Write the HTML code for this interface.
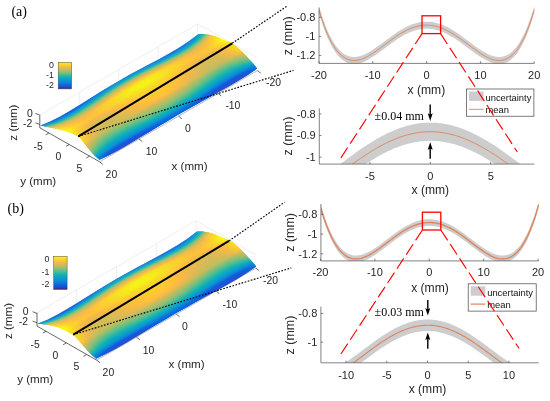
<!DOCTYPE html>
<html lang="en"><head><meta charset="utf-8"><title>Figure</title>
<style>html,body{margin:0;padding:0;background:#fff}svg{display:block}</style></head><body>
<svg width="550" height="401" viewBox="0 0 550 401">
<rect width="550" height="401" fill="#fff"/>
<line x1="39.8" y1="115.1" x2="197.7" y2="23.9" stroke="#e6e6e6" stroke-width="0.7"/>
<line x1="39.8" y1="127.8" x2="197.7" y2="36.6" stroke="#e6e6e6" stroke-width="0.7"/>
<line x1="197.7" y1="36.6" x2="197.7" y2="23.9" stroke="#e6e6e6" stroke-width="0.7"/>
<line x1="197.7" y1="23.9" x2="257.5" y2="57.9" stroke="#e6e6e6" stroke-width="0.7"/>
<line x1="197.7" y1="36.6" x2="257.5" y2="70.6" stroke="#e6e6e6" stroke-width="0.7"/>
<line x1="79.28" y1="105" x2="79.28" y2="92.3" stroke="#e6e6e6" stroke-width="0.7"/>
<line x1="118.75" y1="82.2" x2="118.75" y2="69.5" stroke="#e6e6e6" stroke-width="0.7"/>
<line x1="158.23" y1="59.4" x2="158.23" y2="46.7" stroke="#e6e6e6" stroke-width="0.7"/>
<line x1="39.8" y1="127.8" x2="39.8" y2="115.1" stroke="#262626" stroke-width="0.7"/>
<line x1="39.8" y1="127.8" x2="99.6" y2="161.8" stroke="#262626" stroke-width="0.7"/>
<line x1="99.6" y1="161.8" x2="257.5" y2="70.6" stroke="#8c8c8c" stroke-width="0.6"/>
<line x1="39.8" y1="115.1" x2="35.4" y2="113.4" stroke="#262626" stroke-width="0.7"/>
<line x1="39.8" y1="124.5" x2="35.4" y2="122.8" stroke="#262626" stroke-width="0.7"/>
<line x1="48.84" y1="132.94" x2="45.64" y2="134.84" stroke="#262626" stroke-width="0.7"/>
<line x1="69.19" y1="144.51" x2="65.99" y2="146.41" stroke="#262626" stroke-width="0.7"/>
<line x1="89.55" y1="156.08" x2="86.35" y2="157.98" stroke="#262626" stroke-width="0.7"/>
<line x1="99.6" y1="161.8" x2="102.9" y2="164.4" stroke="#262626" stroke-width="0.7"/>
<line x1="139.07" y1="139" x2="142.38" y2="141.6" stroke="#262626" stroke-width="0.7"/>
<line x1="178.55" y1="116.2" x2="181.85" y2="118.8" stroke="#262626" stroke-width="0.7"/>
<line x1="218.03" y1="93.4" x2="221.33" y2="96" stroke="#262626" stroke-width="0.7"/>
<line x1="257.5" y1="70.6" x2="260.8" y2="73.2" stroke="#262626" stroke-width="0.7"/>
<defs><linearGradient id="sa0" gradientUnits="userSpaceOnUse" x1="40.4" y1="125.6" x2="198.3" y2="34.3"><stop offset="0" stop-color="#118dd2"/><stop offset="0.05" stop-color="#0971de"/><stop offset="0.1" stop-color="#095fdf"/><stop offset="0.15" stop-color="#1b55d7"/><stop offset="0.2" stop-color="#1459da"/><stop offset="0.25" stop-color="#0363e1"/><stop offset="0.3" stop-color="#046ce0"/><stop offset="0.35" stop-color="#0c74dd"/><stop offset="0.4" stop-color="#117bd9"/><stop offset="0.45" stop-color="#137fd7"/><stop offset="0.5" stop-color="#1480d6"/><stop offset="0.55" stop-color="#137fd6"/><stop offset="0.6" stop-color="#127cd8"/><stop offset="0.65" stop-color="#0e76dc"/><stop offset="0.7" stop-color="#076fdf"/><stop offset="0.75" stop-color="#0268e1"/><stop offset="0.8" stop-color="#0760e0"/><stop offset="0.85" stop-color="#0a5fdf"/><stop offset="0.9" stop-color="#0267e1"/><stop offset="0.95" stop-color="#0e77db"/><stop offset="1" stop-color="#0b95d2"/></linearGradient><linearGradient id="sa1" gradientUnits="userSpaceOnUse" x1="41" y1="125.7" x2="198.9" y2="34.2"><stop offset="0" stop-color="#0f8fd2"/><stop offset="0.05" stop-color="#0b73dd"/><stop offset="0.1" stop-color="#0363e1"/><stop offset="0.15" stop-color="#115bdd"/><stop offset="0.2" stop-color="#0b5edf"/><stop offset="0.25" stop-color="#0267e1"/><stop offset="0.3" stop-color="#076fdf"/><stop offset="0.35" stop-color="#0e77db"/><stop offset="0.4" stop-color="#137dd8"/><stop offset="0.45" stop-color="#1482d5"/><stop offset="0.5" stop-color="#1483d4"/><stop offset="0.55" stop-color="#1482d5"/><stop offset="0.6" stop-color="#137fd7"/><stop offset="0.65" stop-color="#1079da"/><stop offset="0.7" stop-color="#0a73de"/><stop offset="0.75" stop-color="#036ce0"/><stop offset="0.8" stop-color="#0266e1"/><stop offset="0.85" stop-color="#0365e1"/><stop offset="0.9" stop-color="#036ce0"/><stop offset="0.95" stop-color="#117ad9"/><stop offset="1" stop-color="#0899d1"/></linearGradient><linearGradient id="sa2" gradientUnits="userSpaceOnUse" x1="41.7" y1="125.8" x2="199.5" y2="34.2"><stop offset="0" stop-color="#0c94d2"/><stop offset="0.05" stop-color="#0f77db"/><stop offset="0.1" stop-color="#0268e1"/><stop offset="0.15" stop-color="#0562e0"/><stop offset="0.2" stop-color="#0364e1"/><stop offset="0.25" stop-color="#036be0"/><stop offset="0.3" stop-color="#0b73dd"/><stop offset="0.35" stop-color="#117bd9"/><stop offset="0.4" stop-color="#1481d6"/><stop offset="0.45" stop-color="#1486d4"/><stop offset="0.5" stop-color="#1388d3"/><stop offset="0.55" stop-color="#1487d3"/><stop offset="0.6" stop-color="#1483d5"/><stop offset="0.65" stop-color="#137dd8"/><stop offset="0.7" stop-color="#0e76db"/><stop offset="0.75" stop-color="#0770df"/><stop offset="0.8" stop-color="#036be1"/><stop offset="0.85" stop-color="#026ae1"/><stop offset="0.9" stop-color="#0770df"/><stop offset="0.95" stop-color="#137ed7"/><stop offset="1" stop-color="#079ecf"/></linearGradient><linearGradient id="sa3" gradientUnits="userSpaceOnUse" x1="42.3" y1="125.9" x2="200.2" y2="34.1"><stop offset="0" stop-color="#089ad0"/><stop offset="0.05" stop-color="#127cd8"/><stop offset="0.1" stop-color="#056ee0"/><stop offset="0.15" stop-color="#0268e1"/><stop offset="0.2" stop-color="#036ae1"/><stop offset="0.25" stop-color="#0870df"/><stop offset="0.3" stop-color="#0f78db"/><stop offset="0.35" stop-color="#137fd7"/><stop offset="0.4" stop-color="#1486d4"/><stop offset="0.45" stop-color="#128bd2"/><stop offset="0.5" stop-color="#118dd2"/><stop offset="0.55" stop-color="#118cd2"/><stop offset="0.6" stop-color="#1388d3"/><stop offset="0.65" stop-color="#1482d5"/><stop offset="0.7" stop-color="#117bd9"/><stop offset="0.75" stop-color="#0c74dd"/><stop offset="0.8" stop-color="#0770df"/><stop offset="0.85" stop-color="#066fdf"/><stop offset="0.9" stop-color="#0c74dd"/><stop offset="0.95" stop-color="#1483d5"/><stop offset="1" stop-color="#06a2cc"/></linearGradient><linearGradient id="sa4" gradientUnits="userSpaceOnUse" x1="42.9" y1="126.1" x2="200.8" y2="34.1"><stop offset="0" stop-color="#06a0cd"/><stop offset="0.05" stop-color="#1481d5"/><stop offset="0.1" stop-color="#0b74dd"/><stop offset="0.15" stop-color="#066fdf"/><stop offset="0.2" stop-color="#0870df"/><stop offset="0.25" stop-color="#0e76dc"/><stop offset="0.3" stop-color="#137dd8"/><stop offset="0.35" stop-color="#1485d4"/><stop offset="0.4" stop-color="#118cd2"/><stop offset="0.45" stop-color="#0d92d2"/><stop offset="0.5" stop-color="#0c94d2"/><stop offset="0.55" stop-color="#0d93d2"/><stop offset="0.6" stop-color="#108ed2"/><stop offset="0.65" stop-color="#1487d3"/><stop offset="0.7" stop-color="#1480d6"/><stop offset="0.75" stop-color="#1079da"/><stop offset="0.8" stop-color="#0c74dd"/><stop offset="0.85" stop-color="#0b74dd"/><stop offset="0.9" stop-color="#1079da"/><stop offset="0.95" stop-color="#1388d3"/><stop offset="1" stop-color="#06a5c8"/></linearGradient><linearGradient id="sa5" gradientUnits="userSpaceOnUse" x1="43.5" y1="126.2" x2="201.4" y2="34.1"><stop offset="0" stop-color="#06a7c5"/><stop offset="0.05" stop-color="#118cd2"/><stop offset="0.1" stop-color="#127dd8"/><stop offset="0.15" stop-color="#0f78db"/><stop offset="0.2" stop-color="#1079da"/><stop offset="0.25" stop-color="#137ed7"/><stop offset="0.3" stop-color="#1485d4"/><stop offset="0.35" stop-color="#108ed2"/><stop offset="0.4" stop-color="#0a96d1"/><stop offset="0.45" stop-color="#079bd0"/><stop offset="0.5" stop-color="#079dcf"/><stop offset="0.55" stop-color="#079bd0"/><stop offset="0.6" stop-color="#0a97d1"/><stop offset="0.65" stop-color="#108fd2"/><stop offset="0.7" stop-color="#1486d3"/><stop offset="0.75" stop-color="#137fd7"/><stop offset="0.8" stop-color="#117ad9"/><stop offset="0.85" stop-color="#1079da"/><stop offset="0.9" stop-color="#137ed7"/><stop offset="0.95" stop-color="#108ed2"/><stop offset="1" stop-color="#07a9c3"/></linearGradient><linearGradient id="sa6" gradientUnits="userSpaceOnUse" x1="44.1" y1="126.3" x2="202" y2="34.1"><stop offset="0" stop-color="#10afb8"/><stop offset="0.05" stop-color="#089ad1"/><stop offset="0.1" stop-color="#1388d3"/><stop offset="0.15" stop-color="#1482d5"/><stop offset="0.2" stop-color="#1483d5"/><stop offset="0.25" stop-color="#1388d3"/><stop offset="0.3" stop-color="#0e91d2"/><stop offset="0.35" stop-color="#089ad1"/><stop offset="0.4" stop-color="#06a0cd"/><stop offset="0.45" stop-color="#06a3ca"/><stop offset="0.5" stop-color="#06a4c9"/><stop offset="0.55" stop-color="#06a3cb"/><stop offset="0.6" stop-color="#069fce"/><stop offset="0.65" stop-color="#0998d1"/><stop offset="0.7" stop-color="#108fd2"/><stop offset="0.75" stop-color="#1486d4"/><stop offset="0.8" stop-color="#1481d6"/><stop offset="0.85" stop-color="#137fd7"/><stop offset="0.9" stop-color="#1484d4"/><stop offset="0.95" stop-color="#0b95d1"/><stop offset="1" stop-color="#0bacbd"/></linearGradient><linearGradient id="sa7" gradientUnits="userSpaceOnUse" x1="44.8" y1="126.4" x2="202.6" y2="34.1"><stop offset="0" stop-color="#24b5aa"/><stop offset="0.05" stop-color="#06a4ca"/><stop offset="0.1" stop-color="#0c94d2"/><stop offset="0.15" stop-color="#118dd2"/><stop offset="0.2" stop-color="#108ed2"/><stop offset="0.25" stop-color="#0c94d2"/><stop offset="0.3" stop-color="#079cd0"/><stop offset="0.35" stop-color="#06a2cb"/><stop offset="0.4" stop-color="#06a7c6"/><stop offset="0.45" stop-color="#07a9c2"/><stop offset="0.5" stop-color="#07aac1"/><stop offset="0.55" stop-color="#06a9c3"/><stop offset="0.6" stop-color="#06a5c8"/><stop offset="0.65" stop-color="#06a0cd"/><stop offset="0.7" stop-color="#0998d1"/><stop offset="0.75" stop-color="#108ed2"/><stop offset="0.8" stop-color="#1388d3"/><stop offset="0.85" stop-color="#1486d4"/><stop offset="0.9" stop-color="#128bd2"/><stop offset="0.95" stop-color="#079cd0"/><stop offset="1" stop-color="#13b0b6"/></linearGradient><linearGradient id="sa8" gradientUnits="userSpaceOnUse" x1="45.4" y1="126.6" x2="203.2" y2="34.1"><stop offset="0" stop-color="#38b99d"/><stop offset="0.05" stop-color="#07aac1"/><stop offset="0.1" stop-color="#069ece"/><stop offset="0.15" stop-color="#0998d1"/><stop offset="0.2" stop-color="#0899d1"/><stop offset="0.25" stop-color="#079ecf"/><stop offset="0.3" stop-color="#06a3ca"/><stop offset="0.35" stop-color="#06a8c4"/><stop offset="0.4" stop-color="#0aacbe"/><stop offset="0.45" stop-color="#0eaeba"/><stop offset="0.5" stop-color="#0faeb9"/><stop offset="0.55" stop-color="#0dadbb"/><stop offset="0.6" stop-color="#08aac0"/><stop offset="0.65" stop-color="#06a6c7"/><stop offset="0.7" stop-color="#069fce"/><stop offset="0.75" stop-color="#0a97d1"/><stop offset="0.8" stop-color="#0f90d2"/><stop offset="0.85" stop-color="#118dd2"/><stop offset="0.9" stop-color="#0c93d2"/><stop offset="0.95" stop-color="#06a2cb"/><stop offset="1" stop-color="#1eb3ae"/></linearGradient><linearGradient id="sa9" gradientUnits="userSpaceOnUse" x1="46" y1="126.7" x2="203.9" y2="34.1"><stop offset="0" stop-color="#50bc90"/><stop offset="0.05" stop-color="#11afb7"/><stop offset="0.1" stop-color="#06a5c8"/><stop offset="0.15" stop-color="#06a1cd"/><stop offset="0.2" stop-color="#06a1cc"/><stop offset="0.25" stop-color="#06a5c9"/><stop offset="0.3" stop-color="#07a9c2"/><stop offset="0.35" stop-color="#0dadbb"/><stop offset="0.4" stop-color="#15b0b4"/><stop offset="0.45" stop-color="#1bb2b0"/><stop offset="0.5" stop-color="#1cb3af"/><stop offset="0.55" stop-color="#18b2b2"/><stop offset="0.6" stop-color="#10afb8"/><stop offset="0.65" stop-color="#08abc0"/><stop offset="0.7" stop-color="#06a5c8"/><stop offset="0.75" stop-color="#069fce"/><stop offset="0.8" stop-color="#0998d1"/><stop offset="0.85" stop-color="#0a96d1"/><stop offset="0.9" stop-color="#079bd0"/><stop offset="0.95" stop-color="#06a7c5"/><stop offset="1" stop-color="#2bb6a5"/></linearGradient><linearGradient id="sa10" gradientUnits="userSpaceOnUse" x1="46.6" y1="126.8" x2="204.5" y2="34.1"><stop offset="0" stop-color="#69be84"/><stop offset="0.05" stop-color="#20b4ad"/><stop offset="0.1" stop-color="#09abbf"/><stop offset="0.15" stop-color="#06a7c6"/><stop offset="0.2" stop-color="#06a7c5"/><stop offset="0.25" stop-color="#08aac0"/><stop offset="0.3" stop-color="#0faeb9"/><stop offset="0.35" stop-color="#1ab2b1"/><stop offset="0.4" stop-color="#24b5aa"/><stop offset="0.45" stop-color="#2bb6a5"/><stop offset="0.5" stop-color="#2db7a5"/><stop offset="0.55" stop-color="#28b6a8"/><stop offset="0.6" stop-color="#1eb3ae"/><stop offset="0.65" stop-color="#11afb7"/><stop offset="0.7" stop-color="#08aac0"/><stop offset="0.75" stop-color="#06a5c8"/><stop offset="0.8" stop-color="#06a0cd"/><stop offset="0.85" stop-color="#069ece"/><stop offset="0.9" stop-color="#06a2cb"/><stop offset="0.95" stop-color="#0aacbe"/><stop offset="1" stop-color="#3cba9b"/></linearGradient><linearGradient id="sa11" gradientUnits="userSpaceOnUse" x1="47.2" y1="126.9" x2="205.1" y2="34.2"><stop offset="0" stop-color="#81bf7a"/><stop offset="0.05" stop-color="#32b8a1"/><stop offset="0.1" stop-color="#13b0b6"/><stop offset="0.15" stop-color="#0bacbd"/><stop offset="0.2" stop-color="#0badbc"/><stop offset="0.25" stop-color="#11afb7"/><stop offset="0.3" stop-color="#1cb3af"/><stop offset="0.35" stop-color="#2ab6a6"/><stop offset="0.4" stop-color="#36b99f"/><stop offset="0.45" stop-color="#3fba9a"/><stop offset="0.5" stop-color="#40ba99"/><stop offset="0.55" stop-color="#3bb99c"/><stop offset="0.6" stop-color="#2fb7a3"/><stop offset="0.65" stop-color="#20b4ad"/><stop offset="0.7" stop-color="#11afb7"/><stop offset="0.75" stop-color="#08aac0"/><stop offset="0.8" stop-color="#06a6c7"/><stop offset="0.85" stop-color="#06a5c9"/><stop offset="0.9" stop-color="#06a8c4"/><stop offset="0.95" stop-color="#15b0b5"/><stop offset="1" stop-color="#52bd8f"/></linearGradient><linearGradient id="sa12" gradientUnits="userSpaceOnUse" x1="47.9" y1="127.1" x2="205.7" y2="34.3"><stop offset="0" stop-color="#95bf71"/><stop offset="0.05" stop-color="#47bb95"/><stop offset="0.1" stop-color="#22b4ac"/><stop offset="0.15" stop-color="#16b1b3"/><stop offset="0.2" stop-color="#17b1b3"/><stop offset="0.25" stop-color="#20b4ad"/><stop offset="0.3" stop-color="#2db7a4"/><stop offset="0.35" stop-color="#3dba9b"/><stop offset="0.4" stop-color="#4cbc92"/><stop offset="0.45" stop-color="#55bd8d"/><stop offset="0.5" stop-color="#57bd8c"/><stop offset="0.55" stop-color="#51bc90"/><stop offset="0.6" stop-color="#43bb97"/><stop offset="0.65" stop-color="#31b8a2"/><stop offset="0.7" stop-color="#20b4ad"/><stop offset="0.75" stop-color="#11afb7"/><stop offset="0.8" stop-color="#09acbe"/><stop offset="0.85" stop-color="#08aac0"/><stop offset="0.9" stop-color="#0cadbb"/><stop offset="0.95" stop-color="#24b5aa"/><stop offset="1" stop-color="#6abe83"/></linearGradient><linearGradient id="sa13" gradientUnits="userSpaceOnUse" x1="48.5" y1="127.2" x2="206.3" y2="34.3"><stop offset="0" stop-color="#a7be6a"/><stop offset="0.05" stop-color="#5dbe8a"/><stop offset="0.1" stop-color="#33b8a1"/><stop offset="0.15" stop-color="#25b5a9"/><stop offset="0.2" stop-color="#26b5a9"/><stop offset="0.25" stop-color="#31b8a2"/><stop offset="0.3" stop-color="#40ba99"/><stop offset="0.35" stop-color="#53bd8f"/><stop offset="0.4" stop-color="#63be87"/><stop offset="0.45" stop-color="#6dbf82"/><stop offset="0.5" stop-color="#6fbf81"/><stop offset="0.55" stop-color="#68be84"/><stop offset="0.6" stop-color="#5abd8b"/><stop offset="0.65" stop-color="#46bb96"/><stop offset="0.7" stop-color="#31b8a2"/><stop offset="0.75" stop-color="#20b4ad"/><stop offset="0.8" stop-color="#15b0b5"/><stop offset="0.85" stop-color="#12afb7"/><stop offset="0.9" stop-color="#19b2b1"/><stop offset="0.95" stop-color="#37b99e"/><stop offset="1" stop-color="#82bf79"/></linearGradient><linearGradient id="sa14" gradientUnits="userSpaceOnUse" x1="49.1" y1="127.3" x2="206.9" y2="34.4"><stop offset="0" stop-color="#b8bd63"/><stop offset="0.05" stop-color="#73bf7f"/><stop offset="0.1" stop-color="#46bb95"/><stop offset="0.15" stop-color="#37b99e"/><stop offset="0.2" stop-color="#38b99e"/><stop offset="0.25" stop-color="#44bb97"/><stop offset="0.3" stop-color="#56bd8d"/><stop offset="0.35" stop-color="#6abe84"/><stop offset="0.4" stop-color="#79bf7d"/><stop offset="0.45" stop-color="#83bf79"/><stop offset="0.5" stop-color="#85bf78"/><stop offset="0.55" stop-color="#7fbf7a"/><stop offset="0.6" stop-color="#71bf80"/><stop offset="0.65" stop-color="#5dbe8a"/><stop offset="0.7" stop-color="#45bb96"/><stop offset="0.75" stop-color="#31b8a2"/><stop offset="0.8" stop-color="#24b5aa"/><stop offset="0.85" stop-color="#20b4ad"/><stop offset="0.9" stop-color="#2ab6a7"/><stop offset="0.95" stop-color="#4dbc92"/><stop offset="1" stop-color="#97bf71"/></linearGradient><linearGradient id="sa15" gradientUnits="userSpaceOnUse" x1="49.7" y1="127.5" x2="207.6" y2="34.5"><stop offset="0" stop-color="#c8bc5d"/><stop offset="0.05" stop-color="#87bf77"/><stop offset="0.1" stop-color="#5bbd8a"/><stop offset="0.15" stop-color="#4abc93"/><stop offset="0.2" stop-color="#4cbc92"/><stop offset="0.25" stop-color="#59bd8b"/><stop offset="0.3" stop-color="#6cbf82"/><stop offset="0.35" stop-color="#7fbf7a"/><stop offset="0.4" stop-color="#8ebf74"/><stop offset="0.45" stop-color="#96bf71"/><stop offset="0.5" stop-color="#98bf70"/><stop offset="0.55" stop-color="#93bf72"/><stop offset="0.6" stop-color="#87bf77"/><stop offset="0.65" stop-color="#74bf7f"/><stop offset="0.7" stop-color="#5cbe8a"/><stop offset="0.75" stop-color="#46bb96"/><stop offset="0.8" stop-color="#36b99f"/><stop offset="0.85" stop-color="#32b8a2"/><stop offset="0.9" stop-color="#3dba9b"/><stop offset="0.95" stop-color="#64be86"/><stop offset="1" stop-color="#aabe69"/></linearGradient><linearGradient id="sa16" gradientUnits="userSpaceOnUse" x1="50.3" y1="127.6" x2="208.2" y2="34.6"><stop offset="0" stop-color="#d6ba57"/><stop offset="0.05" stop-color="#99bf70"/><stop offset="0.1" stop-color="#70bf81"/><stop offset="0.15" stop-color="#5fbe89"/><stop offset="0.2" stop-color="#61be88"/><stop offset="0.25" stop-color="#6fbf81"/><stop offset="0.3" stop-color="#81bf79"/><stop offset="0.35" stop-color="#93bf72"/><stop offset="0.4" stop-color="#a0be6d"/><stop offset="0.45" stop-color="#a8be69"/><stop offset="0.5" stop-color="#aabe69"/><stop offset="0.55" stop-color="#a6be6b"/><stop offset="0.6" stop-color="#9bbf6f"/><stop offset="0.65" stop-color="#89bf76"/><stop offset="0.7" stop-color="#73bf7f"/><stop offset="0.75" stop-color="#5dbe8a"/><stop offset="0.8" stop-color="#4cbc92"/><stop offset="0.85" stop-color="#46bb95"/><stop offset="0.9" stop-color="#54bd8e"/><stop offset="0.95" stop-color="#7cbf7b"/><stop offset="1" stop-color="#bdbd61"/></linearGradient><linearGradient id="sa17" gradientUnits="userSpaceOnUse" x1="51" y1="127.7" x2="208.8" y2="34.7"><stop offset="0" stop-color="#e3b951"/><stop offset="0.05" stop-color="#a9be69"/><stop offset="0.1" stop-color="#83bf79"/><stop offset="0.15" stop-color="#73bf7f"/><stop offset="0.2" stop-color="#75bf7e"/><stop offset="0.25" stop-color="#82bf79"/><stop offset="0.3" stop-color="#94bf72"/><stop offset="0.35" stop-color="#a4be6b"/><stop offset="0.4" stop-color="#b1bd66"/><stop offset="0.45" stop-color="#b9bd63"/><stop offset="0.5" stop-color="#bbbd62"/><stop offset="0.55" stop-color="#b6bd64"/><stop offset="0.6" stop-color="#acbe68"/><stop offset="0.65" stop-color="#9cbf6e"/><stop offset="0.7" stop-color="#89bf76"/><stop offset="0.75" stop-color="#74bf7f"/><stop offset="0.8" stop-color="#63be87"/><stop offset="0.85" stop-color="#5dbe89"/><stop offset="0.9" stop-color="#6bbf83"/><stop offset="0.95" stop-color="#92bf72"/><stop offset="1" stop-color="#cebb5a"/></linearGradient><linearGradient id="sa18" gradientUnits="userSpaceOnUse" x1="51.6" y1="127.8" x2="209.4" y2="34.9"><stop offset="0" stop-color="#efb94b"/><stop offset="0.05" stop-color="#b7bd64"/><stop offset="0.1" stop-color="#94bf72"/><stop offset="0.15" stop-color="#85bf78"/><stop offset="0.2" stop-color="#87bf77"/><stop offset="0.25" stop-color="#93bf72"/><stop offset="0.3" stop-color="#a4be6b"/><stop offset="0.35" stop-color="#b3bd65"/><stop offset="0.4" stop-color="#c0bc60"/><stop offset="0.45" stop-color="#c7bc5d"/><stop offset="0.5" stop-color="#c9bb5c"/><stop offset="0.55" stop-color="#c5bc5e"/><stop offset="0.6" stop-color="#bcbd62"/><stop offset="0.65" stop-color="#adbe68"/><stop offset="0.7" stop-color="#9bbf6f"/><stop offset="0.75" stop-color="#88bf77"/><stop offset="0.8" stop-color="#78bf7d"/><stop offset="0.85" stop-color="#73bf7f"/><stop offset="0.9" stop-color="#81bf7a"/><stop offset="0.95" stop-color="#a4be6b"/><stop offset="1" stop-color="#ddba54"/></linearGradient><linearGradient id="sa19" gradientUnits="userSpaceOnUse" x1="52.2" y1="128" x2="210" y2="35"><stop offset="0" stop-color="#fabb42"/><stop offset="0.05" stop-color="#c3bc5f"/><stop offset="0.1" stop-color="#a2be6c"/><stop offset="0.15" stop-color="#95bf71"/><stop offset="0.2" stop-color="#97bf71"/><stop offset="0.25" stop-color="#a2be6c"/><stop offset="0.3" stop-color="#b2bd66"/><stop offset="0.35" stop-color="#c1bc60"/><stop offset="0.4" stop-color="#cdbb5b"/><stop offset="0.45" stop-color="#d4bb58"/><stop offset="0.5" stop-color="#d7ba57"/><stop offset="0.55" stop-color="#d3bb58"/><stop offset="0.6" stop-color="#cabb5c"/><stop offset="0.65" stop-color="#bcbd62"/><stop offset="0.7" stop-color="#aabe69"/><stop offset="0.75" stop-color="#99bf70"/><stop offset="0.8" stop-color="#8abf76"/><stop offset="0.85" stop-color="#86bf77"/><stop offset="0.9" stop-color="#93bf72"/><stop offset="0.95" stop-color="#b4bd65"/><stop offset="1" stop-color="#ebb94d"/></linearGradient><linearGradient id="sa20" gradientUnits="userSpaceOnUse" x1="52.8" y1="128.1" x2="210.6" y2="35.1"><stop offset="0" stop-color="#fec139"/><stop offset="0.05" stop-color="#cfbb5a"/><stop offset="0.1" stop-color="#afbe67"/><stop offset="0.15" stop-color="#a2be6c"/><stop offset="0.2" stop-color="#a4be6b"/><stop offset="0.25" stop-color="#b0be67"/><stop offset="0.3" stop-color="#bebc61"/><stop offset="0.35" stop-color="#cdbb5b"/><stop offset="0.4" stop-color="#d9ba56"/><stop offset="0.45" stop-color="#e0ba52"/><stop offset="0.5" stop-color="#e3b951"/><stop offset="0.55" stop-color="#dfba53"/><stop offset="0.6" stop-color="#d6ba57"/><stop offset="0.65" stop-color="#c8bc5d"/><stop offset="0.7" stop-color="#b8bd63"/><stop offset="0.75" stop-color="#a7be6a"/><stop offset="0.8" stop-color="#9abf6f"/><stop offset="0.85" stop-color="#96bf71"/><stop offset="0.9" stop-color="#a2be6c"/><stop offset="0.95" stop-color="#c1bc5f"/><stop offset="1" stop-color="#f7ba45"/></linearGradient><linearGradient id="sa21" gradientUnits="userSpaceOnUse" x1="53.4" y1="128.2" x2="211.3" y2="35.3"><stop offset="0" stop-color="#fec535"/><stop offset="0.05" stop-color="#daba55"/><stop offset="0.1" stop-color="#bbbd62"/><stop offset="0.15" stop-color="#afbe67"/><stop offset="0.2" stop-color="#b1bd66"/><stop offset="0.25" stop-color="#bcbd62"/><stop offset="0.3" stop-color="#cabb5c"/><stop offset="0.35" stop-color="#d8ba56"/><stop offset="0.4" stop-color="#e4b950"/><stop offset="0.45" stop-color="#ecb94d"/><stop offset="0.5" stop-color="#eeb94b"/><stop offset="0.55" stop-color="#eab94d"/><stop offset="0.6" stop-color="#e1b952"/><stop offset="0.65" stop-color="#d4bb58"/><stop offset="0.7" stop-color="#c4bc5e"/><stop offset="0.75" stop-color="#b4bd65"/><stop offset="0.8" stop-color="#a8be6a"/><stop offset="0.85" stop-color="#a4be6b"/><stop offset="0.9" stop-color="#afbe67"/><stop offset="0.95" stop-color="#cebb5b"/><stop offset="1" stop-color="#febf3c"/></linearGradient><linearGradient id="sa22" gradientUnits="userSpaceOnUse" x1="54.1" y1="128.3" x2="211.9" y2="35.4"><stop offset="0" stop-color="#fec932"/><stop offset="0.05" stop-color="#e5b950"/><stop offset="0.1" stop-color="#c6bc5d"/><stop offset="0.15" stop-color="#bbbd62"/><stop offset="0.2" stop-color="#bdbd61"/><stop offset="0.25" stop-color="#c7bc5d"/><stop offset="0.3" stop-color="#d5ba57"/><stop offset="0.35" stop-color="#e3b951"/><stop offset="0.4" stop-color="#efb94b"/><stop offset="0.45" stop-color="#f6ba46"/><stop offset="0.5" stop-color="#f8ba44"/><stop offset="0.55" stop-color="#f5ba47"/><stop offset="0.6" stop-color="#ecb94c"/><stop offset="0.65" stop-color="#dfba53"/><stop offset="0.7" stop-color="#d0bb5a"/><stop offset="0.75" stop-color="#c0bc60"/><stop offset="0.8" stop-color="#b4bd65"/><stop offset="0.85" stop-color="#b0bd66"/><stop offset="0.9" stop-color="#bbbd62"/><stop offset="0.95" stop-color="#d9ba56"/><stop offset="1" stop-color="#fec734"/></linearGradient><linearGradient id="sa23" gradientUnits="userSpaceOnUse" x1="54.7" y1="128.5" x2="212.5" y2="35.6"><stop offset="0" stop-color="#fdcc2f"/><stop offset="0.05" stop-color="#ecb94c"/><stop offset="0.1" stop-color="#d1bb59"/><stop offset="0.15" stop-color="#c5bc5e"/><stop offset="0.2" stop-color="#c7bc5d"/><stop offset="0.25" stop-color="#d2bb59"/><stop offset="0.3" stop-color="#dfba53"/><stop offset="0.35" stop-color="#edb94c"/><stop offset="0.4" stop-color="#f8bb44"/><stop offset="0.45" stop-color="#fdbe3e"/><stop offset="0.5" stop-color="#febf3c"/><stop offset="0.55" stop-color="#fcbd3f"/><stop offset="0.6" stop-color="#f6ba46"/><stop offset="0.65" stop-color="#eab94e"/><stop offset="0.7" stop-color="#daba55"/><stop offset="0.75" stop-color="#cbbb5b"/><stop offset="0.8" stop-color="#c0bc60"/><stop offset="0.85" stop-color="#bcbd62"/><stop offset="0.9" stop-color="#c7bc5d"/><stop offset="0.95" stop-color="#e4b951"/><stop offset="1" stop-color="#fdcc2f"/></linearGradient><linearGradient id="sa24" gradientUnits="userSpaceOnUse" x1="55.3" y1="128.6" x2="213.1" y2="35.7"><stop offset="0" stop-color="#fbcf2d"/><stop offset="0.05" stop-color="#f1b94a"/><stop offset="0.1" stop-color="#dbba55"/><stop offset="0.15" stop-color="#cfbb5a"/><stop offset="0.2" stop-color="#d1bb59"/><stop offset="0.25" stop-color="#dcba54"/><stop offset="0.3" stop-color="#e9b94e"/><stop offset="0.35" stop-color="#f7ba45"/><stop offset="0.4" stop-color="#febf3c"/><stop offset="0.45" stop-color="#ffc436"/><stop offset="0.5" stop-color="#fec635"/><stop offset="0.55" stop-color="#ffc437"/><stop offset="0.6" stop-color="#fdbe3d"/><stop offset="0.65" stop-color="#f4ba47"/><stop offset="0.7" stop-color="#e5b950"/><stop offset="0.75" stop-color="#d6ba57"/><stop offset="0.8" stop-color="#cbbb5c"/><stop offset="0.85" stop-color="#c8bc5d"/><stop offset="0.9" stop-color="#d2bb59"/><stop offset="0.95" stop-color="#efb94b"/><stop offset="1" stop-color="#fbcf2d"/></linearGradient><linearGradient id="sa25" gradientUnits="userSpaceOnUse" x1="55.9" y1="128.7" x2="213.7" y2="35.9"><stop offset="0" stop-color="#fad22a"/><stop offset="0.05" stop-color="#f5ba46"/><stop offset="0.1" stop-color="#e2b952"/><stop offset="0.15" stop-color="#d9ba55"/><stop offset="0.2" stop-color="#dbba55"/><stop offset="0.25" stop-color="#e6b950"/><stop offset="0.3" stop-color="#f3ba48"/><stop offset="0.35" stop-color="#fdbe3d"/><stop offset="0.4" stop-color="#fec634"/><stop offset="0.45" stop-color="#fdcb30"/><stop offset="0.5" stop-color="#fccd2f"/><stop offset="0.55" stop-color="#fdcb30"/><stop offset="0.6" stop-color="#fec535"/><stop offset="0.65" stop-color="#fcbd3f"/><stop offset="0.7" stop-color="#f0b94a"/><stop offset="0.75" stop-color="#e2b952"/><stop offset="0.8" stop-color="#d7ba57"/><stop offset="0.85" stop-color="#d4bb58"/><stop offset="0.9" stop-color="#deba53"/><stop offset="0.95" stop-color="#f5ba46"/><stop offset="1" stop-color="#fad22a"/></linearGradient><linearGradient id="sa26" gradientUnits="userSpaceOnUse" x1="56.6" y1="128.9" x2="214.3" y2="36.1"><stop offset="0" stop-color="#f8d528"/><stop offset="0.05" stop-color="#f9bb43"/><stop offset="0.1" stop-color="#e7b94f"/><stop offset="0.15" stop-color="#e4b951"/><stop offset="0.2" stop-color="#e6b950"/><stop offset="0.25" stop-color="#f0b94a"/><stop offset="0.3" stop-color="#fbbd40"/><stop offset="0.35" stop-color="#fec535"/><stop offset="0.4" stop-color="#fccd2e"/><stop offset="0.45" stop-color="#fad22a"/><stop offset="0.5" stop-color="#f9d429"/><stop offset="0.55" stop-color="#fad22a"/><stop offset="0.6" stop-color="#fccc2f"/><stop offset="0.65" stop-color="#ffc436"/><stop offset="0.7" stop-color="#fabc42"/><stop offset="0.75" stop-color="#edb94c"/><stop offset="0.8" stop-color="#e2b951"/><stop offset="0.85" stop-color="#dfba53"/><stop offset="0.9" stop-color="#e7b94f"/><stop offset="0.95" stop-color="#f9bb43"/><stop offset="1" stop-color="#f8d528"/></linearGradient><linearGradient id="sa27" gradientUnits="userSpaceOnUse" x1="57.2" y1="129" x2="215" y2="36.3"><stop offset="0" stop-color="#f7d825"/><stop offset="0.05" stop-color="#fcbd3f"/><stop offset="0.1" stop-color="#ebb94d"/><stop offset="0.15" stop-color="#e9b94e"/><stop offset="0.2" stop-color="#f0b94a"/><stop offset="0.25" stop-color="#f9bb43"/><stop offset="0.3" stop-color="#ffc338"/><stop offset="0.35" stop-color="#fdcc2f"/><stop offset="0.4" stop-color="#f9d429"/><stop offset="0.45" stop-color="#f7d925"/><stop offset="0.5" stop-color="#f6db24"/><stop offset="0.55" stop-color="#f7d925"/><stop offset="0.6" stop-color="#f9d329"/><stop offset="0.65" stop-color="#fdcb30"/><stop offset="0.7" stop-color="#fec139"/><stop offset="0.75" stop-color="#f7ba45"/><stop offset="0.8" stop-color="#edb94c"/><stop offset="0.85" stop-color="#e9b94e"/><stop offset="0.9" stop-color="#ebb94d"/><stop offset="0.95" stop-color="#fcbd3f"/><stop offset="1" stop-color="#f7d825"/></linearGradient><linearGradient id="sa28" gradientUnits="userSpaceOnUse" x1="57.8" y1="129.2" x2="215.6" y2="36.5"><stop offset="0" stop-color="#f6dc23"/><stop offset="0.05" stop-color="#febf3c"/><stop offset="0.1" stop-color="#efb94b"/><stop offset="0.15" stop-color="#ecb94c"/><stop offset="0.2" stop-color="#f5ba46"/><stop offset="0.25" stop-color="#fec03b"/><stop offset="0.3" stop-color="#fec932"/><stop offset="0.35" stop-color="#fad22a"/><stop offset="0.4" stop-color="#f7da24"/><stop offset="0.45" stop-color="#f5e020"/><stop offset="0.5" stop-color="#f5e21f"/><stop offset="0.55" stop-color="#f5df20"/><stop offset="0.6" stop-color="#f7d925"/><stop offset="0.65" stop-color="#fbd12b"/><stop offset="0.7" stop-color="#fec734"/><stop offset="0.75" stop-color="#fdbe3e"/><stop offset="0.8" stop-color="#f5ba46"/><stop offset="0.85" stop-color="#ecb94c"/><stop offset="0.9" stop-color="#efb94b"/><stop offset="0.95" stop-color="#febf3c"/><stop offset="1" stop-color="#f6dc23"/></linearGradient><linearGradient id="sa29" gradientUnits="userSpaceOnUse" x1="58.4" y1="129.3" x2="216.2" y2="36.7"><stop offset="0" stop-color="#f5df21"/><stop offset="0.05" stop-color="#fec239"/><stop offset="0.1" stop-color="#f3b948"/><stop offset="0.15" stop-color="#f0b94a"/><stop offset="0.2" stop-color="#f8bb44"/><stop offset="0.25" stop-color="#ffc337"/><stop offset="0.3" stop-color="#fccd2e"/><stop offset="0.35" stop-color="#f8d627"/><stop offset="0.4" stop-color="#f5df21"/><stop offset="0.45" stop-color="#f5e51c"/><stop offset="0.5" stop-color="#f5e71b"/><stop offset="0.55" stop-color="#f5e41d"/><stop offset="0.6" stop-color="#f5de21"/><stop offset="0.65" stop-color="#f9d528"/><stop offset="0.7" stop-color="#fdcb30"/><stop offset="0.75" stop-color="#fec239"/><stop offset="0.8" stop-color="#f8bb44"/><stop offset="0.85" stop-color="#f0b94a"/><stop offset="0.9" stop-color="#f3b948"/><stop offset="0.95" stop-color="#fec239"/><stop offset="1" stop-color="#f5df21"/></linearGradient><linearGradient id="sa30" gradientUnits="userSpaceOnUse" x1="59" y1="129.5" x2="216.8" y2="37"><stop offset="0" stop-color="#f5e21f"/><stop offset="0.05" stop-color="#ffc536"/><stop offset="0.1" stop-color="#f6ba46"/><stop offset="0.15" stop-color="#f3ba48"/><stop offset="0.2" stop-color="#fabc41"/><stop offset="0.25" stop-color="#fec536"/><stop offset="0.3" stop-color="#fbd02c"/><stop offset="0.35" stop-color="#f7da25"/><stop offset="0.4" stop-color="#f5e31e"/><stop offset="0.45" stop-color="#f5e919"/><stop offset="0.5" stop-color="#f5eb18"/><stop offset="0.55" stop-color="#f5e91a"/><stop offset="0.6" stop-color="#f5e21f"/><stop offset="0.65" stop-color="#f7d925"/><stop offset="0.7" stop-color="#fbcf2d"/><stop offset="0.75" stop-color="#fec536"/><stop offset="0.8" stop-color="#fabc41"/><stop offset="0.85" stop-color="#f3ba48"/><stop offset="0.9" stop-color="#f6ba46"/><stop offset="0.95" stop-color="#ffc536"/><stop offset="1" stop-color="#f5e21f"/></linearGradient><linearGradient id="sa31" gradientUnits="userSpaceOnUse" x1="59.7" y1="129.6" x2="217.4" y2="37.2"><stop offset="0" stop-color="#f5e51d"/><stop offset="0.05" stop-color="#fec734"/><stop offset="0.1" stop-color="#f9bb43"/><stop offset="0.15" stop-color="#f6ba46"/><stop offset="0.2" stop-color="#fcbd3f"/><stop offset="0.25" stop-color="#fec634"/><stop offset="0.3" stop-color="#fad12b"/><stop offset="0.35" stop-color="#f6db23"/><stop offset="0.4" stop-color="#f5e51d"/><stop offset="0.45" stop-color="#f5ec18"/><stop offset="0.5" stop-color="#f5ee16"/><stop offset="0.55" stop-color="#f5ec18"/><stop offset="0.6" stop-color="#f5e51d"/><stop offset="0.65" stop-color="#f6db23"/><stop offset="0.7" stop-color="#fad12b"/><stop offset="0.75" stop-color="#fec634"/><stop offset="0.8" stop-color="#fcbd3f"/><stop offset="0.85" stop-color="#f6ba46"/><stop offset="0.9" stop-color="#f9bb43"/><stop offset="0.95" stop-color="#fec734"/><stop offset="1" stop-color="#f5e51d"/></linearGradient><linearGradient id="sa32" gradientUnits="userSpaceOnUse" x1="60.3" y1="129.8" x2="218" y2="37.4"><stop offset="0" stop-color="#f5e81a"/><stop offset="0.05" stop-color="#fec931"/><stop offset="0.1" stop-color="#fbbc40"/><stop offset="0.15" stop-color="#f9bb44"/><stop offset="0.2" stop-color="#fdbe3d"/><stop offset="0.25" stop-color="#fec833"/><stop offset="0.3" stop-color="#fad22a"/><stop offset="0.35" stop-color="#f6dd22"/><stop offset="0.4" stop-color="#f5e61b"/><stop offset="0.45" stop-color="#f5ee16"/><stop offset="0.5" stop-color="#f6f115"/><stop offset="0.55" stop-color="#f5ee16"/><stop offset="0.6" stop-color="#f5e71b"/><stop offset="0.65" stop-color="#f6de22"/><stop offset="0.7" stop-color="#fad32a"/><stop offset="0.75" stop-color="#fec833"/><stop offset="0.8" stop-color="#fdbe3d"/><stop offset="0.85" stop-color="#f9bb44"/><stop offset="0.9" stop-color="#fbbc40"/><stop offset="0.95" stop-color="#fec931"/><stop offset="1" stop-color="#f5e81a"/></linearGradient><linearGradient id="sa33" gradientUnits="userSpaceOnUse" x1="60.9" y1="129.9" x2="218.7" y2="37.7"><stop offset="0" stop-color="#f5eb18"/><stop offset="0.05" stop-color="#fdcb30"/><stop offset="0.1" stop-color="#fdbe3e"/><stop offset="0.15" stop-color="#fabc41"/><stop offset="0.2" stop-color="#fec03b"/><stop offset="0.25" stop-color="#fec932"/><stop offset="0.3" stop-color="#fad329"/><stop offset="0.35" stop-color="#f6dd22"/><stop offset="0.4" stop-color="#f5e81b"/><stop offset="0.45" stop-color="#f6ef15"/><stop offset="0.5" stop-color="#f6f213"/><stop offset="0.55" stop-color="#f6f015"/><stop offset="0.6" stop-color="#f5e81a"/><stop offset="0.65" stop-color="#f5de21"/><stop offset="0.7" stop-color="#f9d329"/><stop offset="0.75" stop-color="#fec932"/><stop offset="0.8" stop-color="#fec03b"/><stop offset="0.85" stop-color="#fabc41"/><stop offset="0.9" stop-color="#fdbe3e"/><stop offset="0.95" stop-color="#fdcb30"/><stop offset="1" stop-color="#f5eb18"/></linearGradient><linearGradient id="sa34" gradientUnits="userSpaceOnUse" x1="61.5" y1="130.1" x2="219.3" y2="38"><stop offset="0" stop-color="#f5ee16"/><stop offset="0.05" stop-color="#fccd2e"/><stop offset="0.1" stop-color="#febf3c"/><stop offset="0.15" stop-color="#fcbd3f"/><stop offset="0.2" stop-color="#fec13a"/><stop offset="0.25" stop-color="#fdca31"/><stop offset="0.3" stop-color="#f9d429"/><stop offset="0.35" stop-color="#f5de21"/><stop offset="0.4" stop-color="#f5e81a"/><stop offset="0.45" stop-color="#f6f015"/><stop offset="0.5" stop-color="#f6f213"/><stop offset="0.55" stop-color="#f6f015"/><stop offset="0.6" stop-color="#f5e81a"/><stop offset="0.65" stop-color="#f5de21"/><stop offset="0.7" stop-color="#f9d429"/><stop offset="0.75" stop-color="#fdca31"/><stop offset="0.8" stop-color="#fec13a"/><stop offset="0.85" stop-color="#fcbd3f"/><stop offset="0.9" stop-color="#febf3c"/><stop offset="0.95" stop-color="#fccd2e"/><stop offset="1" stop-color="#f5ee16"/></linearGradient><linearGradient id="sa35" gradientUnits="userSpaceOnUse" x1="62.1" y1="130.2" x2="219.9" y2="38.2"><stop offset="0" stop-color="#f6f114"/><stop offset="0.05" stop-color="#fbcf2c"/><stop offset="0.1" stop-color="#fec13a"/><stop offset="0.15" stop-color="#fdbe3e"/><stop offset="0.2" stop-color="#fec239"/><stop offset="0.25" stop-color="#fdca31"/><stop offset="0.3" stop-color="#f9d429"/><stop offset="0.35" stop-color="#f5de21"/><stop offset="0.4" stop-color="#f5e81a"/><stop offset="0.45" stop-color="#f6f015"/><stop offset="0.5" stop-color="#f6f213"/><stop offset="0.55" stop-color="#f6f015"/><stop offset="0.6" stop-color="#f5e81a"/><stop offset="0.65" stop-color="#f5de21"/><stop offset="0.7" stop-color="#f9d429"/><stop offset="0.75" stop-color="#fdca31"/><stop offset="0.8" stop-color="#fec239"/><stop offset="0.85" stop-color="#fdbe3e"/><stop offset="0.9" stop-color="#fec13a"/><stop offset="0.95" stop-color="#fbcf2c"/><stop offset="1" stop-color="#f6f114"/></linearGradient><linearGradient id="sa36" gradientUnits="userSpaceOnUse" x1="62.8" y1="130.4" x2="220.5" y2="38.5"><stop offset="0" stop-color="#f7f412"/><stop offset="0.05" stop-color="#fad12b"/><stop offset="0.1" stop-color="#ffc238"/><stop offset="0.15" stop-color="#febf3c"/><stop offset="0.2" stop-color="#ffc338"/><stop offset="0.25" stop-color="#fdca31"/><stop offset="0.3" stop-color="#f9d429"/><stop offset="0.35" stop-color="#f5de21"/><stop offset="0.4" stop-color="#f5e81a"/><stop offset="0.45" stop-color="#f6f015"/><stop offset="0.5" stop-color="#f6f213"/><stop offset="0.55" stop-color="#f6f015"/><stop offset="0.6" stop-color="#f5e81a"/><stop offset="0.65" stop-color="#f5de21"/><stop offset="0.7" stop-color="#f9d429"/><stop offset="0.75" stop-color="#fdcb30"/><stop offset="0.8" stop-color="#ffc338"/><stop offset="0.85" stop-color="#febf3c"/><stop offset="0.9" stop-color="#ffc238"/><stop offset="0.95" stop-color="#fad12b"/><stop offset="1" stop-color="#f7f412"/></linearGradient><linearGradient id="sa37" gradientUnits="userSpaceOnUse" x1="63.4" y1="130.6" x2="221.1" y2="38.7"><stop offset="0" stop-color="#f8f710"/><stop offset="0.05" stop-color="#fad32a"/><stop offset="0.1" stop-color="#ffc437"/><stop offset="0.15" stop-color="#fec03b"/><stop offset="0.2" stop-color="#ffc337"/><stop offset="0.25" stop-color="#fdcb30"/><stop offset="0.3" stop-color="#f9d429"/><stop offset="0.35" stop-color="#f5de21"/><stop offset="0.4" stop-color="#f5e81a"/><stop offset="0.45" stop-color="#f6f015"/><stop offset="0.5" stop-color="#f6f213"/><stop offset="0.55" stop-color="#f6f015"/><stop offset="0.6" stop-color="#f5e81a"/><stop offset="0.65" stop-color="#f5de21"/><stop offset="0.7" stop-color="#f9d429"/><stop offset="0.75" stop-color="#fdcb30"/><stop offset="0.8" stop-color="#ffc337"/><stop offset="0.85" stop-color="#fec03b"/><stop offset="0.9" stop-color="#ffc437"/><stop offset="0.95" stop-color="#fad32a"/><stop offset="1" stop-color="#f8f710"/></linearGradient><linearGradient id="sa38" gradientUnits="userSpaceOnUse" x1="64" y1="130.7" x2="221.7" y2="39"><stop offset="0" stop-color="#f9fa0e"/><stop offset="0.05" stop-color="#f9d429"/><stop offset="0.1" stop-color="#fec535"/><stop offset="0.15" stop-color="#fec13a"/><stop offset="0.2" stop-color="#ffc437"/><stop offset="0.25" stop-color="#fdcb30"/><stop offset="0.3" stop-color="#f9d429"/><stop offset="0.35" stop-color="#f5de21"/><stop offset="0.4" stop-color="#f5e81a"/><stop offset="0.45" stop-color="#f6f015"/><stop offset="0.5" stop-color="#f6f213"/><stop offset="0.55" stop-color="#f6f015"/><stop offset="0.6" stop-color="#f5e81a"/><stop offset="0.65" stop-color="#f5de21"/><stop offset="0.7" stop-color="#f9d429"/><stop offset="0.75" stop-color="#fdcb30"/><stop offset="0.8" stop-color="#ffc437"/><stop offset="0.85" stop-color="#fec13a"/><stop offset="0.9" stop-color="#fec535"/><stop offset="0.95" stop-color="#f9d429"/><stop offset="1" stop-color="#f9fa0e"/></linearGradient><linearGradient id="sa39" gradientUnits="userSpaceOnUse" x1="64.6" y1="130.9" x2="222.4" y2="39.3"><stop offset="0" stop-color="#f9fb0e"/><stop offset="0.05" stop-color="#f8d628"/><stop offset="0.1" stop-color="#fec634"/><stop offset="0.15" stop-color="#fec139"/><stop offset="0.2" stop-color="#ffc437"/><stop offset="0.25" stop-color="#fdca30"/><stop offset="0.3" stop-color="#f9d429"/><stop offset="0.35" stop-color="#f6de21"/><stop offset="0.4" stop-color="#f5e81a"/><stop offset="0.45" stop-color="#f6ef16"/><stop offset="0.5" stop-color="#f6f214"/><stop offset="0.55" stop-color="#f6ef16"/><stop offset="0.6" stop-color="#f5e81a"/><stop offset="0.65" stop-color="#f6de21"/><stop offset="0.7" stop-color="#f9d429"/><stop offset="0.75" stop-color="#fdca30"/><stop offset="0.8" stop-color="#ffc437"/><stop offset="0.85" stop-color="#fec139"/><stop offset="0.9" stop-color="#fec634"/><stop offset="0.95" stop-color="#f8d628"/><stop offset="1" stop-color="#f9fb0e"/></linearGradient><linearGradient id="sa40" gradientUnits="userSpaceOnUse" x1="65.2" y1="131.1" x2="223" y2="39.6"><stop offset="0" stop-color="#f9fb0e"/><stop offset="0.05" stop-color="#f8d727"/><stop offset="0.1" stop-color="#fec734"/><stop offset="0.15" stop-color="#fec13a"/><stop offset="0.2" stop-color="#ffc238"/><stop offset="0.25" stop-color="#fec931"/><stop offset="0.3" stop-color="#fad32a"/><stop offset="0.35" stop-color="#f6dd22"/><stop offset="0.4" stop-color="#f5e61b"/><stop offset="0.45" stop-color="#f5ed17"/><stop offset="0.5" stop-color="#f6f015"/><stop offset="0.55" stop-color="#f5ed17"/><stop offset="0.6" stop-color="#f5e61b"/><stop offset="0.65" stop-color="#f6dd22"/><stop offset="0.7" stop-color="#fad32a"/><stop offset="0.75" stop-color="#fec931"/><stop offset="0.8" stop-color="#ffc238"/><stop offset="0.85" stop-color="#fec13a"/><stop offset="0.9" stop-color="#fec734"/><stop offset="0.95" stop-color="#f8d727"/><stop offset="1" stop-color="#f9fb0e"/></linearGradient><linearGradient id="sa41" gradientUnits="userSpaceOnUse" x1="65.9" y1="131.3" x2="223.6" y2="39.8"><stop offset="0" stop-color="#f9fb0e"/><stop offset="0.05" stop-color="#f7d826"/><stop offset="0.1" stop-color="#fec634"/><stop offset="0.15" stop-color="#febf3c"/><stop offset="0.2" stop-color="#fec13a"/><stop offset="0.25" stop-color="#fec833"/><stop offset="0.3" stop-color="#fad12b"/><stop offset="0.35" stop-color="#f6db24"/><stop offset="0.4" stop-color="#f5e41d"/><stop offset="0.45" stop-color="#f5eb18"/><stop offset="0.5" stop-color="#f5ee16"/><stop offset="0.55" stop-color="#f5eb18"/><stop offset="0.6" stop-color="#f5e41d"/><stop offset="0.65" stop-color="#f6db24"/><stop offset="0.7" stop-color="#fad12b"/><stop offset="0.75" stop-color="#fec833"/><stop offset="0.8" stop-color="#fec13a"/><stop offset="0.85" stop-color="#febf3c"/><stop offset="0.9" stop-color="#fec634"/><stop offset="0.95" stop-color="#f7d826"/><stop offset="1" stop-color="#f9fb0e"/></linearGradient><linearGradient id="sa42" gradientUnits="userSpaceOnUse" x1="66.5" y1="131.5" x2="224.2" y2="40.1"><stop offset="0" stop-color="#f9fb0e"/><stop offset="0.05" stop-color="#f8d727"/><stop offset="0.1" stop-color="#ffc436"/><stop offset="0.15" stop-color="#fdbe3e"/><stop offset="0.2" stop-color="#febf3c"/><stop offset="0.25" stop-color="#fec635"/><stop offset="0.3" stop-color="#fbcf2d"/><stop offset="0.35" stop-color="#f7d925"/><stop offset="0.4" stop-color="#f5e21f"/><stop offset="0.45" stop-color="#f5e81a"/><stop offset="0.5" stop-color="#f5eb18"/><stop offset="0.55" stop-color="#f5e81a"/><stop offset="0.6" stop-color="#f5e21f"/><stop offset="0.65" stop-color="#f7d925"/><stop offset="0.7" stop-color="#fbcf2d"/><stop offset="0.75" stop-color="#fec635"/><stop offset="0.8" stop-color="#febf3c"/><stop offset="0.85" stop-color="#fdbe3e"/><stop offset="0.9" stop-color="#ffc436"/><stop offset="0.95" stop-color="#f8d727"/><stop offset="1" stop-color="#f9fb0e"/></linearGradient><linearGradient id="sa43" gradientUnits="userSpaceOnUse" x1="67.1" y1="131.7" x2="224.8" y2="40.3"><stop offset="0" stop-color="#f9fb0e"/><stop offset="0.05" stop-color="#f9d528"/><stop offset="0.1" stop-color="#fec239"/><stop offset="0.15" stop-color="#fabc41"/><stop offset="0.2" stop-color="#fcbd3f"/><stop offset="0.25" stop-color="#ffc337"/><stop offset="0.3" stop-color="#fccd2f"/><stop offset="0.35" stop-color="#f8d627"/><stop offset="0.4" stop-color="#f5df21"/><stop offset="0.45" stop-color="#f5e51c"/><stop offset="0.5" stop-color="#f5e81a"/><stop offset="0.55" stop-color="#f5e51c"/><stop offset="0.6" stop-color="#f5df21"/><stop offset="0.65" stop-color="#f8d627"/><stop offset="0.7" stop-color="#fccd2f"/><stop offset="0.75" stop-color="#ffc337"/><stop offset="0.8" stop-color="#fcbd3f"/><stop offset="0.85" stop-color="#fabc41"/><stop offset="0.9" stop-color="#fec239"/><stop offset="0.95" stop-color="#f9d528"/><stop offset="1" stop-color="#f9fb0e"/></linearGradient><linearGradient id="sa44" gradientUnits="userSpaceOnUse" x1="67.7" y1="131.9" x2="225.4" y2="40.6"><stop offset="0" stop-color="#f9fb0e"/><stop offset="0.05" stop-color="#fad22a"/><stop offset="0.1" stop-color="#febf3c"/><stop offset="0.15" stop-color="#f8ba44"/><stop offset="0.2" stop-color="#fabb42"/><stop offset="0.25" stop-color="#fec13a"/><stop offset="0.3" stop-color="#fdca31"/><stop offset="0.35" stop-color="#f9d429"/><stop offset="0.4" stop-color="#f6dc23"/><stop offset="0.45" stop-color="#f5e21e"/><stop offset="0.5" stop-color="#f5e41d"/><stop offset="0.55" stop-color="#f5e21e"/><stop offset="0.6" stop-color="#f6dc23"/><stop offset="0.65" stop-color="#f9d429"/><stop offset="0.7" stop-color="#fdca31"/><stop offset="0.75" stop-color="#fec13a"/><stop offset="0.8" stop-color="#fabb42"/><stop offset="0.85" stop-color="#f8ba44"/><stop offset="0.9" stop-color="#febf3c"/><stop offset="0.95" stop-color="#fad22a"/><stop offset="1" stop-color="#f9fb0e"/></linearGradient><linearGradient id="sa45" gradientUnits="userSpaceOnUse" x1="68.3" y1="132.1" x2="226.1" y2="40.8"><stop offset="0" stop-color="#f9fb0e"/><stop offset="0.05" stop-color="#fbd02c"/><stop offset="0.1" stop-color="#fcbd3f"/><stop offset="0.15" stop-color="#f4ba47"/><stop offset="0.2" stop-color="#f7ba45"/><stop offset="0.25" stop-color="#fdbe3d"/><stop offset="0.3" stop-color="#fec833"/><stop offset="0.35" stop-color="#fad12b"/><stop offset="0.4" stop-color="#f7d925"/><stop offset="0.45" stop-color="#f5df20"/><stop offset="0.5" stop-color="#f5e11f"/><stop offset="0.55" stop-color="#f5df20"/><stop offset="0.6" stop-color="#f7d925"/><stop offset="0.65" stop-color="#fad12b"/><stop offset="0.7" stop-color="#fec833"/><stop offset="0.75" stop-color="#fdbe3d"/><stop offset="0.8" stop-color="#f7ba45"/><stop offset="0.85" stop-color="#f4ba47"/><stop offset="0.9" stop-color="#fcbd3f"/><stop offset="0.95" stop-color="#fbd02c"/><stop offset="1" stop-color="#f9fb0e"/></linearGradient><linearGradient id="sa46" gradientUnits="userSpaceOnUse" x1="69" y1="132.4" x2="226.7" y2="41.1"><stop offset="0" stop-color="#f8f810"/><stop offset="0.05" stop-color="#fccd2e"/><stop offset="0.1" stop-color="#fabc42"/><stop offset="0.15" stop-color="#f1b94a"/><stop offset="0.2" stop-color="#f3ba48"/><stop offset="0.25" stop-color="#fbbd40"/><stop offset="0.3" stop-color="#fec535"/><stop offset="0.35" stop-color="#fbcf2d"/><stop offset="0.4" stop-color="#f8d727"/><stop offset="0.45" stop-color="#f6dd22"/><stop offset="0.5" stop-color="#f5df21"/><stop offset="0.55" stop-color="#f6dd22"/><stop offset="0.6" stop-color="#f8d727"/><stop offset="0.65" stop-color="#fbcf2d"/><stop offset="0.7" stop-color="#fec535"/><stop offset="0.75" stop-color="#fbbd40"/><stop offset="0.8" stop-color="#f3ba48"/><stop offset="0.85" stop-color="#f1b94a"/><stop offset="0.9" stop-color="#fabc42"/><stop offset="0.95" stop-color="#fccd2e"/><stop offset="1" stop-color="#f8f810"/></linearGradient><linearGradient id="sa47" gradientUnits="userSpaceOnUse" x1="69.6" y1="132.6" x2="227.3" y2="41.3"><stop offset="0" stop-color="#f7f512"/><stop offset="0.05" stop-color="#fdcb30"/><stop offset="0.1" stop-color="#f7ba45"/><stop offset="0.15" stop-color="#eeb94b"/><stop offset="0.2" stop-color="#f0b94a"/><stop offset="0.25" stop-color="#f9bb43"/><stop offset="0.3" stop-color="#ffc337"/><stop offset="0.35" stop-color="#fccd2f"/><stop offset="0.4" stop-color="#f9d528"/><stop offset="0.45" stop-color="#f7da24"/><stop offset="0.5" stop-color="#f6dc23"/><stop offset="0.55" stop-color="#f7da24"/><stop offset="0.6" stop-color="#f9d528"/><stop offset="0.65" stop-color="#fccd2f"/><stop offset="0.7" stop-color="#ffc337"/><stop offset="0.75" stop-color="#f9bb43"/><stop offset="0.8" stop-color="#f0b94a"/><stop offset="0.85" stop-color="#eeb94b"/><stop offset="0.9" stop-color="#f7ba45"/><stop offset="0.95" stop-color="#fdcb30"/><stop offset="1" stop-color="#f7f512"/></linearGradient><linearGradient id="sa48" gradientUnits="userSpaceOnUse" x1="70.2" y1="132.8" x2="227.9" y2="41.5"><stop offset="0" stop-color="#f6f214"/><stop offset="0.05" stop-color="#fec932"/><stop offset="0.1" stop-color="#f5ba47"/><stop offset="0.15" stop-color="#ebb94d"/><stop offset="0.2" stop-color="#edb94c"/><stop offset="0.25" stop-color="#f7ba45"/><stop offset="0.3" stop-color="#fec13a"/><stop offset="0.35" stop-color="#fdcb30"/><stop offset="0.4" stop-color="#fad32a"/><stop offset="0.45" stop-color="#f7d826"/><stop offset="0.5" stop-color="#f7da24"/><stop offset="0.55" stop-color="#f7d826"/><stop offset="0.6" stop-color="#fad32a"/><stop offset="0.65" stop-color="#fdcb30"/><stop offset="0.7" stop-color="#fec13a"/><stop offset="0.75" stop-color="#f7ba45"/><stop offset="0.8" stop-color="#edb94c"/><stop offset="0.85" stop-color="#ebb94d"/><stop offset="0.9" stop-color="#f5ba47"/><stop offset="0.95" stop-color="#fec932"/><stop offset="1" stop-color="#f6f214"/></linearGradient><linearGradient id="sa49" gradientUnits="userSpaceOnUse" x1="70.8" y1="133" x2="228.5" y2="41.7"><stop offset="0" stop-color="#f6ef16"/><stop offset="0.05" stop-color="#fec733"/><stop offset="0.1" stop-color="#f2b949"/><stop offset="0.15" stop-color="#e8b94f"/><stop offset="0.2" stop-color="#eab94d"/><stop offset="0.25" stop-color="#f4ba47"/><stop offset="0.3" stop-color="#febf3c"/><stop offset="0.35" stop-color="#fec932"/><stop offset="0.4" stop-color="#fbd12b"/><stop offset="0.45" stop-color="#f8d627"/><stop offset="0.5" stop-color="#f7d826"/><stop offset="0.55" stop-color="#f8d627"/><stop offset="0.6" stop-color="#fbd12b"/><stop offset="0.65" stop-color="#fec932"/><stop offset="0.7" stop-color="#febf3c"/><stop offset="0.75" stop-color="#f4ba47"/><stop offset="0.8" stop-color="#eab94d"/><stop offset="0.85" stop-color="#e8b94f"/><stop offset="0.9" stop-color="#f2b949"/><stop offset="0.95" stop-color="#fec733"/><stop offset="1" stop-color="#f6ef16"/></linearGradient><linearGradient id="sa50" gradientUnits="userSpaceOnUse" x1="71.5" y1="133.3" x2="229.1" y2="42"><stop offset="0" stop-color="#f5ec17"/><stop offset="0.05" stop-color="#fec535"/><stop offset="0.1" stop-color="#efb94b"/><stop offset="0.15" stop-color="#e5b950"/><stop offset="0.2" stop-color="#e7b94f"/><stop offset="0.25" stop-color="#f2b949"/><stop offset="0.3" stop-color="#fdbe3e"/><stop offset="0.35" stop-color="#fec734"/><stop offset="0.4" stop-color="#fbcf2d"/><stop offset="0.45" stop-color="#f9d429"/><stop offset="0.5" stop-color="#f8d627"/><stop offset="0.55" stop-color="#f9d429"/><stop offset="0.6" stop-color="#fbcf2d"/><stop offset="0.65" stop-color="#fec734"/><stop offset="0.7" stop-color="#fdbe3e"/><stop offset="0.75" stop-color="#f2b949"/><stop offset="0.8" stop-color="#e7b94f"/><stop offset="0.85" stop-color="#e5b950"/><stop offset="0.9" stop-color="#efb94b"/><stop offset="0.95" stop-color="#fec535"/><stop offset="1" stop-color="#f5ec17"/></linearGradient><linearGradient id="sa51" gradientUnits="userSpaceOnUse" x1="72.1" y1="133.5" x2="229.8" y2="42.2"><stop offset="0" stop-color="#f5ea19"/><stop offset="0.05" stop-color="#ffc337"/><stop offset="0.1" stop-color="#ecb94c"/><stop offset="0.15" stop-color="#e2b952"/><stop offset="0.2" stop-color="#e4b950"/><stop offset="0.25" stop-color="#efb94b"/><stop offset="0.3" stop-color="#fbbc41"/><stop offset="0.35" stop-color="#fec536"/><stop offset="0.4" stop-color="#fccd2e"/><stop offset="0.45" stop-color="#fad22a"/><stop offset="0.5" stop-color="#f9d429"/><stop offset="0.55" stop-color="#fad22a"/><stop offset="0.6" stop-color="#fccd2e"/><stop offset="0.65" stop-color="#fec536"/><stop offset="0.7" stop-color="#fbbc41"/><stop offset="0.75" stop-color="#efb94b"/><stop offset="0.8" stop-color="#e4b950"/><stop offset="0.85" stop-color="#e2b952"/><stop offset="0.9" stop-color="#ecb94c"/><stop offset="0.95" stop-color="#ffc337"/><stop offset="1" stop-color="#f5ea19"/></linearGradient><linearGradient id="sa52" gradientUnits="userSpaceOnUse" x1="72.7" y1="133.8" x2="230.4" y2="42.5"><stop offset="0" stop-color="#f5e71b"/><stop offset="0.05" stop-color="#fec239"/><stop offset="0.1" stop-color="#eab94e"/><stop offset="0.15" stop-color="#dfba53"/><stop offset="0.2" stop-color="#e2b952"/><stop offset="0.25" stop-color="#ecb94c"/><stop offset="0.3" stop-color="#f9bb43"/><stop offset="0.35" stop-color="#ffc337"/><stop offset="0.4" stop-color="#fdcb30"/><stop offset="0.45" stop-color="#fbd12c"/><stop offset="0.5" stop-color="#fad22a"/><stop offset="0.55" stop-color="#fbd12c"/><stop offset="0.6" stop-color="#fdcb30"/><stop offset="0.65" stop-color="#ffc337"/><stop offset="0.7" stop-color="#f9bb43"/><stop offset="0.75" stop-color="#ecb94c"/><stop offset="0.8" stop-color="#e2b952"/><stop offset="0.85" stop-color="#dfba53"/><stop offset="0.9" stop-color="#eab94e"/><stop offset="0.95" stop-color="#fec239"/><stop offset="1" stop-color="#f5e71b"/></linearGradient><linearGradient id="sa53" gradientUnits="userSpaceOnUse" x1="73.3" y1="134" x2="231" y2="42.8"><stop offset="0" stop-color="#f5e51c"/><stop offset="0.05" stop-color="#fec03b"/><stop offset="0.1" stop-color="#e7b94f"/><stop offset="0.15" stop-color="#ddba54"/><stop offset="0.2" stop-color="#dfba53"/><stop offset="0.25" stop-color="#eab94e"/><stop offset="0.3" stop-color="#f7ba45"/><stop offset="0.35" stop-color="#fec239"/><stop offset="0.4" stop-color="#fdca31"/><stop offset="0.45" stop-color="#fbcf2d"/><stop offset="0.5" stop-color="#fbd12b"/><stop offset="0.55" stop-color="#fbcf2d"/><stop offset="0.6" stop-color="#fdca31"/><stop offset="0.65" stop-color="#fec239"/><stop offset="0.7" stop-color="#f7ba45"/><stop offset="0.75" stop-color="#eab94e"/><stop offset="0.8" stop-color="#dfba53"/><stop offset="0.85" stop-color="#ddba54"/><stop offset="0.9" stop-color="#e7b94f"/><stop offset="0.95" stop-color="#fec03b"/><stop offset="1" stop-color="#f5e51c"/></linearGradient><linearGradient id="sa54" gradientUnits="userSpaceOnUse" x1="73.9" y1="134.3" x2="231.6" y2="43.1"><stop offset="0" stop-color="#f5e41d"/><stop offset="0.05" stop-color="#febf3c"/><stop offset="0.1" stop-color="#e5b950"/><stop offset="0.15" stop-color="#dbba55"/><stop offset="0.2" stop-color="#ddba54"/><stop offset="0.25" stop-color="#e8b94f"/><stop offset="0.3" stop-color="#f6ba46"/><stop offset="0.35" stop-color="#fec03b"/><stop offset="0.4" stop-color="#fec832"/><stop offset="0.45" stop-color="#fcce2e"/><stop offset="0.5" stop-color="#fbd02c"/><stop offset="0.55" stop-color="#fcce2e"/><stop offset="0.6" stop-color="#fec832"/><stop offset="0.65" stop-color="#fec03b"/><stop offset="0.7" stop-color="#f6ba46"/><stop offset="0.75" stop-color="#e8b94f"/><stop offset="0.8" stop-color="#ddba54"/><stop offset="0.85" stop-color="#dbba55"/><stop offset="0.9" stop-color="#e5b950"/><stop offset="0.95" stop-color="#febf3c"/><stop offset="1" stop-color="#f5e41d"/></linearGradient><linearGradient id="sa55" gradientUnits="userSpaceOnUse" x1="74.6" y1="134.6" x2="232.2" y2="43.4"><stop offset="0" stop-color="#f5e21e"/><stop offset="0.05" stop-color="#fdbe3d"/><stop offset="0.1" stop-color="#e4b951"/><stop offset="0.15" stop-color="#d9ba55"/><stop offset="0.2" stop-color="#dcba54"/><stop offset="0.25" stop-color="#e6b94f"/><stop offset="0.3" stop-color="#f4ba47"/><stop offset="0.35" stop-color="#febf3c"/><stop offset="0.4" stop-color="#fec733"/><stop offset="0.45" stop-color="#fccd2f"/><stop offset="0.5" stop-color="#fccf2d"/><stop offset="0.55" stop-color="#fccd2f"/><stop offset="0.6" stop-color="#fec733"/><stop offset="0.65" stop-color="#febf3c"/><stop offset="0.7" stop-color="#f4ba47"/><stop offset="0.75" stop-color="#e6b94f"/><stop offset="0.8" stop-color="#dcba54"/><stop offset="0.85" stop-color="#d9ba55"/><stop offset="0.9" stop-color="#e4b951"/><stop offset="0.95" stop-color="#fdbe3d"/><stop offset="1" stop-color="#f5e21e"/></linearGradient><linearGradient id="sa56" gradientUnits="userSpaceOnUse" x1="75.2" y1="134.9" x2="232.8" y2="43.8"><stop offset="0" stop-color="#f5e11f"/><stop offset="0.05" stop-color="#fdbd3e"/><stop offset="0.1" stop-color="#e3b951"/><stop offset="0.15" stop-color="#d8ba56"/><stop offset="0.2" stop-color="#dbba55"/><stop offset="0.25" stop-color="#e5b950"/><stop offset="0.3" stop-color="#f3ba48"/><stop offset="0.35" stop-color="#febf3d"/><stop offset="0.4" stop-color="#fec734"/><stop offset="0.45" stop-color="#fdcc2f"/><stop offset="0.5" stop-color="#fcce2e"/><stop offset="0.55" stop-color="#fdcc2f"/><stop offset="0.6" stop-color="#fec734"/><stop offset="0.65" stop-color="#febf3d"/><stop offset="0.7" stop-color="#f3ba48"/><stop offset="0.75" stop-color="#e5b950"/><stop offset="0.8" stop-color="#dbba55"/><stop offset="0.85" stop-color="#d8ba56"/><stop offset="0.9" stop-color="#e3b951"/><stop offset="0.95" stop-color="#fdbd3e"/><stop offset="1" stop-color="#f5e11f"/></linearGradient><linearGradient id="sa57" gradientUnits="userSpaceOnUse" x1="75.8" y1="135.2" x2="233.5" y2="44.2"><stop offset="0" stop-color="#f5e11f"/><stop offset="0.05" stop-color="#fcbd3f"/><stop offset="0.1" stop-color="#e2b952"/><stop offset="0.15" stop-color="#d7ba56"/><stop offset="0.2" stop-color="#daba55"/><stop offset="0.25" stop-color="#e4b951"/><stop offset="0.3" stop-color="#f2b949"/><stop offset="0.35" stop-color="#fdbe3d"/><stop offset="0.4" stop-color="#fec635"/><stop offset="0.45" stop-color="#fdcb30"/><stop offset="0.5" stop-color="#fccd2e"/><stop offset="0.55" stop-color="#fdcb30"/><stop offset="0.6" stop-color="#fec635"/><stop offset="0.65" stop-color="#fdbe3d"/><stop offset="0.7" stop-color="#f2b949"/><stop offset="0.75" stop-color="#e4b951"/><stop offset="0.8" stop-color="#daba55"/><stop offset="0.85" stop-color="#d7ba56"/><stop offset="0.9" stop-color="#e2b952"/><stop offset="0.95" stop-color="#fcbd3f"/><stop offset="1" stop-color="#f5e11f"/></linearGradient><linearGradient id="sa58" gradientUnits="userSpaceOnUse" x1="76.4" y1="135.5" x2="234.1" y2="44.7"><stop offset="0" stop-color="#f5e020"/><stop offset="0.05" stop-color="#fbbd40"/><stop offset="0.1" stop-color="#e1ba52"/><stop offset="0.15" stop-color="#d6ba57"/><stop offset="0.2" stop-color="#d9ba56"/><stop offset="0.25" stop-color="#e3b951"/><stop offset="0.3" stop-color="#f1b949"/><stop offset="0.35" stop-color="#fdbe3e"/><stop offset="0.4" stop-color="#fec535"/><stop offset="0.45" stop-color="#fdcb30"/><stop offset="0.5" stop-color="#fccd2f"/><stop offset="0.55" stop-color="#fdcb30"/><stop offset="0.6" stop-color="#fec535"/><stop offset="0.65" stop-color="#fdbe3e"/><stop offset="0.7" stop-color="#f1b949"/><stop offset="0.75" stop-color="#e3b951"/><stop offset="0.8" stop-color="#d9ba56"/><stop offset="0.85" stop-color="#d6ba57"/><stop offset="0.9" stop-color="#e1ba52"/><stop offset="0.95" stop-color="#fbbd40"/><stop offset="1" stop-color="#f5e020"/></linearGradient><linearGradient id="sa59" gradientUnits="userSpaceOnUse" x1="77" y1="135.8" x2="234.7" y2="45.1"><stop offset="0" stop-color="#f5df20"/><stop offset="0.05" stop-color="#fbbc41"/><stop offset="0.1" stop-color="#e0ba53"/><stop offset="0.15" stop-color="#d5ba57"/><stop offset="0.2" stop-color="#d8ba56"/><stop offset="0.25" stop-color="#e2b951"/><stop offset="0.3" stop-color="#f0b94a"/><stop offset="0.35" stop-color="#fcbd3f"/><stop offset="0.4" stop-color="#fec536"/><stop offset="0.45" stop-color="#fdca31"/><stop offset="0.5" stop-color="#fdcc2f"/><stop offset="0.55" stop-color="#fdca31"/><stop offset="0.6" stop-color="#fec536"/><stop offset="0.65" stop-color="#fcbd3f"/><stop offset="0.7" stop-color="#f0b94a"/><stop offset="0.75" stop-color="#e2b951"/><stop offset="0.8" stop-color="#d8ba56"/><stop offset="0.85" stop-color="#d5ba57"/><stop offset="0.9" stop-color="#e0ba53"/><stop offset="0.95" stop-color="#fbbc41"/><stop offset="1" stop-color="#f5df20"/></linearGradient><linearGradient id="sa60" gradientUnits="userSpaceOnUse" x1="77.7" y1="136.1" x2="235.3" y2="45.6"><stop offset="0" stop-color="#f5de21"/><stop offset="0.05" stop-color="#fabc42"/><stop offset="0.1" stop-color="#dfba53"/><stop offset="0.15" stop-color="#d4bb58"/><stop offset="0.2" stop-color="#d7ba57"/><stop offset="0.25" stop-color="#e1b952"/><stop offset="0.3" stop-color="#efb94b"/><stop offset="0.35" stop-color="#fbbd40"/><stop offset="0.4" stop-color="#ffc436"/><stop offset="0.45" stop-color="#fec931"/><stop offset="0.5" stop-color="#fdcb30"/><stop offset="0.55" stop-color="#fec931"/><stop offset="0.6" stop-color="#ffc436"/><stop offset="0.65" stop-color="#fbbd40"/><stop offset="0.7" stop-color="#efb94b"/><stop offset="0.75" stop-color="#e1b952"/><stop offset="0.8" stop-color="#d7ba57"/><stop offset="0.85" stop-color="#d4bb58"/><stop offset="0.9" stop-color="#dfba53"/><stop offset="0.95" stop-color="#fabc42"/><stop offset="1" stop-color="#f5de21"/></linearGradient><linearGradient id="sa61" gradientUnits="userSpaceOnUse" x1="78.3" y1="136.5" x2="235.9" y2="46.2"><stop offset="0" stop-color="#f6dd22"/><stop offset="0.05" stop-color="#f9bb43"/><stop offset="0.1" stop-color="#ddba54"/><stop offset="0.15" stop-color="#d3bb58"/><stop offset="0.2" stop-color="#d5ba57"/><stop offset="0.25" stop-color="#e0ba53"/><stop offset="0.3" stop-color="#eeb94b"/><stop offset="0.35" stop-color="#fbbc41"/><stop offset="0.4" stop-color="#ffc337"/><stop offset="0.45" stop-color="#fec832"/><stop offset="0.5" stop-color="#fdca31"/><stop offset="0.55" stop-color="#fec832"/><stop offset="0.6" stop-color="#ffc337"/><stop offset="0.65" stop-color="#fbbc41"/><stop offset="0.7" stop-color="#eeb94b"/><stop offset="0.75" stop-color="#e0ba53"/><stop offset="0.8" stop-color="#d5ba57"/><stop offset="0.85" stop-color="#d3bb58"/><stop offset="0.9" stop-color="#ddba54"/><stop offset="0.95" stop-color="#f9bb43"/><stop offset="1" stop-color="#f6dd22"/></linearGradient><linearGradient id="sa62" gradientUnits="userSpaceOnUse" x1="78.9" y1="136.9" x2="236.5" y2="46.7"><stop offset="0" stop-color="#f6dc23"/><stop offset="0.05" stop-color="#f8ba44"/><stop offset="0.1" stop-color="#dcba54"/><stop offset="0.15" stop-color="#d1bb59"/><stop offset="0.2" stop-color="#d4bb58"/><stop offset="0.25" stop-color="#deba53"/><stop offset="0.3" stop-color="#ecb94c"/><stop offset="0.35" stop-color="#fabb42"/><stop offset="0.4" stop-color="#fec238"/><stop offset="0.45" stop-color="#fec733"/><stop offset="0.5" stop-color="#fec931"/><stop offset="0.55" stop-color="#fec733"/><stop offset="0.6" stop-color="#fec238"/><stop offset="0.65" stop-color="#fabb42"/><stop offset="0.7" stop-color="#ecb94c"/><stop offset="0.75" stop-color="#deba53"/><stop offset="0.8" stop-color="#d4bb58"/><stop offset="0.85" stop-color="#d1bb59"/><stop offset="0.9" stop-color="#dcba54"/><stop offset="0.95" stop-color="#f8ba44"/><stop offset="1" stop-color="#f6dc23"/></linearGradient><linearGradient id="sa63" gradientUnits="userSpaceOnUse" x1="79.5" y1="137.5" x2="237.2" y2="47.2"><stop offset="0" stop-color="#f6db23"/><stop offset="0.05" stop-color="#f7ba45"/><stop offset="0.1" stop-color="#daba55"/><stop offset="0.15" stop-color="#d0bb5a"/><stop offset="0.2" stop-color="#d2bb59"/><stop offset="0.25" stop-color="#ddba54"/><stop offset="0.3" stop-color="#ebb94d"/><stop offset="0.35" stop-color="#f9bb44"/><stop offset="0.4" stop-color="#fec13a"/><stop offset="0.45" stop-color="#fec634"/><stop offset="0.5" stop-color="#fec832"/><stop offset="0.55" stop-color="#fec634"/><stop offset="0.6" stop-color="#fec13a"/><stop offset="0.65" stop-color="#f9bb44"/><stop offset="0.7" stop-color="#ebb94d"/><stop offset="0.75" stop-color="#ddba54"/><stop offset="0.8" stop-color="#d2bb59"/><stop offset="0.85" stop-color="#d0bb5a"/><stop offset="0.9" stop-color="#daba55"/><stop offset="0.95" stop-color="#f7ba45"/><stop offset="1" stop-color="#f6db23"/></linearGradient><linearGradient id="sa64" gradientUnits="userSpaceOnUse" x1="80.1" y1="138.2" x2="237.8" y2="47.7"><stop offset="0" stop-color="#f7da24"/><stop offset="0.05" stop-color="#f5ba46"/><stop offset="0.1" stop-color="#d8ba56"/><stop offset="0.15" stop-color="#cebb5a"/><stop offset="0.2" stop-color="#d0bb59"/><stop offset="0.25" stop-color="#dbba55"/><stop offset="0.3" stop-color="#e9b94e"/><stop offset="0.35" stop-color="#f7ba45"/><stop offset="0.4" stop-color="#fec03b"/><stop offset="0.45" stop-color="#fec535"/><stop offset="0.5" stop-color="#fec733"/><stop offset="0.55" stop-color="#fec535"/><stop offset="0.6" stop-color="#fec03b"/><stop offset="0.65" stop-color="#f7ba45"/><stop offset="0.7" stop-color="#e9b94e"/><stop offset="0.75" stop-color="#dbba55"/><stop offset="0.8" stop-color="#d0bb59"/><stop offset="0.85" stop-color="#cebb5a"/><stop offset="0.9" stop-color="#d8ba56"/><stop offset="0.95" stop-color="#f5ba46"/><stop offset="1" stop-color="#f7da24"/></linearGradient><linearGradient id="sa65" gradientUnits="userSpaceOnUse" x1="80.8" y1="138.9" x2="238.4" y2="48.2"><stop offset="0" stop-color="#f7d925"/><stop offset="0.05" stop-color="#f3ba48"/><stop offset="0.1" stop-color="#d6ba57"/><stop offset="0.15" stop-color="#ccbb5b"/><stop offset="0.2" stop-color="#cebb5a"/><stop offset="0.25" stop-color="#d9ba56"/><stop offset="0.3" stop-color="#e7b94f"/><stop offset="0.35" stop-color="#f5ba46"/><stop offset="0.4" stop-color="#febf3c"/><stop offset="0.45" stop-color="#ffc436"/><stop offset="0.5" stop-color="#fec635"/><stop offset="0.55" stop-color="#ffc436"/><stop offset="0.6" stop-color="#febf3c"/><stop offset="0.65" stop-color="#f5ba46"/><stop offset="0.7" stop-color="#e7b94f"/><stop offset="0.75" stop-color="#d9ba56"/><stop offset="0.8" stop-color="#cebb5a"/><stop offset="0.85" stop-color="#ccbb5b"/><stop offset="0.9" stop-color="#d6ba57"/><stop offset="0.95" stop-color="#f3ba48"/><stop offset="1" stop-color="#f7d925"/></linearGradient><linearGradient id="sa66" gradientUnits="userSpaceOnUse" x1="81.4" y1="139.7" x2="239" y2="48.8"><stop offset="0" stop-color="#f8d727"/><stop offset="0.05" stop-color="#f1b949"/><stop offset="0.1" stop-color="#d4bb58"/><stop offset="0.15" stop-color="#c9bc5c"/><stop offset="0.2" stop-color="#ccbb5b"/><stop offset="0.25" stop-color="#d7ba57"/><stop offset="0.3" stop-color="#e5b950"/><stop offset="0.35" stop-color="#f3ba48"/><stop offset="0.4" stop-color="#fdbe3e"/><stop offset="0.45" stop-color="#ffc238"/><stop offset="0.5" stop-color="#ffc436"/><stop offset="0.55" stop-color="#ffc238"/><stop offset="0.6" stop-color="#fdbe3e"/><stop offset="0.65" stop-color="#f3ba48"/><stop offset="0.7" stop-color="#e5b950"/><stop offset="0.75" stop-color="#d7ba57"/><stop offset="0.8" stop-color="#ccbb5b"/><stop offset="0.85" stop-color="#c9bc5c"/><stop offset="0.9" stop-color="#d4bb58"/><stop offset="0.95" stop-color="#f1b949"/><stop offset="1" stop-color="#f8d727"/></linearGradient><linearGradient id="sa67" gradientUnits="userSpaceOnUse" x1="82" y1="140.5" x2="239.6" y2="49.3"><stop offset="0" stop-color="#f9d528"/><stop offset="0.05" stop-color="#eeb94b"/><stop offset="0.1" stop-color="#d1bb59"/><stop offset="0.15" stop-color="#c6bc5d"/><stop offset="0.2" stop-color="#c9bc5c"/><stop offset="0.25" stop-color="#d4bb58"/><stop offset="0.3" stop-color="#e2b951"/><stop offset="0.35" stop-color="#f1b94a"/><stop offset="0.4" stop-color="#fbbc41"/><stop offset="0.45" stop-color="#fec13a"/><stop offset="0.5" stop-color="#ffc238"/><stop offset="0.55" stop-color="#fec13a"/><stop offset="0.6" stop-color="#fbbc41"/><stop offset="0.65" stop-color="#f1b94a"/><stop offset="0.7" stop-color="#e2b951"/><stop offset="0.75" stop-color="#d4bb58"/><stop offset="0.8" stop-color="#c9bc5c"/><stop offset="0.85" stop-color="#c6bc5d"/><stop offset="0.9" stop-color="#d1bb59"/><stop offset="0.95" stop-color="#eeb94b"/><stop offset="1" stop-color="#f9d528"/></linearGradient><linearGradient id="sa68" gradientUnits="userSpaceOnUse" x1="82.6" y1="141.3" x2="240.2" y2="49.9"><stop offset="0" stop-color="#fad32a"/><stop offset="0.05" stop-color="#ebb94d"/><stop offset="0.1" stop-color="#cebb5a"/><stop offset="0.15" stop-color="#c3bc5f"/><stop offset="0.2" stop-color="#c5bc5e"/><stop offset="0.25" stop-color="#d0bb59"/><stop offset="0.3" stop-color="#dfba53"/><stop offset="0.35" stop-color="#edb94c"/><stop offset="0.4" stop-color="#f9bb43"/><stop offset="0.45" stop-color="#febf3d"/><stop offset="0.5" stop-color="#fec03b"/><stop offset="0.55" stop-color="#febf3d"/><stop offset="0.6" stop-color="#f9bb43"/><stop offset="0.65" stop-color="#edb94c"/><stop offset="0.7" stop-color="#dfba53"/><stop offset="0.75" stop-color="#d0bb59"/><stop offset="0.8" stop-color="#c5bc5e"/><stop offset="0.85" stop-color="#c3bc5f"/><stop offset="0.9" stop-color="#cebb5a"/><stop offset="0.95" stop-color="#ebb94d"/><stop offset="1" stop-color="#fad32a"/></linearGradient><linearGradient id="sa69" gradientUnits="userSpaceOnUse" x1="83.2" y1="142.1" x2="240.9" y2="50.5"><stop offset="0" stop-color="#fbd02c"/><stop offset="0.05" stop-color="#e7b94f"/><stop offset="0.1" stop-color="#c9bc5c"/><stop offset="0.15" stop-color="#bebc61"/><stop offset="0.2" stop-color="#c1bc60"/><stop offset="0.25" stop-color="#ccbb5b"/><stop offset="0.3" stop-color="#daba55"/><stop offset="0.35" stop-color="#e9b94e"/><stop offset="0.4" stop-color="#f5ba47"/><stop offset="0.45" stop-color="#fbbc40"/><stop offset="0.5" stop-color="#fdbe3e"/><stop offset="0.55" stop-color="#fbbc40"/><stop offset="0.6" stop-color="#f5ba47"/><stop offset="0.65" stop-color="#e9b94e"/><stop offset="0.7" stop-color="#daba55"/><stop offset="0.75" stop-color="#ccbb5b"/><stop offset="0.8" stop-color="#c1bc60"/><stop offset="0.85" stop-color="#bebc61"/><stop offset="0.9" stop-color="#c9bc5c"/><stop offset="0.95" stop-color="#e7b94f"/><stop offset="1" stop-color="#fbd02c"/></linearGradient><linearGradient id="sa70" gradientUnits="userSpaceOnUse" x1="83.9" y1="142.8" x2="241.5" y2="51.1"><stop offset="0" stop-color="#fdca31"/><stop offset="0.05" stop-color="#deba54"/><stop offset="0.1" stop-color="#c0bc60"/><stop offset="0.15" stop-color="#b4bd65"/><stop offset="0.2" stop-color="#b7bd64"/><stop offset="0.25" stop-color="#c2bc5f"/><stop offset="0.3" stop-color="#d1bb59"/><stop offset="0.35" stop-color="#e0ba52"/><stop offset="0.4" stop-color="#ecb94c"/><stop offset="0.45" stop-color="#f4ba47"/><stop offset="0.5" stop-color="#f7ba45"/><stop offset="0.55" stop-color="#f4ba47"/><stop offset="0.6" stop-color="#ecb94c"/><stop offset="0.65" stop-color="#e0ba52"/><stop offset="0.7" stop-color="#d1bb59"/><stop offset="0.75" stop-color="#c2bc5f"/><stop offset="0.8" stop-color="#b7bd64"/><stop offset="0.85" stop-color="#b4bd65"/><stop offset="0.9" stop-color="#c0bc60"/><stop offset="0.95" stop-color="#deba54"/><stop offset="1" stop-color="#fdca31"/></linearGradient><linearGradient id="sa71" gradientUnits="userSpaceOnUse" x1="84.5" y1="143.6" x2="242.1" y2="51.7"><stop offset="0" stop-color="#fec239"/><stop offset="0.05" stop-color="#d1bb59"/><stop offset="0.1" stop-color="#b2bd66"/><stop offset="0.15" stop-color="#a6be6a"/><stop offset="0.2" stop-color="#a9be69"/><stop offset="0.25" stop-color="#b5bd65"/><stop offset="0.3" stop-color="#c4bc5e"/><stop offset="0.35" stop-color="#d3bb58"/><stop offset="0.4" stop-color="#e0ba53"/><stop offset="0.45" stop-color="#e8b94f"/><stop offset="0.5" stop-color="#ebb94d"/><stop offset="0.55" stop-color="#e8b94f"/><stop offset="0.6" stop-color="#e0ba53"/><stop offset="0.65" stop-color="#d3bb58"/><stop offset="0.7" stop-color="#c4bc5e"/><stop offset="0.75" stop-color="#b5bd65"/><stop offset="0.8" stop-color="#a9be69"/><stop offset="0.85" stop-color="#a6be6a"/><stop offset="0.9" stop-color="#b2bd66"/><stop offset="0.95" stop-color="#d1bb59"/><stop offset="1" stop-color="#fec239"/></linearGradient><linearGradient id="sa72" gradientUnits="userSpaceOnUse" x1="85.1" y1="144.4" x2="242.7" y2="52.3"><stop offset="0" stop-color="#f8bb44"/><stop offset="0.05" stop-color="#c2bc5f"/><stop offset="0.1" stop-color="#a2be6c"/><stop offset="0.15" stop-color="#95bf71"/><stop offset="0.2" stop-color="#98bf70"/><stop offset="0.25" stop-color="#a5be6b"/><stop offset="0.3" stop-color="#b5bd65"/><stop offset="0.35" stop-color="#c5bc5e"/><stop offset="0.4" stop-color="#d2bb59"/><stop offset="0.45" stop-color="#daba55"/><stop offset="0.5" stop-color="#ddba54"/><stop offset="0.55" stop-color="#daba55"/><stop offset="0.6" stop-color="#d2bb59"/><stop offset="0.65" stop-color="#c5bc5e"/><stop offset="0.7" stop-color="#b5bd65"/><stop offset="0.75" stop-color="#a5be6b"/><stop offset="0.8" stop-color="#98bf70"/><stop offset="0.85" stop-color="#95bf71"/><stop offset="0.9" stop-color="#a2be6c"/><stop offset="0.95" stop-color="#c2bc5f"/><stop offset="1" stop-color="#f8bb44"/></linearGradient><linearGradient id="sa73" gradientUnits="userSpaceOnUse" x1="85.7" y1="145.2" x2="243.3" y2="52.9"><stop offset="0" stop-color="#ecb94c"/><stop offset="0.05" stop-color="#b4bd65"/><stop offset="0.1" stop-color="#92bf73"/><stop offset="0.15" stop-color="#84bf78"/><stop offset="0.2" stop-color="#87bf77"/><stop offset="0.25" stop-color="#95bf71"/><stop offset="0.3" stop-color="#a6be6a"/><stop offset="0.35" stop-color="#b6bd64"/><stop offset="0.4" stop-color="#c4bc5f"/><stop offset="0.45" stop-color="#ccbb5b"/><stop offset="0.5" stop-color="#cfbb5a"/><stop offset="0.55" stop-color="#ccbb5b"/><stop offset="0.6" stop-color="#c4bc5f"/><stop offset="0.65" stop-color="#b6bd64"/><stop offset="0.7" stop-color="#a6be6a"/><stop offset="0.75" stop-color="#95bf71"/><stop offset="0.8" stop-color="#87bf77"/><stop offset="0.85" stop-color="#84bf78"/><stop offset="0.9" stop-color="#92bf73"/><stop offset="0.95" stop-color="#b4bd65"/><stop offset="1" stop-color="#ecb94c"/></linearGradient><linearGradient id="sa74" gradientUnits="userSpaceOnUse" x1="86.4" y1="146.1" x2="243.9" y2="53.5"><stop offset="0" stop-color="#e1b952"/><stop offset="0.05" stop-color="#a8be6a"/><stop offset="0.1" stop-color="#84bf78"/><stop offset="0.15" stop-color="#75bf7f"/><stop offset="0.2" stop-color="#78bf7d"/><stop offset="0.25" stop-color="#87bf77"/><stop offset="0.3" stop-color="#99bf70"/><stop offset="0.35" stop-color="#aabe69"/><stop offset="0.4" stop-color="#b8bd63"/><stop offset="0.45" stop-color="#c1bc60"/><stop offset="0.5" stop-color="#c4bc5e"/><stop offset="0.55" stop-color="#c1bc60"/><stop offset="0.6" stop-color="#b8bd63"/><stop offset="0.65" stop-color="#aabe69"/><stop offset="0.7" stop-color="#99bf70"/><stop offset="0.75" stop-color="#87bf77"/><stop offset="0.8" stop-color="#78bf7d"/><stop offset="0.85" stop-color="#75bf7f"/><stop offset="0.9" stop-color="#84bf78"/><stop offset="0.95" stop-color="#a8be6a"/><stop offset="1" stop-color="#e1b952"/></linearGradient><linearGradient id="sa75" gradientUnits="userSpaceOnUse" x1="87" y1="146.9" x2="244.6" y2="54.1"><stop offset="0" stop-color="#d7ba56"/><stop offset="0.05" stop-color="#9cbf6e"/><stop offset="0.1" stop-color="#76bf7e"/><stop offset="0.15" stop-color="#67be85"/><stop offset="0.2" stop-color="#6abe83"/><stop offset="0.25" stop-color="#7abf7d"/><stop offset="0.3" stop-color="#8dbf75"/><stop offset="0.35" stop-color="#9fbe6d"/><stop offset="0.4" stop-color="#adbe68"/><stop offset="0.45" stop-color="#b6bd64"/><stop offset="0.5" stop-color="#babd63"/><stop offset="0.55" stop-color="#b6bd64"/><stop offset="0.6" stop-color="#adbe68"/><stop offset="0.65" stop-color="#9fbe6d"/><stop offset="0.7" stop-color="#8dbf75"/><stop offset="0.75" stop-color="#7abf7d"/><stop offset="0.8" stop-color="#6abe83"/><stop offset="0.85" stop-color="#67be85"/><stop offset="0.9" stop-color="#76bf7e"/><stop offset="0.95" stop-color="#9cbf6e"/><stop offset="1" stop-color="#d7ba56"/></linearGradient><linearGradient id="sa76" gradientUnits="userSpaceOnUse" x1="87.6" y1="147.7" x2="245.2" y2="54.8"><stop offset="0" stop-color="#cebb5a"/><stop offset="0.05" stop-color="#90bf73"/><stop offset="0.1" stop-color="#68be84"/><stop offset="0.15" stop-color="#58bd8c"/><stop offset="0.2" stop-color="#5cbe8a"/><stop offset="0.25" stop-color="#6cbf83"/><stop offset="0.3" stop-color="#80bf7a"/><stop offset="0.35" stop-color="#93bf72"/><stop offset="0.4" stop-color="#a2be6c"/><stop offset="0.45" stop-color="#acbe68"/><stop offset="0.5" stop-color="#afbe67"/><stop offset="0.55" stop-color="#acbe68"/><stop offset="0.6" stop-color="#a2be6c"/><stop offset="0.65" stop-color="#93bf72"/><stop offset="0.7" stop-color="#80bf7a"/><stop offset="0.75" stop-color="#6cbf83"/><stop offset="0.8" stop-color="#5cbe8a"/><stop offset="0.85" stop-color="#58bd8c"/><stop offset="0.9" stop-color="#68be84"/><stop offset="0.95" stop-color="#90bf73"/><stop offset="1" stop-color="#cebb5a"/></linearGradient><linearGradient id="sa77" gradientUnits="userSpaceOnUse" x1="88.2" y1="148.4" x2="245.8" y2="55.5"><stop offset="0" stop-color="#c3bc5f"/><stop offset="0.05" stop-color="#83bf78"/><stop offset="0.1" stop-color="#59bd8b"/><stop offset="0.15" stop-color="#4abc93"/><stop offset="0.2" stop-color="#4ebc91"/><stop offset="0.25" stop-color="#5dbe8a"/><stop offset="0.3" stop-color="#72bf80"/><stop offset="0.35" stop-color="#86bf77"/><stop offset="0.4" stop-color="#96bf71"/><stop offset="0.45" stop-color="#a0be6d"/><stop offset="0.5" stop-color="#a4be6b"/><stop offset="0.55" stop-color="#a0be6d"/><stop offset="0.6" stop-color="#96bf71"/><stop offset="0.65" stop-color="#86bf77"/><stop offset="0.7" stop-color="#72bf80"/><stop offset="0.75" stop-color="#5dbe8a"/><stop offset="0.8" stop-color="#4ebc91"/><stop offset="0.85" stop-color="#4abc93"/><stop offset="0.9" stop-color="#59bd8b"/><stop offset="0.95" stop-color="#83bf78"/><stop offset="1" stop-color="#c3bc5f"/></linearGradient><linearGradient id="sa78" gradientUnits="userSpaceOnUse" x1="88.8" y1="149.2" x2="246.4" y2="56.1"><stop offset="0" stop-color="#b8bd63"/><stop offset="0.05" stop-color="#74bf7f"/><stop offset="0.1" stop-color="#4abc94"/><stop offset="0.15" stop-color="#3cba9c"/><stop offset="0.2" stop-color="#3fba9a"/><stop offset="0.25" stop-color="#4dbc92"/><stop offset="0.3" stop-color="#62be87"/><stop offset="0.35" stop-color="#78bf7d"/><stop offset="0.4" stop-color="#89bf76"/><stop offset="0.45" stop-color="#93bf72"/><stop offset="0.5" stop-color="#97bf71"/><stop offset="0.55" stop-color="#93bf72"/><stop offset="0.6" stop-color="#89bf76"/><stop offset="0.65" stop-color="#78bf7d"/><stop offset="0.7" stop-color="#62be87"/><stop offset="0.75" stop-color="#4dbc92"/><stop offset="0.8" stop-color="#3fba9a"/><stop offset="0.85" stop-color="#3cba9c"/><stop offset="0.9" stop-color="#4abc94"/><stop offset="0.95" stop-color="#74bf7f"/><stop offset="1" stop-color="#b8bd63"/></linearGradient><linearGradient id="sa79" gradientUnits="userSpaceOnUse" x1="89.5" y1="149.9" x2="247" y2="56.8"><stop offset="0" stop-color="#abbe68"/><stop offset="0.05" stop-color="#64be86"/><stop offset="0.1" stop-color="#3bb99c"/><stop offset="0.15" stop-color="#2eb7a4"/><stop offset="0.2" stop-color="#31b8a2"/><stop offset="0.25" stop-color="#3eba9a"/><stop offset="0.3" stop-color="#52bd8f"/><stop offset="0.35" stop-color="#68be84"/><stop offset="0.4" stop-color="#7abf7d"/><stop offset="0.45" stop-color="#85bf78"/><stop offset="0.5" stop-color="#89bf76"/><stop offset="0.55" stop-color="#85bf78"/><stop offset="0.6" stop-color="#7abf7d"/><stop offset="0.65" stop-color="#68be84"/><stop offset="0.7" stop-color="#52bd8f"/><stop offset="0.75" stop-color="#3eba9a"/><stop offset="0.8" stop-color="#31b8a2"/><stop offset="0.85" stop-color="#2eb7a4"/><stop offset="0.9" stop-color="#3bb99c"/><stop offset="0.95" stop-color="#64be86"/><stop offset="1" stop-color="#abbe68"/></linearGradient><linearGradient id="sa80" gradientUnits="userSpaceOnUse" x1="90.1" y1="150.6" x2="247.6" y2="57.5"><stop offset="0" stop-color="#9ebe6e"/><stop offset="0.05" stop-color="#53bd8e"/><stop offset="0.1" stop-color="#2db7a4"/><stop offset="0.15" stop-color="#22b4ac"/><stop offset="0.2" stop-color="#24b5aa"/><stop offset="0.25" stop-color="#30b7a2"/><stop offset="0.3" stop-color="#42bb98"/><stop offset="0.35" stop-color="#57bd8d"/><stop offset="0.4" stop-color="#69be84"/><stop offset="0.45" stop-color="#75bf7f"/><stop offset="0.5" stop-color="#79bf7d"/><stop offset="0.55" stop-color="#75bf7f"/><stop offset="0.6" stop-color="#69be84"/><stop offset="0.65" stop-color="#57bd8d"/><stop offset="0.7" stop-color="#42bb98"/><stop offset="0.75" stop-color="#30b7a2"/><stop offset="0.8" stop-color="#24b5aa"/><stop offset="0.85" stop-color="#22b4ac"/><stop offset="0.9" stop-color="#2db7a4"/><stop offset="0.95" stop-color="#53bd8e"/><stop offset="1" stop-color="#9ebe6e"/></linearGradient><linearGradient id="sa81" gradientUnits="userSpaceOnUse" x1="90.7" y1="151.4" x2="248.3" y2="58.2"><stop offset="0" stop-color="#8fbf73"/><stop offset="0.05" stop-color="#43bb97"/><stop offset="0.1" stop-color="#20b4ad"/><stop offset="0.15" stop-color="#17b1b3"/><stop offset="0.2" stop-color="#19b2b2"/><stop offset="0.25" stop-color="#23b4ab"/><stop offset="0.3" stop-color="#33b8a1"/><stop offset="0.35" stop-color="#46bb96"/><stop offset="0.4" stop-color="#57bd8c"/><stop offset="0.45" stop-color="#64be86"/><stop offset="0.5" stop-color="#68be84"/><stop offset="0.55" stop-color="#64be86"/><stop offset="0.6" stop-color="#57bd8c"/><stop offset="0.65" stop-color="#46bb96"/><stop offset="0.7" stop-color="#33b8a1"/><stop offset="0.75" stop-color="#23b4ab"/><stop offset="0.8" stop-color="#19b2b2"/><stop offset="0.85" stop-color="#17b1b3"/><stop offset="0.9" stop-color="#20b4ad"/><stop offset="0.95" stop-color="#43bb97"/><stop offset="1" stop-color="#8fbf73"/></linearGradient><linearGradient id="sa82" gradientUnits="userSpaceOnUse" x1="91.3" y1="152.1" x2="248.9" y2="58.9"><stop offset="0" stop-color="#7fbf7a"/><stop offset="0.05" stop-color="#33b8a1"/><stop offset="0.1" stop-color="#15b0b5"/><stop offset="0.15" stop-color="#0dadbb"/><stop offset="0.2" stop-color="#0eaeba"/><stop offset="0.25" stop-color="#17b1b3"/><stop offset="0.3" stop-color="#25b5aa"/><stop offset="0.35" stop-color="#35b89f"/><stop offset="0.4" stop-color="#45bb96"/><stop offset="0.45" stop-color="#51bc90"/><stop offset="0.5" stop-color="#55bd8d"/><stop offset="0.55" stop-color="#51bc90"/><stop offset="0.6" stop-color="#45bb96"/><stop offset="0.65" stop-color="#35b89f"/><stop offset="0.7" stop-color="#25b5aa"/><stop offset="0.75" stop-color="#17b1b3"/><stop offset="0.8" stop-color="#0eaeba"/><stop offset="0.85" stop-color="#0dadbb"/><stop offset="0.9" stop-color="#15b0b5"/><stop offset="0.95" stop-color="#33b8a1"/><stop offset="1" stop-color="#7fbf7a"/></linearGradient><linearGradient id="sa83" gradientUnits="userSpaceOnUse" x1="91.9" y1="152.8" x2="249.5" y2="59.6"><stop offset="0" stop-color="#6cbf83"/><stop offset="0.05" stop-color="#24b5aa"/><stop offset="0.1" stop-color="#0bacbd"/><stop offset="0.15" stop-color="#07a9c2"/><stop offset="0.2" stop-color="#07aac1"/><stop offset="0.25" stop-color="#0dadbb"/><stop offset="0.3" stop-color="#18b1b3"/><stop offset="0.35" stop-color="#26b5a9"/><stop offset="0.4" stop-color="#34b8a0"/><stop offset="0.45" stop-color="#3fba9a"/><stop offset="0.5" stop-color="#42bb98"/><stop offset="0.55" stop-color="#3fba9a"/><stop offset="0.6" stop-color="#34b8a0"/><stop offset="0.65" stop-color="#26b5a9"/><stop offset="0.7" stop-color="#18b1b3"/><stop offset="0.75" stop-color="#0dadbb"/><stop offset="0.8" stop-color="#07aac1"/><stop offset="0.85" stop-color="#07a9c2"/><stop offset="0.9" stop-color="#0bacbd"/><stop offset="0.95" stop-color="#24b5aa"/><stop offset="1" stop-color="#6cbf83"/></linearGradient><linearGradient id="sa84" gradientUnits="userSpaceOnUse" x1="92.6" y1="153.5" x2="250.1" y2="60.3"><stop offset="0" stop-color="#56bd8d"/><stop offset="0.05" stop-color="#16b1b4"/><stop offset="0.1" stop-color="#06a8c4"/><stop offset="0.15" stop-color="#06a4c9"/><stop offset="0.2" stop-color="#06a5c8"/><stop offset="0.25" stop-color="#07a9c3"/><stop offset="0.3" stop-color="#0cadbb"/><stop offset="0.35" stop-color="#18b1b2"/><stop offset="0.4" stop-color="#24b5aa"/><stop offset="0.45" stop-color="#2db7a4"/><stop offset="0.5" stop-color="#30b7a2"/><stop offset="0.55" stop-color="#2db7a4"/><stop offset="0.6" stop-color="#24b5aa"/><stop offset="0.65" stop-color="#18b1b2"/><stop offset="0.7" stop-color="#0cadbb"/><stop offset="0.75" stop-color="#07a9c3"/><stop offset="0.8" stop-color="#06a5c8"/><stop offset="0.85" stop-color="#06a4c9"/><stop offset="0.9" stop-color="#06a8c4"/><stop offset="0.95" stop-color="#16b1b4"/><stop offset="1" stop-color="#56bd8d"/></linearGradient><linearGradient id="sa85" gradientUnits="userSpaceOnUse" x1="93.2" y1="154.2" x2="250.7" y2="60.9"><stop offset="0" stop-color="#40ba99"/><stop offset="0.05" stop-color="#0aacbd"/><stop offset="0.1" stop-color="#06a2cb"/><stop offset="0.15" stop-color="#079dcf"/><stop offset="0.2" stop-color="#069ece"/><stop offset="0.25" stop-color="#06a3ca"/><stop offset="0.3" stop-color="#06a8c4"/><stop offset="0.35" stop-color="#0cadbc"/><stop offset="0.4" stop-color="#15b0b4"/><stop offset="0.45" stop-color="#1cb3af"/><stop offset="0.5" stop-color="#1fb4ad"/><stop offset="0.55" stop-color="#1cb3af"/><stop offset="0.6" stop-color="#15b0b4"/><stop offset="0.65" stop-color="#0cadbc"/><stop offset="0.7" stop-color="#06a8c4"/><stop offset="0.75" stop-color="#06a3ca"/><stop offset="0.8" stop-color="#069ece"/><stop offset="0.85" stop-color="#079dcf"/><stop offset="0.9" stop-color="#06a2cb"/><stop offset="0.95" stop-color="#0aacbd"/><stop offset="1" stop-color="#40ba99"/></linearGradient><linearGradient id="sa86" gradientUnits="userSpaceOnUse" x1="93.8" y1="154.8" x2="251.3" y2="61.6"><stop offset="0" stop-color="#2cb7a5"/><stop offset="0.05" stop-color="#06a7c6"/><stop offset="0.1" stop-color="#089ad0"/><stop offset="0.15" stop-color="#0c94d2"/><stop offset="0.2" stop-color="#0b95d1"/><stop offset="0.25" stop-color="#079bd0"/><stop offset="0.3" stop-color="#06a2cb"/><stop offset="0.35" stop-color="#06a8c5"/><stop offset="0.4" stop-color="#09acbe"/><stop offset="0.45" stop-color="#0eaeba"/><stop offset="0.5" stop-color="#11afb8"/><stop offset="0.55" stop-color="#0eaeba"/><stop offset="0.6" stop-color="#09acbe"/><stop offset="0.65" stop-color="#06a8c5"/><stop offset="0.7" stop-color="#06a2cb"/><stop offset="0.75" stop-color="#079bd0"/><stop offset="0.8" stop-color="#0b95d1"/><stop offset="0.85" stop-color="#0c94d2"/><stop offset="0.9" stop-color="#089ad0"/><stop offset="0.95" stop-color="#06a7c6"/><stop offset="1" stop-color="#2cb7a5"/></linearGradient><linearGradient id="sa87" gradientUnits="userSpaceOnUse" x1="94.4" y1="155.4" x2="252" y2="62.3"><stop offset="0" stop-color="#1ab2b1"/><stop offset="0.05" stop-color="#06a0cd"/><stop offset="0.1" stop-color="#0f8fd2"/><stop offset="0.15" stop-color="#1389d3"/><stop offset="0.2" stop-color="#128ad3"/><stop offset="0.25" stop-color="#0e91d2"/><stop offset="0.3" stop-color="#089ad1"/><stop offset="0.35" stop-color="#06a1cc"/><stop offset="0.4" stop-color="#06a6c7"/><stop offset="0.45" stop-color="#07a9c3"/><stop offset="0.5" stop-color="#07aac2"/><stop offset="0.55" stop-color="#07a9c3"/><stop offset="0.6" stop-color="#06a6c7"/><stop offset="0.65" stop-color="#06a1cc"/><stop offset="0.7" stop-color="#089ad1"/><stop offset="0.75" stop-color="#0e91d2"/><stop offset="0.8" stop-color="#128ad3"/><stop offset="0.85" stop-color="#1389d3"/><stop offset="0.9" stop-color="#0f8fd2"/><stop offset="0.95" stop-color="#06a0cd"/><stop offset="1" stop-color="#1ab2b1"/></linearGradient><linearGradient id="sa88" gradientUnits="userSpaceOnUse" x1="95" y1="156" x2="252.6" y2="62.9"><stop offset="0" stop-color="#0cadbc"/><stop offset="0.05" stop-color="#0a96d1"/><stop offset="0.1" stop-color="#1485d4"/><stop offset="0.15" stop-color="#137fd6"/><stop offset="0.2" stop-color="#1481d6"/><stop offset="0.25" stop-color="#1486d4"/><stop offset="0.3" stop-color="#108ed2"/><stop offset="0.35" stop-color="#0998d1"/><stop offset="0.4" stop-color="#069ece"/><stop offset="0.45" stop-color="#06a2cc"/><stop offset="0.5" stop-color="#06a3ca"/><stop offset="0.55" stop-color="#06a2cc"/><stop offset="0.6" stop-color="#069ece"/><stop offset="0.65" stop-color="#0998d1"/><stop offset="0.7" stop-color="#108ed2"/><stop offset="0.75" stop-color="#1486d4"/><stop offset="0.8" stop-color="#1481d6"/><stop offset="0.85" stop-color="#137fd6"/><stop offset="0.9" stop-color="#1485d4"/><stop offset="0.95" stop-color="#0a96d1"/><stop offset="1" stop-color="#0cadbc"/></linearGradient><linearGradient id="sa89" gradientUnits="userSpaceOnUse" x1="95.7" y1="156.5" x2="253.2" y2="63.6"><stop offset="0" stop-color="#06a6c7"/><stop offset="0.05" stop-color="#1389d3"/><stop offset="0.1" stop-color="#117ad9"/><stop offset="0.15" stop-color="#0d75dc"/><stop offset="0.2" stop-color="#0e76dc"/><stop offset="0.25" stop-color="#127bd9"/><stop offset="0.3" stop-color="#1482d5"/><stop offset="0.35" stop-color="#128ad3"/><stop offset="0.4" stop-color="#0d92d2"/><stop offset="0.45" stop-color="#0997d1"/><stop offset="0.5" stop-color="#0899d1"/><stop offset="0.55" stop-color="#0997d1"/><stop offset="0.6" stop-color="#0d92d2"/><stop offset="0.65" stop-color="#128ad3"/><stop offset="0.7" stop-color="#1482d5"/><stop offset="0.75" stop-color="#127bd9"/><stop offset="0.8" stop-color="#0e76dc"/><stop offset="0.85" stop-color="#0d75dc"/><stop offset="0.9" stop-color="#117ad9"/><stop offset="0.95" stop-color="#1389d3"/><stop offset="1" stop-color="#06a6c7"/></linearGradient><linearGradient id="sa90" gradientUnits="userSpaceOnUse" x1="96.3" y1="157.1" x2="253.8" y2="64.3"><stop offset="0" stop-color="#079cd0"/><stop offset="0.05" stop-color="#137dd8"/><stop offset="0.1" stop-color="#066fdf"/><stop offset="0.15" stop-color="#0269e1"/><stop offset="0.2" stop-color="#036ae1"/><stop offset="0.25" stop-color="#0770df"/><stop offset="0.3" stop-color="#0e77db"/><stop offset="0.35" stop-color="#137ed7"/><stop offset="0.4" stop-color="#1484d4"/><stop offset="0.45" stop-color="#1389d3"/><stop offset="0.5" stop-color="#128ad3"/><stop offset="0.55" stop-color="#1389d3"/><stop offset="0.6" stop-color="#1484d4"/><stop offset="0.65" stop-color="#137ed7"/><stop offset="0.7" stop-color="#0e77db"/><stop offset="0.75" stop-color="#0770df"/><stop offset="0.8" stop-color="#036ae1"/><stop offset="0.85" stop-color="#0269e1"/><stop offset="0.9" stop-color="#066fdf"/><stop offset="0.95" stop-color="#137dd8"/><stop offset="1" stop-color="#079cd0"/></linearGradient><linearGradient id="sa91" gradientUnits="userSpaceOnUse" x1="96.9" y1="157.6" x2="254.4" y2="65"><stop offset="0" stop-color="#108fd2"/><stop offset="0.05" stop-color="#0a72de"/><stop offset="0.1" stop-color="#0661e0"/><stop offset="0.15" stop-color="#1957d8"/><stop offset="0.2" stop-color="#1359db"/><stop offset="0.25" stop-color="#0363e1"/><stop offset="0.3" stop-color="#046ce0"/><stop offset="0.35" stop-color="#0b74dd"/><stop offset="0.4" stop-color="#1079da"/><stop offset="0.45" stop-color="#137dd7"/><stop offset="0.5" stop-color="#137fd7"/><stop offset="0.55" stop-color="#137dd7"/><stop offset="0.6" stop-color="#1079da"/><stop offset="0.65" stop-color="#0b74dd"/><stop offset="0.7" stop-color="#046ce0"/><stop offset="0.75" stop-color="#0363e1"/><stop offset="0.8" stop-color="#1359db"/><stop offset="0.85" stop-color="#1957d8"/><stop offset="0.9" stop-color="#0661e0"/><stop offset="0.95" stop-color="#0a72de"/><stop offset="1" stop-color="#108fd2"/></linearGradient><linearGradient id="sa92" gradientUnits="userSpaceOnUse" x1="97.5" y1="158.1" x2="255" y2="65.8"><stop offset="0" stop-color="#1484d4"/><stop offset="0.05" stop-color="#0269e1"/><stop offset="0.1" stop-color="#2053d4"/><stop offset="0.15" stop-color="#2053d4"/><stop offset="0.2" stop-color="#2053d4"/><stop offset="0.25" stop-color="#2053d4"/><stop offset="0.3" stop-color="#0761e0"/><stop offset="0.35" stop-color="#036be1"/><stop offset="0.4" stop-color="#0971de"/><stop offset="0.45" stop-color="#0d75dc"/><stop offset="0.5" stop-color="#0e77db"/><stop offset="0.55" stop-color="#0d75dc"/><stop offset="0.6" stop-color="#0971de"/><stop offset="0.65" stop-color="#036be1"/><stop offset="0.7" stop-color="#0761e0"/><stop offset="0.75" stop-color="#2053d4"/><stop offset="0.8" stop-color="#2053d4"/><stop offset="0.85" stop-color="#2053d4"/><stop offset="0.9" stop-color="#2053d4"/><stop offset="0.95" stop-color="#0269e1"/><stop offset="1" stop-color="#1484d4"/></linearGradient><linearGradient id="sa93" gradientUnits="userSpaceOnUse" x1="98.1" y1="158.6" x2="255.7" y2="66.6"><stop offset="0" stop-color="#137fd7"/><stop offset="0.05" stop-color="#0661e0"/><stop offset="0.1" stop-color="#2053d4"/><stop offset="0.15" stop-color="#2053d4"/><stop offset="0.2" stop-color="#2053d4"/><stop offset="0.25" stop-color="#2053d4"/><stop offset="0.3" stop-color="#1c55d6"/><stop offset="0.35" stop-color="#0363e1"/><stop offset="0.4" stop-color="#036be1"/><stop offset="0.45" stop-color="#076fdf"/><stop offset="0.5" stop-color="#0871de"/><stop offset="0.55" stop-color="#076fdf"/><stop offset="0.6" stop-color="#036be1"/><stop offset="0.65" stop-color="#0363e1"/><stop offset="0.7" stop-color="#1c55d6"/><stop offset="0.75" stop-color="#2053d4"/><stop offset="0.8" stop-color="#2053d4"/><stop offset="0.85" stop-color="#2053d4"/><stop offset="0.9" stop-color="#2053d4"/><stop offset="0.95" stop-color="#0661e0"/><stop offset="1" stop-color="#137fd7"/></linearGradient><linearGradient id="sa94" gradientUnits="userSpaceOnUse" x1="98.8" y1="159.1" x2="256.3" y2="67.4"><stop offset="0" stop-color="#117ada"/><stop offset="0.05" stop-color="#1857d8"/><stop offset="0.1" stop-color="#2053d4"/><stop offset="0.15" stop-color="#2053d4"/><stop offset="0.2" stop-color="#2053d4"/><stop offset="0.25" stop-color="#2053d4"/><stop offset="0.3" stop-color="#2053d4"/><stop offset="0.35" stop-color="#135adb"/><stop offset="0.4" stop-color="#0364e1"/><stop offset="0.45" stop-color="#026ae1"/><stop offset="0.5" stop-color="#036be0"/><stop offset="0.55" stop-color="#026ae1"/><stop offset="0.6" stop-color="#0364e1"/><stop offset="0.65" stop-color="#135adb"/><stop offset="0.7" stop-color="#2053d4"/><stop offset="0.75" stop-color="#2053d4"/><stop offset="0.8" stop-color="#2053d4"/><stop offset="0.85" stop-color="#2053d4"/><stop offset="0.9" stop-color="#2053d4"/><stop offset="0.95" stop-color="#1857d8"/><stop offset="1" stop-color="#117ada"/></linearGradient><linearGradient id="sa95" gradientUnits="userSpaceOnUse" x1="99.4" y1="159.6" x2="256.9" y2="68.2"><stop offset="0" stop-color="#0e76dc"/><stop offset="0.05" stop-color="#2053d4"/><stop offset="0.1" stop-color="#2053d4"/><stop offset="0.15" stop-color="#2053d4"/><stop offset="0.2" stop-color="#2053d4"/><stop offset="0.25" stop-color="#2053d4"/><stop offset="0.3" stop-color="#2053d4"/><stop offset="0.35" stop-color="#2053d4"/><stop offset="0.4" stop-color="#0b5edf"/><stop offset="0.45" stop-color="#0265e1"/><stop offset="0.5" stop-color="#0267e1"/><stop offset="0.55" stop-color="#0265e1"/><stop offset="0.6" stop-color="#0b5edf"/><stop offset="0.65" stop-color="#2053d4"/><stop offset="0.7" stop-color="#2053d4"/><stop offset="0.75" stop-color="#2053d4"/><stop offset="0.8" stop-color="#2053d4"/><stop offset="0.85" stop-color="#2053d4"/><stop offset="0.9" stop-color="#2053d4"/><stop offset="0.95" stop-color="#2053d4"/><stop offset="1" stop-color="#0e76dc"/></linearGradient></defs>
<polygon fill="url(#sa0)" points="40.1 125.5 50 121.6 59.8 116.7 69.7 111 79.6 105 89.4 98.8 99.3 92.6 109.2 86.5 119.1 80.7 128.9 75.1 138.8 69.8 148.7 64.6 158.5 59.4 168.4 54 178.3 48.3 188.1 41.8 198 34.3 199.3 34.2 189.5 41.7 179.6 48.2 169.7 53.9 159.9 59.3 150 64.6 140.1 69.8 130.2 75.2 120.4 80.8 110.5 86.6 100.6 92.7 90.8 98.9 80.9 105.1 71 111.2 61.2 116.8 51.3 121.8 41.4 125.8"/>
<polygon fill="url(#sa1)" points="40.7 125.6 50.6 121.7 60.5 116.7 70.3 111.1 80.2 105 90.1 98.8 99.9 92.6 109.8 86.6 119.7 80.7 129.5 75.1 139.4 69.8 149.3 64.6 159.1 59.4 169 54 178.9 48.2 188.7 41.7 198.6 34.2 199.9 34.1 190.1 41.6 180.2 48.1 170.3 53.9 160.5 59.3 150.6 64.6 140.7 69.8 130.9 75.2 121 80.8 111.1 86.7 101.3 92.7 91.4 99 81.5 105.2 71.7 111.3 61.8 116.9 51.9 121.9 42.1 125.9"/>
<polygon fill="url(#sa2)" points="41.3 125.7 51.2 121.8 61.1 116.8 70.9 111.2 80.8 105.1 90.7 98.9 100.6 92.7 110.4 86.6 120.3 80.8 130.2 75.2 140 69.8 149.9 64.6 159.8 59.3 169.6 53.9 179.5 48.2 189.4 41.7 199.2 34.2 200.6 34.1 190.7 41.6 180.8 48.1 171 53.9 161.1 59.3 151.2 64.6 141.4 69.8 131.5 75.2 121.6 80.8 111.8 86.7 101.9 92.8 92 99 82.1 105.3 72.3 111.3 62.4 117 52.5 122 42.7 126"/>
<polygon fill="url(#sa3)" points="42 125.9 51.8 121.9 61.7 116.9 71.6 111.2 81.4 105.2 91.3 99 101.2 92.7 111 86.7 120.9 80.8 130.8 75.2 140.6 69.8 150.5 64.6 160.4 59.3 170.2 53.9 180.1 48.1 190 41.6 199.8 34.1 201.2 34.1 191.3 41.6 181.4 48.1 171.6 53.9 161.7 59.3 151.8 64.6 142 69.8 132.1 75.3 122.2 80.9 112.4 86.8 102.5 92.9 92.6 99.1 82.8 105.3 72.9 111.4 63 117.1 53.2 122.1 43.3 126.1"/>
<polygon fill="url(#sa4)" points="42.6 126 52.5 122 62.3 117 72.2 111.3 82.1 105.3 91.9 99 101.8 92.8 111.7 86.7 121.5 80.8 131.4 75.2 141.3 69.8 151.1 64.6 161 59.3 170.9 53.9 180.7 48.1 190.6 41.6 200.5 34.1 201.8 34.1 191.9 41.6 182.1 48.1 172.2 53.9 162.3 59.3 152.5 64.6 142.6 69.9 132.7 75.3 122.9 80.9 113 86.8 103.1 92.9 93.3 99.2 83.4 105.4 73.5 111.5 63.7 117.2 53.8 122.2 43.9 126.3"/>
<polygon fill="url(#sa5)" points="43.2 126.1 53.1 122.1 62.9 117.1 72.8 111.4 82.7 105.3 92.5 99.1 102.4 92.9 112.3 86.8 122.1 80.9 132 75.3 141.9 69.8 151.7 64.6 161.6 59.3 171.5 53.9 181.3 48.1 191.2 41.6 201.1 34.1 202.4 34.1 192.5 41.6 182.7 48.1 172.8 53.9 162.9 59.3 153.1 64.6 143.2 69.9 133.3 75.4 123.5 81 113.6 86.9 103.7 93 93.9 99.2 84 105.5 74.1 111.6 64.3 117.3 54.4 122.3 44.5 126.4"/>
<polygon fill="url(#sa6)" points="43.8 126.2 53.7 122.2 63.6 117.2 73.4 111.5 83.3 105.4 93.2 99.2 103 92.9 112.9 86.8 122.8 80.9 132.6 75.3 142.5 69.9 152.4 64.6 162.2 59.3 172.1 53.9 182 48.1 191.8 41.6 201.7 34.1 203 34.1 193.2 41.6 183.3 48.1 173.4 53.9 163.6 59.4 153.7 64.7 143.8 70 134 75.4 124.1 81.1 114.2 87 104.4 93.1 94.5 99.3 84.6 105.6 74.8 111.7 64.9 117.4 55 122.5 45.2 126.5"/>
<polygon fill="url(#sa7)" points="44.4 126.4 54.3 122.3 64.2 117.3 74 111.6 83.9 105.5 93.8 99.2 103.6 93 113.5 86.9 123.4 81 133.2 75.3 143.1 69.9 153 64.6 162.8 59.3 172.7 53.9 182.6 48.1 192.4 41.6 202.3 34.1 203.6 34.1 193.8 41.6 183.9 48.1 174 53.9 164.2 59.4 154.3 64.7 144.4 70 134.6 75.5 124.7 81.1 114.8 87 105 93.2 95.1 99.4 85.2 105.7 75.4 111.8 65.5 117.5 55.6 122.6 45.8 126.6"/>
<polygon fill="url(#sa8)" points="45.1 126.5 54.9 122.4 64.8 117.4 74.7 111.7 84.5 105.6 94.4 99.3 104.3 93.1 114.1 87 124 81.1 133.9 75.4 143.7 70 153.6 64.7 163.5 59.4 173.3 53.9 183.2 48.1 193.1 41.6 202.9 34.1 204.3 34.1 194.4 41.6 184.5 48.1 174.7 54 164.8 59.4 154.9 64.8 145.1 70.1 135.2 75.5 125.3 81.2 115.5 87.1 105.6 93.2 95.7 99.5 85.9 105.8 76 111.9 66.1 117.6 56.3 122.7 46.4 126.8"/>
<polygon fill="url(#sa9)" points="45.7 126.6 55.6 122.5 65.4 117.5 75.3 111.8 85.2 105.7 95 99.4 104.9 93.1 114.8 87 124.6 81.1 134.5 75.5 144.4 70 154.2 64.7 164.1 59.4 174 53.9 183.8 48.1 193.7 41.6 203.6 34.1 204.9 34.2 195 41.7 185.1 48.2 175.3 54 165.4 59.5 155.5 64.8 145.7 70.1 135.8 75.6 126 81.3 116.1 87.2 106.2 93.3 96.4 99.6 86.5 105.9 76.6 112 66.8 117.7 56.9 122.8 47 126.9"/>
<polygon fill="url(#sa10)" points="46.3 126.8 56.2 122.7 66 117.6 75.9 111.9 85.8 105.8 95.6 99.5 105.5 93.2 115.4 87.1 125.2 81.2 135.1 75.5 145 70.1 154.8 64.7 164.7 59.4 174.6 54 184.4 48.1 194.3 41.6 204.2 34.1 205.5 34.2 195.6 41.7 185.8 48.2 175.9 54.1 166 59.6 156.2 64.9 146.3 70.2 136.4 75.7 126.6 81.4 116.7 87.3 106.8 93.4 97 99.7 87.1 106 77.2 112.1 67.4 117.8 57.5 122.9 47.6 127"/>
<polygon fill="url(#sa11)" points="46.9 126.9 56.8 122.8 66.7 117.7 76.5 112 86.4 105.8 96.3 99.6 106.1 93.3 116 87.2 125.9 81.3 135.7 75.6 145.6 70.1 155.5 64.8 165.3 59.5 175.2 54 185.1 48.2 194.9 41.6 204.8 34.2 206.1 34.3 196.2 41.8 186.4 48.3 176.5 54.1 166.6 59.6 156.8 65 146.9 70.3 137.1 75.8 127.2 81.5 117.3 87.4 107.5 93.5 97.6 99.8 87.7 106.1 77.9 112.2 68 117.9 58.1 123 48.3 127.2"/>
<polygon fill="url(#sa12)" points="47.6 127 57.4 122.9 67.3 117.8 77.1 112.1 87 105.9 96.9 99.7 106.7 93.4 116.6 87.3 126.5 81.4 136.3 75.7 146.2 70.2 156.1 64.9 165.9 59.6 175.8 54.1 185.7 48.2 195.5 41.7 205.4 34.2 206.7 34.4 196.9 41.8 187 48.4 177.1 54.2 167.3 59.7 157.4 65.1 147.5 70.4 137.7 75.9 127.8 81.6 117.9 87.5 108.1 93.6 98.2 99.9 88.3 106.2 78.5 112.3 68.6 118 58.8 123.1 48.9 127.3"/>
<polygon fill="url(#sa13)" points="48.2 127.1 58 123 67.9 117.9 77.8 112.2 87.6 106 97.5 99.8 107.4 93.5 117.2 87.4 127.1 81.5 137 75.8 146.8 70.3 156.7 65 166.6 59.6 176.4 54.1 186.3 48.3 196.2 41.8 206 34.3 207.3 34.5 197.5 41.9 187.6 48.4 177.7 54.3 167.9 59.8 158 65.1 148.2 70.5 138.3 76 128.4 81.7 118.6 87.6 108.7 93.7 98.8 100 89 106.3 79.1 112.4 69.2 118.1 59.4 123.3 49.5 127.4"/>
<polygon fill="url(#sa14)" points="48.8 127.3 58.7 123.1 68.5 118 78.4 112.3 88.3 106.2 98.1 99.9 108 93.6 117.8 87.5 127.7 81.6 137.6 75.9 147.4 70.4 157.3 65 167.2 59.7 177 54.2 186.9 48.3 196.8 41.8 206.6 34.4 208 34.6 198.1 42 188.2 48.5 178.4 54.4 168.5 59.9 158.6 65.3 148.8 70.6 138.9 76.1 129 81.8 119.2 87.7 109.3 93.8 99.5 100.1 89.6 106.4 79.7 112.5 69.9 118.3 60 123.4 50.1 127.5"/>
<polygon fill="url(#sa15)" points="49.4 127.4 59.3 123.2 69.1 118.1 79 112.4 88.9 106.3 98.7 100 108.6 93.7 118.5 87.6 128.3 81.7 138.2 76 148.1 70.5 157.9 65.1 167.8 59.8 177.7 54.3 187.5 48.4 197.4 41.9 207.2 34.5 208.6 34.7 198.7 42.1 188.8 48.6 179 54.5 169.1 60 159.3 65.4 149.4 70.7 139.5 76.2 129.7 81.9 119.8 87.8 109.9 94 100.1 100.2 90.2 106.5 80.3 112.6 70.5 118.4 60.6 123.5 50.7 127.7"/>
<polygon fill="url(#sa16)" points="50 127.5 59.9 123.4 69.8 118.2 79.6 112.5 89.5 106.4 99.4 100.1 109.2 93.8 119.1 87.7 129 81.8 138.8 76.1 148.7 70.6 158.5 65.2 168.4 59.9 178.3 54.4 188.1 48.5 198 42 207.9 34.6 209.2 34.8 199.3 42.2 189.5 48.7 179.6 54.6 169.7 60.1 159.9 65.5 150 70.8 140.1 76.3 130.3 82 120.4 88 110.6 94.1 100.7 100.3 90.8 106.6 81 112.7 71.1 118.5 61.2 123.6 51.4 127.8"/>
<polygon fill="url(#sa17)" points="50.7 127.6 60.5 123.5 70.4 118.3 80.2 112.6 90.1 106.5 100 100.2 109.8 93.9 119.7 87.8 129.6 81.9 139.4 76.2 149.3 70.7 159.2 65.3 169 60 178.9 54.5 188.8 48.6 198.6 42.1 208.5 34.7 209.8 34.9 199.9 42.4 190.1 48.9 180.2 54.7 170.4 60.2 160.5 65.6 150.6 71 140.8 76.5 130.9 82.2 121 88.1 111.2 94.2 101.3 100.5 91.4 106.7 81.6 112.8 71.7 118.6 61.9 123.7 52 127.9"/>
<polygon fill="url(#sa18)" points="51.3 127.8 61.1 123.6 71 118.5 80.9 112.7 90.7 106.6 100.6 100.3 110.5 94.1 120.3 87.9 130.2 82 140.1 76.3 149.9 70.8 159.8 65.5 169.6 60.1 179.5 54.6 189.4 48.7 199.2 42.2 209.1 34.8 210.4 35.1 200.6 42.5 190.7 49 180.8 54.8 171 60.4 161.1 65.7 151.2 71.1 141.4 76.6 131.5 82.3 121.7 88.2 111.8 94.3 101.9 100.6 92.1 106.8 82.2 112.9 72.3 118.7 62.5 123.8 52.6 128"/>
<polygon fill="url(#sa19)" points="51.9 127.9 61.8 123.7 71.6 118.6 81.5 112.8 91.4 106.7 101.2 100.4 111.1 94.2 120.9 88.1 130.8 82.1 140.7 76.4 150.5 70.9 160.4 65.6 170.3 60.2 180.1 54.7 190 48.8 199.9 42.3 209.7 34.9 211 35.2 201.2 42.6 191.3 49.1 181.5 55 171.6 60.5 161.7 65.8 151.9 71.2 142 76.7 132.1 82.4 122.3 88.3 112.4 94.4 102.5 100.7 92.7 107 82.8 113.1 73 118.8 63.1 123.9 53.2 128.2"/>
<polygon fill="url(#sa20)" points="52.5 128 62.4 123.8 72.2 118.7 82.1 112.9 92 106.8 101.8 100.6 111.7 94.3 121.6 88.2 131.4 82.3 141.3 76.6 151.2 71.1 161 65.7 170.9 60.3 180.7 54.8 190.6 49 200.5 42.5 210.3 35.1 211.7 35.4 201.8 42.8 191.9 49.2 182.1 55.1 172.2 60.6 162.3 66 152.5 71.3 142.6 76.8 132.8 82.5 122.9 88.5 113 94.6 103.2 100.8 93.3 107.1 83.4 113.2 73.6 118.9 63.7 124.1 53.9 128.3"/>
<polygon fill="url(#sa21)" points="53.1 128.1 63 123.9 72.9 118.8 82.7 113 92.6 106.9 102.5 100.7 112.3 94.4 122.2 88.3 132 82.4 141.9 76.7 151.8 71.2 161.6 65.8 171.5 60.5 181.4 55 191.2 49.1 201.1 42.6 210.9 35.2 212.3 35.5 202.4 42.9 192.6 49.4 182.7 55.2 172.8 60.7 163 66.1 153.1 71.5 143.2 77 133.4 82.7 123.5 88.6 113.6 94.7 103.8 100.9 93.9 107.2 84.1 113.3 74.2 119 64.3 124.2 54.5 128.4"/>
<polygon fill="url(#sa22)" points="53.8 128.3 63.6 124 73.5 118.9 83.3 113.2 93.2 107.1 103.1 100.8 112.9 94.6 122.8 88.4 132.7 82.5 142.5 76.8 152.4 71.3 162.3 65.9 172.1 60.6 182 55.1 191.8 49.2 201.7 42.7 211.6 35.3 212.9 35.7 203 43.1 193.2 49.5 183.3 55.4 173.4 60.9 163.6 66.3 153.7 71.6 143.9 77.1 134 82.8 124.1 88.7 114.3 94.8 104.4 101.1 94.5 107.3 84.7 113.4 74.8 119.2 65 124.3 55.1 128.5"/>
<polygon fill="url(#sa23)" points="54.4 128.4 64.2 124.2 74.1 119 84 113.3 93.8 107.2 103.7 100.9 113.6 94.7 123.4 88.6 133.3 82.7 143.1 77 153 71.5 162.9 66.1 172.7 60.7 182.6 55.2 192.5 49.4 202.3 42.9 212.2 35.5 213.5 35.9 203.6 43.2 193.8 49.7 183.9 55.5 174.1 61 164.2 66.4 154.3 71.8 144.5 77.3 134.6 83 124.8 88.9 114.9 95 105 101.2 95.2 107.5 85.3 113.5 75.4 119.3 65.6 124.4 55.7 128.7"/>
<polygon fill="url(#sa24)" points="55 128.5 64.9 124.3 74.7 119.1 84.6 113.4 94.5 107.3 104.3 101.1 114.2 94.8 124 88.7 133.9 82.8 143.8 77.1 153.6 71.6 163.5 66.2 173.3 60.9 183.2 55.4 193.1 49.5 202.9 43 212.8 35.7 214.1 36 204.3 43.4 194.4 49.8 184.5 55.7 174.7 61.2 164.8 66.6 155 71.9 145.1 77.4 135.2 83.1 125.4 89 115.5 95.1 105.6 101.4 95.8 107.6 85.9 113.7 76.1 119.4 66.2 124.6 56.3 128.8"/>
<polygon fill="url(#sa25)" points="55.6 128.7 65.5 124.4 75.3 119.3 85.2 113.5 95.1 107.4 104.9 101.2 114.8 95 124.7 88.9 134.5 82.9 144.4 77.3 154.2 71.8 164.1 66.4 174 61 183.8 55.5 193.7 49.7 203.6 43.2 213.4 35.8 214.7 36.2 204.9 43.6 195 50 185.2 55.9 175.3 61.4 165.4 66.7 155.6 72.1 145.7 77.6 135.9 83.3 126 89.2 116.1 95.3 106.3 101.5 96.4 107.7 86.5 113.8 76.7 119.6 66.8 124.7 57 129"/>
<polygon fill="url(#sa26)" points="56.2 128.8 66.1 124.5 76 119.4 85.8 113.7 95.7 107.6 105.6 101.3 115.4 95.1 125.3 89 135.1 83.1 145 77.4 154.9 71.9 164.7 66.5 174.6 61.2 184.4 55.7 194.3 49.8 204.2 43.4 214 36 215.4 36.4 205.5 43.8 195.6 50.2 185.8 56 175.9 61.6 166.1 66.9 156.2 72.3 146.3 77.8 136.5 83.5 126.6 89.4 116.7 95.4 106.9 101.7 97 107.9 87.2 114 77.3 119.7 67.4 124.8 57.6 129.1"/>
<polygon fill="url(#sa27)" points="56.9 128.9 66.7 124.7 76.6 119.5 86.4 113.8 96.3 107.7 106.2 101.5 116 95.3 125.9 89.2 135.8 83.3 145.6 77.6 155.5 72.1 165.3 66.7 175.2 61.3 185.1 55.8 194.9 50 204.8 43.5 214.7 36.2 216 36.7 206.1 44 196.3 50.4 186.4 56.2 176.5 61.7 166.7 67.1 156.8 72.5 146.9 78 137.1 83.6 127.2 89.5 117.4 95.6 107.5 101.8 97.6 108 87.8 114.1 77.9 119.8 68.1 125 58.2 129.2"/>
<polygon fill="url(#sa28)" points="57.5 129.1 67.3 124.8 77.2 119.7 87.1 113.9 96.9 107.9 106.8 101.6 116.7 95.4 126.5 89.3 136.4 83.4 146.2 77.7 156.1 72.3 166 66.9 175.8 61.5 185.7 56 195.5 50.2 205.4 43.7 215.3 36.4 216.6 36.9 206.7 44.2 196.9 50.6 187 56.4 177.2 61.9 167.3 67.3 157.4 72.7 147.6 78.1 137.7 83.8 127.8 89.7 118 95.8 108.1 102 98.3 108.2 88.4 114.3 78.5 120 68.7 125.1 58.8 129.4"/>
<polygon fill="url(#sa29)" points="58.1 129.2 68 125 77.8 119.8 87.7 114.1 97.5 108 107.4 101.8 117.3 95.6 127.1 89.5 137 83.6 146.9 77.9 156.7 72.4 166.6 67.1 176.4 61.7 186.3 56.2 196.2 50.4 206 43.9 215.9 36.6 217.2 37.1 207.3 44.4 197.5 50.8 187.6 56.6 177.8 62.1 167.9 67.5 158 72.9 148.2 78.3 138.3 84 128.5 89.9 118.6 96 108.7 102.2 98.9 108.4 89 114.4 79.2 120.1 69.3 125.3 59.4 129.6"/>
<polygon fill="url(#sa30)" points="58.7 129.4 68.6 125.1 78.4 120 88.3 114.2 98.2 108.2 108 102 117.9 95.8 127.8 89.7 137.6 83.8 147.5 78.1 157.3 72.6 167.2 67.3 177.1 61.9 186.9 56.4 196.8 50.6 206.6 44.1 216.5 36.8 217.8 37.4 208 44.6 198.1 51 188.2 56.9 178.4 62.3 168.5 67.7 158.7 73.1 148.8 78.5 138.9 84.2 129.1 90.1 119.2 96.1 109.4 102.3 99.5 108.5 89.6 114.6 79.8 120.3 69.9 125.4 60.1 129.7"/>
<polygon fill="url(#sa31)" points="59.3 129.5 69.2 125.3 79.1 120.1 88.9 114.4 98.8 108.3 108.6 102.1 118.5 95.9 128.4 89.9 138.2 84 148.1 78.3 158 72.8 167.8 67.5 177.7 62.1 187.5 56.6 197.4 50.8 207.3 44.4 217.1 37.1 218.4 37.6 208.6 44.9 198.7 51.3 188.9 57.1 179 62.6 169.1 67.9 159.3 73.3 149.4 78.7 139.6 84.4 129.7 90.3 119.8 96.3 110 102.5 100.1 108.7 90.3 114.7 80.4 120.4 70.5 125.6 60.7 129.9"/>
<polygon fill="url(#sa32)" points="60 129.7 69.8 125.4 79.7 120.3 89.5 114.5 99.4 108.5 109.3 102.3 119.1 96.1 129 90.1 138.9 84.2 148.7 78.5 158.6 73 168.4 67.7 178.3 62.3 188.2 56.8 198 51 207.9 44.6 217.7 37.3 219.1 37.9 209.2 45.1 199.3 51.5 189.5 57.3 179.6 62.8 169.8 68.1 159.9 73.5 150 78.9 140.2 84.6 130.3 90.5 120.5 96.5 110.6 102.7 100.7 108.9 90.9 114.9 81 120.6 71.2 125.7 61.3 130"/>
<polygon fill="url(#sa33)" points="60.6 129.8 70.4 125.6 80.3 120.4 90.2 114.7 100 108.7 109.9 102.5 119.7 96.3 129.6 90.2 139.5 84.4 149.3 78.7 159.2 73.2 169 67.9 178.9 62.5 188.8 57 198.6 51.2 208.5 44.8 218.3 37.6 219.7 38.1 209.8 45.3 200 51.7 190.1 57.5 180.2 63 170.4 68.3 160.5 73.7 150.7 79.2 140.8 84.8 130.9 90.7 121.1 96.7 111.2 102.9 101.4 109 91.5 115.1 81.6 120.8 71.8 125.9 61.9 130.2"/>
<polygon fill="url(#sa34)" points="61.2 130 71.1 125.7 80.9 120.6 90.8 114.9 100.6 108.8 110.5 102.7 120.4 96.5 130.2 90.4 140.1 84.6 149.9 78.9 159.8 73.4 169.7 68.1 179.5 62.7 189.4 57.3 199.2 51.4 209.1 45.1 219 37.8 220.3 38.4 210.4 45.6 200.6 52 190.7 57.8 180.9 63.2 171 68.6 161.1 73.9 151.3 79.4 141.4 85 131.6 90.9 121.7 96.9 111.8 103 102 109.2 92.1 115.2 82.3 120.9 72.4 126.1 62.5 130.3"/>
<polygon fill="url(#sa35)" points="61.8 130.2 71.7 125.9 81.5 120.7 91.4 115 101.3 109 111.1 102.8 121 96.7 130.8 90.6 140.7 84.8 150.6 79.1 160.4 73.7 170.3 68.3 180.1 63 190 57.5 199.9 51.7 209.7 45.3 219.6 38.1 220.9 38.7 211.1 45.8 201.2 52.2 191.3 58 181.5 63.5 171.6 68.8 161.8 74.1 151.9 79.6 142 85.2 132.2 91.1 122.3 97.1 112.5 103.2 102.6 109.4 92.7 115.4 82.9 121.1 73 126.2 63.2 130.5"/>
<polygon fill="url(#sa36)" points="62.5 130.3 72.3 126 82.2 120.9 92 115.2 101.9 109.2 111.7 103 121.6 96.9 131.5 90.8 141.3 85 151.2 79.3 161 73.9 170.9 68.5 180.8 63.2 190.6 57.7 200.5 51.9 210.3 45.6 220.2 38.3 221.5 38.9 211.7 46.1 201.8 52.4 192 58.2 182.1 63.7 172.2 69 162.4 74.4 152.5 79.8 142.7 85.4 132.8 91.3 122.9 97.3 113.1 103.4 103.2 109.6 93.4 115.6 83.5 121.3 73.6 126.4 63.8 130.7"/>
<polygon fill="url(#sa37)" points="63.1 130.5 72.9 126.2 82.8 121.1 92.6 115.4 102.5 109.4 112.4 103.2 122.2 97.1 132.1 91 141.9 85.2 151.8 79.6 161.7 74.1 171.5 68.8 181.4 63.4 191.2 58 201.1 52.2 211 45.8 220.8 38.6 222.1 39.2 212.3 46.3 202.4 52.7 192.6 58.5 182.7 63.9 172.9 69.2 163 74.6 153.1 80 143.3 85.7 133.4 91.5 123.6 97.5 113.7 103.6 103.8 109.8 94 115.8 84.1 121.4 74.3 126.6 64.4 130.9"/>
<polygon fill="url(#sa38)" points="63.7 130.7 73.6 126.4 83.4 121.2 93.3 115.5 103.1 109.5 113 103.4 122.8 97.3 132.7 91.3 142.6 85.4 152.4 79.8 162.3 74.3 172.1 69 182 63.7 191.9 58.2 201.7 52.4 211.6 46.1 221.4 38.9 222.8 39.5 212.9 46.6 203 52.9 193.2 58.7 183.3 64.2 173.5 69.5 163.6 74.8 153.8 80.3 143.9 85.9 134 91.7 124.2 97.7 114.3 103.8 104.5 110 94.6 115.9 84.7 121.6 74.9 126.7 65 131"/>
<polygon fill="url(#sa39)" points="64.3 130.8 74.2 126.5 84 121.4 93.9 115.7 103.7 109.7 113.6 103.6 123.5 97.5 133.3 91.5 143.2 85.6 153 80 162.9 74.6 172.8 69.2 182.6 63.9 192.5 58.4 202.3 52.6 212.2 46.3 222.1 39.2 223.4 39.7 213.5 46.9 203.7 53.2 193.8 58.9 183.9 64.4 174.1 69.7 164.2 75 154.4 80.5 144.5 86.1 134.7 91.9 124.8 97.9 114.9 104 105.1 110.2 95.2 116.1 85.4 121.8 75.5 126.9 65.6 131.2"/>
<polygon fill="url(#sa40)" points="64.9 131 74.8 126.7 84.7 121.6 94.5 115.9 104.4 109.9 114.2 103.8 124.1 97.7 133.9 91.7 143.8 85.9 153.7 80.2 163.5 74.8 173.4 69.4 183.2 64.1 193.1 58.7 202.9 52.9 212.8 46.6 222.7 39.4 224 40 214.1 47.1 204.3 53.4 194.4 59.2 184.6 64.6 174.7 70 164.8 75.3 155 80.7 145.1 86.3 135.3 92.2 125.4 98.1 115.6 104.2 105.7 110.4 95.8 116.3 86 122 76.1 127.1 66.3 131.4"/>
<polygon fill="url(#sa41)" points="65.6 131.2 75.4 126.9 85.3 121.8 95.1 116.1 105 110.1 114.8 104 124.7 97.9 134.6 91.9 144.4 86.1 154.3 80.5 164.1 75 174 69.7 183.9 64.4 193.7 58.9 203.6 53.1 213.4 46.8 223.3 39.7 224.6 40.3 214.8 47.4 204.9 53.7 195 59.4 185.2 64.9 175.3 70.2 165.5 75.5 155.6 81 145.8 86.6 135.9 92.4 126 98.4 116.2 104.5 106.3 110.6 96.5 116.5 86.6 122.2 76.7 127.3 66.9 131.6"/>
<polygon fill="url(#sa42)" points="66.2 131.4 76 127.1 85.9 122 95.7 116.3 105.6 110.3 115.5 104.2 125.3 98.1 135.2 92.1 145 86.3 154.9 80.7 164.8 75.2 174.6 69.9 184.5 64.6 194.3 59.1 204.2 53.4 214 47.1 223.9 40 225.2 40.5 215.4 47.6 205.5 53.9 195.7 59.7 185.8 65.1 175.9 70.4 166.1 75.7 156.2 81.2 146.4 86.8 136.5 92.6 126.7 98.6 116.8 104.7 106.9 110.8 97.1 116.7 87.2 122.4 77.4 127.5 67.5 131.9"/>
<polygon fill="url(#sa43)" points="66.8 131.6 76.7 127.3 86.5 122.2 96.4 116.5 106.2 110.5 116.1 104.4 125.9 98.3 135.8 92.3 145.7 86.5 155.5 80.9 165.4 75.5 175.2 70.2 185.1 64.8 194.9 59.4 204.8 53.6 214.7 47.3 224.5 40.2 225.8 40.8 216 47.8 206.1 54.1 196.3 59.9 186.4 65.3 176.6 70.6 166.7 76 156.8 81.4 147 87 137.1 92.8 127.3 98.8 117.4 104.9 107.6 111 97.7 116.9 87.8 122.6 78 127.7 68.1 132.1"/>
<polygon fill="url(#sa44)" points="67.4 131.8 77.3 127.5 87.1 122.4 97 116.7 106.8 110.7 116.7 104.6 126.6 98.6 136.4 92.6 146.3 86.8 156.1 81.2 166 75.7 175.8 70.4 185.7 65.1 195.6 59.6 205.4 53.9 215.3 47.6 225.1 40.5 226.5 41 216.6 48 206.7 54.3 196.9 60.1 187 65.5 177.2 70.9 167.3 76.2 157.5 81.6 147.6 87.2 137.7 93 127.9 99 118 105.1 108.2 111.2 98.3 117.2 88.5 122.8 78.6 127.9 68.8 132.3"/>
<polygon fill="url(#sa45)" points="68 132 77.9 127.7 87.8 122.6 97.6 116.9 107.5 111 117.3 104.9 127.2 98.8 137 92.8 146.9 87 156.8 81.4 166.6 75.9 176.5 70.6 186.3 65.3 196.2 59.8 206 54.1 215.9 47.8 225.8 40.7 227.1 41.2 217.2 48.3 207.4 54.5 197.5 60.3 187.7 65.7 177.8 71.1 167.9 76.4 158.1 81.8 148.2 87.5 138.4 93.3 128.5 99.2 118.7 105.3 108.8 111.4 98.9 117.4 89.1 123 79.2 128.1 69.4 132.5"/>
<polygon fill="url(#sa46)" points="68.7 132.3 78.5 127.9 88.4 122.8 98.2 117.1 108.1 111.2 117.9 105.1 127.8 99 137.7 93 147.5 87.2 157.4 81.6 167.2 76.2 177.1 70.8 186.9 65.5 196.8 60.1 206.7 54.3 216.5 48 226.4 40.9 227.7 41.4 217.8 48.5 208 54.8 198.1 60.5 188.3 66 178.4 71.3 168.6 76.6 158.7 82.1 148.8 87.7 139 93.5 129.1 99.4 119.3 105.5 109.4 111.6 99.6 117.6 89.7 123.2 79.9 128.4 70 132.7"/>
<polygon fill="url(#sa47)" points="69.3 132.5 79.1 128.1 89 123 98.8 117.3 108.7 111.4 118.6 105.3 128.4 99.2 138.3 93.2 148.1 87.4 158 81.8 167.8 76.4 177.7 71 187.6 65.7 197.4 60.3 207.3 54.5 217.1 48.2 227 41.2 228.3 41.7 218.5 48.7 208.6 55 198.7 60.7 188.9 66.2 179 71.5 169.2 76.8 159.3 82.3 149.5 87.9 139.6 93.7 129.8 99.7 119.9 105.7 110 111.8 100.2 117.8 90.3 123.4 80.5 128.6 70.6 133"/>
<polygon fill="url(#sa48)" points="69.9 132.7 79.8 128.3 89.6 123.2 99.5 117.5 109.3 111.6 119.2 105.5 129 99.4 138.9 93.4 148.8 87.6 158.6 82 168.5 76.6 178.3 71.3 188.2 65.9 198 60.5 207.9 54.7 217.7 48.4 227.6 41.4 228.9 41.9 219.1 48.9 209.2 55.2 199.4 60.9 189.5 66.4 179.6 71.7 169.8 77.1 159.9 82.5 150.1 88.1 140.2 93.9 130.4 99.9 120.5 106 110.7 112 100.8 118 90.9 123.7 81.1 128.8 71.2 133.2"/>
<polygon fill="url(#sa49)" points="70.5 132.9 80.4 128.5 90.2 123.4 100.1 117.7 109.9 111.8 119.8 105.7 129.7 99.6 139.5 93.7 149.4 87.9 159.2 82.3 169.1 76.8 178.9 71.5 188.8 66.1 198.6 60.7 208.5 54.9 218.4 48.7 228.2 41.6 229.5 42.1 219.7 49.1 209.8 55.4 200 61.2 190.1 66.6 180.3 72 170.4 77.3 160.6 82.8 150.7 88.4 140.8 94.2 131 100.1 121.1 106.2 111.3 112.3 101.4 118.2 91.6 123.9 81.7 129 71.9 133.4"/>
<polygon fill="url(#sa50)" points="71.1 133.1 81 128.8 90.9 123.6 100.7 118 110.6 112 120.4 105.9 130.3 99.9 140.1 93.9 150 88.1 159.8 82.5 169.7 77 179.6 71.7 189.4 66.4 199.3 60.9 209.1 55.1 219 48.9 228.8 41.8 230.2 42.4 220.3 49.4 210.5 55.7 200.6 61.4 190.7 66.9 180.9 72.2 171 77.5 161.2 83 151.3 88.6 141.5 94.4 131.6 100.4 121.8 106.4 111.9 112.5 102 118.5 92.2 124.1 82.3 129.3 72.5 133.7"/>
<polygon fill="url(#sa51)" points="71.8 133.4 81.6 129 91.5 123.9 101.3 118.2 111.2 112.2 121 106.2 130.9 100.1 140.8 94.1 150.6 88.3 160.5 82.7 170.3 77.3 180.2 71.9 190 66.6 199.9 61.1 209.7 55.4 219.6 49.1 229.4 42.1 230.8 42.7 220.9 49.7 211.1 55.9 201.2 61.7 191.4 67.1 181.5 72.5 171.6 77.8 161.8 83.3 151.9 88.9 142.1 94.7 132.2 100.6 122.4 106.7 112.5 112.8 102.7 118.7 92.8 124.4 83 129.5 73.1 133.9"/>
<polygon fill="url(#sa52)" points="72.4 133.6 82.2 129.2 92.1 124.1 101.9 118.4 111.8 112.5 121.7 106.4 131.5 100.3 141.4 94.4 151.2 88.6 161.1 83 170.9 77.5 180.8 72.2 190.6 66.8 200.5 61.4 210.4 55.6 220.2 49.4 230.1 42.3 231.4 43 221.5 50 211.7 56.2 201.8 62 192 67.4 182.1 72.8 172.3 78.1 162.4 83.6 152.6 89.2 142.7 95 132.8 100.9 123 107 113.1 113 103.3 119 93.4 124.6 83.6 129.8 73.7 134.2"/>
<polygon fill="url(#sa53)" points="73 133.9 82.9 129.5 92.7 124.3 102.6 118.7 112.4 112.7 122.3 106.7 132.1 100.6 142 94.6 151.8 88.8 161.7 83.2 171.6 77.8 181.4 72.4 191.3 67.1 201.1 61.6 211 55.9 220.8 49.6 230.7 42.6 232 43.3 222.2 50.3 212.3 56.5 202.4 62.3 192.6 67.7 182.7 73.1 172.9 78.4 163 83.9 153.2 89.5 143.3 95.3 133.5 101.2 123.6 107.3 113.8 113.3 103.9 119.3 94 124.9 84.2 130.1 74.3 134.5"/>
<polygon fill="url(#sa54)" points="73.6 134.2 83.5 129.8 93.3 124.6 103.2 118.9 113 113 122.9 106.9 132.8 100.9 142.6 94.9 152.5 89.1 162.3 83.5 172.2 78.1 182 72.7 191.9 67.4 201.7 61.9 211.6 56.2 221.4 49.9 231.3 42.9 232.6 43.7 222.8 50.6 212.9 56.9 203.1 62.6 193.2 68.1 183.4 73.4 173.5 78.7 163.6 84.2 153.8 89.8 143.9 95.6 134.1 101.5 124.2 107.6 114.4 113.6 104.5 119.6 94.7 125.2 84.8 130.4 75 134.8"/>
<polygon fill="url(#sa55)" points="74.2 134.5 84.1 130 94 124.9 103.8 119.2 113.7 113.3 123.5 107.2 133.4 101.2 143.2 95.2 153.1 89.4 162.9 83.8 172.8 78.4 182.6 73 192.5 67.7 202.4 62.2 212.2 56.5 222.1 50.2 231.9 43.2 233.2 44.1 223.4 51 213.5 57.2 203.7 63 193.8 68.4 184 73.8 174.1 79.1 164.3 84.5 154.4 90.1 144.6 95.9 134.7 101.9 124.9 107.9 115 113.9 105.1 119.9 95.3 125.5 85.4 130.7 75.6 135.1"/>
<polygon fill="url(#sa56)" points="74.9 134.7 84.7 130.3 94.6 125.2 104.4 119.5 114.3 113.6 124.1 107.5 134 101.5 143.8 95.5 153.7 89.7 163.6 84.1 173.4 78.7 183.3 73.3 193.1 68 203 62.5 212.8 56.8 222.7 50.6 232.5 43.6 233.9 44.5 224 51.4 214.2 57.6 204.3 63.4 194.4 68.8 184.6 74.1 174.7 79.5 164.9 84.9 155 90.5 145.2 96.3 135.3 102.2 125.5 108.2 115.6 114.3 105.8 120.2 95.9 125.8 86.1 131 76.2 135.4"/>
<polygon fill="url(#sa57)" points="75.5 135 85.3 130.6 95.2 125.5 105 119.8 114.9 113.9 124.8 107.8 134.6 101.8 144.5 95.9 154.3 90.1 164.2 84.5 174 79 183.9 73.7 193.7 68.4 203.6 62.9 213.4 57.2 223.3 51 233.2 44 234.5 45 224.6 51.9 214.8 58.1 204.9 63.8 195.1 69.2 185.2 74.6 175.4 79.9 165.5 85.3 155.7 90.9 145.8 96.6 135.9 102.6 126.1 108.6 116.2 114.6 106.4 120.5 96.5 126.1 86.7 131.3 76.8 135.7"/>
<polygon fill="url(#sa58)" points="76.1 135.3 86 130.9 95.8 125.8 105.7 120.1 115.5 114.2 125.4 108.2 135.2 102.1 145.1 96.2 154.9 90.5 164.8 84.9 174.6 79.4 184.5 74.1 194.4 68.8 204.2 63.3 214.1 57.6 223.9 51.4 233.8 44.4 235.1 45.5 225.2 52.4 215.4 58.5 205.5 64.2 195.7 69.7 185.8 75 176 80.3 166.1 85.7 156.3 91.3 146.4 97 136.6 102.9 126.7 108.9 116.9 114.9 107 120.8 97.2 126.4 87.3 131.6 77.4 136"/>
<polygon fill="url(#sa59)" points="76.7 135.6 86.6 131.2 96.4 126.1 106.3 120.4 116.1 114.5 126 108.5 135.8 102.5 145.7 96.6 155.6 90.8 165.4 85.2 175.3 79.8 185.1 74.5 195 69.2 204.8 63.7 214.7 58 224.5 51.8 234.4 44.9 235.7 46 225.9 52.8 216 59 206.2 64.7 196.3 70.1 186.4 75.4 176.6 80.7 166.7 86.1 156.9 91.7 147 97.4 137.2 103.3 127.3 109.3 117.5 115.3 107.6 121.2 97.8 126.8 87.9 131.9 78.1 136.4"/>
<polygon fill="url(#sa60)" points="77.3 136 87.2 131.5 97.1 126.4 106.9 120.8 116.8 114.9 126.6 108.9 136.5 102.9 146.3 97 156.2 91.2 166 85.7 175.9 80.2 185.7 74.9 195.6 69.6 205.4 64.2 215.3 58.5 225.1 52.3 235 45.4 236.3 46.5 226.5 53.3 216.6 59.5 206.8 65.2 196.9 70.6 187.1 75.9 177.2 81.2 167.4 86.6 157.5 92.2 147.7 97.9 137.8 103.8 127.9 109.7 118.1 115.7 108.2 121.6 98.4 127.2 88.5 132.3 78.7 136.7"/>
<polygon fill="url(#sa61)" points="78 136.3 87.8 131.9 97.7 126.7 107.5 121.1 117.4 115.3 127.2 109.3 137.1 103.3 146.9 97.4 156.8 91.6 166.6 86.1 176.5 80.7 186.4 75.4 196.2 70.1 206.1 64.6 215.9 58.9 225.8 52.8 235.6 45.9 236.9 47 227.1 53.9 217.2 60 207.4 65.7 197.5 71.1 187.7 76.4 177.8 81.7 168 87.1 158.1 92.7 148.3 98.4 138.4 104.3 128.6 110.2 118.7 116.2 108.9 122.1 99 127.7 89.2 132.8 79.3 137.3"/>
<polygon fill="url(#sa62)" points="78.6 136.7 88.4 132.2 98.3 127.1 108.1 121.5 118 115.6 127.9 109.7 137.7 103.7 147.6 97.8 157.4 92.1 167.3 86.5 177.1 81.1 187 75.8 196.8 70.5 206.7 65.1 216.5 59.4 226.4 53.3 236.2 46.4 237.6 47.5 227.7 54.4 217.9 60.5 208 66.2 198.2 71.6 188.3 76.9 178.4 82.3 168.6 87.7 158.7 93.3 148.9 99 139 104.9 129.2 110.8 119.3 116.8 109.5 122.7 99.6 128.3 89.8 133.5 79.9 137.9"/>
<polygon fill="url(#sa63)" points="79.2 137.2 89.1 132.7 98.9 127.6 108.8 122 118.6 116.1 128.5 110.2 138.3 104.2 148.2 98.3 158 92.6 167.9 87 177.7 81.6 187.6 76.3 197.4 71 207.3 65.6 217.1 59.9 227 53.8 236.8 46.9 238.2 48 228.3 54.9 218.5 61.1 208.6 66.8 198.8 72.2 188.9 77.5 179.1 82.9 169.2 88.3 159.4 93.9 149.5 99.6 139.7 105.5 129.8 111.5 120 117.5 110.1 123.4 100.3 129 90.4 134.2 80.5 138.7"/>
<polygon fill="url(#sa64)" points="79.8 137.8 89.7 133.4 99.5 128.2 109.4 122.6 119.2 116.7 129.1 110.8 138.9 104.8 148.8 98.9 158.7 93.2 168.5 87.6 178.4 82.2 188.2 76.9 198.1 71.6 207.9 66.1 217.8 60.4 227.6 54.3 237.5 47.4 238.8 48.6 228.9 55.4 219.1 61.6 209.2 67.3 199.4 72.8 189.5 78.1 179.7 83.5 169.8 88.9 160 94.5 150.1 100.3 140.3 106.2 130.4 112.2 120.6 118.2 110.7 124.1 100.9 129.8 91 134.9 81.2 139.4"/>
<polygon fill="url(#sa65)" points="80.5 138.5 90.3 134.1 100.2 128.9 110 123.3 119.9 117.4 129.7 111.4 139.6 105.4 149.4 99.5 159.3 93.8 169.1 88.2 179 82.8 188.8 77.4 198.7 72.1 208.5 66.7 218.4 61 228.2 54.8 238.1 48 239.4 49.1 229.6 56 219.7 62.2 209.9 67.9 200 73.4 190.2 78.8 180.3 84.1 170.5 89.6 160.6 95.2 150.7 101 140.9 106.9 131 112.9 121.2 119 111.3 124.9 101.5 130.5 91.6 135.7 81.8 140.3"/>
<polygon fill="url(#sa66)" points="81.1 139.3 90.9 134.8 100.8 129.6 110.6 124 120.5 118.1 130.3 112.1 140.2 106.1 150 100.2 159.9 94.4 169.7 88.8 179.6 83.4 189.4 78 199.3 72.7 209.1 67.2 219 61.5 228.8 55.3 238.7 48.5 240 49.7 230.2 56.6 220.3 62.8 210.5 68.5 200.6 74 190.8 79.4 180.9 84.8 171.1 90.3 161.2 95.9 151.4 101.7 141.5 107.6 131.7 113.7 121.8 119.7 112 125.6 102.1 131.3 92.3 136.5 82.4 141.1"/>
<polygon fill="url(#sa67)" points="81.7 140.1 91.5 135.6 101.4 130.4 111.2 124.8 121.1 118.8 131 112.8 140.8 106.8 150.7 100.9 160.5 95.1 170.4 89.5 180.2 84 190.1 78.7 199.9 73.3 209.8 67.8 219.6 62.1 229.5 55.9 239.3 49 240.6 50.3 230.8 57.1 220.9 63.3 211.1 69.1 201.2 74.6 191.4 80 181.5 85.4 171.7 90.9 161.8 96.6 152 102.4 142.1 108.3 132.3 114.3 122.4 120.4 112.6 126.3 102.7 132 92.9 137.3 83 141.8"/>
<polygon fill="url(#sa68)" points="82.3 140.9 92.2 136.4 102 131.2 111.9 125.5 121.7 119.6 131.6 113.5 141.4 107.5 151.3 101.6 161.1 95.8 171 90.2 180.8 84.7 190.7 79.3 200.5 73.9 210.4 68.4 220.2 62.7 230.1 56.5 239.9 49.6 241.3 50.9 231.4 57.7 221.6 63.9 211.7 69.7 201.9 75.2 192 80.6 182.2 86.1 172.3 91.6 162.5 97.2 152.6 103 142.8 109 132.9 115 123.1 121.1 113.2 127 103.4 132.7 93.5 138 83.7 142.6"/>
<polygon fill="url(#sa69)" points="82.9 141.7 92.8 137.1 102.6 131.9 112.5 126.2 122.3 120.3 132.2 114.2 142 108.2 151.9 102.3 161.7 96.5 171.6 90.8 181.4 85.3 191.3 79.9 201.1 74.5 211 69 220.8 63.3 230.7 57.1 240.6 50.2 241.9 51.5 232 58.3 222.2 64.5 212.3 70.3 202.5 75.9 192.6 81.3 182.8 86.7 172.9 92.2 163.1 97.9 153.2 103.7 143.4 109.7 133.5 115.8 123.7 121.8 113.8 127.8 104 133.5 94.1 138.7 84.3 143.4"/>
<polygon fill="url(#sa70)" points="83.6 142.5 93.4 137.9 103.3 132.6 113.1 126.9 123 121 132.8 114.9 142.7 108.9 152.5 102.9 162.4 97.1 172.2 91.5 182.1 86 191.9 80.5 201.8 75.1 211.6 69.6 221.5 63.9 231.3 57.6 241.2 50.8 242.5 52.1 232.6 58.9 222.8 65.2 212.9 71 203.1 76.5 193.2 81.9 183.4 87.4 173.5 92.9 163.7 98.6 153.8 104.4 144 110.4 134.1 116.5 124.3 122.6 114.4 128.5 104.6 134.2 94.7 139.5 84.9 144.2"/>
<polygon fill="url(#sa71)" points="84.2 143.2 94 138.6 103.9 133.4 113.7 127.7 123.6 121.7 133.4 115.6 143.3 109.6 153.1 103.6 163 97.8 172.8 92.1 182.7 86.6 192.5 81.2 202.4 75.8 212.2 70.2 222.1 64.5 231.9 58.2 241.8 51.4 243.1 52.7 233.3 59.5 223.4 65.8 213.6 71.6 203.7 77.2 193.9 82.6 184 88.1 174.2 93.6 164.3 99.3 154.5 105.2 144.6 111.1 134.8 117.2 124.9 123.3 115.1 129.3 105.2 135 95.4 140.3 85.5 145"/>
<polygon fill="url(#sa72)" points="84.8 144 94.7 139.4 104.5 134.1 114.4 128.4 124.2 122.4 134.1 116.4 143.9 110.3 153.8 104.3 163.6 98.5 173.5 92.8 183.3 87.3 193.2 81.8 203 76.4 212.9 70.9 222.7 65.1 232.6 58.8 242.4 52 243.7 53.3 233.9 60.2 224 66.4 214.2 72.2 204.3 77.8 194.5 83.3 184.6 88.8 174.8 94.3 164.9 100 155.1 105.9 145.2 111.9 135.4 118 125.5 124.1 115.7 130 105.8 135.8 96 141.1 86.1 145.8"/>
<polygon fill="url(#sa73)" points="85.4 144.8 95.3 140.2 105.1 134.9 115 129.2 124.8 123.2 134.7 117.1 144.5 111 154.4 105.1 164.2 99.2 174.1 93.5 183.9 88 193.8 82.5 203.6 77.1 213.5 71.5 223.3 65.7 233.2 59.5 243 52.6 244.3 53.9 234.5 60.8 224.6 67.1 214.8 72.9 204.9 78.5 195.1 84 185.2 89.4 175.4 95 165.6 100.7 155.7 106.6 145.9 112.6 136 118.7 126.2 124.8 116.3 130.8 106.5 136.5 96.6 141.9 86.8 146.6"/>
<polygon fill="url(#sa74)" points="86 145.6 95.9 141 105.7 135.7 115.6 129.9 125.4 123.9 135.3 117.8 145.1 111.8 155 105.8 164.8 99.9 174.7 94.2 184.5 88.6 194.4 83.2 204.2 77.7 214.1 72.1 223.9 66.3 233.8 60.1 243.6 53.2 245 54.6 235.1 61.4 225.3 67.7 215.4 73.5 205.6 79.1 195.7 84.6 185.9 90.1 176 95.7 166.2 101.5 156.3 107.3 146.5 113.3 136.6 119.4 126.8 125.5 116.9 131.6 107.1 137.3 97.2 142.7 87.4 147.4"/>
<polygon fill="url(#sa75)" points="86.7 146.5 96.5 141.8 106.4 136.4 116.2 130.7 126.1 124.7 135.9 118.6 145.8 112.5 155.6 106.5 165.5 100.6 175.3 94.9 185.2 89.3 195 83.8 204.9 78.4 214.7 72.8 224.6 67 234.4 60.7 244.2 53.8 245.6 55.2 235.7 62.1 225.9 68.4 216 74.2 206.2 79.8 196.3 85.3 186.5 90.8 176.6 96.4 166.8 102.2 156.9 108.1 147.1 114.1 137.2 120.2 127.4 126.3 117.5 132.3 107.7 138.1 97.8 143.4 88 148.2"/>
<polygon fill="url(#sa76)" points="87.3 147.3 97.1 142.5 107 137.2 116.8 131.4 126.7 125.4 136.5 119.3 146.4 113.2 156.2 107.2 166.1 101.3 175.9 95.6 185.8 90 195.6 84.5 205.5 79 215.3 73.4 225.2 67.6 235 61.3 244.9 54.5 246.2 55.9 236.3 62.8 226.5 69 216.6 74.9 206.8 80.5 197 86 187.1 91.5 177.3 97.1 167.4 102.9 157.6 108.8 147.7 114.8 137.9 120.9 128 127 118.2 133 108.3 138.8 98.5 144.2 88.6 148.9"/>
<polygon fill="url(#sa77)" points="87.9 148 97.8 143.3 107.6 138 117.5 132.2 127.3 126.2 137.1 120.1 147 114 156.8 107.9 166.7 102.1 176.5 96.3 186.4 90.7 196.2 85.2 206.1 79.7 215.9 74.1 225.8 68.3 235.6 62 245.5 55.1 246.8 56.6 237 63.5 227.1 69.7 217.3 75.6 207.4 81.2 197.6 86.7 187.7 92.2 177.9 97.9 168 103.6 158.2 109.5 148.3 115.5 138.5 121.6 128.6 127.7 118.8 133.7 108.9 139.5 99.1 144.9 89.2 149.6"/>
<polygon fill="url(#sa78)" points="88.5 148.8 98.4 144.1 108.2 138.7 118.1 132.9 127.9 126.9 137.8 120.8 147.6 114.7 157.5 108.7 167.3 102.8 177.2 97 187 91.4 196.9 85.9 206.7 80.4 216.6 74.8 226.4 68.9 236.3 62.7 246.1 55.8 247.4 57.3 237.6 64.1 227.7 70.4 217.9 76.3 208 81.9 198.2 87.4 188.3 92.9 178.5 98.6 168.6 104.3 158.8 110.2 148.9 116.2 139.1 122.3 129.3 128.4 119.4 134.5 109.6 140.2 99.7 145.6 89.9 150.4"/>
<polygon fill="url(#sa79)" points="89.1 149.5 99 144.8 108.8 139.4 118.7 133.6 128.5 127.6 138.4 121.5 148.2 115.4 158.1 109.4 167.9 103.5 177.8 97.7 187.6 92.1 197.5 86.6 207.3 81.1 217.2 75.5 227 69.6 236.9 63.4 246.7 56.5 248 58 238.2 64.8 228.3 71.1 218.5 77 208.7 82.6 198.8 88.1 189 93.6 179.1 99.3 169.3 105 159.4 110.9 149.6 116.9 139.7 123 129.9 129.1 120 135.2 110.2 140.9 100.3 146.3 90.5 151.1"/>
<polygon fill="url(#sa80)" points="89.8 150.3 99.6 145.5 109.5 140.1 119.3 134.3 129.2 128.3 139 122.2 148.9 116.1 158.7 110.1 168.6 104.2 178.4 98.5 188.2 92.8 198.1 87.3 207.9 81.8 217.8 76.2 227.6 70.3 237.5 64 247.3 57.2 248.7 58.7 238.8 65.5 229 71.8 219.1 77.6 209.3 83.3 199.4 88.8 189.6 94.3 179.7 100 169.9 105.7 160 111.6 150.2 117.6 140.3 123.7 130.5 129.9 120.6 135.9 110.8 141.7 101 147 91.1 151.8"/>
<polygon fill="url(#sa81)" points="90.4 151 100.2 146.2 110.1 140.8 119.9 135.1 129.8 129 139.6 122.9 149.5 116.8 159.3 110.8 169.2 104.9 179 99.2 188.9 93.5 198.7 88 208.6 82.5 218.4 76.9 228.3 71 238.1 64.7 247.9 57.9 249.3 59.4 239.4 66.2 229.6 72.5 219.7 78.3 209.9 84 200 89.5 190.2 95 180.3 100.7 170.5 106.4 160.7 112.3 150.8 118.3 141 124.4 131.1 130.6 121.3 136.6 111.4 142.4 101.6 147.8 91.7 152.6"/>
<polygon fill="url(#sa82)" points="91 151.7 100.9 146.9 110.7 141.6 120.6 135.8 130.4 129.7 140.2 123.6 150.1 117.5 159.9 111.5 169.8 105.6 179.6 99.9 189.5 94.2 199.3 88.7 209.2 83.2 219 77.5 228.9 71.7 238.7 65.4 248.6 58.6 249.9 60 240 66.9 230.2 73.1 220.4 79 210.5 84.6 200.7 90.2 190.8 95.7 181 101.3 171.1 107.1 161.3 113 151.4 119 141.6 125.1 131.7 131.2 121.9 137.3 112 143 102.2 148.4 92.3 153.3"/>
<polygon fill="url(#sa83)" points="91.6 152.5 101.5 147.6 111.3 142.3 121.2 136.5 131 130.4 140.9 124.3 150.7 118.2 160.6 112.2 170.4 106.3 180.3 100.6 190.1 94.9 199.9 89.4 209.8 83.9 219.6 78.2 229.5 72.4 239.3 66.1 249.2 59.3 250.5 60.7 240.7 67.5 230.8 73.8 221 79.6 211.1 85.3 201.3 90.8 191.4 96.4 181.6 102 171.7 107.8 161.9 113.7 152 119.7 142.2 125.8 132.4 131.9 122.5 137.9 112.7 143.7 102.8 149.1 93 153.9"/>
<polygon fill="url(#sa84)" points="92.2 153.2 102.1 148.3 111.9 142.9 121.8 137.1 131.6 131.1 141.5 125 151.3 118.9 161.2 112.9 171 107 180.9 101.2 190.7 95.6 200.6 90.1 210.4 84.5 220.3 78.9 230.1 73 240 66.8 249.8 59.9 251.1 61.4 241.3 68.2 231.4 74.4 221.6 80.3 211.7 85.9 201.9 91.5 192 97 182.2 102.7 172.4 108.4 162.5 114.3 152.7 120.3 142.8 126.4 133 132.5 123.1 138.5 113.3 144.3 103.4 149.7 93.6 154.6"/>
<polygon fill="url(#sa85)" points="92.9 153.8 102.7 149 112.6 143.6 122.4 137.8 132.3 131.8 142.1 125.7 152 119.6 161.8 113.6 171.6 107.7 181.5 101.9 191.3 96.3 201.2 90.7 211 85.2 220.9 79.5 230.7 73.7 240.6 67.4 250.4 60.6 251.7 62 241.9 68.8 232.1 75.1 222.2 80.9 212.4 86.6 202.5 92.1 192.7 97.7 182.8 103.3 173 109.1 163.1 114.9 153.3 121 143.4 127 133.6 133.1 123.7 139.2 113.9 144.9 104.1 150.4 94.2 155.2"/>
<polygon fill="url(#sa86)" points="93.5 154.5 103.3 149.6 113.2 144.2 123 138.5 132.9 132.4 142.7 126.3 152.6 120.2 162.4 114.2 172.3 108.3 182.1 102.6 192 96.9 201.8 91.4 211.6 85.8 221.5 80.2 231.3 74.3 241.2 68.1 251 61.3 252.4 62.7 242.5 69.5 232.7 75.7 222.8 81.6 213 87.2 203.1 92.7 193.3 98.3 183.4 103.9 173.6 109.7 163.7 115.6 153.9 121.6 144.1 127.6 134.2 133.7 124.4 139.7 114.5 145.5 104.7 150.9 94.8 155.8"/>
<polygon fill="url(#sa87)" points="94.1 155.1 104 150.3 113.8 144.9 123.7 139.1 133.5 133.1 143.3 127 153.2 120.9 163 114.8 172.9 109 182.7 103.2 192.6 97.6 202.4 92 212.3 86.5 222.1 80.8 232 75 241.8 68.7 251.7 61.9 253 63.4 243.1 70.1 233.3 76.4 223.4 82.2 213.6 87.8 203.7 93.4 193.9 98.9 184.1 104.5 174.2 110.3 164.4 116.2 154.5 122.2 144.7 128.2 134.8 134.3 125 140.3 115.1 146.1 105.3 151.5 95.4 156.3"/>
<polygon fill="url(#sa88)" points="94.7 155.7 104.6 150.8 114.4 145.4 124.3 139.6 134.1 133.6 144 127.6 153.8 121.5 163.7 115.5 173.5 109.6 183.3 103.8 193.2 98.2 203 92.6 212.9 87.1 222.7 81.5 232.6 75.6 242.4 69.4 252.3 62.6 253.6 64.1 243.7 70.8 233.9 77 224.1 82.8 214.2 88.5 204.4 94 194.5 99.5 184.7 105.2 174.8 110.9 165 116.8 155.1 122.8 145.3 128.8 135.5 134.9 125.6 140.9 115.8 146.6 105.9 152 96.1 156.9"/>
<polygon fill="url(#sa89)" points="95.4 156.3 105.2 151.4 115 146 124.9 140.2 134.7 134.2 144.6 128.1 154.4 122.1 164.3 116.1 174.1 110.2 184 104.4 193.8 98.8 203.7 93.3 213.5 87.7 223.3 82.1 233.2 76.3 243 70 252.9 63.3 254.2 64.8 244.4 71.5 234.5 77.7 224.7 83.5 214.8 89.1 205 94.7 195.1 100.2 185.3 105.8 175.5 111.5 165.6 117.4 155.8 123.4 145.9 129.4 136.1 135.5 126.2 141.4 116.4 147.2 106.5 152.6 96.7 157.4"/>
<polygon fill="url(#sa90)" points="96 156.8 105.8 152 115.7 146.6 125.5 140.8 135.4 134.8 145.2 128.7 155 122.7 164.9 116.7 174.7 110.8 184.6 105.1 194.4 99.4 204.3 93.9 214.1 88.4 224 82.7 233.8 76.9 243.7 70.7 253.5 63.9 254.8 65.5 245 72.2 235.1 78.4 225.3 84.2 215.4 89.8 205.6 95.3 195.8 100.8 185.9 106.4 176.1 112.2 166.2 118 156.4 124 146.5 130 136.7 136 126.8 142 117 147.7 107.2 153.1 97.3 158"/>
<polygon fill="url(#sa91)" points="96.6 157.3 106.4 152.5 116.3 147.1 126.1 141.3 136 135.4 145.8 129.3 155.7 123.3 165.5 117.3 175.4 111.4 185.2 105.7 195 100.1 204.9 94.6 214.7 89 224.6 83.4 234.4 77.6 244.3 71.4 254.1 64.7 255.4 66.3 245.6 73 235.8 79.1 225.9 84.9 216.1 90.5 206.2 96 196.4 101.5 186.5 107.1 176.7 112.8 166.8 118.6 157 124.6 147.2 130.6 137.3 136.6 127.5 142.5 117.6 148.3 107.8 153.6 97.9 158.5"/>
<polygon fill="url(#sa92)" points="97.2 157.9 107.1 153 116.9 147.6 126.8 141.9 136.6 135.9 146.4 129.9 156.3 123.9 166.1 117.9 176 112.1 185.8 106.3 195.7 100.7 205.5 95.2 215.4 89.7 225.2 84.1 235 78.3 244.9 72.1 254.7 65.4 256.1 67.1 246.2 73.7 236.4 79.9 226.5 85.6 216.7 91.2 206.8 96.7 197 102.2 187.2 107.7 177.3 113.4 167.5 119.2 157.6 125.1 147.8 131.1 137.9 137.1 128.1 143.1 118.2 148.8 108.4 154.1 98.6 159"/>
<polygon fill="url(#sa93)" points="97.8 158.4 107.7 153.5 117.5 148.2 127.4 142.4 137.2 136.5 147.1 130.5 156.9 124.5 166.7 118.5 176.6 112.7 186.4 107 196.3 101.4 206.1 95.9 216 90.4 225.8 84.8 235.7 79 245.5 72.9 255.3 66.2 256.7 67.9 246.8 74.5 237 80.6 227.1 86.4 217.3 91.9 207.5 97.4 197.6 102.9 187.8 108.4 177.9 114.1 168.1 119.8 158.2 125.7 148.4 131.7 138.5 137.7 128.7 143.6 118.9 149.3 109 154.6 99.2 159.4"/>
<polygon fill="url(#sa94)" points="98.5 158.9 108.3 154.1 118.1 148.7 128 143 137.8 137.1 147.7 131.1 157.5 125.1 167.4 119.1 177.2 113.3 187.1 107.6 196.9 102.1 206.7 96.6 216.6 91.1 226.4 85.5 236.3 79.7 246.1 73.6 256 67 257.2 68.6 247.4 75.2 237.5 81.3 227.7 87 217.8 92.5 208 98 198.1 103.4 188.3 109 178.5 114.6 168.6 120.4 158.8 126.2 148.9 132.2 139.1 138.1 129.2 144 119.4 149.7 109.5 155 99.7 159.8"/>
<polygon fill="url(#sa95)" points="99.1 159.4 108.9 154.5 118.8 149.2 128.6 143.5 138.5 137.6 148.3 131.6 158.1 125.6 168 119.7 177.8 114 187.7 108.3 197.5 102.8 207.4 97.3 217.2 91.8 227.1 86.3 236.9 80.5 246.7 74.4 256.6 67.8 257.2 68.6 247.4 75.2 237.5 81.3 227.7 87 217.8 92.5 208 98 198.1 103.4 188.3 109 178.5 114.6 168.6 120.4 158.8 126.2 148.9 132.2 139.1 138.1 129.2 144 119.4 149.7 109.5 155 99.7 159.8"/>
<line x1="78.3" y1="136.4" x2="232.2" y2="43.3" stroke="#000" stroke-width="2.0"/>
<line x1="78.3" y1="136.4" x2="293.5" y2="70.4" stroke="#000" stroke-width="1.15" stroke-dasharray="1.7 1.5"/>
<line x1="232.2" y1="43.3" x2="286.8" y2="6.3" stroke="#000" stroke-width="1.15" stroke-dasharray="1.7 1.5"/>
<text x="30" y="116.92" font-size="10.4" text-anchor="middle" font-family="Liberation Sans, Arial, Helvetica, sans-serif" fill="#262626">0</text>
<text x="27.6" y="126.92" font-size="10.4" text-anchor="middle" font-family="Liberation Sans, Arial, Helvetica, sans-serif" fill="#262626">-2</text>
<text x="38.2" y="149.52" font-size="10.4" text-anchor="middle" font-family="Liberation Sans, Arial, Helvetica, sans-serif" fill="#262626">-5</text>
<text x="58.5" y="160.22" font-size="10.4" text-anchor="middle" font-family="Liberation Sans, Arial, Helvetica, sans-serif" fill="#262626">0</text>
<text x="79.4" y="171.92" font-size="10.4" text-anchor="middle" font-family="Liberation Sans, Arial, Helvetica, sans-serif" fill="#262626">5</text>
<text x="111.4" y="177.72" font-size="10.4" text-anchor="middle" font-family="Liberation Sans, Arial, Helvetica, sans-serif" fill="#262626">20</text>
<text x="151.5" y="155.22" font-size="10.4" text-anchor="middle" font-family="Liberation Sans, Arial, Helvetica, sans-serif" fill="#262626">10</text>
<text x="187.8" y="131.72" font-size="10.4" text-anchor="middle" font-family="Liberation Sans, Arial, Helvetica, sans-serif" fill="#262626">0</text>
<text x="232.9" y="109.32" font-size="10.4" text-anchor="middle" font-family="Liberation Sans, Arial, Helvetica, sans-serif" fill="#262626">-10</text>
<text x="273.6" y="85.72" font-size="10.4" text-anchor="middle" font-family="Liberation Sans, Arial, Helvetica, sans-serif" fill="#262626">-20</text>
<text x="189.6" y="170" font-size="11.6" text-anchor="middle" font-family="Liberation Sans, Arial, Helvetica, sans-serif" fill="#262626">x (mm)</text>
<text x="38.2" y="184.7" font-size="11.6" text-anchor="middle" font-family="Liberation Sans, Arial, Helvetica, sans-serif" fill="#262626">y (mm)</text>
<text transform="translate(16.6 122.6) rotate(-90)" font-size="11.6" text-anchor="middle" font-family="Liberation Sans, Arial, Helvetica, sans-serif" fill="#262626">z (mm)</text>
<linearGradient id="cb62" x1="0" y1="0" x2="0" y2="1"><stop offset="0" stop-color="#f9fb0e"/><stop offset="0.048" stop-color="#f5e41d"/><stop offset="0.095" stop-color="#fad32a"/><stop offset="0.143" stop-color="#ffc337"/><stop offset="0.19" stop-color="#f1b94a"/><stop offset="0.238" stop-color="#d9ba56"/><stop offset="0.286" stop-color="#c0bc60"/><stop offset="0.333" stop-color="#a5be6b"/><stop offset="0.381" stop-color="#87bf77"/><stop offset="0.429" stop-color="#65be86"/><stop offset="0.476" stop-color="#42bb98"/><stop offset="0.524" stop-color="#25b5a9"/><stop offset="0.571" stop-color="#0faeb9"/><stop offset="0.619" stop-color="#06a7c6"/><stop offset="0.667" stop-color="#079ccf"/><stop offset="0.714" stop-color="#108ed2"/><stop offset="0.762" stop-color="#1481d6"/><stop offset="0.81" stop-color="#0d75dc"/><stop offset="0.857" stop-color="#0268e1"/><stop offset="0.905" stop-color="#2053d4"/><stop offset="0.952" stop-color="#353dad"/><stop offset="1" stop-color="#352a87"/><stop offset="1" stop-color="#352a87"/></linearGradient>
<rect x="58.2" y="62.3" width="13.4" height="26.6" fill="url(#cb62)" stroke="#4a4a4a" stroke-width="0.5"/>
<text x="53.8" y="68.15" font-size="8.8" text-anchor="end" font-family="Liberation Sans, Arial, Helvetica, sans-serif" fill="#262626">0</text>
<text x="53.8" y="77.95" font-size="8.8" text-anchor="end" font-family="Liberation Sans, Arial, Helvetica, sans-serif" fill="#262626">-1</text>
<text x="53.8" y="87.65" font-size="8.8" text-anchor="end" font-family="Liberation Sans, Arial, Helvetica, sans-serif" fill="#262626">-2</text>
<text x="19.2" y="16.3" font-size="14" text-anchor="middle" font-family="Liberation Serif, Times New Roman, serif" fill="#000">(a)</text>
<clipPath id="ca1"><rect x="319" y="5.6" width="215.8" height="57.8"/></clipPath>
<g clip-path="url(#ca1)">
<polygon points="319 6.28 320.8 12.24 322.6 17.75 324.4 22.8 326.2 27.43 328 31.65 329.8 35.47 331.6 38.93 333.4 42.02 335.1 44.77 336.9 47.2 338.7 49.32 340.5 51.14 342.3 52.69 344.1 53.97 345.9 55.01 347.7 55.81 349.5 56.39 351.3 56.77 353.1 56.95 354.9 56.95 356.7 56.79 358.5 56.47 360.3 56.01 362.1 55.42 363.9 54.72 365.6 53.9 367.4 52.99 369.2 51.99 371 50.92 372.8 49.78 374.6 48.59 376.4 47.35 378.2 46.07 380 44.76 381.8 43.44 383.6 42.1 385.4 40.75 387.2 39.41 389 38.08 390.8 36.76 392.6 35.47 394.4 34.21 396.1 32.98 397.9 31.79 399.7 30.65 401.5 29.56 403.3 28.53 405.1 27.55 406.9 26.64 408.7 25.8 410.5 25.03 412.3 24.33 414.1 23.7 415.9 23.16 417.7 22.7 419.5 22.31 421.3 22.02 423.1 21.8 424.9 21.68 426.6 21.64 428.4 21.68 430.2 21.81 432 22.03 433.8 22.33 435.6 22.72 437.4 23.19 439.2 23.74 441 24.36 442.8 25.07 444.6 25.84 446.4 26.69 448.2 27.61 450 28.59 451.8 29.62 453.6 30.72 455.4 31.86 457.2 33.05 458.9 34.28 460.7 35.54 462.5 36.83 464.3 38.15 466.1 39.48 467.9 40.83 469.7 42.17 471.5 43.51 473.3 44.84 475.1 46.14 476.9 47.42 478.7 48.66 480.5 49.85 482.3 50.98 484.1 52.05 485.9 53.04 487.7 53.95 489.4 54.76 491.2 55.46 493 56.04 494.8 56.49 496.6 56.8 498.4 56.96 500.2 56.94 502 56.75 503.8 56.36 505.6 55.77 507.4 54.96 509.2 53.91 511 52.61 512.8 51.05 514.6 49.21 516.4 47.07 518.2 44.63 519.9 41.86 521.7 38.74 523.5 35.27 525.3 31.42 527.1 27.18 528.9 22.53 530.7 17.45 532.5 11.92 534.3 5.93 534.3 13 532.5 18.99 530.7 24.52 528.9 29.6 527.1 34.25 525.3 38.49 523.5 42.34 521.7 45.81 519.9 48.92 518.2 51.69 516.4 54.14 514.6 56.27 512.8 58.11 511 59.68 509.2 60.97 507.4 62.02 505.6 62.84 503.8 63.43 502 63.82 500.2 64.01 498.4 64.02 496.6 63.87 494.8 63.56 493 63.11 491.2 62.53 489.4 61.83 487.7 61.02 485.9 60.11 484.1 59.12 482.3 58.05 480.5 56.91 478.7 55.72 476.9 54.48 475.1 53.21 473.3 51.9 471.5 50.58 469.7 49.24 467.9 47.89 466.1 46.55 464.3 45.22 462.5 43.9 460.7 42.61 458.9 41.34 457.2 40.11 455.4 38.93 453.6 37.78 451.8 36.69 450 35.65 448.2 34.67 446.4 33.76 444.6 32.91 442.8 32.13 441 31.43 439.2 30.8 437.4 30.25 435.6 29.79 433.8 29.4 432 29.1 430.2 28.88 428.4 28.75 426.6 28.7 424.9 28.74 423.1 28.87 421.3 29.08 419.5 29.38 417.7 29.76 415.9 30.23 414.1 30.77 412.3 31.39 410.5 32.09 408.7 32.87 406.9 33.71 405.1 34.62 403.3 35.6 401.5 36.63 399.7 37.72 397.9 38.86 396.1 40.05 394.4 41.27 392.6 42.54 390.8 43.83 389 45.14 387.2 46.48 385.4 47.82 383.6 49.16 381.8 50.5 380 51.83 378.2 53.14 376.4 54.41 374.6 55.66 372.8 56.85 371 57.99 369.2 59.06 367.4 60.06 365.6 60.97 363.9 61.78 362.1 62.49 360.3 63.08 358.5 63.54 356.7 63.86 354.9 64.02 353.1 64.02 351.3 63.83 349.5 63.46 347.7 62.88 345.9 62.07 344.1 61.04 342.3 59.75 340.5 58.21 338.7 56.38 336.9 54.27 335.1 51.84 333.4 49.09 331.6 45.99 329.8 42.54 328 38.72 326.2 34.5 324.4 29.87 322.6 24.81 320.8 19.31 319 13.35" fill="#cdcdcd"/>
<polyline points="319 9.81 320.8 15.78 322.6 21.28 324.4 26.34 326.2 30.96 328 35.18 329.8 39.01 331.6 42.46 333.4 45.55 335.1 48.3 336.9 50.73 338.7 52.85 340.5 54.67 342.3 56.22 344.1 57.5 345.9 58.54 347.7 59.34 349.5 59.92 351.3 60.3 353.1 60.48 354.9 60.49 356.7 60.32 358.5 60.01 360.3 59.55 362.1 58.96 363.9 58.25 365.6 57.44 367.4 56.52 369.2 55.53 371 54.45 372.8 53.32 374.6 52.12 376.4 50.88 378.2 49.6 380 48.3 381.8 46.97 383.6 45.63 385.4 44.28 387.2 42.94 389 41.61 390.8 40.3 392.6 39 394.4 37.74 396.1 36.51 397.9 35.33 399.7 34.19 401.5 33.1 403.3 32.06 405.1 31.09 406.9 30.18 408.7 29.33 410.5 28.56 412.3 27.86 414.1 27.24 415.9 26.69 417.7 26.23 419.5 25.85 421.3 25.55 423.1 25.34 424.9 25.21 426.6 25.17 428.4 25.21 430.2 25.35 432 25.56 433.8 25.87 435.6 26.25 437.4 26.72 439.2 27.27 441 27.9 442.8 28.6 444.6 29.38 446.4 30.23 448.2 31.14 450 32.12 451.8 33.16 453.6 34.25 455.4 35.39 457.2 36.58 458.9 37.81 460.7 39.08 462.5 40.37 464.3 41.68 466.1 43.02 467.9 44.36 469.7 45.7 471.5 47.04 473.3 48.37 475.1 49.68 476.9 50.95 478.7 52.19 480.5 53.38 482.3 54.52 484.1 55.58 485.9 56.58 487.7 57.48 489.4 58.29 491.2 58.99 493 59.58 494.8 60.03 496.6 60.34 498.4 60.49 500.2 60.48 502 60.28 503.8 59.9 505.6 59.3 507.4 58.49 509.2 57.44 511 56.14 512.8 54.58 514.6 52.74 516.4 50.6 518.2 48.16 519.9 45.39 521.7 42.28 523.5 38.8 525.3 34.96 527.1 30.72 528.9 26.06 530.7 20.99 532.5 15.46 534.3 9.47" fill="none" stroke="#e0825a" stroke-width="0.9"/>
</g>
<line x1="319" y1="7.6" x2="319" y2="63.4" stroke="#4d4d4d" stroke-width="0.7"/>
<line x1="319" y1="63.4" x2="534.3" y2="63.4" stroke="#4d4d4d" stroke-width="0.7"/>
<line x1="319" y1="63.4" x2="319" y2="61.2" stroke="#4d4d4d" stroke-width="0.7"/>
<text x="319" y="78.74" font-size="11.0" text-anchor="middle" font-family="Liberation Sans, Arial, Helvetica, sans-serif" fill="#262626">-20</text>
<line x1="372.8" y1="63.4" x2="372.8" y2="61.2" stroke="#4d4d4d" stroke-width="0.7"/>
<text x="372.8" y="78.74" font-size="11.0" text-anchor="middle" font-family="Liberation Sans, Arial, Helvetica, sans-serif" fill="#262626">-10</text>
<line x1="426.6" y1="63.4" x2="426.6" y2="61.2" stroke="#4d4d4d" stroke-width="0.7"/>
<text x="426.6" y="78.74" font-size="11.0" text-anchor="middle" font-family="Liberation Sans, Arial, Helvetica, sans-serif" fill="#262626">0</text>
<line x1="480.4" y1="63.4" x2="480.4" y2="61.2" stroke="#4d4d4d" stroke-width="0.7"/>
<text x="480.4" y="78.74" font-size="11.0" text-anchor="middle" font-family="Liberation Sans, Arial, Helvetica, sans-serif" fill="#262626">10</text>
<line x1="534.2" y1="63.4" x2="534.2" y2="61.2" stroke="#4d4d4d" stroke-width="0.7"/>
<text x="534.2" y="78.74" font-size="11.0" text-anchor="middle" font-family="Liberation Sans, Arial, Helvetica, sans-serif" fill="#262626">20</text>
<line x1="319" y1="17.3" x2="321.2" y2="17.3" stroke="#4d4d4d" stroke-width="0.7"/>
<text x="315.4" y="21.24" font-size="11.0" text-anchor="end" font-family="Liberation Sans, Arial, Helvetica, sans-serif" fill="#262626">-0.8</text>
<line x1="319" y1="36.4" x2="321.2" y2="36.4" stroke="#4d4d4d" stroke-width="0.7"/>
<text x="315.4" y="40.34" font-size="11.0" text-anchor="end" font-family="Liberation Sans, Arial, Helvetica, sans-serif" fill="#262626">-1</text>
<line x1="319" y1="55.5" x2="321.2" y2="55.5" stroke="#4d4d4d" stroke-width="0.7"/>
<text x="315.4" y="59.44" font-size="11.0" text-anchor="end" font-family="Liberation Sans, Arial, Helvetica, sans-serif" fill="#262626">-1.2</text>
<text x="426.4" y="94" font-size="12.1" text-anchor="middle" font-family="Liberation Sans, Arial, Helvetica, sans-serif" fill="#262626">x (mm)</text>
<text transform="translate(292.4 35.7) rotate(-90)" font-size="12.5" text-anchor="middle" font-family="Liberation Sans, Arial, Helvetica, sans-serif" fill="#262626">z (mm)</text>
<clipPath id="ca2"><rect x="319.3" y="106.3" width="215.5" height="57.8"/></clipPath>
<g clip-path="url(#ca2)">
<polygon points="319.3 179.73 321.1 178.44 322.9 177.13 324.7 175.81 326.5 174.48 328.3 173.15 330.1 171.8 331.8 170.45 333.6 169.1 335.4 167.74 337.2 166.39 339 165.03 340.8 163.68 342.6 162.33 344.4 160.99 346.2 159.65 348 158.32 349.8 157 351.6 155.69 353.3 154.39 355.1 153.1 356.9 151.83 358.7 150.58 360.5 149.34 362.3 148.11 364.1 146.91 365.9 145.72 367.7 144.56 369.5 143.42 371.3 142.3 373.1 141.2 374.8 140.13 376.6 139.08 378.4 138.06 380.2 137.06 382 136.1 383.8 135.16 385.6 134.25 387.4 133.37 389.2 132.52 391 131.71 392.8 130.92 394.6 130.17 396.3 129.45 398.1 128.77 399.9 128.12 401.7 127.5 403.5 126.92 405.3 126.37 407.1 125.86 408.9 125.39 410.7 124.95 412.5 124.55 414.3 124.19 416.1 123.87 417.8 123.58 419.6 123.33 421.4 123.12 423.2 122.95 425 122.82 426.8 122.72 428.6 122.66 430.4 122.65 432.2 122.67 434 122.73 435.8 122.83 437.5 122.96 439.3 123.14 441.1 123.35 442.9 123.61 444.7 123.9 446.5 124.22 448.3 124.59 450.1 124.99 451.9 125.43 453.7 125.91 455.5 126.42 457.3 126.97 459.1 127.56 460.8 128.17 462.6 128.83 464.4 129.52 466.2 130.24 468 130.99 469.8 131.78 471.6 132.6 473.4 133.45 475.2 134.33 477 135.25 478.8 136.19 480.5 137.15 482.3 138.15 484.1 139.17 485.9 140.22 487.7 141.3 489.5 142.4 491.3 143.52 493.1 144.67 494.9 145.83 496.7 147.02 498.5 148.23 500.3 149.45 502 150.69 503.8 151.95 505.6 153.22 507.4 154.51 509.2 155.81 511 157.12 512.8 158.44 514.6 159.77 516.4 161.11 518.2 162.46 520 163.81 521.8 165.16 523.5 166.51 525.3 167.87 527.1 169.23 528.9 170.58 530.7 171.93 532.5 173.27 534.3 174.61 534.3 192.79 532.5 191.46 530.7 190.11 528.9 188.76 527.1 187.41 525.3 186.06 523.5 184.7 521.8 183.35 520 181.99 518.2 180.64 516.4 179.3 514.6 177.96 512.8 176.63 511 175.31 509.2 174 507.4 172.7 505.6 171.41 503.8 170.14 502 168.88 500.3 167.64 498.5 166.41 496.7 165.21 494.9 164.02 493.1 162.85 491.3 161.71 489.5 160.58 487.7 159.49 485.9 158.41 484.1 157.36 482.3 156.34 480.5 155.34 478.8 154.37 477 153.43 475.2 152.52 473.4 151.64 471.6 150.79 469.8 149.97 468 149.18 466.2 148.43 464.4 147.7 462.6 147.02 460.8 146.36 459.1 145.74 457.3 145.16 455.5 144.61 453.7 144.09 451.9 143.62 450.1 143.18 448.3 142.78 446.5 142.41 444.7 142.08 442.9 141.79 441.1 141.54 439.3 141.33 437.5 141.15 435.8 141.01 434 140.91 432.2 140.85 430.4 140.83 428.6 140.85 426.8 140.91 425 141 423.2 141.13 421.4 141.31 419.6 141.52 417.8 141.77 416.1 142.05 414.3 142.38 412.5 142.74 410.7 143.14 408.9 143.58 407.1 144.05 405.3 144.56 403.5 145.1 401.7 145.69 399.9 146.3 398.1 146.95 396.3 147.64 394.6 148.36 392.8 149.11 391 149.89 389.2 150.71 387.4 151.56 385.6 152.44 383.8 153.35 382 154.28 380.2 155.25 378.4 156.24 376.6 157.26 374.8 158.31 373.1 159.38 371.3 160.48 369.5 161.6 367.7 162.74 365.9 163.91 364.1 165.09 362.3 166.3 360.5 167.52 358.7 168.76 356.9 170.02 355.1 171.29 353.3 172.58 351.6 173.88 349.8 175.19 348 176.51 346.2 177.84 344.4 179.17 342.6 180.52 340.8 181.87 339 183.22 337.2 184.57 335.4 185.93 333.6 187.29 331.8 188.64 330.1 189.99 328.3 191.33 326.5 192.67 324.7 194 322.9 195.32 321.1 196.62 319.3 197.92" fill="#cdcdcd"/>
<polyline points="319.3 188.83 321.1 187.53 322.9 186.22 324.7 184.91 326.5 183.58 328.3 182.24 330.1 180.9 331.8 179.55 333.6 178.19 335.4 176.84 337.2 175.48 339 174.13 340.8 172.77 342.6 171.42 344.4 170.08 346.2 168.74 348 167.41 349.8 166.09 351.6 164.78 353.3 163.48 355.1 162.2 356.9 160.93 358.7 159.67 360.5 158.43 362.3 157.21 364.1 156 365.9 154.82 367.7 153.65 369.5 152.51 371.3 151.39 373.1 150.29 374.8 149.22 376.6 148.17 378.4 147.15 380.2 146.16 382 145.19 383.8 144.25 385.6 143.34 387.4 142.47 389.2 141.62 391 140.8 392.8 140.02 394.6 139.26 396.3 138.54 398.1 137.86 399.9 137.21 401.7 136.59 403.5 136.01 405.3 135.47 407.1 134.96 408.9 134.48 410.7 134.05 412.5 133.65 414.3 133.28 416.1 132.96 417.8 132.67 419.6 132.42 421.4 132.21 423.2 132.04 425 131.91 426.8 131.81 428.6 131.76 430.4 131.74 432.2 131.76 434 131.82 435.8 131.92 437.5 132.06 439.3 132.23 441.1 132.45 442.9 132.7 444.7 132.99 446.5 133.32 448.3 133.68 450.1 134.09 451.9 134.53 453.7 135 455.5 135.51 457.3 136.06 459.1 136.65 460.8 137.27 462.6 137.92 464.4 138.61 466.2 139.33 468 140.09 469.8 140.88 471.6 141.69 473.4 142.55 475.2 143.43 477 144.34 478.8 145.28 480.5 146.25 482.3 147.24 484.1 148.27 485.9 149.32 487.7 150.39 489.5 151.49 491.3 152.61 493.1 153.76 494.9 154.93 496.7 156.11 498.5 157.32 500.3 158.54 502 159.79 503.8 161.04 505.6 162.32 507.4 163.6 509.2 164.9 511 166.22 512.8 167.54 514.6 168.87 516.4 170.21 518.2 171.55 520 172.9 521.8 174.25 523.5 175.61 525.3 176.96 527.1 178.32 528.9 179.67 530.7 181.02 532.5 182.36 534.3 183.7" fill="none" stroke="#e0825a" stroke-width="0.9"/>
</g>
<line x1="319.3" y1="108.3" x2="319.3" y2="164.1" stroke="#4d4d4d" stroke-width="0.7"/>
<line x1="319.3" y1="164.1" x2="534.3" y2="164.1" stroke="#4d4d4d" stroke-width="0.7"/>
<line x1="369.9" y1="164.1" x2="369.9" y2="161.9" stroke="#4d4d4d" stroke-width="0.7"/>
<text x="369.9" y="180.04" font-size="11.0" text-anchor="middle" font-family="Liberation Sans, Arial, Helvetica, sans-serif" fill="#262626">-5</text>
<line x1="430.3" y1="164.1" x2="430.3" y2="161.9" stroke="#4d4d4d" stroke-width="0.7"/>
<text x="430.3" y="180.04" font-size="11.0" text-anchor="middle" font-family="Liberation Sans, Arial, Helvetica, sans-serif" fill="#262626">0</text>
<line x1="490.7" y1="164.1" x2="490.7" y2="161.9" stroke="#4d4d4d" stroke-width="0.7"/>
<text x="490.7" y="180.04" font-size="11.0" text-anchor="middle" font-family="Liberation Sans, Arial, Helvetica, sans-serif" fill="#262626">5</text>
<line x1="319.3" y1="113.9" x2="321.5" y2="113.9" stroke="#4d4d4d" stroke-width="0.7"/>
<text x="315.7" y="117.84" font-size="11.0" text-anchor="end" font-family="Liberation Sans, Arial, Helvetica, sans-serif" fill="#262626">-0.8</text>
<line x1="319.3" y1="135.55" x2="321.5" y2="135.55" stroke="#4d4d4d" stroke-width="0.7"/>
<text x="315.7" y="139.49" font-size="11.0" text-anchor="end" font-family="Liberation Sans, Arial, Helvetica, sans-serif" fill="#262626">-0.9</text>
<line x1="319.3" y1="157.2" x2="321.5" y2="157.2" stroke="#4d4d4d" stroke-width="0.7"/>
<text x="315.7" y="161.14" font-size="11.0" text-anchor="end" font-family="Liberation Sans, Arial, Helvetica, sans-serif" fill="#262626">-1</text>
<text x="430.3" y="194" font-size="12.1" text-anchor="middle" font-family="Liberation Sans, Arial, Helvetica, sans-serif" fill="#262626">x (mm)</text>
<text transform="translate(292 136) rotate(-90)" font-size="12.5" text-anchor="middle" font-family="Liberation Sans, Arial, Helvetica, sans-serif" fill="#262626">z (mm)</text>
<rect x="466.5" y="89" width="67.4" height="27.2" fill="#fff" stroke="#444" stroke-width="0.7"/>
<rect x="469" y="91.5" width="14.6" height="9.4" fill="#cdcdcd"/>
<text x="485.5" y="100.9" font-size="9.4" text-anchor="start" font-family="Liberation Sans, Arial, Helvetica, sans-serif" fill="#111">uncertainty</text>
<line x1="469" y1="109.3" x2="483.6" y2="109.3" stroke="#e0825a" stroke-width="0.9"/>
<text x="485.5" y="113" font-size="9.4" text-anchor="start" font-family="Liberation Sans, Arial, Helvetica, sans-serif" fill="#111">mean</text>
<rect x="422" y="15.8" width="18.6" height="17.8" fill="none" stroke="#f00" stroke-width="1.3"/>
<line x1="422" y1="33.6" x2="339.3" y2="160.3" stroke="#f00" stroke-width="1.15" stroke-dasharray="12.4 4.6"/>
<line x1="440.6" y1="33.6" x2="517.3" y2="152" stroke="#f00" stroke-width="1.15" stroke-dasharray="12.4 4.6"/>
<line x1="430.2" y1="104.6" x2="430.2" y2="116.9" stroke="#000" stroke-width="1.4"/>
<polygon points="427.7,113.3 430.2,114.7 432.7,113.3 430.2,120.9" fill="#000"/>
<line x1="430.2" y1="158.8" x2="430.2" y2="146.2" stroke="#000" stroke-width="1.4"/>
<polygon points="427.7,149.8 430.2,148.4 432.7,149.8 430.2,142.2" fill="#000"/>
<text x="374.6" y="119.5" font-size="12.0" text-anchor="start" font-family="Liberation Serif, Times New Roman, serif" fill="#000">±0.04 mm</text>
<line x1="37" y1="312.8" x2="196.2" y2="220.7" stroke="#e6e6e6" stroke-width="0.7"/>
<line x1="37" y1="326.1" x2="196.2" y2="234" stroke="#e6e6e6" stroke-width="0.7"/>
<line x1="196.2" y1="234" x2="196.2" y2="220.7" stroke="#e6e6e6" stroke-width="0.7"/>
<line x1="196.2" y1="220.7" x2="255.9" y2="254.8" stroke="#e6e6e6" stroke-width="0.7"/>
<line x1="196.2" y1="234" x2="255.9" y2="268.1" stroke="#e6e6e6" stroke-width="0.7"/>
<line x1="76.8" y1="303.08" x2="76.8" y2="289.78" stroke="#e6e6e6" stroke-width="0.7"/>
<line x1="116.6" y1="280.05" x2="116.6" y2="266.75" stroke="#e6e6e6" stroke-width="0.7"/>
<line x1="156.4" y1="257.03" x2="156.4" y2="243.73" stroke="#e6e6e6" stroke-width="0.7"/>
<line x1="37" y1="326.1" x2="37" y2="312.8" stroke="#262626" stroke-width="0.7"/>
<line x1="37" y1="326.1" x2="96.7" y2="360.2" stroke="#262626" stroke-width="0.7"/>
<line x1="96.7" y1="360.2" x2="255.9" y2="268.1" stroke="#8c8c8c" stroke-width="0.6"/>
<line x1="37" y1="313.4" x2="32.6" y2="311.7" stroke="#262626" stroke-width="0.7"/>
<line x1="37" y1="322.8" x2="32.6" y2="321.1" stroke="#262626" stroke-width="0.7"/>
<line x1="46.02" y1="331.25" x2="42.82" y2="333.15" stroke="#262626" stroke-width="0.7"/>
<line x1="66.34" y1="342.86" x2="63.14" y2="344.76" stroke="#262626" stroke-width="0.7"/>
<line x1="86.66" y1="354.47" x2="83.46" y2="356.37" stroke="#262626" stroke-width="0.7"/>
<line x1="96.7" y1="360.2" x2="100" y2="362.8" stroke="#262626" stroke-width="0.7"/>
<line x1="136.5" y1="337.18" x2="139.8" y2="339.78" stroke="#262626" stroke-width="0.7"/>
<line x1="176.3" y1="314.15" x2="179.6" y2="316.75" stroke="#262626" stroke-width="0.7"/>
<line x1="216.1" y1="291.12" x2="219.4" y2="293.73" stroke="#262626" stroke-width="0.7"/>
<line x1="255.9" y1="268.1" x2="259.2" y2="270.7" stroke="#262626" stroke-width="0.7"/>
<defs><linearGradient id="sb0" gradientUnits="userSpaceOnUse" x1="37.6" y1="323.8" x2="196.8" y2="231.7"><stop offset="0" stop-color="#118dd2"/><stop offset="0.05" stop-color="#0971de"/><stop offset="0.1" stop-color="#095fdf"/><stop offset="0.15" stop-color="#1b55d7"/><stop offset="0.2" stop-color="#1459da"/><stop offset="0.25" stop-color="#0363e1"/><stop offset="0.3" stop-color="#046ce0"/><stop offset="0.35" stop-color="#0c74dd"/><stop offset="0.4" stop-color="#117bd9"/><stop offset="0.45" stop-color="#137fd7"/><stop offset="0.5" stop-color="#1480d6"/><stop offset="0.55" stop-color="#137fd6"/><stop offset="0.6" stop-color="#127cd8"/><stop offset="0.65" stop-color="#0e76dc"/><stop offset="0.7" stop-color="#076fdf"/><stop offset="0.75" stop-color="#0268e1"/><stop offset="0.8" stop-color="#0760e0"/><stop offset="0.85" stop-color="#0a5fdf"/><stop offset="0.9" stop-color="#0267e1"/><stop offset="0.95" stop-color="#0e77db"/><stop offset="1" stop-color="#0b95d2"/></linearGradient><linearGradient id="sb1" gradientUnits="userSpaceOnUse" x1="38.2" y1="323.9" x2="197.4" y2="231.6"><stop offset="0" stop-color="#0f8fd2"/><stop offset="0.05" stop-color="#0b73dd"/><stop offset="0.1" stop-color="#0363e1"/><stop offset="0.15" stop-color="#115bdd"/><stop offset="0.2" stop-color="#0b5edf"/><stop offset="0.25" stop-color="#0267e1"/><stop offset="0.3" stop-color="#076fdf"/><stop offset="0.35" stop-color="#0e77db"/><stop offset="0.4" stop-color="#137dd8"/><stop offset="0.45" stop-color="#1482d5"/><stop offset="0.5" stop-color="#1483d4"/><stop offset="0.55" stop-color="#1482d5"/><stop offset="0.6" stop-color="#137fd7"/><stop offset="0.65" stop-color="#1079da"/><stop offset="0.7" stop-color="#0a73de"/><stop offset="0.75" stop-color="#036ce0"/><stop offset="0.8" stop-color="#0266e1"/><stop offset="0.85" stop-color="#0365e1"/><stop offset="0.9" stop-color="#036ce0"/><stop offset="0.95" stop-color="#117ad9"/><stop offset="1" stop-color="#0899d1"/></linearGradient><linearGradient id="sb2" gradientUnits="userSpaceOnUse" x1="38.8" y1="323.9" x2="198.1" y2="231.6"><stop offset="0" stop-color="#0c94d2"/><stop offset="0.05" stop-color="#0f77db"/><stop offset="0.1" stop-color="#0268e1"/><stop offset="0.15" stop-color="#0562e0"/><stop offset="0.2" stop-color="#0364e1"/><stop offset="0.25" stop-color="#036be0"/><stop offset="0.3" stop-color="#0b73dd"/><stop offset="0.35" stop-color="#117bd9"/><stop offset="0.4" stop-color="#1481d6"/><stop offset="0.45" stop-color="#1486d4"/><stop offset="0.5" stop-color="#1388d3"/><stop offset="0.55" stop-color="#1487d3"/><stop offset="0.6" stop-color="#1483d5"/><stop offset="0.65" stop-color="#137dd8"/><stop offset="0.7" stop-color="#0e76db"/><stop offset="0.75" stop-color="#0770df"/><stop offset="0.8" stop-color="#036be1"/><stop offset="0.85" stop-color="#026ae1"/><stop offset="0.9" stop-color="#0770df"/><stop offset="0.95" stop-color="#137ed7"/><stop offset="1" stop-color="#079ecf"/></linearGradient><linearGradient id="sb3" gradientUnits="userSpaceOnUse" x1="39.4" y1="323.9" x2="198.7" y2="231.6"><stop offset="0" stop-color="#089ad0"/><stop offset="0.05" stop-color="#127cd8"/><stop offset="0.1" stop-color="#056ee0"/><stop offset="0.15" stop-color="#0268e1"/><stop offset="0.2" stop-color="#036ae1"/><stop offset="0.25" stop-color="#0870df"/><stop offset="0.3" stop-color="#0f78db"/><stop offset="0.35" stop-color="#137fd7"/><stop offset="0.4" stop-color="#1486d4"/><stop offset="0.45" stop-color="#128bd2"/><stop offset="0.5" stop-color="#118dd2"/><stop offset="0.55" stop-color="#118cd2"/><stop offset="0.6" stop-color="#1388d3"/><stop offset="0.65" stop-color="#1482d5"/><stop offset="0.7" stop-color="#117bd9"/><stop offset="0.75" stop-color="#0c74dd"/><stop offset="0.8" stop-color="#0770df"/><stop offset="0.85" stop-color="#066fdf"/><stop offset="0.9" stop-color="#0c74dd"/><stop offset="0.95" stop-color="#1483d5"/><stop offset="1" stop-color="#06a2cc"/></linearGradient><linearGradient id="sb4" gradientUnits="userSpaceOnUse" x1="40.1" y1="324" x2="199.3" y2="231.5"><stop offset="0" stop-color="#06a0cd"/><stop offset="0.05" stop-color="#1481d5"/><stop offset="0.1" stop-color="#0b74dd"/><stop offset="0.15" stop-color="#066fdf"/><stop offset="0.2" stop-color="#0870df"/><stop offset="0.25" stop-color="#0e76dc"/><stop offset="0.3" stop-color="#137dd8"/><stop offset="0.35" stop-color="#1485d4"/><stop offset="0.4" stop-color="#118cd2"/><stop offset="0.45" stop-color="#0d92d2"/><stop offset="0.5" stop-color="#0c94d2"/><stop offset="0.55" stop-color="#0d93d2"/><stop offset="0.6" stop-color="#108ed2"/><stop offset="0.65" stop-color="#1487d3"/><stop offset="0.7" stop-color="#1480d6"/><stop offset="0.75" stop-color="#1079da"/><stop offset="0.8" stop-color="#0c74dd"/><stop offset="0.85" stop-color="#0b74dd"/><stop offset="0.9" stop-color="#1079da"/><stop offset="0.95" stop-color="#1388d3"/><stop offset="1" stop-color="#06a5c8"/></linearGradient><linearGradient id="sb5" gradientUnits="userSpaceOnUse" x1="40.7" y1="324" x2="199.9" y2="231.5"><stop offset="0" stop-color="#06a7c5"/><stop offset="0.05" stop-color="#118cd2"/><stop offset="0.1" stop-color="#127dd8"/><stop offset="0.15" stop-color="#0f78db"/><stop offset="0.2" stop-color="#1079da"/><stop offset="0.25" stop-color="#137ed7"/><stop offset="0.3" stop-color="#1485d4"/><stop offset="0.35" stop-color="#108ed2"/><stop offset="0.4" stop-color="#0a96d1"/><stop offset="0.45" stop-color="#079bd0"/><stop offset="0.5" stop-color="#079dcf"/><stop offset="0.55" stop-color="#079bd0"/><stop offset="0.6" stop-color="#0a97d1"/><stop offset="0.65" stop-color="#108fd2"/><stop offset="0.7" stop-color="#1486d3"/><stop offset="0.75" stop-color="#137fd7"/><stop offset="0.8" stop-color="#117ad9"/><stop offset="0.85" stop-color="#1079da"/><stop offset="0.9" stop-color="#137ed7"/><stop offset="0.95" stop-color="#108ed2"/><stop offset="1" stop-color="#07a9c3"/></linearGradient><linearGradient id="sb6" gradientUnits="userSpaceOnUse" x1="41.3" y1="324.1" x2="200.5" y2="231.5"><stop offset="0" stop-color="#10afb8"/><stop offset="0.05" stop-color="#089ad1"/><stop offset="0.1" stop-color="#1388d3"/><stop offset="0.15" stop-color="#1482d5"/><stop offset="0.2" stop-color="#1483d5"/><stop offset="0.25" stop-color="#1388d3"/><stop offset="0.3" stop-color="#0e91d2"/><stop offset="0.35" stop-color="#089ad1"/><stop offset="0.4" stop-color="#06a0cd"/><stop offset="0.45" stop-color="#06a3ca"/><stop offset="0.5" stop-color="#06a4c9"/><stop offset="0.55" stop-color="#06a3cb"/><stop offset="0.6" stop-color="#069fce"/><stop offset="0.65" stop-color="#0998d1"/><stop offset="0.7" stop-color="#108fd2"/><stop offset="0.75" stop-color="#1486d4"/><stop offset="0.8" stop-color="#1481d6"/><stop offset="0.85" stop-color="#137fd7"/><stop offset="0.9" stop-color="#1484d4"/><stop offset="0.95" stop-color="#0b95d1"/><stop offset="1" stop-color="#0bacbd"/></linearGradient><linearGradient id="sb7" gradientUnits="userSpaceOnUse" x1="41.9" y1="324.2" x2="201.2" y2="231.5"><stop offset="0" stop-color="#24b5aa"/><stop offset="0.05" stop-color="#06a4ca"/><stop offset="0.1" stop-color="#0c94d2"/><stop offset="0.15" stop-color="#118dd2"/><stop offset="0.2" stop-color="#108ed2"/><stop offset="0.25" stop-color="#0c94d2"/><stop offset="0.3" stop-color="#079cd0"/><stop offset="0.35" stop-color="#06a2cb"/><stop offset="0.4" stop-color="#06a7c6"/><stop offset="0.45" stop-color="#07a9c2"/><stop offset="0.5" stop-color="#07aac1"/><stop offset="0.55" stop-color="#06a9c3"/><stop offset="0.6" stop-color="#06a5c8"/><stop offset="0.65" stop-color="#06a0cd"/><stop offset="0.7" stop-color="#0998d1"/><stop offset="0.75" stop-color="#108ed2"/><stop offset="0.8" stop-color="#1388d3"/><stop offset="0.85" stop-color="#1486d4"/><stop offset="0.9" stop-color="#128bd2"/><stop offset="0.95" stop-color="#079cd0"/><stop offset="1" stop-color="#13b0b6"/></linearGradient><linearGradient id="sb8" gradientUnits="userSpaceOnUse" x1="42.5" y1="324.2" x2="201.8" y2="231.5"><stop offset="0" stop-color="#38b99d"/><stop offset="0.05" stop-color="#07aac1"/><stop offset="0.1" stop-color="#069ece"/><stop offset="0.15" stop-color="#0998d1"/><stop offset="0.2" stop-color="#0899d1"/><stop offset="0.25" stop-color="#079ecf"/><stop offset="0.3" stop-color="#06a3ca"/><stop offset="0.35" stop-color="#06a8c4"/><stop offset="0.4" stop-color="#0aacbe"/><stop offset="0.45" stop-color="#0eaeba"/><stop offset="0.5" stop-color="#0faeb9"/><stop offset="0.55" stop-color="#0dadbb"/><stop offset="0.6" stop-color="#08aac0"/><stop offset="0.65" stop-color="#06a6c7"/><stop offset="0.7" stop-color="#069fce"/><stop offset="0.75" stop-color="#0a97d1"/><stop offset="0.8" stop-color="#0f90d2"/><stop offset="0.85" stop-color="#118dd2"/><stop offset="0.9" stop-color="#0c93d2"/><stop offset="0.95" stop-color="#06a2cb"/><stop offset="1" stop-color="#1eb3ae"/></linearGradient><linearGradient id="sb9" gradientUnits="userSpaceOnUse" x1="43.1" y1="324.3" x2="202.4" y2="231.6"><stop offset="0" stop-color="#50bc90"/><stop offset="0.05" stop-color="#11afb7"/><stop offset="0.1" stop-color="#06a5c8"/><stop offset="0.15" stop-color="#06a1cd"/><stop offset="0.2" stop-color="#06a1cc"/><stop offset="0.25" stop-color="#06a5c9"/><stop offset="0.3" stop-color="#07a9c2"/><stop offset="0.35" stop-color="#0dadbb"/><stop offset="0.4" stop-color="#15b0b4"/><stop offset="0.45" stop-color="#1bb2b0"/><stop offset="0.5" stop-color="#1cb3af"/><stop offset="0.55" stop-color="#18b2b2"/><stop offset="0.6" stop-color="#10afb8"/><stop offset="0.65" stop-color="#08abc0"/><stop offset="0.7" stop-color="#06a5c8"/><stop offset="0.75" stop-color="#069fce"/><stop offset="0.8" stop-color="#0998d1"/><stop offset="0.85" stop-color="#0a96d1"/><stop offset="0.9" stop-color="#079bd0"/><stop offset="0.95" stop-color="#06a7c5"/><stop offset="1" stop-color="#2bb6a5"/></linearGradient><linearGradient id="sb10" gradientUnits="userSpaceOnUse" x1="43.7" y1="324.4" x2="203" y2="231.6"><stop offset="0" stop-color="#69be84"/><stop offset="0.05" stop-color="#20b4ad"/><stop offset="0.1" stop-color="#09abbf"/><stop offset="0.15" stop-color="#06a7c6"/><stop offset="0.2" stop-color="#06a7c5"/><stop offset="0.25" stop-color="#08aac0"/><stop offset="0.3" stop-color="#0faeb9"/><stop offset="0.35" stop-color="#1ab2b1"/><stop offset="0.4" stop-color="#24b5aa"/><stop offset="0.45" stop-color="#2bb6a5"/><stop offset="0.5" stop-color="#2db7a5"/><stop offset="0.55" stop-color="#28b6a8"/><stop offset="0.6" stop-color="#1eb3ae"/><stop offset="0.65" stop-color="#11afb7"/><stop offset="0.7" stop-color="#08aac0"/><stop offset="0.75" stop-color="#06a5c8"/><stop offset="0.8" stop-color="#06a0cd"/><stop offset="0.85" stop-color="#069ece"/><stop offset="0.9" stop-color="#06a2cb"/><stop offset="0.95" stop-color="#0aacbe"/><stop offset="1" stop-color="#3cba9b"/></linearGradient><linearGradient id="sb11" gradientUnits="userSpaceOnUse" x1="44.4" y1="324.4" x2="203.7" y2="231.7"><stop offset="0" stop-color="#81bf7a"/><stop offset="0.05" stop-color="#32b8a1"/><stop offset="0.1" stop-color="#13b0b6"/><stop offset="0.15" stop-color="#0bacbd"/><stop offset="0.2" stop-color="#0badbc"/><stop offset="0.25" stop-color="#11afb7"/><stop offset="0.3" stop-color="#1cb3af"/><stop offset="0.35" stop-color="#2ab6a6"/><stop offset="0.4" stop-color="#36b99f"/><stop offset="0.45" stop-color="#3fba9a"/><stop offset="0.5" stop-color="#40ba99"/><stop offset="0.55" stop-color="#3bb99c"/><stop offset="0.6" stop-color="#2fb7a3"/><stop offset="0.65" stop-color="#20b4ad"/><stop offset="0.7" stop-color="#11afb7"/><stop offset="0.75" stop-color="#08aac0"/><stop offset="0.8" stop-color="#06a6c7"/><stop offset="0.85" stop-color="#06a5c9"/><stop offset="0.9" stop-color="#06a8c4"/><stop offset="0.95" stop-color="#15b0b5"/><stop offset="1" stop-color="#52bd8f"/></linearGradient><linearGradient id="sb12" gradientUnits="userSpaceOnUse" x1="45" y1="324.5" x2="204.3" y2="231.7"><stop offset="0" stop-color="#95bf71"/><stop offset="0.05" stop-color="#47bb95"/><stop offset="0.1" stop-color="#22b4ac"/><stop offset="0.15" stop-color="#16b1b3"/><stop offset="0.2" stop-color="#17b1b3"/><stop offset="0.25" stop-color="#20b4ad"/><stop offset="0.3" stop-color="#2db7a4"/><stop offset="0.35" stop-color="#3dba9b"/><stop offset="0.4" stop-color="#4cbc92"/><stop offset="0.45" stop-color="#55bd8d"/><stop offset="0.5" stop-color="#57bd8c"/><stop offset="0.55" stop-color="#51bc90"/><stop offset="0.6" stop-color="#43bb97"/><stop offset="0.65" stop-color="#31b8a2"/><stop offset="0.7" stop-color="#20b4ad"/><stop offset="0.75" stop-color="#11afb7"/><stop offset="0.8" stop-color="#09acbe"/><stop offset="0.85" stop-color="#08aac0"/><stop offset="0.9" stop-color="#0cadbb"/><stop offset="0.95" stop-color="#24b5aa"/><stop offset="1" stop-color="#6abe83"/></linearGradient><linearGradient id="sb13" gradientUnits="userSpaceOnUse" x1="45.6" y1="324.6" x2="204.9" y2="231.8"><stop offset="0" stop-color="#a7be6a"/><stop offset="0.05" stop-color="#5dbe8a"/><stop offset="0.1" stop-color="#33b8a1"/><stop offset="0.15" stop-color="#25b5a9"/><stop offset="0.2" stop-color="#26b5a9"/><stop offset="0.25" stop-color="#31b8a2"/><stop offset="0.3" stop-color="#40ba99"/><stop offset="0.35" stop-color="#53bd8f"/><stop offset="0.4" stop-color="#63be87"/><stop offset="0.45" stop-color="#6dbf82"/><stop offset="0.5" stop-color="#6fbf81"/><stop offset="0.55" stop-color="#68be84"/><stop offset="0.6" stop-color="#5abd8b"/><stop offset="0.65" stop-color="#46bb96"/><stop offset="0.7" stop-color="#31b8a2"/><stop offset="0.75" stop-color="#20b4ad"/><stop offset="0.8" stop-color="#15b0b5"/><stop offset="0.85" stop-color="#12afb7"/><stop offset="0.9" stop-color="#19b2b1"/><stop offset="0.95" stop-color="#37b99e"/><stop offset="1" stop-color="#82bf79"/></linearGradient><linearGradient id="sb14" gradientUnits="userSpaceOnUse" x1="46.2" y1="324.7" x2="205.5" y2="231.9"><stop offset="0" stop-color="#b8bd63"/><stop offset="0.05" stop-color="#73bf7f"/><stop offset="0.1" stop-color="#46bb95"/><stop offset="0.15" stop-color="#37b99e"/><stop offset="0.2" stop-color="#38b99e"/><stop offset="0.25" stop-color="#44bb97"/><stop offset="0.3" stop-color="#56bd8d"/><stop offset="0.35" stop-color="#6abe84"/><stop offset="0.4" stop-color="#79bf7d"/><stop offset="0.45" stop-color="#83bf79"/><stop offset="0.5" stop-color="#85bf78"/><stop offset="0.55" stop-color="#7fbf7a"/><stop offset="0.6" stop-color="#71bf80"/><stop offset="0.65" stop-color="#5dbe8a"/><stop offset="0.7" stop-color="#45bb96"/><stop offset="0.75" stop-color="#31b8a2"/><stop offset="0.8" stop-color="#24b5aa"/><stop offset="0.85" stop-color="#20b4ad"/><stop offset="0.9" stop-color="#2ab6a7"/><stop offset="0.95" stop-color="#4dbc92"/><stop offset="1" stop-color="#97bf71"/></linearGradient><linearGradient id="sb15" gradientUnits="userSpaceOnUse" x1="46.8" y1="324.8" x2="206.1" y2="232"><stop offset="0" stop-color="#c8bc5d"/><stop offset="0.05" stop-color="#87bf77"/><stop offset="0.1" stop-color="#5bbd8a"/><stop offset="0.15" stop-color="#4abc93"/><stop offset="0.2" stop-color="#4cbc92"/><stop offset="0.25" stop-color="#59bd8b"/><stop offset="0.3" stop-color="#6cbf82"/><stop offset="0.35" stop-color="#7fbf7a"/><stop offset="0.4" stop-color="#8ebf74"/><stop offset="0.45" stop-color="#96bf71"/><stop offset="0.5" stop-color="#98bf70"/><stop offset="0.55" stop-color="#93bf72"/><stop offset="0.6" stop-color="#87bf77"/><stop offset="0.65" stop-color="#74bf7f"/><stop offset="0.7" stop-color="#5cbe8a"/><stop offset="0.75" stop-color="#46bb96"/><stop offset="0.8" stop-color="#36b99f"/><stop offset="0.85" stop-color="#32b8a2"/><stop offset="0.9" stop-color="#3dba9b"/><stop offset="0.95" stop-color="#64be86"/><stop offset="1" stop-color="#aabe69"/></linearGradient><linearGradient id="sb16" gradientUnits="userSpaceOnUse" x1="47.4" y1="324.9" x2="206.8" y2="232.1"><stop offset="0" stop-color="#d6ba57"/><stop offset="0.05" stop-color="#99bf70"/><stop offset="0.1" stop-color="#70bf81"/><stop offset="0.15" stop-color="#5fbe89"/><stop offset="0.2" stop-color="#61be88"/><stop offset="0.25" stop-color="#6fbf81"/><stop offset="0.3" stop-color="#81bf79"/><stop offset="0.35" stop-color="#93bf72"/><stop offset="0.4" stop-color="#a0be6d"/><stop offset="0.45" stop-color="#a8be69"/><stop offset="0.5" stop-color="#aabe69"/><stop offset="0.55" stop-color="#a6be6b"/><stop offset="0.6" stop-color="#9bbf6f"/><stop offset="0.65" stop-color="#89bf76"/><stop offset="0.7" stop-color="#73bf7f"/><stop offset="0.75" stop-color="#5dbe8a"/><stop offset="0.8" stop-color="#4cbc92"/><stop offset="0.85" stop-color="#46bb95"/><stop offset="0.9" stop-color="#54bd8e"/><stop offset="0.95" stop-color="#7cbf7b"/><stop offset="1" stop-color="#bdbd61"/></linearGradient><linearGradient id="sb17" gradientUnits="userSpaceOnUse" x1="48" y1="325" x2="207.4" y2="232.3"><stop offset="0" stop-color="#e3b951"/><stop offset="0.05" stop-color="#a9be69"/><stop offset="0.1" stop-color="#83bf79"/><stop offset="0.15" stop-color="#73bf7f"/><stop offset="0.2" stop-color="#75bf7e"/><stop offset="0.25" stop-color="#82bf79"/><stop offset="0.3" stop-color="#94bf72"/><stop offset="0.35" stop-color="#a4be6b"/><stop offset="0.4" stop-color="#b1bd66"/><stop offset="0.45" stop-color="#b9bd63"/><stop offset="0.5" stop-color="#bbbd62"/><stop offset="0.55" stop-color="#b6bd64"/><stop offset="0.6" stop-color="#acbe68"/><stop offset="0.65" stop-color="#9cbf6e"/><stop offset="0.7" stop-color="#89bf76"/><stop offset="0.75" stop-color="#74bf7f"/><stop offset="0.8" stop-color="#63be87"/><stop offset="0.85" stop-color="#5dbe89"/><stop offset="0.9" stop-color="#6bbf83"/><stop offset="0.95" stop-color="#92bf72"/><stop offset="1" stop-color="#cebb5a"/></linearGradient><linearGradient id="sb18" gradientUnits="userSpaceOnUse" x1="48.7" y1="325.1" x2="208" y2="232.4"><stop offset="0" stop-color="#efb94b"/><stop offset="0.05" stop-color="#b7bd64"/><stop offset="0.1" stop-color="#94bf72"/><stop offset="0.15" stop-color="#85bf78"/><stop offset="0.2" stop-color="#87bf77"/><stop offset="0.25" stop-color="#93bf72"/><stop offset="0.3" stop-color="#a4be6b"/><stop offset="0.35" stop-color="#b3bd65"/><stop offset="0.4" stop-color="#c0bc60"/><stop offset="0.45" stop-color="#c7bc5d"/><stop offset="0.5" stop-color="#c9bb5c"/><stop offset="0.55" stop-color="#c5bc5e"/><stop offset="0.6" stop-color="#bcbd62"/><stop offset="0.65" stop-color="#adbe68"/><stop offset="0.7" stop-color="#9bbf6f"/><stop offset="0.75" stop-color="#88bf77"/><stop offset="0.8" stop-color="#78bf7d"/><stop offset="0.85" stop-color="#73bf7f"/><stop offset="0.9" stop-color="#81bf7a"/><stop offset="0.95" stop-color="#a4be6b"/><stop offset="1" stop-color="#ddba54"/></linearGradient><linearGradient id="sb19" gradientUnits="userSpaceOnUse" x1="49.3" y1="325.2" x2="208.6" y2="232.5"><stop offset="0" stop-color="#fabb42"/><stop offset="0.05" stop-color="#c3bc5f"/><stop offset="0.1" stop-color="#a2be6c"/><stop offset="0.15" stop-color="#95bf71"/><stop offset="0.2" stop-color="#97bf71"/><stop offset="0.25" stop-color="#a2be6c"/><stop offset="0.3" stop-color="#b2bd66"/><stop offset="0.35" stop-color="#c1bc60"/><stop offset="0.4" stop-color="#cdbb5b"/><stop offset="0.45" stop-color="#d4bb58"/><stop offset="0.5" stop-color="#d7ba57"/><stop offset="0.55" stop-color="#d3bb58"/><stop offset="0.6" stop-color="#cabb5c"/><stop offset="0.65" stop-color="#bcbd62"/><stop offset="0.7" stop-color="#aabe69"/><stop offset="0.75" stop-color="#99bf70"/><stop offset="0.8" stop-color="#8abf76"/><stop offset="0.85" stop-color="#86bf77"/><stop offset="0.9" stop-color="#93bf72"/><stop offset="0.95" stop-color="#b4bd65"/><stop offset="1" stop-color="#ebb94d"/></linearGradient><linearGradient id="sb20" gradientUnits="userSpaceOnUse" x1="49.9" y1="325.3" x2="209.2" y2="232.7"><stop offset="0" stop-color="#fec139"/><stop offset="0.05" stop-color="#cfbb5a"/><stop offset="0.1" stop-color="#afbe67"/><stop offset="0.15" stop-color="#a2be6c"/><stop offset="0.2" stop-color="#a4be6b"/><stop offset="0.25" stop-color="#b0be67"/><stop offset="0.3" stop-color="#bebc61"/><stop offset="0.35" stop-color="#cdbb5b"/><stop offset="0.4" stop-color="#d9ba56"/><stop offset="0.45" stop-color="#e0ba52"/><stop offset="0.5" stop-color="#e3b951"/><stop offset="0.55" stop-color="#dfba53"/><stop offset="0.6" stop-color="#d6ba57"/><stop offset="0.65" stop-color="#c8bc5d"/><stop offset="0.7" stop-color="#b8bd63"/><stop offset="0.75" stop-color="#a7be6a"/><stop offset="0.8" stop-color="#9abf6f"/><stop offset="0.85" stop-color="#96bf71"/><stop offset="0.9" stop-color="#a2be6c"/><stop offset="0.95" stop-color="#c1bc5f"/><stop offset="1" stop-color="#f7ba45"/></linearGradient><linearGradient id="sb21" gradientUnits="userSpaceOnUse" x1="50.5" y1="325.4" x2="209.9" y2="232.8"><stop offset="0" stop-color="#fec535"/><stop offset="0.05" stop-color="#daba55"/><stop offset="0.1" stop-color="#bbbd62"/><stop offset="0.15" stop-color="#afbe67"/><stop offset="0.2" stop-color="#b1bd66"/><stop offset="0.25" stop-color="#bcbd62"/><stop offset="0.3" stop-color="#cabb5c"/><stop offset="0.35" stop-color="#d8ba56"/><stop offset="0.4" stop-color="#e4b950"/><stop offset="0.45" stop-color="#ecb94d"/><stop offset="0.5" stop-color="#eeb94b"/><stop offset="0.55" stop-color="#eab94d"/><stop offset="0.6" stop-color="#e1b952"/><stop offset="0.65" stop-color="#d4bb58"/><stop offset="0.7" stop-color="#c4bc5e"/><stop offset="0.75" stop-color="#b4bd65"/><stop offset="0.8" stop-color="#a8be6a"/><stop offset="0.85" stop-color="#a4be6b"/><stop offset="0.9" stop-color="#afbe67"/><stop offset="0.95" stop-color="#cebb5b"/><stop offset="1" stop-color="#febf3c"/></linearGradient><linearGradient id="sb22" gradientUnits="userSpaceOnUse" x1="51.1" y1="325.5" x2="210.5" y2="233"><stop offset="0" stop-color="#fec932"/><stop offset="0.05" stop-color="#e5b950"/><stop offset="0.1" stop-color="#c6bc5d"/><stop offset="0.15" stop-color="#bbbd62"/><stop offset="0.2" stop-color="#bdbd61"/><stop offset="0.25" stop-color="#c7bc5d"/><stop offset="0.3" stop-color="#d5ba57"/><stop offset="0.35" stop-color="#e3b951"/><stop offset="0.4" stop-color="#efb94b"/><stop offset="0.45" stop-color="#f6ba46"/><stop offset="0.5" stop-color="#f8ba44"/><stop offset="0.55" stop-color="#f5ba47"/><stop offset="0.6" stop-color="#ecb94c"/><stop offset="0.65" stop-color="#dfba53"/><stop offset="0.7" stop-color="#d0bb5a"/><stop offset="0.75" stop-color="#c0bc60"/><stop offset="0.8" stop-color="#b4bd65"/><stop offset="0.85" stop-color="#b0bd66"/><stop offset="0.9" stop-color="#bbbd62"/><stop offset="0.95" stop-color="#d9ba56"/><stop offset="1" stop-color="#fec734"/></linearGradient><linearGradient id="sb23" gradientUnits="userSpaceOnUse" x1="51.7" y1="325.7" x2="211.1" y2="233.1"><stop offset="0" stop-color="#fdcc2f"/><stop offset="0.05" stop-color="#ecb94c"/><stop offset="0.1" stop-color="#d1bb59"/><stop offset="0.15" stop-color="#c5bc5e"/><stop offset="0.2" stop-color="#c7bc5d"/><stop offset="0.25" stop-color="#d2bb59"/><stop offset="0.3" stop-color="#dfba53"/><stop offset="0.35" stop-color="#edb94c"/><stop offset="0.4" stop-color="#f8bb44"/><stop offset="0.45" stop-color="#fdbe3e"/><stop offset="0.5" stop-color="#febf3c"/><stop offset="0.55" stop-color="#fcbd3f"/><stop offset="0.6" stop-color="#f6ba46"/><stop offset="0.65" stop-color="#eab94e"/><stop offset="0.7" stop-color="#daba55"/><stop offset="0.75" stop-color="#cbbb5b"/><stop offset="0.8" stop-color="#c0bc60"/><stop offset="0.85" stop-color="#bcbd62"/><stop offset="0.9" stop-color="#c7bc5d"/><stop offset="0.95" stop-color="#e4b951"/><stop offset="1" stop-color="#fdcc2f"/></linearGradient><linearGradient id="sb24" gradientUnits="userSpaceOnUse" x1="52.3" y1="325.8" x2="211.7" y2="233.3"><stop offset="0" stop-color="#fbcf2d"/><stop offset="0.05" stop-color="#f1b94a"/><stop offset="0.1" stop-color="#dbba55"/><stop offset="0.15" stop-color="#cfbb5a"/><stop offset="0.2" stop-color="#d1bb59"/><stop offset="0.25" stop-color="#dcba54"/><stop offset="0.3" stop-color="#e9b94e"/><stop offset="0.35" stop-color="#f7ba45"/><stop offset="0.4" stop-color="#febf3c"/><stop offset="0.45" stop-color="#ffc436"/><stop offset="0.5" stop-color="#fec635"/><stop offset="0.55" stop-color="#ffc437"/><stop offset="0.6" stop-color="#fdbe3d"/><stop offset="0.65" stop-color="#f4ba47"/><stop offset="0.7" stop-color="#e5b950"/><stop offset="0.75" stop-color="#d6ba57"/><stop offset="0.8" stop-color="#cbbb5c"/><stop offset="0.85" stop-color="#c8bc5d"/><stop offset="0.9" stop-color="#d2bb59"/><stop offset="0.95" stop-color="#efb94b"/><stop offset="1" stop-color="#fbcf2d"/></linearGradient><linearGradient id="sb25" gradientUnits="userSpaceOnUse" x1="52.9" y1="326" x2="212.4" y2="233.5"><stop offset="0" stop-color="#fad22a"/><stop offset="0.05" stop-color="#f5ba46"/><stop offset="0.1" stop-color="#e2b952"/><stop offset="0.15" stop-color="#d9ba55"/><stop offset="0.2" stop-color="#dbba55"/><stop offset="0.25" stop-color="#e6b950"/><stop offset="0.3" stop-color="#f3ba48"/><stop offset="0.35" stop-color="#fdbe3d"/><stop offset="0.4" stop-color="#fec634"/><stop offset="0.45" stop-color="#fdcb30"/><stop offset="0.5" stop-color="#fccd2f"/><stop offset="0.55" stop-color="#fdcb30"/><stop offset="0.6" stop-color="#fec535"/><stop offset="0.65" stop-color="#fcbd3f"/><stop offset="0.7" stop-color="#f0b94a"/><stop offset="0.75" stop-color="#e2b952"/><stop offset="0.8" stop-color="#d7ba57"/><stop offset="0.85" stop-color="#d4bb58"/><stop offset="0.9" stop-color="#deba53"/><stop offset="0.95" stop-color="#f5ba46"/><stop offset="1" stop-color="#fad22a"/></linearGradient><linearGradient id="sb26" gradientUnits="userSpaceOnUse" x1="53.6" y1="326.1" x2="213" y2="233.7"><stop offset="0" stop-color="#f8d528"/><stop offset="0.05" stop-color="#f9bb43"/><stop offset="0.1" stop-color="#e7b94f"/><stop offset="0.15" stop-color="#e4b951"/><stop offset="0.2" stop-color="#e6b950"/><stop offset="0.25" stop-color="#f0b94a"/><stop offset="0.3" stop-color="#fbbd40"/><stop offset="0.35" stop-color="#fec535"/><stop offset="0.4" stop-color="#fccd2e"/><stop offset="0.45" stop-color="#fad22a"/><stop offset="0.5" stop-color="#f9d429"/><stop offset="0.55" stop-color="#fad22a"/><stop offset="0.6" stop-color="#fccc2f"/><stop offset="0.65" stop-color="#ffc436"/><stop offset="0.7" stop-color="#fabc42"/><stop offset="0.75" stop-color="#edb94c"/><stop offset="0.8" stop-color="#e2b951"/><stop offset="0.85" stop-color="#dfba53"/><stop offset="0.9" stop-color="#e7b94f"/><stop offset="0.95" stop-color="#f9bb43"/><stop offset="1" stop-color="#f8d528"/></linearGradient><linearGradient id="sb27" gradientUnits="userSpaceOnUse" x1="54.2" y1="326.2" x2="213.6" y2="233.9"><stop offset="0" stop-color="#f7d825"/><stop offset="0.05" stop-color="#fcbd3f"/><stop offset="0.1" stop-color="#ebb94d"/><stop offset="0.15" stop-color="#e9b94e"/><stop offset="0.2" stop-color="#f0b94a"/><stop offset="0.25" stop-color="#f9bb43"/><stop offset="0.3" stop-color="#ffc338"/><stop offset="0.35" stop-color="#fdcc2f"/><stop offset="0.4" stop-color="#f9d429"/><stop offset="0.45" stop-color="#f7d925"/><stop offset="0.5" stop-color="#f6db24"/><stop offset="0.55" stop-color="#f7d925"/><stop offset="0.6" stop-color="#f9d329"/><stop offset="0.65" stop-color="#fdcb30"/><stop offset="0.7" stop-color="#fec139"/><stop offset="0.75" stop-color="#f7ba45"/><stop offset="0.8" stop-color="#edb94c"/><stop offset="0.85" stop-color="#e9b94e"/><stop offset="0.9" stop-color="#ebb94d"/><stop offset="0.95" stop-color="#fcbd3f"/><stop offset="1" stop-color="#f7d825"/></linearGradient><linearGradient id="sb28" gradientUnits="userSpaceOnUse" x1="54.8" y1="326.4" x2="214.2" y2="234.1"><stop offset="0" stop-color="#f6dc23"/><stop offset="0.05" stop-color="#febf3c"/><stop offset="0.1" stop-color="#efb94b"/><stop offset="0.15" stop-color="#ecb94c"/><stop offset="0.2" stop-color="#f5ba46"/><stop offset="0.25" stop-color="#fec03b"/><stop offset="0.3" stop-color="#fec932"/><stop offset="0.35" stop-color="#fad22a"/><stop offset="0.4" stop-color="#f7da24"/><stop offset="0.45" stop-color="#f5e020"/><stop offset="0.5" stop-color="#f5e21f"/><stop offset="0.55" stop-color="#f5df20"/><stop offset="0.6" stop-color="#f7d925"/><stop offset="0.65" stop-color="#fbd12b"/><stop offset="0.7" stop-color="#fec734"/><stop offset="0.75" stop-color="#fdbe3e"/><stop offset="0.8" stop-color="#f5ba46"/><stop offset="0.85" stop-color="#ecb94c"/><stop offset="0.9" stop-color="#efb94b"/><stop offset="0.95" stop-color="#febf3c"/><stop offset="1" stop-color="#f6dc23"/></linearGradient><linearGradient id="sb29" gradientUnits="userSpaceOnUse" x1="55.4" y1="326.5" x2="214.8" y2="234.3"><stop offset="0" stop-color="#f5df21"/><stop offset="0.05" stop-color="#fec239"/><stop offset="0.1" stop-color="#f3b948"/><stop offset="0.15" stop-color="#f0b94a"/><stop offset="0.2" stop-color="#f8bb44"/><stop offset="0.25" stop-color="#ffc337"/><stop offset="0.3" stop-color="#fccd2e"/><stop offset="0.35" stop-color="#f8d627"/><stop offset="0.4" stop-color="#f5df21"/><stop offset="0.45" stop-color="#f5e51c"/><stop offset="0.5" stop-color="#f5e71b"/><stop offset="0.55" stop-color="#f5e41d"/><stop offset="0.6" stop-color="#f5de21"/><stop offset="0.65" stop-color="#f9d528"/><stop offset="0.7" stop-color="#fdcb30"/><stop offset="0.75" stop-color="#fec239"/><stop offset="0.8" stop-color="#f8bb44"/><stop offset="0.85" stop-color="#f0b94a"/><stop offset="0.9" stop-color="#f3b948"/><stop offset="0.95" stop-color="#fec239"/><stop offset="1" stop-color="#f5df21"/></linearGradient><linearGradient id="sb30" gradientUnits="userSpaceOnUse" x1="56" y1="326.7" x2="215.5" y2="234.6"><stop offset="0" stop-color="#f5e21f"/><stop offset="0.05" stop-color="#ffc536"/><stop offset="0.1" stop-color="#f6ba46"/><stop offset="0.15" stop-color="#f3ba48"/><stop offset="0.2" stop-color="#fabc41"/><stop offset="0.25" stop-color="#fec536"/><stop offset="0.3" stop-color="#fbd02c"/><stop offset="0.35" stop-color="#f7da25"/><stop offset="0.4" stop-color="#f5e31e"/><stop offset="0.45" stop-color="#f5e919"/><stop offset="0.5" stop-color="#f5eb18"/><stop offset="0.55" stop-color="#f5e91a"/><stop offset="0.6" stop-color="#f5e21f"/><stop offset="0.65" stop-color="#f7d925"/><stop offset="0.7" stop-color="#fbcf2d"/><stop offset="0.75" stop-color="#fec536"/><stop offset="0.8" stop-color="#fabc41"/><stop offset="0.85" stop-color="#f3ba48"/><stop offset="0.9" stop-color="#f6ba46"/><stop offset="0.95" stop-color="#ffc536"/><stop offset="1" stop-color="#f5e21f"/></linearGradient><linearGradient id="sb31" gradientUnits="userSpaceOnUse" x1="56.6" y1="326.9" x2="216.1" y2="234.8"><stop offset="0" stop-color="#f5e51d"/><stop offset="0.05" stop-color="#fec734"/><stop offset="0.1" stop-color="#f9bb43"/><stop offset="0.15" stop-color="#f6ba46"/><stop offset="0.2" stop-color="#fcbd3f"/><stop offset="0.25" stop-color="#fec634"/><stop offset="0.3" stop-color="#fad12b"/><stop offset="0.35" stop-color="#f6db23"/><stop offset="0.4" stop-color="#f5e51d"/><stop offset="0.45" stop-color="#f5ec18"/><stop offset="0.5" stop-color="#f5ee16"/><stop offset="0.55" stop-color="#f5ec18"/><stop offset="0.6" stop-color="#f5e51d"/><stop offset="0.65" stop-color="#f6db23"/><stop offset="0.7" stop-color="#fad12b"/><stop offset="0.75" stop-color="#fec634"/><stop offset="0.8" stop-color="#fcbd3f"/><stop offset="0.85" stop-color="#f6ba46"/><stop offset="0.9" stop-color="#f9bb43"/><stop offset="0.95" stop-color="#fec734"/><stop offset="1" stop-color="#f5e51d"/></linearGradient><linearGradient id="sb32" gradientUnits="userSpaceOnUse" x1="57.2" y1="327" x2="216.7" y2="235.1"><stop offset="0" stop-color="#f5e81a"/><stop offset="0.05" stop-color="#fec931"/><stop offset="0.1" stop-color="#fbbc40"/><stop offset="0.15" stop-color="#f9bb44"/><stop offset="0.2" stop-color="#fdbe3d"/><stop offset="0.25" stop-color="#fec833"/><stop offset="0.3" stop-color="#fad22a"/><stop offset="0.35" stop-color="#f6dd22"/><stop offset="0.4" stop-color="#f5e61b"/><stop offset="0.45" stop-color="#f5ee16"/><stop offset="0.5" stop-color="#f6f115"/><stop offset="0.55" stop-color="#f5ee16"/><stop offset="0.6" stop-color="#f5e71b"/><stop offset="0.65" stop-color="#f6de22"/><stop offset="0.7" stop-color="#fad32a"/><stop offset="0.75" stop-color="#fec833"/><stop offset="0.8" stop-color="#fdbe3d"/><stop offset="0.85" stop-color="#f9bb44"/><stop offset="0.9" stop-color="#fbbc40"/><stop offset="0.95" stop-color="#fec931"/><stop offset="1" stop-color="#f5e81a"/></linearGradient><linearGradient id="sb33" gradientUnits="userSpaceOnUse" x1="57.9" y1="327.2" x2="217.3" y2="235.3"><stop offset="0" stop-color="#f5eb18"/><stop offset="0.05" stop-color="#fdcb30"/><stop offset="0.1" stop-color="#fdbe3e"/><stop offset="0.15" stop-color="#fabc41"/><stop offset="0.2" stop-color="#fec03b"/><stop offset="0.25" stop-color="#fec932"/><stop offset="0.3" stop-color="#fad329"/><stop offset="0.35" stop-color="#f6dd22"/><stop offset="0.4" stop-color="#f5e81b"/><stop offset="0.45" stop-color="#f6ef15"/><stop offset="0.5" stop-color="#f6f213"/><stop offset="0.55" stop-color="#f6f015"/><stop offset="0.6" stop-color="#f5e81a"/><stop offset="0.65" stop-color="#f5de21"/><stop offset="0.7" stop-color="#f9d329"/><stop offset="0.75" stop-color="#fec932"/><stop offset="0.8" stop-color="#fec03b"/><stop offset="0.85" stop-color="#fabc41"/><stop offset="0.9" stop-color="#fdbe3e"/><stop offset="0.95" stop-color="#fdcb30"/><stop offset="1" stop-color="#f5eb18"/></linearGradient><linearGradient id="sb34" gradientUnits="userSpaceOnUse" x1="58.5" y1="327.5" x2="218" y2="235.6"><stop offset="0" stop-color="#f5ee16"/><stop offset="0.05" stop-color="#fccd2e"/><stop offset="0.1" stop-color="#febf3c"/><stop offset="0.15" stop-color="#fcbd3f"/><stop offset="0.2" stop-color="#fec13a"/><stop offset="0.25" stop-color="#fdca31"/><stop offset="0.3" stop-color="#f9d429"/><stop offset="0.35" stop-color="#f5de21"/><stop offset="0.4" stop-color="#f5e81a"/><stop offset="0.45" stop-color="#f6f015"/><stop offset="0.5" stop-color="#f6f213"/><stop offset="0.55" stop-color="#f6f015"/><stop offset="0.6" stop-color="#f5e81a"/><stop offset="0.65" stop-color="#f5de21"/><stop offset="0.7" stop-color="#f9d429"/><stop offset="0.75" stop-color="#fdca31"/><stop offset="0.8" stop-color="#fec13a"/><stop offset="0.85" stop-color="#fcbd3f"/><stop offset="0.9" stop-color="#febf3c"/><stop offset="0.95" stop-color="#fccd2e"/><stop offset="1" stop-color="#f5ee16"/></linearGradient><linearGradient id="sb35" gradientUnits="userSpaceOnUse" x1="59.1" y1="327.7" x2="218.6" y2="235.9"><stop offset="0" stop-color="#f6f114"/><stop offset="0.05" stop-color="#fbcf2c"/><stop offset="0.1" stop-color="#fec13a"/><stop offset="0.15" stop-color="#fdbe3e"/><stop offset="0.2" stop-color="#fec239"/><stop offset="0.25" stop-color="#fdca31"/><stop offset="0.3" stop-color="#f9d429"/><stop offset="0.35" stop-color="#f5de21"/><stop offset="0.4" stop-color="#f5e81a"/><stop offset="0.45" stop-color="#f6f015"/><stop offset="0.5" stop-color="#f6f213"/><stop offset="0.55" stop-color="#f6f015"/><stop offset="0.6" stop-color="#f5e81a"/><stop offset="0.65" stop-color="#f5de21"/><stop offset="0.7" stop-color="#f9d429"/><stop offset="0.75" stop-color="#fdca31"/><stop offset="0.8" stop-color="#fec239"/><stop offset="0.85" stop-color="#fdbe3e"/><stop offset="0.9" stop-color="#fec13a"/><stop offset="0.95" stop-color="#fbcf2c"/><stop offset="1" stop-color="#f6f114"/></linearGradient><linearGradient id="sb36" gradientUnits="userSpaceOnUse" x1="59.7" y1="328" x2="219.2" y2="236.1"><stop offset="0" stop-color="#f7f412"/><stop offset="0.05" stop-color="#fad12b"/><stop offset="0.1" stop-color="#ffc238"/><stop offset="0.15" stop-color="#febf3c"/><stop offset="0.2" stop-color="#ffc338"/><stop offset="0.25" stop-color="#fdca31"/><stop offset="0.3" stop-color="#f9d429"/><stop offset="0.35" stop-color="#f5de21"/><stop offset="0.4" stop-color="#f5e81a"/><stop offset="0.45" stop-color="#f6f015"/><stop offset="0.5" stop-color="#f6f213"/><stop offset="0.55" stop-color="#f6f015"/><stop offset="0.6" stop-color="#f5e81a"/><stop offset="0.65" stop-color="#f5de21"/><stop offset="0.7" stop-color="#f9d429"/><stop offset="0.75" stop-color="#fdcb30"/><stop offset="0.8" stop-color="#ffc338"/><stop offset="0.85" stop-color="#febf3c"/><stop offset="0.9" stop-color="#ffc238"/><stop offset="0.95" stop-color="#fad12b"/><stop offset="1" stop-color="#f7f412"/></linearGradient><linearGradient id="sb37" gradientUnits="userSpaceOnUse" x1="60.3" y1="328.2" x2="219.8" y2="236.4"><stop offset="0" stop-color="#f8f710"/><stop offset="0.05" stop-color="#fad32a"/><stop offset="0.1" stop-color="#ffc437"/><stop offset="0.15" stop-color="#fec03b"/><stop offset="0.2" stop-color="#ffc337"/><stop offset="0.25" stop-color="#fdcb30"/><stop offset="0.3" stop-color="#f9d429"/><stop offset="0.35" stop-color="#f5de21"/><stop offset="0.4" stop-color="#f5e81a"/><stop offset="0.45" stop-color="#f6f015"/><stop offset="0.5" stop-color="#f6f213"/><stop offset="0.55" stop-color="#f6f015"/><stop offset="0.6" stop-color="#f5e81a"/><stop offset="0.65" stop-color="#f5de21"/><stop offset="0.7" stop-color="#f9d429"/><stop offset="0.75" stop-color="#fdcb30"/><stop offset="0.8" stop-color="#ffc337"/><stop offset="0.85" stop-color="#fec03b"/><stop offset="0.9" stop-color="#ffc437"/><stop offset="0.95" stop-color="#fad32a"/><stop offset="1" stop-color="#f8f710"/></linearGradient><linearGradient id="sb38" gradientUnits="userSpaceOnUse" x1="60.9" y1="328.5" x2="220.4" y2="236.7"><stop offset="0" stop-color="#f9fa0e"/><stop offset="0.05" stop-color="#f9d429"/><stop offset="0.1" stop-color="#fec535"/><stop offset="0.15" stop-color="#fec13a"/><stop offset="0.2" stop-color="#ffc437"/><stop offset="0.25" stop-color="#fdcb30"/><stop offset="0.3" stop-color="#f9d429"/><stop offset="0.35" stop-color="#f5de21"/><stop offset="0.4" stop-color="#f5e81a"/><stop offset="0.45" stop-color="#f6f015"/><stop offset="0.5" stop-color="#f6f213"/><stop offset="0.55" stop-color="#f6f015"/><stop offset="0.6" stop-color="#f5e81a"/><stop offset="0.65" stop-color="#f5de21"/><stop offset="0.7" stop-color="#f9d429"/><stop offset="0.75" stop-color="#fdcb30"/><stop offset="0.8" stop-color="#ffc437"/><stop offset="0.85" stop-color="#fec13a"/><stop offset="0.9" stop-color="#fec535"/><stop offset="0.95" stop-color="#f9d429"/><stop offset="1" stop-color="#f9fa0e"/></linearGradient><linearGradient id="sb39" gradientUnits="userSpaceOnUse" x1="61.5" y1="328.8" x2="221.1" y2="237"><stop offset="0" stop-color="#f9fb0e"/><stop offset="0.05" stop-color="#f8d628"/><stop offset="0.1" stop-color="#fec634"/><stop offset="0.15" stop-color="#fec139"/><stop offset="0.2" stop-color="#ffc437"/><stop offset="0.25" stop-color="#fdca30"/><stop offset="0.3" stop-color="#f9d429"/><stop offset="0.35" stop-color="#f6de21"/><stop offset="0.4" stop-color="#f5e81a"/><stop offset="0.45" stop-color="#f6ef16"/><stop offset="0.5" stop-color="#f6f214"/><stop offset="0.55" stop-color="#f6ef16"/><stop offset="0.6" stop-color="#f5e81a"/><stop offset="0.65" stop-color="#f6de21"/><stop offset="0.7" stop-color="#f9d429"/><stop offset="0.75" stop-color="#fdca30"/><stop offset="0.8" stop-color="#ffc437"/><stop offset="0.85" stop-color="#fec139"/><stop offset="0.9" stop-color="#fec634"/><stop offset="0.95" stop-color="#f8d628"/><stop offset="1" stop-color="#f9fb0e"/></linearGradient><linearGradient id="sb40" gradientUnits="userSpaceOnUse" x1="62.1" y1="329" x2="221.7" y2="237.2"><stop offset="0" stop-color="#f9fb0e"/><stop offset="0.05" stop-color="#f8d727"/><stop offset="0.1" stop-color="#fec734"/><stop offset="0.15" stop-color="#fec13a"/><stop offset="0.2" stop-color="#ffc238"/><stop offset="0.25" stop-color="#fec931"/><stop offset="0.3" stop-color="#fad32a"/><stop offset="0.35" stop-color="#f6dd22"/><stop offset="0.4" stop-color="#f5e61b"/><stop offset="0.45" stop-color="#f5ed17"/><stop offset="0.5" stop-color="#f6f015"/><stop offset="0.55" stop-color="#f5ed17"/><stop offset="0.6" stop-color="#f5e61b"/><stop offset="0.65" stop-color="#f6dd22"/><stop offset="0.7" stop-color="#fad32a"/><stop offset="0.75" stop-color="#fec931"/><stop offset="0.8" stop-color="#ffc238"/><stop offset="0.85" stop-color="#fec13a"/><stop offset="0.9" stop-color="#fec734"/><stop offset="0.95" stop-color="#f8d727"/><stop offset="1" stop-color="#f9fb0e"/></linearGradient><linearGradient id="sb41" gradientUnits="userSpaceOnUse" x1="62.8" y1="329.3" x2="222.3" y2="237.5"><stop offset="0" stop-color="#f9fb0e"/><stop offset="0.05" stop-color="#f7d826"/><stop offset="0.1" stop-color="#fec634"/><stop offset="0.15" stop-color="#febf3c"/><stop offset="0.2" stop-color="#fec13a"/><stop offset="0.25" stop-color="#fec833"/><stop offset="0.3" stop-color="#fad12b"/><stop offset="0.35" stop-color="#f6db24"/><stop offset="0.4" stop-color="#f5e41d"/><stop offset="0.45" stop-color="#f5eb18"/><stop offset="0.5" stop-color="#f5ee16"/><stop offset="0.55" stop-color="#f5eb18"/><stop offset="0.6" stop-color="#f5e41d"/><stop offset="0.65" stop-color="#f6db24"/><stop offset="0.7" stop-color="#fad12b"/><stop offset="0.75" stop-color="#fec833"/><stop offset="0.8" stop-color="#fec13a"/><stop offset="0.85" stop-color="#febf3c"/><stop offset="0.9" stop-color="#fec634"/><stop offset="0.95" stop-color="#f7d826"/><stop offset="1" stop-color="#f9fb0e"/></linearGradient><linearGradient id="sb42" gradientUnits="userSpaceOnUse" x1="63.4" y1="329.6" x2="222.9" y2="237.8"><stop offset="0" stop-color="#f9fb0e"/><stop offset="0.05" stop-color="#f8d727"/><stop offset="0.1" stop-color="#ffc436"/><stop offset="0.15" stop-color="#fdbe3e"/><stop offset="0.2" stop-color="#febf3c"/><stop offset="0.25" stop-color="#fec635"/><stop offset="0.3" stop-color="#fbcf2d"/><stop offset="0.35" stop-color="#f7d925"/><stop offset="0.4" stop-color="#f5e21f"/><stop offset="0.45" stop-color="#f5e81a"/><stop offset="0.5" stop-color="#f5eb18"/><stop offset="0.55" stop-color="#f5e81a"/><stop offset="0.6" stop-color="#f5e21f"/><stop offset="0.65" stop-color="#f7d925"/><stop offset="0.7" stop-color="#fbcf2d"/><stop offset="0.75" stop-color="#fec635"/><stop offset="0.8" stop-color="#febf3c"/><stop offset="0.85" stop-color="#fdbe3e"/><stop offset="0.9" stop-color="#ffc436"/><stop offset="0.95" stop-color="#f8d727"/><stop offset="1" stop-color="#f9fb0e"/></linearGradient><linearGradient id="sb43" gradientUnits="userSpaceOnUse" x1="64" y1="329.9" x2="223.6" y2="238"><stop offset="0" stop-color="#f9fb0e"/><stop offset="0.05" stop-color="#f9d528"/><stop offset="0.1" stop-color="#fec239"/><stop offset="0.15" stop-color="#fabc41"/><stop offset="0.2" stop-color="#fcbd3f"/><stop offset="0.25" stop-color="#ffc337"/><stop offset="0.3" stop-color="#fccd2f"/><stop offset="0.35" stop-color="#f8d627"/><stop offset="0.4" stop-color="#f5df21"/><stop offset="0.45" stop-color="#f5e51c"/><stop offset="0.5" stop-color="#f5e81a"/><stop offset="0.55" stop-color="#f5e51c"/><stop offset="0.6" stop-color="#f5df21"/><stop offset="0.65" stop-color="#f8d627"/><stop offset="0.7" stop-color="#fccd2f"/><stop offset="0.75" stop-color="#ffc337"/><stop offset="0.8" stop-color="#fcbd3f"/><stop offset="0.85" stop-color="#fabc41"/><stop offset="0.9" stop-color="#fec239"/><stop offset="0.95" stop-color="#f9d528"/><stop offset="1" stop-color="#f9fb0e"/></linearGradient><linearGradient id="sb44" gradientUnits="userSpaceOnUse" x1="64.6" y1="330.2" x2="224.2" y2="238.3"><stop offset="0" stop-color="#f9fb0e"/><stop offset="0.05" stop-color="#fad22a"/><stop offset="0.1" stop-color="#febf3c"/><stop offset="0.15" stop-color="#f8ba44"/><stop offset="0.2" stop-color="#fabb42"/><stop offset="0.25" stop-color="#fec13a"/><stop offset="0.3" stop-color="#fdca31"/><stop offset="0.35" stop-color="#f9d429"/><stop offset="0.4" stop-color="#f6dc23"/><stop offset="0.45" stop-color="#f5e21e"/><stop offset="0.5" stop-color="#f5e41d"/><stop offset="0.55" stop-color="#f5e21e"/><stop offset="0.6" stop-color="#f6dc23"/><stop offset="0.65" stop-color="#f9d429"/><stop offset="0.7" stop-color="#fdca31"/><stop offset="0.75" stop-color="#fec13a"/><stop offset="0.8" stop-color="#fabb42"/><stop offset="0.85" stop-color="#f8ba44"/><stop offset="0.9" stop-color="#febf3c"/><stop offset="0.95" stop-color="#fad22a"/><stop offset="1" stop-color="#f9fb0e"/></linearGradient><linearGradient id="sb45" gradientUnits="userSpaceOnUse" x1="65.2" y1="330.5" x2="224.8" y2="238.5"><stop offset="0" stop-color="#f9fb0e"/><stop offset="0.05" stop-color="#fbd02c"/><stop offset="0.1" stop-color="#fcbd3f"/><stop offset="0.15" stop-color="#f4ba47"/><stop offset="0.2" stop-color="#f7ba45"/><stop offset="0.25" stop-color="#fdbe3d"/><stop offset="0.3" stop-color="#fec833"/><stop offset="0.35" stop-color="#fad12b"/><stop offset="0.4" stop-color="#f7d925"/><stop offset="0.45" stop-color="#f5df20"/><stop offset="0.5" stop-color="#f5e11f"/><stop offset="0.55" stop-color="#f5df20"/><stop offset="0.6" stop-color="#f7d925"/><stop offset="0.65" stop-color="#fad12b"/><stop offset="0.7" stop-color="#fec833"/><stop offset="0.75" stop-color="#fdbe3d"/><stop offset="0.8" stop-color="#f7ba45"/><stop offset="0.85" stop-color="#f4ba47"/><stop offset="0.9" stop-color="#fcbd3f"/><stop offset="0.95" stop-color="#fbd02c"/><stop offset="1" stop-color="#f9fb0e"/></linearGradient><linearGradient id="sb46" gradientUnits="userSpaceOnUse" x1="65.8" y1="330.8" x2="225.4" y2="238.8"><stop offset="0" stop-color="#f8f810"/><stop offset="0.05" stop-color="#fccd2e"/><stop offset="0.1" stop-color="#fabc42"/><stop offset="0.15" stop-color="#f1b94a"/><stop offset="0.2" stop-color="#f3ba48"/><stop offset="0.25" stop-color="#fbbd40"/><stop offset="0.3" stop-color="#fec535"/><stop offset="0.35" stop-color="#fbcf2d"/><stop offset="0.4" stop-color="#f8d727"/><stop offset="0.45" stop-color="#f6dd22"/><stop offset="0.5" stop-color="#f5df21"/><stop offset="0.55" stop-color="#f6dd22"/><stop offset="0.6" stop-color="#f8d727"/><stop offset="0.65" stop-color="#fbcf2d"/><stop offset="0.7" stop-color="#fec535"/><stop offset="0.75" stop-color="#fbbd40"/><stop offset="0.8" stop-color="#f3ba48"/><stop offset="0.85" stop-color="#f1b94a"/><stop offset="0.9" stop-color="#fabc42"/><stop offset="0.95" stop-color="#fccd2e"/><stop offset="1" stop-color="#f8f810"/></linearGradient><linearGradient id="sb47" gradientUnits="userSpaceOnUse" x1="66.4" y1="331.2" x2="226" y2="239"><stop offset="0" stop-color="#f7f512"/><stop offset="0.05" stop-color="#fdcb30"/><stop offset="0.1" stop-color="#f7ba45"/><stop offset="0.15" stop-color="#eeb94b"/><stop offset="0.2" stop-color="#f0b94a"/><stop offset="0.25" stop-color="#f9bb43"/><stop offset="0.3" stop-color="#ffc337"/><stop offset="0.35" stop-color="#fccd2f"/><stop offset="0.4" stop-color="#f9d528"/><stop offset="0.45" stop-color="#f7da24"/><stop offset="0.5" stop-color="#f6dc23"/><stop offset="0.55" stop-color="#f7da24"/><stop offset="0.6" stop-color="#f9d528"/><stop offset="0.65" stop-color="#fccd2f"/><stop offset="0.7" stop-color="#ffc337"/><stop offset="0.75" stop-color="#f9bb43"/><stop offset="0.8" stop-color="#f0b94a"/><stop offset="0.85" stop-color="#eeb94b"/><stop offset="0.9" stop-color="#f7ba45"/><stop offset="0.95" stop-color="#fdcb30"/><stop offset="1" stop-color="#f7f512"/></linearGradient><linearGradient id="sb48" gradientUnits="userSpaceOnUse" x1="67.1" y1="331.5" x2="226.7" y2="239.2"><stop offset="0" stop-color="#f6f214"/><stop offset="0.05" stop-color="#fec932"/><stop offset="0.1" stop-color="#f5ba47"/><stop offset="0.15" stop-color="#ebb94d"/><stop offset="0.2" stop-color="#edb94c"/><stop offset="0.25" stop-color="#f7ba45"/><stop offset="0.3" stop-color="#fec13a"/><stop offset="0.35" stop-color="#fdcb30"/><stop offset="0.4" stop-color="#fad32a"/><stop offset="0.45" stop-color="#f7d826"/><stop offset="0.5" stop-color="#f7da24"/><stop offset="0.55" stop-color="#f7d826"/><stop offset="0.6" stop-color="#fad32a"/><stop offset="0.65" stop-color="#fdcb30"/><stop offset="0.7" stop-color="#fec13a"/><stop offset="0.75" stop-color="#f7ba45"/><stop offset="0.8" stop-color="#edb94c"/><stop offset="0.85" stop-color="#ebb94d"/><stop offset="0.9" stop-color="#f5ba47"/><stop offset="0.95" stop-color="#fec932"/><stop offset="1" stop-color="#f6f214"/></linearGradient><linearGradient id="sb49" gradientUnits="userSpaceOnUse" x1="67.7" y1="331.8" x2="227.3" y2="239.5"><stop offset="0" stop-color="#f6ef16"/><stop offset="0.05" stop-color="#fec733"/><stop offset="0.1" stop-color="#f2b949"/><stop offset="0.15" stop-color="#e8b94f"/><stop offset="0.2" stop-color="#eab94d"/><stop offset="0.25" stop-color="#f4ba47"/><stop offset="0.3" stop-color="#febf3c"/><stop offset="0.35" stop-color="#fec932"/><stop offset="0.4" stop-color="#fbd12b"/><stop offset="0.45" stop-color="#f8d627"/><stop offset="0.5" stop-color="#f7d826"/><stop offset="0.55" stop-color="#f8d627"/><stop offset="0.6" stop-color="#fbd12b"/><stop offset="0.65" stop-color="#fec932"/><stop offset="0.7" stop-color="#febf3c"/><stop offset="0.75" stop-color="#f4ba47"/><stop offset="0.8" stop-color="#eab94d"/><stop offset="0.85" stop-color="#e8b94f"/><stop offset="0.9" stop-color="#f2b949"/><stop offset="0.95" stop-color="#fec733"/><stop offset="1" stop-color="#f6ef16"/></linearGradient><linearGradient id="sb50" gradientUnits="userSpaceOnUse" x1="68.3" y1="332.2" x2="227.9" y2="239.7"><stop offset="0" stop-color="#f5ec17"/><stop offset="0.05" stop-color="#fec535"/><stop offset="0.1" stop-color="#efb94b"/><stop offset="0.15" stop-color="#e5b950"/><stop offset="0.2" stop-color="#e7b94f"/><stop offset="0.25" stop-color="#f2b949"/><stop offset="0.3" stop-color="#fdbe3e"/><stop offset="0.35" stop-color="#fec734"/><stop offset="0.4" stop-color="#fbcf2d"/><stop offset="0.45" stop-color="#f9d429"/><stop offset="0.5" stop-color="#f8d627"/><stop offset="0.55" stop-color="#f9d429"/><stop offset="0.6" stop-color="#fbcf2d"/><stop offset="0.65" stop-color="#fec734"/><stop offset="0.7" stop-color="#fdbe3e"/><stop offset="0.75" stop-color="#f2b949"/><stop offset="0.8" stop-color="#e7b94f"/><stop offset="0.85" stop-color="#e5b950"/><stop offset="0.9" stop-color="#efb94b"/><stop offset="0.95" stop-color="#fec535"/><stop offset="1" stop-color="#f5ec17"/></linearGradient><linearGradient id="sb51" gradientUnits="userSpaceOnUse" x1="68.9" y1="332.5" x2="228.5" y2="240"><stop offset="0" stop-color="#f5ea19"/><stop offset="0.05" stop-color="#ffc337"/><stop offset="0.1" stop-color="#ecb94c"/><stop offset="0.15" stop-color="#e2b952"/><stop offset="0.2" stop-color="#e4b950"/><stop offset="0.25" stop-color="#efb94b"/><stop offset="0.3" stop-color="#fbbc41"/><stop offset="0.35" stop-color="#fec536"/><stop offset="0.4" stop-color="#fccd2e"/><stop offset="0.45" stop-color="#fad22a"/><stop offset="0.5" stop-color="#f9d429"/><stop offset="0.55" stop-color="#fad22a"/><stop offset="0.6" stop-color="#fccd2e"/><stop offset="0.65" stop-color="#fec536"/><stop offset="0.7" stop-color="#fbbc41"/><stop offset="0.75" stop-color="#efb94b"/><stop offset="0.8" stop-color="#e4b950"/><stop offset="0.85" stop-color="#e2b952"/><stop offset="0.9" stop-color="#ecb94c"/><stop offset="0.95" stop-color="#ffc337"/><stop offset="1" stop-color="#f5ea19"/></linearGradient><linearGradient id="sb52" gradientUnits="userSpaceOnUse" x1="69.5" y1="332.9" x2="229.1" y2="240.2"><stop offset="0" stop-color="#f5e71b"/><stop offset="0.05" stop-color="#fec239"/><stop offset="0.1" stop-color="#eab94e"/><stop offset="0.15" stop-color="#dfba53"/><stop offset="0.2" stop-color="#e2b952"/><stop offset="0.25" stop-color="#ecb94c"/><stop offset="0.3" stop-color="#f9bb43"/><stop offset="0.35" stop-color="#ffc337"/><stop offset="0.4" stop-color="#fdcb30"/><stop offset="0.45" stop-color="#fbd12c"/><stop offset="0.5" stop-color="#fad22a"/><stop offset="0.55" stop-color="#fbd12c"/><stop offset="0.6" stop-color="#fdcb30"/><stop offset="0.65" stop-color="#ffc337"/><stop offset="0.7" stop-color="#f9bb43"/><stop offset="0.75" stop-color="#ecb94c"/><stop offset="0.8" stop-color="#e2b952"/><stop offset="0.85" stop-color="#dfba53"/><stop offset="0.9" stop-color="#eab94e"/><stop offset="0.95" stop-color="#fec239"/><stop offset="1" stop-color="#f5e71b"/></linearGradient><linearGradient id="sb53" gradientUnits="userSpaceOnUse" x1="70.1" y1="333.2" x2="229.8" y2="240.5"><stop offset="0" stop-color="#f5e51c"/><stop offset="0.05" stop-color="#fec03b"/><stop offset="0.1" stop-color="#e7b94f"/><stop offset="0.15" stop-color="#ddba54"/><stop offset="0.2" stop-color="#dfba53"/><stop offset="0.25" stop-color="#eab94e"/><stop offset="0.3" stop-color="#f7ba45"/><stop offset="0.35" stop-color="#fec239"/><stop offset="0.4" stop-color="#fdca31"/><stop offset="0.45" stop-color="#fbcf2d"/><stop offset="0.5" stop-color="#fbd12b"/><stop offset="0.55" stop-color="#fbcf2d"/><stop offset="0.6" stop-color="#fdca31"/><stop offset="0.65" stop-color="#fec239"/><stop offset="0.7" stop-color="#f7ba45"/><stop offset="0.75" stop-color="#eab94e"/><stop offset="0.8" stop-color="#dfba53"/><stop offset="0.85" stop-color="#ddba54"/><stop offset="0.9" stop-color="#e7b94f"/><stop offset="0.95" stop-color="#fec03b"/><stop offset="1" stop-color="#f5e51c"/></linearGradient><linearGradient id="sb54" gradientUnits="userSpaceOnUse" x1="70.7" y1="333.5" x2="230.4" y2="240.8"><stop offset="0" stop-color="#f5e41d"/><stop offset="0.05" stop-color="#febf3c"/><stop offset="0.1" stop-color="#e5b950"/><stop offset="0.15" stop-color="#dbba55"/><stop offset="0.2" stop-color="#ddba54"/><stop offset="0.25" stop-color="#e8b94f"/><stop offset="0.3" stop-color="#f6ba46"/><stop offset="0.35" stop-color="#fec03b"/><stop offset="0.4" stop-color="#fec832"/><stop offset="0.45" stop-color="#fcce2e"/><stop offset="0.5" stop-color="#fbd02c"/><stop offset="0.55" stop-color="#fcce2e"/><stop offset="0.6" stop-color="#fec832"/><stop offset="0.65" stop-color="#fec03b"/><stop offset="0.7" stop-color="#f6ba46"/><stop offset="0.75" stop-color="#e8b94f"/><stop offset="0.8" stop-color="#ddba54"/><stop offset="0.85" stop-color="#dbba55"/><stop offset="0.9" stop-color="#e5b950"/><stop offset="0.95" stop-color="#febf3c"/><stop offset="1" stop-color="#f5e41d"/></linearGradient><linearGradient id="sb55" gradientUnits="userSpaceOnUse" x1="71.4" y1="333.9" x2="231" y2="241.2"><stop offset="0" stop-color="#f5e21e"/><stop offset="0.05" stop-color="#fdbe3d"/><stop offset="0.1" stop-color="#e4b951"/><stop offset="0.15" stop-color="#d9ba55"/><stop offset="0.2" stop-color="#dcba54"/><stop offset="0.25" stop-color="#e6b94f"/><stop offset="0.3" stop-color="#f4ba47"/><stop offset="0.35" stop-color="#febf3c"/><stop offset="0.4" stop-color="#fec733"/><stop offset="0.45" stop-color="#fccd2f"/><stop offset="0.5" stop-color="#fccf2d"/><stop offset="0.55" stop-color="#fccd2f"/><stop offset="0.6" stop-color="#fec733"/><stop offset="0.65" stop-color="#febf3c"/><stop offset="0.7" stop-color="#f4ba47"/><stop offset="0.75" stop-color="#e6b94f"/><stop offset="0.8" stop-color="#dcba54"/><stop offset="0.85" stop-color="#d9ba55"/><stop offset="0.9" stop-color="#e4b951"/><stop offset="0.95" stop-color="#fdbe3d"/><stop offset="1" stop-color="#f5e21e"/></linearGradient><linearGradient id="sb56" gradientUnits="userSpaceOnUse" x1="72" y1="334.2" x2="231.6" y2="241.6"><stop offset="0" stop-color="#f5e11f"/><stop offset="0.05" stop-color="#fdbd3e"/><stop offset="0.1" stop-color="#e3b951"/><stop offset="0.15" stop-color="#d8ba56"/><stop offset="0.2" stop-color="#dbba55"/><stop offset="0.25" stop-color="#e5b950"/><stop offset="0.3" stop-color="#f3ba48"/><stop offset="0.35" stop-color="#febf3d"/><stop offset="0.4" stop-color="#fec734"/><stop offset="0.45" stop-color="#fdcc2f"/><stop offset="0.5" stop-color="#fcce2e"/><stop offset="0.55" stop-color="#fdcc2f"/><stop offset="0.6" stop-color="#fec734"/><stop offset="0.65" stop-color="#febf3d"/><stop offset="0.7" stop-color="#f3ba48"/><stop offset="0.75" stop-color="#e5b950"/><stop offset="0.8" stop-color="#dbba55"/><stop offset="0.85" stop-color="#d8ba56"/><stop offset="0.9" stop-color="#e3b951"/><stop offset="0.95" stop-color="#fdbd3e"/><stop offset="1" stop-color="#f5e11f"/></linearGradient><linearGradient id="sb57" gradientUnits="userSpaceOnUse" x1="72.6" y1="334.6" x2="232.3" y2="242"><stop offset="0" stop-color="#f5e11f"/><stop offset="0.05" stop-color="#fcbd3f"/><stop offset="0.1" stop-color="#e2b952"/><stop offset="0.15" stop-color="#d7ba56"/><stop offset="0.2" stop-color="#daba55"/><stop offset="0.25" stop-color="#e4b951"/><stop offset="0.3" stop-color="#f2b949"/><stop offset="0.35" stop-color="#fdbe3d"/><stop offset="0.4" stop-color="#fec635"/><stop offset="0.45" stop-color="#fdcb30"/><stop offset="0.5" stop-color="#fccd2e"/><stop offset="0.55" stop-color="#fdcb30"/><stop offset="0.6" stop-color="#fec635"/><stop offset="0.65" stop-color="#fdbe3d"/><stop offset="0.7" stop-color="#f2b949"/><stop offset="0.75" stop-color="#e4b951"/><stop offset="0.8" stop-color="#daba55"/><stop offset="0.85" stop-color="#d7ba56"/><stop offset="0.9" stop-color="#e2b952"/><stop offset="0.95" stop-color="#fcbd3f"/><stop offset="1" stop-color="#f5e11f"/></linearGradient><linearGradient id="sb58" gradientUnits="userSpaceOnUse" x1="73.2" y1="335" x2="232.9" y2="242.5"><stop offset="0" stop-color="#f5e020"/><stop offset="0.05" stop-color="#fbbd40"/><stop offset="0.1" stop-color="#e1ba52"/><stop offset="0.15" stop-color="#d6ba57"/><stop offset="0.2" stop-color="#d9ba56"/><stop offset="0.25" stop-color="#e3b951"/><stop offset="0.3" stop-color="#f1b949"/><stop offset="0.35" stop-color="#fdbe3e"/><stop offset="0.4" stop-color="#fec535"/><stop offset="0.45" stop-color="#fdcb30"/><stop offset="0.5" stop-color="#fccd2f"/><stop offset="0.55" stop-color="#fdcb30"/><stop offset="0.6" stop-color="#fec535"/><stop offset="0.65" stop-color="#fdbe3e"/><stop offset="0.7" stop-color="#f1b949"/><stop offset="0.75" stop-color="#e3b951"/><stop offset="0.8" stop-color="#d9ba56"/><stop offset="0.85" stop-color="#d6ba57"/><stop offset="0.9" stop-color="#e1ba52"/><stop offset="0.95" stop-color="#fbbd40"/><stop offset="1" stop-color="#f5e020"/></linearGradient><linearGradient id="sb59" gradientUnits="userSpaceOnUse" x1="73.8" y1="335.4" x2="233.5" y2="242.9"><stop offset="0" stop-color="#f5df20"/><stop offset="0.05" stop-color="#fbbc41"/><stop offset="0.1" stop-color="#e0ba53"/><stop offset="0.15" stop-color="#d5ba57"/><stop offset="0.2" stop-color="#d8ba56"/><stop offset="0.25" stop-color="#e2b951"/><stop offset="0.3" stop-color="#f0b94a"/><stop offset="0.35" stop-color="#fcbd3f"/><stop offset="0.4" stop-color="#fec536"/><stop offset="0.45" stop-color="#fdca31"/><stop offset="0.5" stop-color="#fdcc2f"/><stop offset="0.55" stop-color="#fdca31"/><stop offset="0.6" stop-color="#fec536"/><stop offset="0.65" stop-color="#fcbd3f"/><stop offset="0.7" stop-color="#f0b94a"/><stop offset="0.75" stop-color="#e2b951"/><stop offset="0.8" stop-color="#d8ba56"/><stop offset="0.85" stop-color="#d5ba57"/><stop offset="0.9" stop-color="#e0ba53"/><stop offset="0.95" stop-color="#fbbc41"/><stop offset="1" stop-color="#f5df20"/></linearGradient><linearGradient id="sb60" gradientUnits="userSpaceOnUse" x1="74.4" y1="335.9" x2="234.1" y2="243.5"><stop offset="0" stop-color="#f5de21"/><stop offset="0.05" stop-color="#fabc42"/><stop offset="0.1" stop-color="#dfba53"/><stop offset="0.15" stop-color="#d4bb58"/><stop offset="0.2" stop-color="#d7ba57"/><stop offset="0.25" stop-color="#e1b952"/><stop offset="0.3" stop-color="#efb94b"/><stop offset="0.35" stop-color="#fbbd40"/><stop offset="0.4" stop-color="#ffc436"/><stop offset="0.45" stop-color="#fec931"/><stop offset="0.5" stop-color="#fdcb30"/><stop offset="0.55" stop-color="#fec931"/><stop offset="0.6" stop-color="#ffc436"/><stop offset="0.65" stop-color="#fbbd40"/><stop offset="0.7" stop-color="#efb94b"/><stop offset="0.75" stop-color="#e1b952"/><stop offset="0.8" stop-color="#d7ba57"/><stop offset="0.85" stop-color="#d4bb58"/><stop offset="0.9" stop-color="#dfba53"/><stop offset="0.95" stop-color="#fabc42"/><stop offset="1" stop-color="#f5de21"/></linearGradient><linearGradient id="sb61" gradientUnits="userSpaceOnUse" x1="75" y1="336.5" x2="234.7" y2="244"><stop offset="0" stop-color="#f6dd22"/><stop offset="0.05" stop-color="#f9bb43"/><stop offset="0.1" stop-color="#ddba54"/><stop offset="0.15" stop-color="#d3bb58"/><stop offset="0.2" stop-color="#d5ba57"/><stop offset="0.25" stop-color="#e0ba53"/><stop offset="0.3" stop-color="#eeb94b"/><stop offset="0.35" stop-color="#fbbc41"/><stop offset="0.4" stop-color="#ffc337"/><stop offset="0.45" stop-color="#fec832"/><stop offset="0.5" stop-color="#fdca31"/><stop offset="0.55" stop-color="#fec832"/><stop offset="0.6" stop-color="#ffc337"/><stop offset="0.65" stop-color="#fbbc41"/><stop offset="0.7" stop-color="#eeb94b"/><stop offset="0.75" stop-color="#e0ba53"/><stop offset="0.8" stop-color="#d5ba57"/><stop offset="0.85" stop-color="#d3bb58"/><stop offset="0.9" stop-color="#ddba54"/><stop offset="0.95" stop-color="#f9bb43"/><stop offset="1" stop-color="#f6dd22"/></linearGradient><linearGradient id="sb62" gradientUnits="userSpaceOnUse" x1="75.6" y1="337.1" x2="235.4" y2="244.5"><stop offset="0" stop-color="#f6dc23"/><stop offset="0.05" stop-color="#f8ba44"/><stop offset="0.1" stop-color="#dcba54"/><stop offset="0.15" stop-color="#d1bb59"/><stop offset="0.2" stop-color="#d4bb58"/><stop offset="0.25" stop-color="#deba53"/><stop offset="0.3" stop-color="#ecb94c"/><stop offset="0.35" stop-color="#fabb42"/><stop offset="0.4" stop-color="#fec238"/><stop offset="0.45" stop-color="#fec733"/><stop offset="0.5" stop-color="#fec931"/><stop offset="0.55" stop-color="#fec733"/><stop offset="0.6" stop-color="#fec238"/><stop offset="0.65" stop-color="#fabb42"/><stop offset="0.7" stop-color="#ecb94c"/><stop offset="0.75" stop-color="#deba53"/><stop offset="0.8" stop-color="#d4bb58"/><stop offset="0.85" stop-color="#d1bb59"/><stop offset="0.9" stop-color="#dcba54"/><stop offset="0.95" stop-color="#f8ba44"/><stop offset="1" stop-color="#f6dc23"/></linearGradient><linearGradient id="sb63" gradientUnits="userSpaceOnUse" x1="76.3" y1="337.8" x2="236" y2="245"><stop offset="0" stop-color="#f6db23"/><stop offset="0.05" stop-color="#f7ba45"/><stop offset="0.1" stop-color="#daba55"/><stop offset="0.15" stop-color="#d0bb5a"/><stop offset="0.2" stop-color="#d2bb59"/><stop offset="0.25" stop-color="#ddba54"/><stop offset="0.3" stop-color="#ebb94d"/><stop offset="0.35" stop-color="#f9bb44"/><stop offset="0.4" stop-color="#fec13a"/><stop offset="0.45" stop-color="#fec634"/><stop offset="0.5" stop-color="#fec832"/><stop offset="0.55" stop-color="#fec634"/><stop offset="0.6" stop-color="#fec13a"/><stop offset="0.65" stop-color="#f9bb44"/><stop offset="0.7" stop-color="#ebb94d"/><stop offset="0.75" stop-color="#ddba54"/><stop offset="0.8" stop-color="#d2bb59"/><stop offset="0.85" stop-color="#d0bb5a"/><stop offset="0.9" stop-color="#daba55"/><stop offset="0.95" stop-color="#f7ba45"/><stop offset="1" stop-color="#f6db23"/></linearGradient><linearGradient id="sb64" gradientUnits="userSpaceOnUse" x1="76.9" y1="338.5" x2="236.6" y2="245.5"><stop offset="0" stop-color="#f7da24"/><stop offset="0.05" stop-color="#f5ba46"/><stop offset="0.1" stop-color="#d8ba56"/><stop offset="0.15" stop-color="#cebb5a"/><stop offset="0.2" stop-color="#d0bb59"/><stop offset="0.25" stop-color="#dbba55"/><stop offset="0.3" stop-color="#e9b94e"/><stop offset="0.35" stop-color="#f7ba45"/><stop offset="0.4" stop-color="#fec03b"/><stop offset="0.45" stop-color="#fec535"/><stop offset="0.5" stop-color="#fec733"/><stop offset="0.55" stop-color="#fec535"/><stop offset="0.6" stop-color="#fec03b"/><stop offset="0.65" stop-color="#f7ba45"/><stop offset="0.7" stop-color="#e9b94e"/><stop offset="0.75" stop-color="#dbba55"/><stop offset="0.8" stop-color="#d0bb59"/><stop offset="0.85" stop-color="#cebb5a"/><stop offset="0.9" stop-color="#d8ba56"/><stop offset="0.95" stop-color="#f5ba46"/><stop offset="1" stop-color="#f7da24"/></linearGradient><linearGradient id="sb65" gradientUnits="userSpaceOnUse" x1="77.5" y1="339.3" x2="237.2" y2="246.1"><stop offset="0" stop-color="#f7d925"/><stop offset="0.05" stop-color="#f3ba48"/><stop offset="0.1" stop-color="#d6ba57"/><stop offset="0.15" stop-color="#ccbb5b"/><stop offset="0.2" stop-color="#cebb5a"/><stop offset="0.25" stop-color="#d9ba56"/><stop offset="0.3" stop-color="#e7b94f"/><stop offset="0.35" stop-color="#f5ba46"/><stop offset="0.4" stop-color="#febf3c"/><stop offset="0.45" stop-color="#ffc436"/><stop offset="0.5" stop-color="#fec635"/><stop offset="0.55" stop-color="#ffc436"/><stop offset="0.6" stop-color="#febf3c"/><stop offset="0.65" stop-color="#f5ba46"/><stop offset="0.7" stop-color="#e7b94f"/><stop offset="0.75" stop-color="#d9ba56"/><stop offset="0.8" stop-color="#cebb5a"/><stop offset="0.85" stop-color="#ccbb5b"/><stop offset="0.9" stop-color="#d6ba57"/><stop offset="0.95" stop-color="#f3ba48"/><stop offset="1" stop-color="#f7d925"/></linearGradient><linearGradient id="sb66" gradientUnits="userSpaceOnUse" x1="78.1" y1="339.9" x2="237.9" y2="246.6"><stop offset="0" stop-color="#f8d727"/><stop offset="0.05" stop-color="#f1b949"/><stop offset="0.1" stop-color="#d4bb58"/><stop offset="0.15" stop-color="#c9bc5c"/><stop offset="0.2" stop-color="#ccbb5b"/><stop offset="0.25" stop-color="#d7ba57"/><stop offset="0.3" stop-color="#e5b950"/><stop offset="0.35" stop-color="#f3ba48"/><stop offset="0.4" stop-color="#fdbe3e"/><stop offset="0.45" stop-color="#ffc238"/><stop offset="0.5" stop-color="#ffc436"/><stop offset="0.55" stop-color="#ffc238"/><stop offset="0.6" stop-color="#fdbe3e"/><stop offset="0.65" stop-color="#f3ba48"/><stop offset="0.7" stop-color="#e5b950"/><stop offset="0.75" stop-color="#d7ba57"/><stop offset="0.8" stop-color="#ccbb5b"/><stop offset="0.85" stop-color="#c9bc5c"/><stop offset="0.9" stop-color="#d4bb58"/><stop offset="0.95" stop-color="#f1b949"/><stop offset="1" stop-color="#f8d727"/></linearGradient><linearGradient id="sb67" gradientUnits="userSpaceOnUse" x1="78.7" y1="340.6" x2="238.5" y2="247.2"><stop offset="0" stop-color="#f9d528"/><stop offset="0.05" stop-color="#eeb94b"/><stop offset="0.1" stop-color="#d1bb59"/><stop offset="0.15" stop-color="#c6bc5d"/><stop offset="0.2" stop-color="#c9bc5c"/><stop offset="0.25" stop-color="#d4bb58"/><stop offset="0.3" stop-color="#e2b951"/><stop offset="0.35" stop-color="#f1b94a"/><stop offset="0.4" stop-color="#fbbc41"/><stop offset="0.45" stop-color="#fec13a"/><stop offset="0.5" stop-color="#ffc238"/><stop offset="0.55" stop-color="#fec13a"/><stop offset="0.6" stop-color="#fbbc41"/><stop offset="0.65" stop-color="#f1b94a"/><stop offset="0.7" stop-color="#e2b951"/><stop offset="0.75" stop-color="#d4bb58"/><stop offset="0.8" stop-color="#c9bc5c"/><stop offset="0.85" stop-color="#c6bc5d"/><stop offset="0.9" stop-color="#d1bb59"/><stop offset="0.95" stop-color="#eeb94b"/><stop offset="1" stop-color="#f9d528"/></linearGradient><linearGradient id="sb68" gradientUnits="userSpaceOnUse" x1="79.3" y1="341.3" x2="239.1" y2="247.8"><stop offset="0" stop-color="#fad32a"/><stop offset="0.05" stop-color="#ebb94d"/><stop offset="0.1" stop-color="#cebb5a"/><stop offset="0.15" stop-color="#c3bc5f"/><stop offset="0.2" stop-color="#c5bc5e"/><stop offset="0.25" stop-color="#d0bb59"/><stop offset="0.3" stop-color="#dfba53"/><stop offset="0.35" stop-color="#edb94c"/><stop offset="0.4" stop-color="#f9bb43"/><stop offset="0.45" stop-color="#febf3d"/><stop offset="0.5" stop-color="#fec03b"/><stop offset="0.55" stop-color="#febf3d"/><stop offset="0.6" stop-color="#f9bb43"/><stop offset="0.65" stop-color="#edb94c"/><stop offset="0.7" stop-color="#dfba53"/><stop offset="0.75" stop-color="#d0bb59"/><stop offset="0.8" stop-color="#c5bc5e"/><stop offset="0.85" stop-color="#c3bc5f"/><stop offset="0.9" stop-color="#cebb5a"/><stop offset="0.95" stop-color="#ebb94d"/><stop offset="1" stop-color="#fad32a"/></linearGradient><linearGradient id="sb69" gradientUnits="userSpaceOnUse" x1="79.9" y1="342" x2="239.7" y2="248.3"><stop offset="0" stop-color="#fbd02c"/><stop offset="0.05" stop-color="#e7b94f"/><stop offset="0.1" stop-color="#c9bc5c"/><stop offset="0.15" stop-color="#bebc61"/><stop offset="0.2" stop-color="#c1bc60"/><stop offset="0.25" stop-color="#ccbb5b"/><stop offset="0.3" stop-color="#daba55"/><stop offset="0.35" stop-color="#e9b94e"/><stop offset="0.4" stop-color="#f5ba47"/><stop offset="0.45" stop-color="#fbbc40"/><stop offset="0.5" stop-color="#fdbe3e"/><stop offset="0.55" stop-color="#fbbc40"/><stop offset="0.6" stop-color="#f5ba47"/><stop offset="0.65" stop-color="#e9b94e"/><stop offset="0.7" stop-color="#daba55"/><stop offset="0.75" stop-color="#ccbb5b"/><stop offset="0.8" stop-color="#c1bc60"/><stop offset="0.85" stop-color="#bebc61"/><stop offset="0.9" stop-color="#c9bc5c"/><stop offset="0.95" stop-color="#e7b94f"/><stop offset="1" stop-color="#fbd02c"/></linearGradient><linearGradient id="sb70" gradientUnits="userSpaceOnUse" x1="80.6" y1="342.7" x2="240.3" y2="248.9"><stop offset="0" stop-color="#fdca31"/><stop offset="0.05" stop-color="#deba54"/><stop offset="0.1" stop-color="#c0bc60"/><stop offset="0.15" stop-color="#b4bd65"/><stop offset="0.2" stop-color="#b7bd64"/><stop offset="0.25" stop-color="#c2bc5f"/><stop offset="0.3" stop-color="#d1bb59"/><stop offset="0.35" stop-color="#e0ba52"/><stop offset="0.4" stop-color="#ecb94c"/><stop offset="0.45" stop-color="#f4ba47"/><stop offset="0.5" stop-color="#f7ba45"/><stop offset="0.55" stop-color="#f4ba47"/><stop offset="0.6" stop-color="#ecb94c"/><stop offset="0.65" stop-color="#e0ba52"/><stop offset="0.7" stop-color="#d1bb59"/><stop offset="0.75" stop-color="#c2bc5f"/><stop offset="0.8" stop-color="#b7bd64"/><stop offset="0.85" stop-color="#b4bd65"/><stop offset="0.9" stop-color="#c0bc60"/><stop offset="0.95" stop-color="#deba54"/><stop offset="1" stop-color="#fdca31"/></linearGradient><linearGradient id="sb71" gradientUnits="userSpaceOnUse" x1="81.2" y1="343.4" x2="241" y2="249.5"><stop offset="0" stop-color="#fec239"/><stop offset="0.05" stop-color="#d1bb59"/><stop offset="0.1" stop-color="#b2bd66"/><stop offset="0.15" stop-color="#a6be6a"/><stop offset="0.2" stop-color="#a9be69"/><stop offset="0.25" stop-color="#b5bd65"/><stop offset="0.3" stop-color="#c4bc5e"/><stop offset="0.35" stop-color="#d3bb58"/><stop offset="0.4" stop-color="#e0ba53"/><stop offset="0.45" stop-color="#e8b94f"/><stop offset="0.5" stop-color="#ebb94d"/><stop offset="0.55" stop-color="#e8b94f"/><stop offset="0.6" stop-color="#e0ba53"/><stop offset="0.65" stop-color="#d3bb58"/><stop offset="0.7" stop-color="#c4bc5e"/><stop offset="0.75" stop-color="#b5bd65"/><stop offset="0.8" stop-color="#a9be69"/><stop offset="0.85" stop-color="#a6be6a"/><stop offset="0.9" stop-color="#b2bd66"/><stop offset="0.95" stop-color="#d1bb59"/><stop offset="1" stop-color="#fec239"/></linearGradient><linearGradient id="sb72" gradientUnits="userSpaceOnUse" x1="81.8" y1="344.1" x2="241.6" y2="250.2"><stop offset="0" stop-color="#f8bb44"/><stop offset="0.05" stop-color="#c2bc5f"/><stop offset="0.1" stop-color="#a2be6c"/><stop offset="0.15" stop-color="#95bf71"/><stop offset="0.2" stop-color="#98bf70"/><stop offset="0.25" stop-color="#a5be6b"/><stop offset="0.3" stop-color="#b5bd65"/><stop offset="0.35" stop-color="#c5bc5e"/><stop offset="0.4" stop-color="#d2bb59"/><stop offset="0.45" stop-color="#daba55"/><stop offset="0.5" stop-color="#ddba54"/><stop offset="0.55" stop-color="#daba55"/><stop offset="0.6" stop-color="#d2bb59"/><stop offset="0.65" stop-color="#c5bc5e"/><stop offset="0.7" stop-color="#b5bd65"/><stop offset="0.75" stop-color="#a5be6b"/><stop offset="0.8" stop-color="#98bf70"/><stop offset="0.85" stop-color="#95bf71"/><stop offset="0.9" stop-color="#a2be6c"/><stop offset="0.95" stop-color="#c2bc5f"/><stop offset="1" stop-color="#f8bb44"/></linearGradient><linearGradient id="sb73" gradientUnits="userSpaceOnUse" x1="82.4" y1="344.8" x2="242.2" y2="250.8"><stop offset="0" stop-color="#ecb94c"/><stop offset="0.05" stop-color="#b4bd65"/><stop offset="0.1" stop-color="#92bf73"/><stop offset="0.15" stop-color="#84bf78"/><stop offset="0.2" stop-color="#87bf77"/><stop offset="0.25" stop-color="#95bf71"/><stop offset="0.3" stop-color="#a6be6a"/><stop offset="0.35" stop-color="#b6bd64"/><stop offset="0.4" stop-color="#c4bc5f"/><stop offset="0.45" stop-color="#ccbb5b"/><stop offset="0.5" stop-color="#cfbb5a"/><stop offset="0.55" stop-color="#ccbb5b"/><stop offset="0.6" stop-color="#c4bc5f"/><stop offset="0.65" stop-color="#b6bd64"/><stop offset="0.7" stop-color="#a6be6a"/><stop offset="0.75" stop-color="#95bf71"/><stop offset="0.8" stop-color="#87bf77"/><stop offset="0.85" stop-color="#84bf78"/><stop offset="0.9" stop-color="#92bf73"/><stop offset="0.95" stop-color="#b4bd65"/><stop offset="1" stop-color="#ecb94c"/></linearGradient><linearGradient id="sb74" gradientUnits="userSpaceOnUse" x1="83" y1="345.5" x2="242.8" y2="251.4"><stop offset="0" stop-color="#e1b952"/><stop offset="0.05" stop-color="#a8be6a"/><stop offset="0.1" stop-color="#84bf78"/><stop offset="0.15" stop-color="#75bf7f"/><stop offset="0.2" stop-color="#78bf7d"/><stop offset="0.25" stop-color="#87bf77"/><stop offset="0.3" stop-color="#99bf70"/><stop offset="0.35" stop-color="#aabe69"/><stop offset="0.4" stop-color="#b8bd63"/><stop offset="0.45" stop-color="#c1bc60"/><stop offset="0.5" stop-color="#c4bc5e"/><stop offset="0.55" stop-color="#c1bc60"/><stop offset="0.6" stop-color="#b8bd63"/><stop offset="0.65" stop-color="#aabe69"/><stop offset="0.7" stop-color="#99bf70"/><stop offset="0.75" stop-color="#87bf77"/><stop offset="0.8" stop-color="#78bf7d"/><stop offset="0.85" stop-color="#75bf7f"/><stop offset="0.9" stop-color="#84bf78"/><stop offset="0.95" stop-color="#a8be6a"/><stop offset="1" stop-color="#e1b952"/></linearGradient><linearGradient id="sb75" gradientUnits="userSpaceOnUse" x1="83.6" y1="346.2" x2="243.5" y2="252"><stop offset="0" stop-color="#d7ba56"/><stop offset="0.05" stop-color="#9cbf6e"/><stop offset="0.1" stop-color="#76bf7e"/><stop offset="0.15" stop-color="#67be85"/><stop offset="0.2" stop-color="#6abe83"/><stop offset="0.25" stop-color="#7abf7d"/><stop offset="0.3" stop-color="#8dbf75"/><stop offset="0.35" stop-color="#9fbe6d"/><stop offset="0.4" stop-color="#adbe68"/><stop offset="0.45" stop-color="#b6bd64"/><stop offset="0.5" stop-color="#babd63"/><stop offset="0.55" stop-color="#b6bd64"/><stop offset="0.6" stop-color="#adbe68"/><stop offset="0.65" stop-color="#9fbe6d"/><stop offset="0.7" stop-color="#8dbf75"/><stop offset="0.75" stop-color="#7abf7d"/><stop offset="0.8" stop-color="#6abe83"/><stop offset="0.85" stop-color="#67be85"/><stop offset="0.9" stop-color="#76bf7e"/><stop offset="0.95" stop-color="#9cbf6e"/><stop offset="1" stop-color="#d7ba56"/></linearGradient><linearGradient id="sb76" gradientUnits="userSpaceOnUse" x1="84.2" y1="346.9" x2="244.1" y2="252.7"><stop offset="0" stop-color="#cebb5a"/><stop offset="0.05" stop-color="#90bf73"/><stop offset="0.1" stop-color="#68be84"/><stop offset="0.15" stop-color="#58bd8c"/><stop offset="0.2" stop-color="#5cbe8a"/><stop offset="0.25" stop-color="#6cbf83"/><stop offset="0.3" stop-color="#80bf7a"/><stop offset="0.35" stop-color="#93bf72"/><stop offset="0.4" stop-color="#a2be6c"/><stop offset="0.45" stop-color="#acbe68"/><stop offset="0.5" stop-color="#afbe67"/><stop offset="0.55" stop-color="#acbe68"/><stop offset="0.6" stop-color="#a2be6c"/><stop offset="0.65" stop-color="#93bf72"/><stop offset="0.7" stop-color="#80bf7a"/><stop offset="0.75" stop-color="#6cbf83"/><stop offset="0.8" stop-color="#5cbe8a"/><stop offset="0.85" stop-color="#58bd8c"/><stop offset="0.9" stop-color="#68be84"/><stop offset="0.95" stop-color="#90bf73"/><stop offset="1" stop-color="#cebb5a"/></linearGradient><linearGradient id="sb77" gradientUnits="userSpaceOnUse" x1="84.8" y1="347.6" x2="244.7" y2="253.4"><stop offset="0" stop-color="#c3bc5f"/><stop offset="0.05" stop-color="#83bf78"/><stop offset="0.1" stop-color="#59bd8b"/><stop offset="0.15" stop-color="#4abc93"/><stop offset="0.2" stop-color="#4ebc91"/><stop offset="0.25" stop-color="#5dbe8a"/><stop offset="0.3" stop-color="#72bf80"/><stop offset="0.35" stop-color="#86bf77"/><stop offset="0.4" stop-color="#96bf71"/><stop offset="0.45" stop-color="#a0be6d"/><stop offset="0.5" stop-color="#a4be6b"/><stop offset="0.55" stop-color="#a0be6d"/><stop offset="0.6" stop-color="#96bf71"/><stop offset="0.65" stop-color="#86bf77"/><stop offset="0.7" stop-color="#72bf80"/><stop offset="0.75" stop-color="#5dbe8a"/><stop offset="0.8" stop-color="#4ebc91"/><stop offset="0.85" stop-color="#4abc93"/><stop offset="0.9" stop-color="#59bd8b"/><stop offset="0.95" stop-color="#83bf78"/><stop offset="1" stop-color="#c3bc5f"/></linearGradient><linearGradient id="sb78" gradientUnits="userSpaceOnUse" x1="85.5" y1="348.3" x2="245.3" y2="254.1"><stop offset="0" stop-color="#b8bd63"/><stop offset="0.05" stop-color="#74bf7f"/><stop offset="0.1" stop-color="#4abc94"/><stop offset="0.15" stop-color="#3cba9c"/><stop offset="0.2" stop-color="#3fba9a"/><stop offset="0.25" stop-color="#4dbc92"/><stop offset="0.3" stop-color="#62be87"/><stop offset="0.35" stop-color="#78bf7d"/><stop offset="0.4" stop-color="#89bf76"/><stop offset="0.45" stop-color="#93bf72"/><stop offset="0.5" stop-color="#97bf71"/><stop offset="0.55" stop-color="#93bf72"/><stop offset="0.6" stop-color="#89bf76"/><stop offset="0.65" stop-color="#78bf7d"/><stop offset="0.7" stop-color="#62be87"/><stop offset="0.75" stop-color="#4dbc92"/><stop offset="0.8" stop-color="#3fba9a"/><stop offset="0.85" stop-color="#3cba9c"/><stop offset="0.9" stop-color="#4abc94"/><stop offset="0.95" stop-color="#74bf7f"/><stop offset="1" stop-color="#b8bd63"/></linearGradient><linearGradient id="sb79" gradientUnits="userSpaceOnUse" x1="86.1" y1="349" x2="245.9" y2="254.8"><stop offset="0" stop-color="#abbe68"/><stop offset="0.05" stop-color="#64be86"/><stop offset="0.1" stop-color="#3bb99c"/><stop offset="0.15" stop-color="#2eb7a4"/><stop offset="0.2" stop-color="#31b8a2"/><stop offset="0.25" stop-color="#3eba9a"/><stop offset="0.3" stop-color="#52bd8f"/><stop offset="0.35" stop-color="#68be84"/><stop offset="0.4" stop-color="#7abf7d"/><stop offset="0.45" stop-color="#85bf78"/><stop offset="0.5" stop-color="#89bf76"/><stop offset="0.55" stop-color="#85bf78"/><stop offset="0.6" stop-color="#7abf7d"/><stop offset="0.65" stop-color="#68be84"/><stop offset="0.7" stop-color="#52bd8f"/><stop offset="0.75" stop-color="#3eba9a"/><stop offset="0.8" stop-color="#31b8a2"/><stop offset="0.85" stop-color="#2eb7a4"/><stop offset="0.9" stop-color="#3bb99c"/><stop offset="0.95" stop-color="#64be86"/><stop offset="1" stop-color="#abbe68"/></linearGradient><linearGradient id="sb80" gradientUnits="userSpaceOnUse" x1="86.7" y1="349.7" x2="246.6" y2="255.5"><stop offset="0" stop-color="#9ebe6e"/><stop offset="0.05" stop-color="#53bd8e"/><stop offset="0.1" stop-color="#2db7a4"/><stop offset="0.15" stop-color="#22b4ac"/><stop offset="0.2" stop-color="#24b5aa"/><stop offset="0.25" stop-color="#30b7a2"/><stop offset="0.3" stop-color="#42bb98"/><stop offset="0.35" stop-color="#57bd8d"/><stop offset="0.4" stop-color="#69be84"/><stop offset="0.45" stop-color="#75bf7f"/><stop offset="0.5" stop-color="#79bf7d"/><stop offset="0.55" stop-color="#75bf7f"/><stop offset="0.6" stop-color="#69be84"/><stop offset="0.65" stop-color="#57bd8d"/><stop offset="0.7" stop-color="#42bb98"/><stop offset="0.75" stop-color="#30b7a2"/><stop offset="0.8" stop-color="#24b5aa"/><stop offset="0.85" stop-color="#22b4ac"/><stop offset="0.9" stop-color="#2db7a4"/><stop offset="0.95" stop-color="#53bd8e"/><stop offset="1" stop-color="#9ebe6e"/></linearGradient><linearGradient id="sb81" gradientUnits="userSpaceOnUse" x1="87.3" y1="350.5" x2="247.2" y2="256.2"><stop offset="0" stop-color="#8fbf73"/><stop offset="0.05" stop-color="#43bb97"/><stop offset="0.1" stop-color="#20b4ad"/><stop offset="0.15" stop-color="#17b1b3"/><stop offset="0.2" stop-color="#19b2b2"/><stop offset="0.25" stop-color="#23b4ab"/><stop offset="0.3" stop-color="#33b8a1"/><stop offset="0.35" stop-color="#46bb96"/><stop offset="0.4" stop-color="#57bd8c"/><stop offset="0.45" stop-color="#64be86"/><stop offset="0.5" stop-color="#68be84"/><stop offset="0.55" stop-color="#64be86"/><stop offset="0.6" stop-color="#57bd8c"/><stop offset="0.65" stop-color="#46bb96"/><stop offset="0.7" stop-color="#33b8a1"/><stop offset="0.75" stop-color="#23b4ab"/><stop offset="0.8" stop-color="#19b2b2"/><stop offset="0.85" stop-color="#17b1b3"/><stop offset="0.9" stop-color="#20b4ad"/><stop offset="0.95" stop-color="#43bb97"/><stop offset="1" stop-color="#8fbf73"/></linearGradient><linearGradient id="sb82" gradientUnits="userSpaceOnUse" x1="87.9" y1="351.1" x2="247.8" y2="256.9"><stop offset="0" stop-color="#7fbf7a"/><stop offset="0.05" stop-color="#33b8a1"/><stop offset="0.1" stop-color="#15b0b5"/><stop offset="0.15" stop-color="#0dadbb"/><stop offset="0.2" stop-color="#0eaeba"/><stop offset="0.25" stop-color="#17b1b3"/><stop offset="0.3" stop-color="#25b5aa"/><stop offset="0.35" stop-color="#35b89f"/><stop offset="0.4" stop-color="#45bb96"/><stop offset="0.45" stop-color="#51bc90"/><stop offset="0.5" stop-color="#55bd8d"/><stop offset="0.55" stop-color="#51bc90"/><stop offset="0.6" stop-color="#45bb96"/><stop offset="0.65" stop-color="#35b89f"/><stop offset="0.7" stop-color="#25b5aa"/><stop offset="0.75" stop-color="#17b1b3"/><stop offset="0.8" stop-color="#0eaeba"/><stop offset="0.85" stop-color="#0dadbb"/><stop offset="0.9" stop-color="#15b0b5"/><stop offset="0.95" stop-color="#33b8a1"/><stop offset="1" stop-color="#7fbf7a"/></linearGradient><linearGradient id="sb83" gradientUnits="userSpaceOnUse" x1="88.5" y1="351.8" x2="248.4" y2="257.6"><stop offset="0" stop-color="#6cbf83"/><stop offset="0.05" stop-color="#24b5aa"/><stop offset="0.1" stop-color="#0bacbd"/><stop offset="0.15" stop-color="#07a9c2"/><stop offset="0.2" stop-color="#07aac1"/><stop offset="0.25" stop-color="#0dadbb"/><stop offset="0.3" stop-color="#18b1b3"/><stop offset="0.35" stop-color="#26b5a9"/><stop offset="0.4" stop-color="#34b8a0"/><stop offset="0.45" stop-color="#3fba9a"/><stop offset="0.5" stop-color="#42bb98"/><stop offset="0.55" stop-color="#3fba9a"/><stop offset="0.6" stop-color="#34b8a0"/><stop offset="0.65" stop-color="#26b5a9"/><stop offset="0.7" stop-color="#18b1b3"/><stop offset="0.75" stop-color="#0dadbb"/><stop offset="0.8" stop-color="#07aac1"/><stop offset="0.85" stop-color="#07a9c2"/><stop offset="0.9" stop-color="#0bacbd"/><stop offset="0.95" stop-color="#24b5aa"/><stop offset="1" stop-color="#6cbf83"/></linearGradient><linearGradient id="sb84" gradientUnits="userSpaceOnUse" x1="89.1" y1="352.4" x2="249" y2="258.2"><stop offset="0" stop-color="#56bd8d"/><stop offset="0.05" stop-color="#16b1b4"/><stop offset="0.1" stop-color="#06a8c4"/><stop offset="0.15" stop-color="#06a4c9"/><stop offset="0.2" stop-color="#06a5c8"/><stop offset="0.25" stop-color="#07a9c3"/><stop offset="0.3" stop-color="#0cadbb"/><stop offset="0.35" stop-color="#18b1b2"/><stop offset="0.4" stop-color="#24b5aa"/><stop offset="0.45" stop-color="#2db7a4"/><stop offset="0.5" stop-color="#30b7a2"/><stop offset="0.55" stop-color="#2db7a4"/><stop offset="0.6" stop-color="#24b5aa"/><stop offset="0.65" stop-color="#18b1b2"/><stop offset="0.7" stop-color="#0cadbb"/><stop offset="0.75" stop-color="#07a9c3"/><stop offset="0.8" stop-color="#06a5c8"/><stop offset="0.85" stop-color="#06a4c9"/><stop offset="0.9" stop-color="#06a8c4"/><stop offset="0.95" stop-color="#16b1b4"/><stop offset="1" stop-color="#56bd8d"/></linearGradient><linearGradient id="sb85" gradientUnits="userSpaceOnUse" x1="89.8" y1="353" x2="249.7" y2="258.9"><stop offset="0" stop-color="#40ba99"/><stop offset="0.05" stop-color="#0aacbd"/><stop offset="0.1" stop-color="#06a2cb"/><stop offset="0.15" stop-color="#079dcf"/><stop offset="0.2" stop-color="#069ece"/><stop offset="0.25" stop-color="#06a3ca"/><stop offset="0.3" stop-color="#06a8c4"/><stop offset="0.35" stop-color="#0cadbc"/><stop offset="0.4" stop-color="#15b0b4"/><stop offset="0.45" stop-color="#1cb3af"/><stop offset="0.5" stop-color="#1fb4ad"/><stop offset="0.55" stop-color="#1cb3af"/><stop offset="0.6" stop-color="#15b0b4"/><stop offset="0.65" stop-color="#0cadbc"/><stop offset="0.7" stop-color="#06a8c4"/><stop offset="0.75" stop-color="#06a3ca"/><stop offset="0.8" stop-color="#069ece"/><stop offset="0.85" stop-color="#079dcf"/><stop offset="0.9" stop-color="#06a2cb"/><stop offset="0.95" stop-color="#0aacbd"/><stop offset="1" stop-color="#40ba99"/></linearGradient><linearGradient id="sb86" gradientUnits="userSpaceOnUse" x1="90.4" y1="353.6" x2="250.3" y2="259.6"><stop offset="0" stop-color="#2cb7a5"/><stop offset="0.05" stop-color="#06a7c6"/><stop offset="0.1" stop-color="#089ad0"/><stop offset="0.15" stop-color="#0c94d2"/><stop offset="0.2" stop-color="#0b95d1"/><stop offset="0.25" stop-color="#079bd0"/><stop offset="0.3" stop-color="#06a2cb"/><stop offset="0.35" stop-color="#06a8c5"/><stop offset="0.4" stop-color="#09acbe"/><stop offset="0.45" stop-color="#0eaeba"/><stop offset="0.5" stop-color="#11afb8"/><stop offset="0.55" stop-color="#0eaeba"/><stop offset="0.6" stop-color="#09acbe"/><stop offset="0.65" stop-color="#06a8c5"/><stop offset="0.7" stop-color="#06a2cb"/><stop offset="0.75" stop-color="#079bd0"/><stop offset="0.8" stop-color="#0b95d1"/><stop offset="0.85" stop-color="#0c94d2"/><stop offset="0.9" stop-color="#089ad0"/><stop offset="0.95" stop-color="#06a7c6"/><stop offset="1" stop-color="#2cb7a5"/></linearGradient><linearGradient id="sb87" gradientUnits="userSpaceOnUse" x1="91" y1="354.2" x2="250.9" y2="260.2"><stop offset="0" stop-color="#1ab2b1"/><stop offset="0.05" stop-color="#06a0cd"/><stop offset="0.1" stop-color="#0f8fd2"/><stop offset="0.15" stop-color="#1389d3"/><stop offset="0.2" stop-color="#128ad3"/><stop offset="0.25" stop-color="#0e91d2"/><stop offset="0.3" stop-color="#089ad1"/><stop offset="0.35" stop-color="#06a1cc"/><stop offset="0.4" stop-color="#06a6c7"/><stop offset="0.45" stop-color="#07a9c3"/><stop offset="0.5" stop-color="#07aac2"/><stop offset="0.55" stop-color="#07a9c3"/><stop offset="0.6" stop-color="#06a6c7"/><stop offset="0.65" stop-color="#06a1cc"/><stop offset="0.7" stop-color="#089ad1"/><stop offset="0.75" stop-color="#0e91d2"/><stop offset="0.8" stop-color="#128ad3"/><stop offset="0.85" stop-color="#1389d3"/><stop offset="0.9" stop-color="#0f8fd2"/><stop offset="0.95" stop-color="#06a0cd"/><stop offset="1" stop-color="#1ab2b1"/></linearGradient><linearGradient id="sb88" gradientUnits="userSpaceOnUse" x1="91.6" y1="354.8" x2="251.5" y2="260.9"><stop offset="0" stop-color="#0cadbc"/><stop offset="0.05" stop-color="#0a96d1"/><stop offset="0.1" stop-color="#1485d4"/><stop offset="0.15" stop-color="#137fd6"/><stop offset="0.2" stop-color="#1481d6"/><stop offset="0.25" stop-color="#1486d4"/><stop offset="0.3" stop-color="#108ed2"/><stop offset="0.35" stop-color="#0998d1"/><stop offset="0.4" stop-color="#069ece"/><stop offset="0.45" stop-color="#06a2cc"/><stop offset="0.5" stop-color="#06a3ca"/><stop offset="0.55" stop-color="#06a2cc"/><stop offset="0.6" stop-color="#069ece"/><stop offset="0.65" stop-color="#0998d1"/><stop offset="0.7" stop-color="#108ed2"/><stop offset="0.75" stop-color="#1486d4"/><stop offset="0.8" stop-color="#1481d6"/><stop offset="0.85" stop-color="#137fd6"/><stop offset="0.9" stop-color="#1485d4"/><stop offset="0.95" stop-color="#0a96d1"/><stop offset="1" stop-color="#0cadbc"/></linearGradient><linearGradient id="sb89" gradientUnits="userSpaceOnUse" x1="92.2" y1="355.3" x2="252.2" y2="261.6"><stop offset="0" stop-color="#06a6c7"/><stop offset="0.05" stop-color="#1389d3"/><stop offset="0.1" stop-color="#117ad9"/><stop offset="0.15" stop-color="#0d75dc"/><stop offset="0.2" stop-color="#0e76dc"/><stop offset="0.25" stop-color="#127bd9"/><stop offset="0.3" stop-color="#1482d5"/><stop offset="0.35" stop-color="#128ad3"/><stop offset="0.4" stop-color="#0d92d2"/><stop offset="0.45" stop-color="#0997d1"/><stop offset="0.5" stop-color="#0899d1"/><stop offset="0.55" stop-color="#0997d1"/><stop offset="0.6" stop-color="#0d92d2"/><stop offset="0.65" stop-color="#128ad3"/><stop offset="0.7" stop-color="#1482d5"/><stop offset="0.75" stop-color="#127bd9"/><stop offset="0.8" stop-color="#0e76dc"/><stop offset="0.85" stop-color="#0d75dc"/><stop offset="0.9" stop-color="#117ad9"/><stop offset="0.95" stop-color="#1389d3"/><stop offset="1" stop-color="#06a6c7"/></linearGradient><linearGradient id="sb90" gradientUnits="userSpaceOnUse" x1="92.8" y1="355.9" x2="252.8" y2="262.3"><stop offset="0" stop-color="#079cd0"/><stop offset="0.05" stop-color="#137dd8"/><stop offset="0.1" stop-color="#066fdf"/><stop offset="0.15" stop-color="#0269e1"/><stop offset="0.2" stop-color="#036ae1"/><stop offset="0.25" stop-color="#0770df"/><stop offset="0.3" stop-color="#0e77db"/><stop offset="0.35" stop-color="#137ed7"/><stop offset="0.4" stop-color="#1484d4"/><stop offset="0.45" stop-color="#1389d3"/><stop offset="0.5" stop-color="#128ad3"/><stop offset="0.55" stop-color="#1389d3"/><stop offset="0.6" stop-color="#1484d4"/><stop offset="0.65" stop-color="#137ed7"/><stop offset="0.7" stop-color="#0e77db"/><stop offset="0.75" stop-color="#0770df"/><stop offset="0.8" stop-color="#036ae1"/><stop offset="0.85" stop-color="#0269e1"/><stop offset="0.9" stop-color="#066fdf"/><stop offset="0.95" stop-color="#137dd8"/><stop offset="1" stop-color="#079cd0"/></linearGradient><linearGradient id="sb91" gradientUnits="userSpaceOnUse" x1="93.4" y1="356.4" x2="253.4" y2="263"><stop offset="0" stop-color="#108fd2"/><stop offset="0.05" stop-color="#0a72de"/><stop offset="0.1" stop-color="#0661e0"/><stop offset="0.15" stop-color="#1957d8"/><stop offset="0.2" stop-color="#1359db"/><stop offset="0.25" stop-color="#0363e1"/><stop offset="0.3" stop-color="#046ce0"/><stop offset="0.35" stop-color="#0b74dd"/><stop offset="0.4" stop-color="#1079da"/><stop offset="0.45" stop-color="#137dd7"/><stop offset="0.5" stop-color="#137fd7"/><stop offset="0.55" stop-color="#137dd7"/><stop offset="0.6" stop-color="#1079da"/><stop offset="0.65" stop-color="#0b74dd"/><stop offset="0.7" stop-color="#046ce0"/><stop offset="0.75" stop-color="#0363e1"/><stop offset="0.8" stop-color="#1359db"/><stop offset="0.85" stop-color="#1957d8"/><stop offset="0.9" stop-color="#0661e0"/><stop offset="0.95" stop-color="#0a72de"/><stop offset="1" stop-color="#108fd2"/></linearGradient><linearGradient id="sb92" gradientUnits="userSpaceOnUse" x1="94.1" y1="357" x2="254" y2="263.8"><stop offset="0" stop-color="#1484d4"/><stop offset="0.05" stop-color="#0269e1"/><stop offset="0.1" stop-color="#2053d4"/><stop offset="0.15" stop-color="#2053d4"/><stop offset="0.2" stop-color="#2053d4"/><stop offset="0.25" stop-color="#2053d4"/><stop offset="0.3" stop-color="#0761e0"/><stop offset="0.35" stop-color="#036be1"/><stop offset="0.4" stop-color="#0971de"/><stop offset="0.45" stop-color="#0d75dc"/><stop offset="0.5" stop-color="#0e77db"/><stop offset="0.55" stop-color="#0d75dc"/><stop offset="0.6" stop-color="#0971de"/><stop offset="0.65" stop-color="#036be1"/><stop offset="0.7" stop-color="#0761e0"/><stop offset="0.75" stop-color="#2053d4"/><stop offset="0.8" stop-color="#2053d4"/><stop offset="0.85" stop-color="#2053d4"/><stop offset="0.9" stop-color="#2053d4"/><stop offset="0.95" stop-color="#0269e1"/><stop offset="1" stop-color="#1484d4"/></linearGradient><linearGradient id="sb93" gradientUnits="userSpaceOnUse" x1="94.7" y1="357.5" x2="254.6" y2="264.6"><stop offset="0" stop-color="#137fd7"/><stop offset="0.05" stop-color="#0661e0"/><stop offset="0.1" stop-color="#2053d4"/><stop offset="0.15" stop-color="#2053d4"/><stop offset="0.2" stop-color="#2053d4"/><stop offset="0.25" stop-color="#2053d4"/><stop offset="0.3" stop-color="#1c55d6"/><stop offset="0.35" stop-color="#0363e1"/><stop offset="0.4" stop-color="#036be1"/><stop offset="0.45" stop-color="#076fdf"/><stop offset="0.5" stop-color="#0871de"/><stop offset="0.55" stop-color="#076fdf"/><stop offset="0.6" stop-color="#036be1"/><stop offset="0.65" stop-color="#0363e1"/><stop offset="0.7" stop-color="#1c55d6"/><stop offset="0.75" stop-color="#2053d4"/><stop offset="0.8" stop-color="#2053d4"/><stop offset="0.85" stop-color="#2053d4"/><stop offset="0.9" stop-color="#2053d4"/><stop offset="0.95" stop-color="#0661e0"/><stop offset="1" stop-color="#137fd7"/></linearGradient><linearGradient id="sb94" gradientUnits="userSpaceOnUse" x1="95.3" y1="358" x2="255.3" y2="265.4"><stop offset="0" stop-color="#117ada"/><stop offset="0.05" stop-color="#1857d8"/><stop offset="0.1" stop-color="#2053d4"/><stop offset="0.15" stop-color="#2053d4"/><stop offset="0.2" stop-color="#2053d4"/><stop offset="0.25" stop-color="#2053d4"/><stop offset="0.3" stop-color="#2053d4"/><stop offset="0.35" stop-color="#135adb"/><stop offset="0.4" stop-color="#0364e1"/><stop offset="0.45" stop-color="#026ae1"/><stop offset="0.5" stop-color="#036be0"/><stop offset="0.55" stop-color="#026ae1"/><stop offset="0.6" stop-color="#0364e1"/><stop offset="0.65" stop-color="#135adb"/><stop offset="0.7" stop-color="#2053d4"/><stop offset="0.75" stop-color="#2053d4"/><stop offset="0.8" stop-color="#2053d4"/><stop offset="0.85" stop-color="#2053d4"/><stop offset="0.9" stop-color="#2053d4"/><stop offset="0.95" stop-color="#1857d8"/><stop offset="1" stop-color="#117ada"/></linearGradient><linearGradient id="sb95" gradientUnits="userSpaceOnUse" x1="95.9" y1="358.5" x2="255.9" y2="266.2"><stop offset="0" stop-color="#0e76dc"/><stop offset="0.05" stop-color="#2053d4"/><stop offset="0.1" stop-color="#2053d4"/><stop offset="0.15" stop-color="#2053d4"/><stop offset="0.2" stop-color="#2053d4"/><stop offset="0.25" stop-color="#2053d4"/><stop offset="0.3" stop-color="#2053d4"/><stop offset="0.35" stop-color="#2053d4"/><stop offset="0.4" stop-color="#0b5edf"/><stop offset="0.45" stop-color="#0265e1"/><stop offset="0.5" stop-color="#0267e1"/><stop offset="0.55" stop-color="#0265e1"/><stop offset="0.6" stop-color="#0b5edf"/><stop offset="0.65" stop-color="#2053d4"/><stop offset="0.7" stop-color="#2053d4"/><stop offset="0.75" stop-color="#2053d4"/><stop offset="0.8" stop-color="#2053d4"/><stop offset="0.85" stop-color="#2053d4"/><stop offset="0.9" stop-color="#2053d4"/><stop offset="0.95" stop-color="#2053d4"/><stop offset="1" stop-color="#0e76dc"/></linearGradient></defs>
<polygon fill="url(#sb0)" points="37.3 323.8 47.2 319.8 57.2 314.8 67.1 309.1 77.1 303.1 87 296.8 97 290.5 106.9 284.4 116.9 278.6 126.8 272.9 136.8 267.5 146.8 262.3 156.7 257 166.6 251.6 176.6 245.8 186.6 239.2 196.5 231.7 197.8 231.6 187.9 239.1 177.9 245.7 168 251.5 158 256.9 148.1 262.2 138.1 267.5 128.2 272.9 118.2 278.5 108.3 284.4 98.3 290.5 88.4 296.8 78.4 303.1 68.5 309.2 58.5 314.9 48.6 319.9 38.6 323.9"/>
<polygon fill="url(#sb1)" points="37.9 323.8 47.9 319.9 57.8 314.8 67.8 309.2 77.7 303.1 87.7 296.8 97.6 290.5 107.6 284.4 117.5 278.5 127.5 272.9 137.4 267.5 147.4 262.2 157.3 257 167.3 251.5 177.2 245.7 187.2 239.2 197.1 231.6 198.5 231.6 188.5 239.1 178.6 245.6 168.6 251.5 158.7 256.9 148.7 262.2 138.8 267.5 128.8 272.9 118.8 278.5 108.9 284.4 98.9 290.5 89 296.8 79 303.1 69.1 309.2 59.1 314.9 49.2 319.9 39.2 323.9"/>
<polygon fill="url(#sb2)" points="38.5 323.9 48.5 319.9 58.4 314.9 68.4 309.2 78.3 303.1 88.3 296.8 98.2 290.5 108.2 284.4 118.1 278.5 128.1 272.9 138 267.5 148 262.2 157.9 256.9 167.9 251.5 177.8 245.7 187.8 239.1 197.7 231.6 199.1 231.5 189.1 239.1 179.2 245.6 169.2 251.4 159.3 256.9 149.3 262.2 139.4 267.5 129.4 272.9 119.5 278.5 109.5 284.4 99.6 290.6 89.6 296.8 79.7 303.1 69.7 309.2 59.8 314.9 49.8 319.9 39.8 324"/>
<polygon fill="url(#sb3)" points="39.1 323.9 49.1 319.9 59 314.9 69 309.2 78.9 303.1 88.9 296.8 98.8 290.5 108.8 284.4 118.8 278.5 128.7 272.9 138.7 267.5 148.6 262.2 158.6 256.9 168.5 251.5 178.5 245.6 188.4 239.1 198.4 231.6 199.7 231.5 189.8 239 179.8 245.6 169.8 251.4 159.9 256.9 149.9 262.2 140 267.5 130 272.9 120.1 278.6 110.1 284.5 100.2 290.6 90.2 296.8 80.3 303.1 70.3 309.2 60.4 314.9 50.4 320 40.5 324"/>
<polygon fill="url(#sb4)" points="39.8 324 49.7 319.9 59.7 314.9 69.6 309.2 79.6 303.1 89.5 296.8 99.5 290.6 109.4 284.4 119.4 278.5 129.3 272.9 139.3 267.5 149.2 262.2 159.2 256.9 169.1 251.4 179.1 245.6 189 239.1 199 231.5 200.3 231.5 190.4 239 180.4 245.6 170.5 251.4 160.5 256.9 150.6 262.2 140.6 267.5 130.7 272.9 120.7 278.6 110.7 284.5 100.8 290.6 90.8 296.9 80.9 303.1 70.9 309.3 61 315 51 320 41.1 324.1"/>
<polygon fill="url(#sb5)" points="40.4 324 50.3 320 60.3 314.9 70.2 309.2 80.2 303.1 90.1 296.8 100.1 290.6 110 284.5 120 278.6 129.9 272.9 139.9 267.5 149.8 262.2 159.8 256.9 169.8 251.4 179.7 245.6 189.7 239 199.6 231.5 200.9 231.5 191 239 181 245.6 171.1 251.4 161.1 256.9 151.2 262.2 141.2 267.5 131.3 272.9 121.3 278.6 111.4 284.5 101.4 290.6 91.5 296.9 81.5 303.2 71.5 309.3 61.6 315 51.6 320.1 41.7 324.1"/>
<polygon fill="url(#sb6)" points="41 324.1 50.9 320 60.9 315 70.8 309.3 80.8 303.1 90.7 296.9 100.7 290.6 110.7 284.5 120.6 278.6 130.6 272.9 140.5 267.5 150.5 262.2 160.4 256.9 170.4 251.4 180.3 245.6 190.3 239 200.2 231.5 201.6 231.5 191.6 239 181.7 245.6 171.7 251.4 161.8 256.9 151.8 262.2 141.8 267.5 131.9 273 121.9 278.6 112 284.5 102 290.7 92.1 296.9 82.1 303.2 72.2 309.3 62.2 315.1 52.3 320.1 42.3 324.2"/>
<polygon fill="url(#sb7)" points="41.6 324.1 51.5 320.1 61.5 315 71.5 309.3 81.4 303.2 91.4 296.9 101.3 290.6 111.3 284.5 121.2 278.6 131.2 272.9 141.1 267.5 151.1 262.2 161 256.9 171 251.4 180.9 245.6 190.9 239 200.9 231.5 202.2 231.6 192.2 239.1 182.3 245.6 172.3 251.4 162.4 256.9 152.4 262.2 142.5 267.5 132.5 273 122.6 278.7 112.6 284.6 102.6 290.7 92.7 297 82.7 303.3 72.8 309.4 62.8 315.1 52.9 320.2 42.9 324.3"/>
<polygon fill="url(#sb8)" points="42.2 324.2 52.2 320.1 62.1 315.1 72.1 309.3 82 303.2 92 296.9 101.9 290.7 111.9 284.5 121.8 278.6 131.8 273 141.8 267.5 151.7 262.2 161.7 256.9 171.6 251.4 181.6 245.6 191.5 239 201.5 231.5 202.8 231.6 192.9 239.1 182.9 245.6 172.9 251.5 163 256.9 153 262.3 143.1 267.6 133.1 273.1 123.2 278.7 113.2 284.6 103.3 290.8 93.3 297 83.3 303.3 73.4 309.4 63.4 315.2 53.5 320.2 43.5 324.3"/>
<polygon fill="url(#sb9)" points="42.8 324.3 52.8 320.2 62.7 315.1 72.7 309.4 82.6 303.3 92.6 297 102.5 290.7 112.5 284.6 122.5 278.7 132.4 273 142.4 267.5 152.3 262.2 162.3 256.9 172.2 251.4 182.2 245.6 192.1 239.1 202.1 231.6 203.4 231.6 193.5 239.1 183.5 245.6 173.6 251.5 163.6 257 153.7 262.3 143.7 267.6 133.7 273.1 123.8 278.8 113.8 284.7 103.9 290.8 93.9 297.1 84 303.4 74 309.5 64.1 315.2 54.1 320.3 44.1 324.4"/>
<polygon fill="url(#sb10)" points="43.4 324.3 53.4 320.2 63.3 315.2 73.3 309.4 83.3 303.3 93.2 297 103.2 290.8 113.1 284.6 123.1 278.7 133 273 143 267.6 152.9 262.3 162.9 256.9 172.9 251.5 182.8 245.6 192.8 239.1 202.7 231.6 204.1 231.7 194.1 239.2 184.1 245.7 174.2 251.6 164.2 257 154.3 262.4 144.3 267.7 134.4 273.2 124.4 278.9 114.5 284.8 104.5 290.9 94.5 297.2 84.6 303.4 74.6 309.6 64.7 315.3 54.7 320.4 44.8 324.5"/>
<polygon fill="url(#sb11)" points="44 324.4 54 320.3 64 315.2 73.9 309.5 83.9 303.4 93.8 297.1 103.8 290.8 113.7 284.7 123.7 278.8 133.7 273.1 143.6 267.6 153.6 262.3 163.5 257 173.5 251.5 183.4 245.6 193.4 239.1 203.3 231.6 204.7 231.8 194.7 239.3 184.8 245.8 174.8 251.6 164.9 257.1 154.9 262.4 144.9 267.8 135 273.2 125 278.9 115.1 284.8 105.1 291 95.2 297.2 85.2 303.5 75.2 309.6 65.3 315.4 55.3 320.5 45.4 324.6"/>
<polygon fill="url(#sb12)" points="44.7 324.5 54.6 320.4 64.6 315.3 74.5 309.5 84.5 303.4 94.4 297.2 104.4 290.9 114.4 284.8 124.3 278.8 134.3 273.2 144.2 267.7 154.2 262.4 164.1 257 174.1 251.6 184 245.7 194 239.2 204 231.7 205.3 231.9 195.3 239.3 185.4 245.8 175.4 251.7 165.5 257.2 155.5 262.5 145.6 267.9 135.6 273.3 125.6 279 115.7 284.9 105.7 291.1 95.8 297.3 85.8 303.6 75.9 309.7 65.9 315.4 55.9 320.5 46 324.7"/>
<polygon fill="url(#sb13)" points="45.3 324.6 55.2 320.4 65.2 315.3 75.1 309.6 85.1 303.5 95.1 297.2 105 291 115 284.8 124.9 278.9 134.9 273.2 144.8 267.8 154.8 262.4 164.8 257.1 174.7 251.6 184.7 245.8 194.6 239.2 204.6 231.8 205.9 232 196 239.4 186 245.9 176 251.8 166.1 257.3 156.1 262.6 146.2 267.9 136.2 273.4 126.3 279.1 116.3 285 106.3 291.1 96.4 297.4 86.4 303.7 76.5 309.8 66.5 315.5 56.6 320.6 46.6 324.8"/>
<polygon fill="url(#sb14)" points="45.9 324.7 55.8 320.5 65.8 315.4 75.8 309.7 85.7 303.6 95.7 297.3 105.6 291 115.6 284.9 125.5 279 135.5 273.3 145.5 267.8 155.4 262.5 165.4 257.2 175.3 251.7 185.3 245.8 195.2 239.3 205.2 231.9 206.5 232.1 196.6 239.5 186.6 246 176.7 251.9 166.7 257.4 156.8 262.7 146.8 268 136.8 273.5 126.9 279.2 116.9 285.1 107 291.2 97 297.5 87 303.7 77.1 309.8 67.1 315.6 57.2 320.7 47.2 324.8"/>
<polygon fill="url(#sb15)" points="46.5 324.7 56.5 320.6 66.4 315.5 76.4 309.8 86.3 303.6 96.3 297.4 106.2 291.1 116.2 285 126.2 279.1 136.1 273.4 146.1 267.9 156 262.6 166 257.3 176 251.8 185.9 245.9 195.9 239.4 205.8 232 207.2 232.2 197.2 239.6 187.2 246.1 177.3 252 167.3 257.5 157.4 262.8 147.4 268.1 137.5 273.6 127.5 279.3 117.5 285.2 107.6 291.3 97.6 297.6 87.7 303.8 77.7 309.9 67.7 315.7 57.8 320.8 47.8 324.9"/>
<polygon fill="url(#sb16)" points="47.1 324.8 57.1 320.7 67 315.6 77 309.8 86.9 303.7 96.9 297.5 106.9 291.2 116.8 285.1 126.8 279.2 136.7 273.5 146.7 268 156.7 262.7 166.6 257.4 176.6 251.9 186.5 246 196.5 239.5 206.4 232.1 207.8 232.3 197.8 239.8 187.9 246.2 177.9 252.1 168 257.6 158 262.9 148 268.3 138.1 273.7 128.1 279.4 118.2 285.3 108.2 291.4 98.2 297.7 88.3 303.9 78.3 310 68.4 315.8 58.4 320.9 48.4 325"/>
<polygon fill="url(#sb17)" points="47.7 324.9 57.7 320.8 67.6 315.7 77.6 309.9 87.6 303.8 97.5 297.6 107.5 291.3 117.4 285.2 127.4 279.3 137.4 273.6 147.3 268.1 157.3 262.8 167.2 257.5 177.2 252 187.2 246.1 197.1 239.6 207.1 232.2 208.4 232.5 198.5 239.9 188.5 246.4 178.5 252.2 168.6 257.7 158.6 263 148.7 268.4 138.7 273.8 128.7 279.5 118.8 285.4 108.8 291.5 98.9 297.8 88.9 304 78.9 310.1 69 315.9 59 321 49.1 325.1"/>
<polygon fill="url(#sb18)" points="48.3 325 58.3 320.9 68.3 315.7 78.2 310 88.2 303.9 98.1 297.7 108.1 291.4 118.1 285.3 128 279.4 138 273.7 147.9 268.2 157.9 262.9 167.9 257.6 177.8 252.1 187.8 246.2 197.7 239.7 207.7 232.3 209 232.6 199.1 240 189.1 246.5 179.2 252.3 169.2 257.8 159.2 263.1 149.3 268.5 139.3 274 129.3 279.6 119.4 285.6 109.4 291.7 99.5 297.9 89.5 304.1 79.5 310.2 69.6 316 59.6 321.1 49.7 325.3"/>
<polygon fill="url(#sb19)" points="49 325.1 58.9 320.9 68.9 315.8 78.8 310.1 88.8 304 98.8 297.8 108.7 291.5 118.7 285.4 128.6 279.5 138.6 273.8 148.6 268.4 158.5 263 168.5 257.7 178.4 252.2 188.4 246.3 198.4 239.9 208.3 232.4 209.7 232.8 199.7 240.1 189.7 246.6 179.8 252.5 169.8 257.9 159.8 263.3 149.9 268.6 139.9 274.1 130 279.8 120 285.7 110 291.8 100.1 298 90.1 304.2 80.2 310.3 70.2 316.1 60.2 321.2 50.3 325.4"/>
<polygon fill="url(#sb20)" points="49.6 325.2 59.5 321 69.5 315.9 79.5 310.2 89.4 304.1 99.4 297.9 109.3 291.6 119.3 285.5 129.3 279.6 139.2 274 149.2 268.5 159.1 263.1 169.1 257.8 179.1 252.3 189 246.5 199 240 208.9 232.6 210.3 232.9 200.3 240.3 190.4 246.7 180.4 252.6 170.4 258.1 160.5 263.4 150.5 268.8 140.5 274.2 130.6 279.9 120.6 285.8 110.7 291.9 100.7 298.1 90.7 304.4 80.8 310.4 70.8 316.2 60.9 321.3 50.9 325.5"/>
<polygon fill="url(#sb21)" points="50.2 325.3 60.1 321.2 70.1 316 80.1 310.3 90 304.2 100 298 110 291.8 119.9 285.7 129.9 279.8 139.8 274.1 149.8 268.6 159.8 263.3 169.7 257.9 179.7 252.4 189.6 246.6 199.6 240.1 209.6 232.7 210.9 233.1 200.9 240.4 191 246.9 181 252.7 171 258.2 161.1 263.6 151.1 268.9 141.2 274.4 131.2 280.1 121.2 286 111.3 292 101.3 298.3 91.4 304.5 81.4 310.6 71.4 316.3 61.5 321.4 51.5 325.6"/>
<polygon fill="url(#sb22)" points="50.8 325.5 60.8 321.3 70.7 316.2 80.7 310.4 90.6 304.3 100.6 298.1 110.6 291.9 120.5 285.8 130.5 279.9 140.5 274.2 150.4 268.7 160.4 263.4 170.3 258.1 180.3 252.6 190.3 246.7 200.2 240.3 210.2 232.9 211.5 233.2 201.6 240.6 191.6 247 181.6 252.9 171.7 258.4 161.7 263.7 151.7 269.1 141.8 274.5 131.8 280.2 121.9 286.1 111.9 292.2 101.9 298.4 92 304.6 82 310.7 72 316.4 62.1 321.5 52.1 325.8"/>
<polygon fill="url(#sb23)" points="51.4 325.6 61.4 321.4 71.3 316.3 81.3 310.6 91.3 304.5 101.2 298.2 111.2 292 121.1 285.9 131.1 280 141.1 274.4 151 268.9 161 263.5 171 258.2 180.9 252.7 190.9 246.9 200.8 240.4 210.8 233.1 212.1 233.4 202.2 240.8 192.2 247.2 182.3 253 172.3 258.5 162.3 263.9 152.4 269.2 142.4 274.7 132.4 280.4 122.5 286.3 112.5 292.3 102.5 298.5 92.6 304.8 82.6 310.8 72.7 316.6 62.7 321.7 52.7 325.9"/>
<polygon fill="url(#sb24)" points="52 325.7 62 321.5 71.9 316.4 81.9 310.7 91.9 304.6 101.8 298.4 111.8 292.2 121.8 286.1 131.7 280.2 141.7 274.5 151.7 269 161.6 263.7 171.6 258.3 181.5 252.9 191.5 247 201.5 240.6 211.4 233.2 212.8 233.6 202.8 240.9 192.8 247.4 182.9 253.2 172.9 258.7 162.9 264 153 269.4 143 274.9 133.1 280.5 123.1 286.4 113.1 292.5 103.2 298.7 93.2 304.9 83.2 311 73.3 316.7 63.3 321.8 53.3 326"/>
<polygon fill="url(#sb25)" points="52.6 325.9 62.6 321.7 72.6 316.5 82.5 310.8 92.5 304.7 102.5 298.5 112.4 292.3 122.4 286.2 132.3 280.3 142.3 274.7 152.3 269.2 162.2 263.8 172.2 258.5 182.2 253 192.1 247.2 202.1 240.7 212 233.4 213.4 233.8 203.4 241.1 193.5 247.6 183.5 253.4 173.5 258.9 163.6 264.2 153.6 269.6 143.6 275 133.7 280.7 123.7 286.6 113.7 292.6 103.8 298.8 93.8 305 83.9 311.1 73.9 316.8 63.9 321.9 54 326.2"/>
<polygon fill="url(#sb26)" points="53.3 326 63.2 321.8 73.2 316.7 83.1 311 93.1 304.9 103.1 298.7 113 292.5 123 286.4 133 280.5 142.9 274.8 152.9 269.4 162.9 264 172.8 258.7 182.8 253.2 192.7 247.3 202.7 240.9 212.7 233.6 214 234 204 241.3 194.1 247.7 184.1 253.6 174.1 259 164.2 264.4 154.2 269.7 144.3 275.2 134.3 280.9 124.3 286.7 114.4 292.8 104.4 299 94.4 305.2 84.5 311.3 74.5 317 64.5 322.1 54.6 326.3"/>
<polygon fill="url(#sb27)" points="53.9 326.2 63.8 321.9 73.8 316.8 83.8 311.1 93.7 305 103.7 298.8 113.7 292.6 123.6 286.5 133.6 280.7 143.5 275 153.5 269.5 163.5 264.2 173.4 258.8 183.4 253.4 193.4 247.5 203.3 241.1 213.3 233.8 214.6 234.3 204.7 241.5 194.7 247.9 184.7 253.8 174.8 259.2 164.8 264.6 154.8 269.9 144.9 275.4 134.9 281 124.9 286.9 115 293 105 299.2 95 305.3 85.1 311.4 75.1 317.1 65.2 322.2 55.2 326.5"/>
<polygon fill="url(#sb28)" points="54.5 326.3 64.4 322.1 74.4 316.9 84.4 311.2 94.3 305.2 104.3 299 114.3 292.8 124.2 286.7 134.2 280.8 144.2 275.2 154.1 269.7 164.1 264.4 174.1 259 184 253.5 194 247.7 203.9 241.3 213.9 234 215.3 234.5 205.3 241.8 195.3 248.2 185.4 254 175.4 259.4 165.4 264.8 155.5 270.1 145.5 275.6 135.5 281.2 125.6 287.1 115.6 293.2 105.6 299.3 95.7 305.5 85.7 311.6 75.7 317.3 65.8 322.4 55.8 326.6"/>
<polygon fill="url(#sb29)" points="55.1 326.4 65.1 322.2 75 317.1 85 311.4 95 305.3 104.9 299.1 114.9 292.9 124.8 286.9 134.8 281 144.8 275.4 154.7 269.9 164.7 264.5 174.7 259.2 184.6 253.7 194.6 247.9 204.6 241.5 214.5 234.2 215.9 234.7 205.9 242 195.9 248.4 186 254.2 176 259.7 166 265 156.1 270.3 146.1 275.8 136.1 281.4 126.2 287.3 116.2 293.3 106.2 299.5 96.3 305.7 86.3 311.7 76.3 317.4 66.4 322.5 56.4 326.8"/>
<polygon fill="url(#sb30)" points="55.7 326.6 65.7 322.4 75.6 317.2 85.6 311.5 95.6 305.5 105.5 299.3 115.5 293.1 125.5 287.1 135.4 281.2 145.4 275.6 155.4 270.1 165.3 264.7 175.3 259.4 185.3 253.9 195.2 248.1 205.2 241.7 215.2 234.5 216.5 235 206.5 242.2 196.6 248.6 186.6 254.4 176.6 259.9 166.7 265.2 156.7 270.5 146.7 276 136.8 281.6 126.8 287.5 116.8 293.5 106.9 299.7 96.9 305.9 86.9 311.9 77 317.6 67 322.7 57 327"/>
<polygon fill="url(#sb31)" points="56.3 326.8 66.3 322.5 76.3 317.4 86.2 311.7 96.2 305.7 106.2 299.5 116.1 293.3 126.1 287.3 136 281.4 146 275.8 156 270.3 165.9 265 175.9 259.6 185.9 254.2 195.8 248.3 205.8 241.9 215.8 234.7 217.1 235.2 207.1 242.5 197.2 248.8 187.2 254.6 177.2 260.1 167.3 265.4 157.3 270.8 147.3 276.2 137.4 281.9 127.4 287.7 117.4 293.8 107.5 299.9 97.5 306.1 87.5 312.1 77.6 317.8 67.6 322.9 57.6 327.2"/>
<polygon fill="url(#sb32)" points="56.9 326.9 66.9 322.7 76.9 317.6 86.8 311.9 96.8 305.8 106.8 299.7 116.7 293.5 126.7 287.5 136.7 281.6 146.6 276 156.6 270.5 166.6 265.2 176.5 259.8 186.5 254.4 196.5 248.6 206.4 242.2 216.4 234.9 217.7 235.5 207.8 242.7 197.8 249.1 187.8 254.9 177.9 260.3 167.9 265.7 157.9 271 148 276.5 138 282.1 128 287.9 118.1 294 108.1 300.1 98.1 306.3 88.2 312.3 78.2 318 68.2 323.1 58.3 327.4"/>
<polygon fill="url(#sb33)" points="57.5 327.1 67.5 322.9 77.5 317.8 87.4 312.1 97.4 306 107.4 299.9 117.3 293.7 127.3 287.7 137.3 281.8 147.3 276.2 157.2 270.7 167.2 265.4 177.2 260.1 187.1 254.6 197.1 248.8 207.1 242.4 217 235.2 218.4 235.8 208.4 243 198.4 249.3 188.5 255.1 178.5 260.6 168.5 265.9 158.6 271.3 148.6 276.7 138.6 282.3 128.6 288.2 118.7 294.2 108.7 300.4 98.7 306.5 88.8 312.5 78.8 318.2 68.8 323.3 58.9 327.6"/>
<polygon fill="url(#sb34)" points="58.2 327.4 68.1 323.1 78.1 318 88.1 312.3 98 306.3 108 300.1 118 293.9 127.9 287.9 137.9 282.1 147.9 276.4 157.8 271 167.8 265.6 177.8 260.3 187.7 254.8 197.7 249 207.7 242.7 217.6 235.5 219 236 209 243.2 199 249.6 189.1 255.4 179.1 260.8 169.1 266.2 159.2 271.5 149.2 277 139.2 282.6 129.3 288.4 119.3 294.5 109.3 300.6 99.4 306.8 89.4 312.8 79.4 318.5 69.4 323.6 59.5 327.9"/>
<polygon fill="url(#sb35)" points="58.8 327.6 68.7 323.3 78.7 318.2 88.7 312.5 98.6 306.5 108.6 300.3 118.6 294.2 128.6 288.2 138.5 282.3 148.5 276.7 158.5 271.2 168.4 265.9 178.4 260.6 188.4 255.1 198.3 249.3 208.3 242.9 218.3 235.7 219.6 236.3 209.6 243.5 199.7 249.8 189.7 255.6 179.7 261.1 169.8 266.4 159.8 271.8 149.8 277.2 139.8 282.9 129.9 288.7 119.9 294.7 109.9 300.9 100 307 90 313 80 318.7 70.1 323.8 60.1 328.1"/>
<polygon fill="url(#sb36)" points="59.4 327.8 69.4 323.6 79.3 318.4 89.3 312.7 99.3 306.7 109.2 300.6 119.2 294.4 129.2 288.4 139.1 282.6 149.1 276.9 159.1 271.5 169 266.1 179 260.8 189 255.3 198.9 249.5 208.9 243.2 218.9 236 220.2 236.6 210.3 243.8 200.3 250.1 190.3 255.9 180.3 261.4 170.4 266.7 160.4 272 150.4 277.5 140.5 283.1 130.5 289 120.5 295 110.6 301.1 100.6 307.3 90.6 313.3 80.6 319 70.7 324.1 60.7 328.4"/>
<polygon fill="url(#sb37)" points="60 328.1 70 323.8 79.9 318.7 89.9 313 99.9 307 109.8 300.8 119.8 294.7 129.8 288.7 139.8 282.8 149.7 277.2 159.7 271.7 169.7 266.4 179.6 261.1 189.6 255.6 199.6 249.8 209.5 243.5 219.5 236.3 220.8 236.9 210.9 244 200.9 250.4 190.9 256.2 181 261.6 171 267 161 272.3 151.1 277.8 141.1 283.4 131.1 289.2 121.1 295.3 111.2 301.4 101.2 307.5 91.2 313.5 81.3 319.2 71.3 324.4 61.3 328.7"/>
<polygon fill="url(#sb38)" points="60.6 328.4 70.6 324.1 80.6 318.9 90.5 313.2 100.5 307.2 110.5 301.1 120.4 295 130.4 288.9 140.4 283.1 150.3 277.5 160.3 272 170.3 266.7 180.3 261.3 190.2 255.9 200.2 250.1 210.2 243.7 220.1 236.5 221.5 237.1 211.5 244.3 201.5 250.6 191.6 256.4 181.6 261.9 171.6 267.2 161.6 272.6 151.7 278 141.7 283.7 131.7 289.5 121.8 295.5 111.8 301.6 101.8 307.8 91.8 313.8 81.9 319.5 71.9 324.6 61.9 328.9"/>
<polygon fill="url(#sb39)" points="61.2 328.6 71.2 324.3 81.2 319.2 91.1 313.5 101.1 307.5 111.1 301.3 121 295.2 131 289.2 141 283.4 151 277.7 160.9 272.3 170.9 266.9 180.9 261.6 190.8 256.1 200.8 250.3 210.8 244 220.8 236.8 222.1 237.4 212.1 244.6 202.1 250.9 192.2 256.7 182.2 262.1 172.2 267.5 162.3 272.8 152.3 278.3 142.3 283.9 132.3 289.8 122.4 295.8 112.4 301.9 102.4 308.1 92.5 314.1 82.5 319.7 72.5 324.9 62.5 329.2"/>
<polygon fill="url(#sb40)" points="61.8 328.9 71.8 324.6 81.8 319.4 91.8 313.8 101.7 307.7 111.7 301.6 121.7 295.5 131.6 289.5 141.6 283.6 151.6 278 161.6 272.5 171.5 267.2 181.5 261.8 191.5 256.4 201.4 250.6 211.4 244.2 221.4 237.1 222.7 237.7 212.7 244.8 202.8 251.1 192.8 256.9 182.8 262.4 172.9 267.8 162.9 273.1 152.9 278.6 142.9 284.2 133 290.1 123 296.1 113 302.2 103 308.3 93.1 314.3 83.1 320 73.1 325.2 63.2 329.5"/>
<polygon fill="url(#sb41)" points="62.5 329.2 72.4 324.8 82.4 319.7 92.4 314 102.3 308 112.3 301.9 122.3 295.8 132.3 289.7 142.2 283.9 152.2 278.3 162.2 272.8 172.1 267.4 182.1 262.1 192.1 256.6 202.1 250.8 212 244.5 222 237.4 223.3 237.9 213.4 245.1 203.4 251.4 193.4 257.2 183.4 262.7 173.5 268 163.5 273.4 153.5 278.9 143.6 284.5 133.6 290.3 123.6 296.3 113.6 302.5 103.7 308.6 93.7 314.6 83.7 320.3 73.7 325.4 63.8 329.8"/>
<polygon fill="url(#sb42)" points="63.1 329.5 73 325.1 83 320 93 314.3 103 308.3 112.9 302.1 122.9 296 132.9 290 142.8 284.2 152.8 278.5 162.8 273.1 172.8 267.7 182.7 262.4 192.7 256.9 202.7 251.1 212.6 244.8 222.6 237.6 224 238.2 214 245.3 204 251.7 194 257.5 184.1 262.9 174.1 268.3 164.1 273.6 154.1 279.1 144.2 284.8 134.2 290.6 124.2 296.6 114.3 302.7 104.3 308.9 94.3 314.9 84.3 320.6 74.4 325.7 64.4 330.1"/>
<polygon fill="url(#sb43)" points="63.7 329.8 73.7 325.4 83.6 320.2 93.6 314.6 103.6 308.6 113.5 302.4 123.5 296.3 133.5 290.3 143.5 284.5 153.4 278.8 163.4 273.3 173.4 268 183.4 262.6 193.3 257.2 203.3 251.4 213.3 245 223.2 237.9 224.6 238.5 214.6 245.6 204.6 251.9 194.7 257.7 184.7 263.2 174.7 268.5 164.7 273.9 154.8 279.4 144.8 285 134.8 290.9 124.8 296.9 114.9 303 104.9 309.2 94.9 315.2 84.9 320.9 75 326 65 330.4"/>
<polygon fill="url(#sb44)" points="64.3 330 74.3 325.7 84.2 320.5 94.2 314.8 104.2 308.8 114.2 302.7 124.1 296.6 134.1 290.6 144.1 284.7 154.1 279.1 164 273.6 174 268.2 184 262.9 193.9 257.4 203.9 251.6 213.9 245.3 223.9 238.2 225.2 238.7 215.2 245.8 205.3 252.1 195.3 257.9 185.3 263.4 175.3 268.8 165.4 274.2 155.4 279.7 145.4 285.3 135.4 291.2 125.5 297.2 115.5 303.3 105.5 309.4 95.5 315.5 85.6 321.2 75.6 326.3 65.6 330.7"/>
<polygon fill="url(#sb45)" points="64.9 330.4 74.9 326 84.9 320.8 94.8 315.1 104.8 309.1 114.8 303 124.8 296.9 134.7 290.8 144.7 285 154.7 279.4 164.6 273.9 174.6 268.5 184.6 263.1 194.6 257.7 204.5 251.9 214.5 245.5 224.5 238.4 225.8 238.9 215.8 246 205.9 252.4 195.9 258.2 185.9 263.7 175.9 269 166 274.4 156 279.9 146 285.6 136.1 291.4 126.1 297.5 116.1 303.6 106.1 309.7 96.2 315.8 86.2 321.5 76.2 326.6 66.2 331"/>
<polygon fill="url(#sb46)" points="65.5 330.7 75.5 326.3 85.5 321.1 95.4 315.4 105.4 309.4 115.4 303.3 125.4 297.1 135.3 291.1 145.3 285.3 155.3 279.6 165.3 274.1 175.2 268.8 185.2 263.4 195.2 257.9 205.2 252.1 215.1 245.8 225.1 238.7 226.4 239.2 216.5 246.3 206.5 252.6 196.5 258.4 186.5 263.9 176.6 269.3 166.6 274.7 156.6 280.2 146.6 285.9 136.7 291.7 126.7 297.8 116.7 303.9 106.7 310 96.8 316.1 86.8 321.8 76.8 327 66.8 331.4"/>
<polygon fill="url(#sb47)" points="66.1 331 76.1 326.6 86.1 321.4 96.1 315.7 106 309.7 116 303.6 126 297.4 136 291.4 145.9 285.6 155.9 279.9 165.9 274.4 175.9 269 185.8 263.6 195.8 258.1 205.8 252.3 215.8 246 225.7 238.9 227.1 239.4 217.1 246.5 207.1 252.8 197.1 258.6 187.2 264.2 177.2 269.6 167.2 275 157.2 280.5 147.3 286.2 137.3 292 127.3 298 117.3 304.2 107.4 310.3 97.4 316.4 87.4 322.1 77.4 327.3 67.5 331.7"/>
<polygon fill="url(#sb48)" points="66.8 331.3 76.7 326.9 86.7 321.7 96.7 316 106.6 310 116.6 303.8 126.6 297.7 136.6 291.7 146.5 285.8 156.5 280.2 166.5 274.7 176.5 269.3 186.4 263.9 196.4 258.4 206.4 252.6 216.4 246.2 226.3 239.1 227.7 239.6 217.7 246.7 207.7 253.1 197.8 258.9 187.8 264.4 177.8 269.8 167.8 275.2 157.9 280.7 147.9 286.4 137.9 292.3 127.9 298.3 118 304.5 108 310.6 98 316.7 88 322.4 78 327.6 68.1 332.1"/>
<polygon fill="url(#sb49)" points="67.4 331.7 77.3 327.2 87.3 322 97.3 316.3 107.3 310.3 117.2 304.1 127.2 298 137.2 292 147.2 286.1 157.1 280.4 167.1 274.9 177.1 269.5 187.1 264.1 197 258.6 207 252.8 217 246.5 227 239.3 228.3 239.9 218.3 247 208.4 253.3 198.4 259.1 188.4 264.7 178.4 270.1 168.5 275.5 158.5 281 148.5 286.7 138.5 292.6 128.5 298.6 118.6 304.8 108.6 310.9 98.6 317 88.6 322.7 78.7 327.9 68.7 332.4"/>
<polygon fill="url(#sb50)" points="68 332 78 327.6 87.9 322.3 97.9 316.6 107.9 310.6 117.9 304.4 127.8 298.3 137.8 292.3 147.8 286.4 157.8 280.7 167.7 275.2 177.7 269.8 187.7 264.4 197.7 258.8 207.6 253 217.6 246.7 227.6 239.6 228.9 240.1 219 247.2 209 253.6 199 259.4 189 264.9 179 270.4 169.1 275.8 159.1 281.3 149.1 287 139.1 292.9 129.2 298.9 119.2 305.1 109.2 311.2 99.2 317.3 89.3 323 79.3 328.3 69.3 332.7"/>
<polygon fill="url(#sb51)" points="68.6 332.3 78.6 327.9 88.5 322.7 98.5 316.9 108.5 310.9 118.5 304.7 128.4 298.6 138.4 292.6 148.4 286.7 158.4 281 168.4 275.5 178.3 270 188.3 264.6 198.3 259.1 208.3 253.3 218.2 246.9 228.2 239.8 229.6 240.4 219.6 247.5 209.6 253.8 199.6 259.7 189.6 265.2 179.7 270.7 169.7 276.1 159.7 281.6 149.7 287.3 139.8 293.2 129.8 299.3 119.8 305.4 109.8 311.6 99.8 317.6 89.9 323.3 79.9 328.6 69.9 333.1"/>
<polygon fill="url(#sb52)" points="69.2 332.7 79.2 328.2 89.2 323 99.1 317.2 109.1 311.2 119.1 305 129.1 298.9 139 292.9 149 287 159 281.3 169 275.7 179 270.3 188.9 264.9 198.9 259.4 208.9 253.5 218.9 247.2 228.8 240.1 230.2 240.7 220.2 247.8 210.2 254.1 200.2 260 190.3 265.5 180.3 271 170.3 276.4 160.3 282 150.4 287.7 140.4 293.5 130.4 299.6 120.4 305.7 110.4 311.9 100.5 317.9 90.5 323.7 80.5 328.9 70.5 333.4"/>
<polygon fill="url(#sb53)" points="69.8 333 79.8 328.5 89.8 323.3 99.8 317.6 109.7 311.5 119.7 305.4 129.7 299.2 139.7 293.2 149.6 287.3 159.6 281.6 169.6 276 179.6 270.6 189.5 265.2 199.5 259.6 209.5 253.8 219.5 247.5 229.5 240.4 230.8 241.1 220.8 248.1 210.8 254.5 200.9 260.3 190.9 265.9 180.9 271.3 170.9 276.7 160.9 282.3 151 288 141 293.9 131 299.9 121 306.1 111.1 312.2 101.1 318.3 91.1 324 81.1 329.3 71.1 333.8"/>
<polygon fill="url(#sb54)" points="70.4 333.4 80.4 328.9 90.4 323.6 100.4 317.9 110.3 311.8 120.3 305.7 130.3 299.5 140.3 293.5 150.3 287.6 160.2 281.9 170.2 276.4 180.2 270.9 190.2 265.5 200.1 259.9 210.1 254.1 220.1 247.8 230.1 240.7 231.4 241.4 221.4 248.5 211.5 254.8 201.5 260.7 191.5 266.2 181.5 271.7 171.5 277.1 161.6 282.6 151.6 288.4 141.6 294.2 131.6 300.3 121.6 306.4 111.7 312.6 101.7 318.6 91.7 324.3 81.7 329.6 71.8 334.1"/>
<polygon fill="url(#sb55)" points="71 333.7 81 329.2 91 324 101 318.2 111 312.2 120.9 306 130.9 299.9 140.9 293.8 150.9 287.9 160.9 282.2 170.8 276.7 180.8 271.2 190.8 265.8 200.8 260.3 210.7 254.4 220.7 248.1 230.7 241 232 241.9 222.1 248.9 212.1 255.2 202.1 261.1 192.1 266.6 182.1 272 172.2 277.5 162.2 283 152.2 288.7 142.2 294.6 132.2 300.6 122.3 306.8 112.3 312.9 102.3 319 92.3 324.7 82.3 330 72.4 334.5"/>
<polygon fill="url(#sb56)" points="71.7 334.1 81.6 329.5 91.6 324.3 101.6 318.5 111.6 312.5 121.6 306.4 131.5 300.2 141.5 294.2 151.5 288.3 161.5 282.6 171.4 277 181.4 271.6 191.4 266.2 201.4 260.6 211.4 254.8 221.3 248.4 231.3 241.4 232.7 242.3 222.7 249.3 212.7 255.6 202.7 261.5 192.7 267 182.8 272.5 172.8 277.9 162.8 283.4 152.8 289.1 142.8 295 132.9 301 122.9 307.2 112.9 313.3 102.9 319.3 92.9 325.1 83 330.3 73 334.8"/>
<polygon fill="url(#sb57)" points="72.3 334.4 82.3 329.9 92.2 324.6 102.2 318.9 112.2 312.9 122.2 306.7 132.2 300.6 142.1 294.6 152.1 288.7 162.1 283 172.1 277.4 182 272 192 266.5 202 261 212 255.2 222 248.8 231.9 241.8 233.3 242.8 223.3 249.8 213.3 256.1 203.3 261.9 193.4 267.5 183.4 272.9 173.4 278.3 163.4 283.9 153.4 289.6 143.5 295.4 133.5 301.4 123.5 307.6 113.5 313.7 103.5 319.7 93.6 325.4 83.6 330.7 73.6 335.2"/>
<polygon fill="url(#sb58)" points="72.9 334.8 82.9 330.3 92.8 325 102.8 319.3 112.8 313.2 122.8 307.1 132.8 301 142.7 294.9 152.7 289.1 162.7 283.4 172.7 277.8 182.7 272.4 192.6 267 202.6 261.4 212.6 255.6 222.6 249.3 232.6 242.2 233.9 243.3 223.9 250.3 213.9 256.6 204 262.4 194 267.9 184 273.4 174 278.8 164 284.3 154.1 290 144.1 295.9 134.1 301.9 124.1 308 114.1 314.2 104.1 320.2 94.2 325.9 84.2 331.1 74.2 335.7"/>
<polygon fill="url(#sb59)" points="73.5 335.2 83.5 330.6 93.5 325.4 103.4 319.6 113.4 313.6 123.4 307.5 133.4 301.4 143.4 295.4 153.3 289.5 163.3 283.8 173.3 278.3 183.3 272.8 193.3 267.4 203.2 261.9 213.2 256 223.2 249.7 233.2 242.7 234.5 243.8 224.5 250.8 214.6 257.1 204.6 262.9 194.6 268.5 184.6 273.9 174.6 279.3 164.7 284.9 154.7 290.6 144.7 296.4 134.7 302.5 124.7 308.6 114.7 314.7 104.8 320.7 94.8 326.4 84.8 331.7 74.8 336.3"/>
<polygon fill="url(#sb60)" points="74.1 335.6 84.1 331.1 94.1 325.8 104.1 320.1 114 314.1 124 308 134 301.8 144 295.8 154 290 163.9 284.3 173.9 278.7 183.9 273.3 193.9 267.9 203.9 262.3 213.8 256.5 223.8 250.2 233.8 243.2 235.2 244.3 225.2 251.3 215.2 257.6 205.2 263.4 195.2 269 185.2 274.4 175.3 279.9 165.3 285.5 155.3 291.2 145.3 297 135.3 303 125.3 309.2 115.4 315.3 105.4 321.3 95.4 327.1 85.4 332.3 75.4 336.9"/>
<polygon fill="url(#sb61)" points="74.7 336.2 84.7 331.6 94.7 326.4 104.7 320.6 114.7 314.6 124.6 308.5 134.6 302.4 144.6 296.4 154.6 290.5 164.6 284.8 174.5 279.3 184.5 273.8 194.5 268.4 204.5 262.8 214.5 257 224.5 250.7 234.4 243.7 235.8 244.8 225.8 251.8 215.8 258.1 205.8 264 195.8 269.6 185.9 275 175.9 280.5 165.9 286 155.9 291.8 145.9 297.6 135.9 303.7 126 309.8 116 315.9 106 322 96 327.7 86 333 76 337.6"/>
<polygon fill="url(#sb62)" points="75.3 336.8 85.3 332.2 95.3 327 105.3 321.2 115.3 315.2 125.3 309.1 135.2 303 145.2 296.9 155.2 291.1 165.2 285.4 175.2 279.8 185.1 274.4 195.1 268.9 205.1 263.4 215.1 257.5 225.1 251.2 235.1 244.2 236.4 245.4 226.4 252.4 216.4 258.7 206.4 264.5 196.5 270.1 186.5 275.6 176.5 281.1 166.5 286.6 156.5 292.4 146.5 298.3 136.6 304.3 126.6 310.4 116.6 316.6 106.6 322.6 96.6 328.4 86.6 333.7 76.7 338.3"/>
<polygon fill="url(#sb63)" points="76 337.5 85.9 332.9 95.9 327.6 105.9 321.9 115.9 315.8 125.9 309.7 135.8 303.6 145.8 297.5 155.8 291.7 165.8 285.9 175.8 280.4 185.8 274.9 195.7 269.5 205.7 263.9 215.7 258.1 225.7 251.8 235.7 244.8 237 245.9 227 252.9 217 259.2 207.1 265.1 197.1 270.7 187.1 276.2 177.1 281.6 167.1 287.2 157.1 293 147.2 298.9 137.2 304.9 127.2 311.1 117.2 317.2 107.2 323.3 97.2 329.1 87.3 334.4 77.3 339"/>
<polygon fill="url(#sb64)" points="76.6 338.2 86.5 333.6 96.5 328.3 106.5 322.5 116.5 316.5 126.5 310.3 136.5 304.2 146.4 298.2 156.4 292.3 166.4 286.5 176.4 281 186.4 275.5 196.4 270 206.3 264.4 216.3 258.6 226.3 252.3 236.3 245.3 237.6 246.4 227.7 253.4 217.7 259.8 207.7 265.6 197.7 271.2 187.7 276.7 177.7 282.2 167.7 287.8 157.8 293.6 147.8 299.5 137.8 305.6 127.8 311.7 117.8 317.9 107.8 323.9 97.9 329.7 87.9 335 77.9 339.7"/>
<polygon fill="url(#sb65)" points="77.2 338.9 87.2 334.3 97.1 329 107.1 323.2 117.1 317.1 127.1 311 137.1 304.8 147.1 298.8 157.1 292.9 167 287.1 177 281.6 187 276.1 197 270.6 207 265 217 259.1 226.9 252.8 236.9 245.8 238.3 247 228.3 254 218.3 260.3 208.3 266.2 198.3 271.8 188.3 277.3 178.4 282.8 168.4 288.4 158.4 294.2 148.4 300.1 138.4 306.2 128.4 312.3 118.4 318.5 108.5 324.5 98.5 330.3 88.5 335.7 78.5 340.4"/>
<polygon fill="url(#sb66)" points="77.8 339.6 87.8 334.9 97.8 329.6 107.7 323.8 117.7 317.8 127.7 311.6 137.7 305.5 147.7 299.4 157.7 293.5 167.7 287.7 177.6 282.1 187.6 276.6 197.6 271.1 207.6 265.5 217.6 259.7 227.6 253.3 237.5 246.3 238.9 247.6 228.9 254.6 218.9 260.9 208.9 266.8 198.9 272.4 189 277.9 179 283.4 169 289 159 294.8 149 300.7 139 306.8 129 313 119.1 319.1 109.1 325.2 99.1 331 89.1 336.3 79.1 341"/>
<polygon fill="url(#sb67)" points="78.4 340.3 88.4 335.6 98.4 330.2 108.4 324.5 118.3 318.4 128.3 312.2 138.3 306.1 148.3 300 158.3 294.1 168.3 288.3 178.3 282.7 188.2 277.2 198.2 271.7 208.2 266.1 218.2 260.2 228.2 253.9 238.2 246.9 239.5 248.1 229.5 255.1 219.5 261.5 209.5 267.4 199.6 273 189.6 278.5 179.6 284 169.6 289.7 159.6 295.4 149.6 301.4 139.6 307.4 129.7 313.6 119.7 319.8 109.7 325.8 99.7 331.7 89.7 337 79.7 341.7"/>
<polygon fill="url(#sb68)" points="79 340.9 89 336.2 99 330.9 109 325.1 119 319 128.9 312.9 138.9 306.7 148.9 300.6 158.9 294.7 168.9 289 178.9 283.3 188.9 277.8 198.8 272.3 208.8 266.7 218.8 260.8 228.8 254.5 238.8 247.5 240.1 248.7 230.1 255.7 220.2 262.1 210.2 268 200.2 273.6 190.2 279.1 180.2 284.7 170.2 290.3 160.2 296.1 150.2 302 140.3 308.1 130.3 314.3 120.3 320.4 110.3 326.5 100.3 332.3 90.3 337.7 80.3 342.4"/>
<polygon fill="url(#sb69)" points="79.6 341.6 89.6 336.9 99.6 331.6 109.6 325.7 119.6 319.7 129.6 313.5 139.6 307.3 149.5 301.3 159.5 295.3 169.5 289.6 179.5 284 189.5 278.4 199.5 272.9 209.5 267.3 219.4 261.4 229.4 255 239.4 248 240.7 249.3 230.8 256.3 220.8 262.7 210.8 268.6 200.8 274.2 190.8 279.8 180.8 285.3 170.8 291 160.9 296.7 150.9 302.7 140.9 308.8 130.9 314.9 120.9 321.1 110.9 327.2 100.9 333 90.9 338.4 81 343.1"/>
<polygon fill="url(#sb70)" points="80.2 342.3 90.2 337.6 100.2 332.2 110.2 326.4 120.2 320.3 130.2 314.2 140.2 308 150.2 301.9 160.1 296 170.1 290.2 180.1 284.6 190.1 279 200.1 273.5 210.1 267.9 220.1 262 230 255.6 240 248.6 241.4 249.9 231.4 256.9 221.4 263.3 211.4 269.2 201.4 274.8 191.4 280.4 181.4 286 171.5 291.6 161.5 297.4 151.5 303.3 141.5 309.4 131.5 315.6 121.5 321.8 111.5 327.9 101.5 333.7 91.6 339.1 81.6 343.8"/>
<polygon fill="url(#sb71)" points="80.9 343 90.8 338.3 100.8 332.9 110.8 327.1 120.8 321 130.8 314.8 140.8 308.7 150.8 302.6 160.8 296.6 170.7 290.9 180.7 285.2 190.7 279.7 200.7 274.1 210.7 268.5 220.7 262.6 230.7 256.2 240.7 249.2 242 250.6 232 257.5 222 263.9 212 269.8 202 275.5 192.1 281 182.1 286.6 172.1 292.3 162.1 298.1 152.1 304 142.1 310.1 132.1 316.3 122.1 322.5 112.1 328.5 102.2 334.4 92.2 339.8 82.2 344.5"/>
<polygon fill="url(#sb72)" points="81.5 343.7 91.5 339 101.4 333.6 111.4 327.8 121.4 321.7 131.4 315.5 141.4 309.3 151.4 303.2 161.4 297.3 171.4 291.5 181.4 285.9 191.3 280.3 201.3 274.7 211.3 269.1 221.3 263.2 231.3 256.8 241.3 249.9 242.6 251.2 232.6 258.2 222.6 264.5 212.6 270.4 202.7 276.1 192.7 281.7 182.7 287.2 172.7 292.9 162.7 298.7 152.7 304.7 142.7 310.8 132.7 316.9 122.7 323.1 112.8 329.2 102.8 335.1 92.8 340.5 82.8 345.3"/>
<polygon fill="url(#sb73)" points="82.1 344.4 92.1 339.7 102.1 334.3 112.1 328.4 122 322.4 132 316.2 142 310 152 303.9 162 298 172 292.2 182 286.5 192 280.9 201.9 275.4 211.9 269.7 221.9 263.8 231.9 257.5 241.9 250.5 243.2 251.8 233.2 258.8 223.3 265.1 213.3 271.1 203.3 276.7 193.3 282.3 183.3 287.9 173.3 293.6 163.3 299.4 153.3 305.3 143.3 311.4 133.4 317.6 123.4 323.8 113.4 329.9 103.4 335.7 93.4 341.2 83.4 346"/>
<polygon fill="url(#sb74)" points="82.7 345.1 92.7 340.4 102.7 335 112.7 329.1 122.7 323 132.6 316.8 142.6 310.7 152.6 304.6 162.6 298.6 172.6 292.8 182.6 287.2 192.6 281.6 202.6 276 212.6 270.3 222.5 264.4 232.5 258.1 242.5 251.1 243.9 252.5 233.9 259.4 223.9 265.8 213.9 271.7 203.9 277.4 193.9 283 183.9 288.6 173.9 294.2 163.9 300.1 154 306 144 312.1 134 318.3 124 324.5 114 330.6 104 336.4 94 341.8 84 346.7"/>
<polygon fill="url(#sb75)" points="83.3 345.9 93.3 341.1 103.3 335.6 113.3 329.8 123.3 323.7 133.3 317.5 143.2 311.3 153.2 305.2 163.2 299.3 173.2 293.5 183.2 287.8 193.2 282.2 203.2 276.6 213.2 271 223.2 265 233.2 258.7 243.1 251.7 244.5 253.2 234.5 260.1 224.5 266.5 214.5 272.4 204.5 278.1 194.5 283.7 184.5 289.2 174.5 294.9 164.6 300.7 154.6 306.7 144.6 312.8 134.6 319 124.6 325.2 114.6 331.3 104.6 337.1 94.6 342.5 84.6 347.4"/>
<polygon fill="url(#sb76)" points="83.9 346.5 93.9 341.7 103.9 336.3 113.9 330.5 123.9 324.4 133.9 318.2 143.9 312 153.9 305.9 163.8 299.9 173.8 294.1 183.8 288.5 193.8 282.9 203.8 277.3 213.8 271.6 223.8 265.7 233.8 259.3 243.8 252.4 245.1 253.8 235.1 260.8 225.1 267.1 215.1 273.1 205.1 278.7 195.1 284.3 185.2 289.9 175.2 295.6 165.2 301.4 155.2 307.4 145.2 313.5 135.2 319.7 125.2 325.9 115.2 332 105.2 337.8 95.2 343.2 85.2 348.1"/>
<polygon fill="url(#sb77)" points="84.5 347.2 94.5 342.4 104.5 337 114.5 331.2 124.5 325.1 134.5 318.9 144.5 312.7 154.5 306.6 164.5 300.6 174.5 294.8 184.4 289.1 194.4 283.5 204.4 278 214.4 272.3 224.4 266.4 234.4 260 244.4 253 245.7 254.5 235.7 261.5 225.7 267.8 215.7 273.7 205.8 279.4 195.8 285 185.8 290.6 175.8 296.3 165.8 302.1 155.8 308.1 145.8 314.2 135.8 320.4 125.8 326.6 115.8 332.7 105.8 338.5 95.9 343.9 85.9 348.8"/>
<polygon fill="url(#sb78)" points="85.2 348 95.1 343.1 105.1 337.7 115.1 331.8 125.1 325.8 135.1 319.6 145.1 313.4 155.1 307.3 165.1 301.3 175.1 295.5 185.1 289.8 195.1 284.2 205 278.6 215 273 225 267 235 260.7 245 253.7 246.3 255.2 236.4 262.2 226.4 268.5 216.4 274.4 206.4 280.1 196.4 285.7 186.4 291.3 176.4 297 166.4 302.8 156.4 308.8 146.4 314.9 136.4 321.1 126.4 327.3 116.5 333.4 106.5 339.2 96.5 344.7 86.5 349.5"/>
<polygon fill="url(#sb79)" points="85.8 348.7 95.8 343.8 105.8 338.4 115.7 332.5 125.7 326.5 135.7 320.3 145.7 314.1 155.7 308 165.7 302 175.7 296.2 185.7 290.5 195.7 284.9 205.7 279.3 215.7 273.6 225.6 267.7 235.6 261.4 245.6 254.4 247 255.9 237 262.9 227 269.2 217 275.1 207 280.8 197 286.4 187 292 177 297.7 167 303.5 157 309.5 147 315.6 137.1 321.8 127.1 328 117.1 334 107.1 339.9 97.1 345.4 87.1 350.2"/>
<polygon fill="url(#sb80)" points="86.4 349.4 96.4 344.5 106.4 339.1 116.4 333.2 126.3 327.2 136.3 321 146.3 314.8 156.3 308.7 166.3 302.7 176.3 296.9 186.3 291.2 196.3 285.6 206.3 280 216.3 274.3 226.3 268.4 236.3 262.1 246.2 255.1 247.6 256.6 237.6 263.5 227.6 269.9 217.6 275.8 207.6 281.5 197.6 287.1 187.6 292.7 177.6 298.4 167.6 304.2 157.7 310.2 147.7 316.3 137.7 322.5 127.7 328.6 117.7 334.7 107.7 340.6 97.7 346 87.7 350.9"/>
<polygon fill="url(#sb81)" points="87 350.1 97 345.2 107 339.8 117 333.9 127 327.9 137 321.7 146.9 315.5 156.9 309.4 166.9 303.4 176.9 297.6 186.9 291.9 196.9 286.3 206.9 280.7 216.9 275 226.9 269.1 236.9 262.8 246.9 255.8 248.2 257.3 238.2 264.2 228.2 270.6 218.2 276.5 208.2 282.2 198.2 287.8 188.3 293.4 178.3 299.1 168.3 304.9 158.3 310.9 148.3 317 138.3 323.1 128.3 329.3 118.3 335.4 108.3 341.2 98.3 346.7 88.3 351.6"/>
<polygon fill="url(#sb82)" points="87.6 350.8 97.6 345.9 107.6 340.5 117.6 334.6 127.6 328.5 137.6 322.4 147.6 316.2 157.6 310.1 167.6 304.1 177.5 298.3 187.5 292.6 197.5 287 207.5 281.4 217.5 275.7 227.5 269.8 237.5 263.4 247.5 256.5 248.8 258 238.8 264.9 228.8 271.2 218.9 277.1 208.9 282.8 198.9 288.4 188.9 294.1 178.9 299.8 168.9 305.6 158.9 311.5 148.9 317.6 138.9 323.8 128.9 329.9 118.9 336 108.9 341.9 98.9 347.3 88.9 352.2"/>
<polygon fill="url(#sb83)" points="88.2 351.5 98.2 346.6 108.2 341.1 118.2 335.3 128.2 329.2 138.2 323 148.2 316.9 158.2 310.8 168.2 304.8 178.2 299 188.2 293.3 198.1 287.7 208.1 282.1 218.1 276.4 228.1 270.4 238.1 264.1 248.1 257.2 249.5 258.7 239.5 265.6 229.5 271.9 219.5 277.8 209.5 283.5 199.5 289.1 189.5 294.7 179.5 300.4 169.5 306.2 159.5 312.2 149.5 318.2 139.5 324.4 129.5 330.6 119.5 336.6 109.5 342.5 99.5 347.9 89.5 352.8"/>
<polygon fill="url(#sb84)" points="88.8 352.1 98.8 347.2 108.8 341.8 118.8 335.9 128.8 329.9 138.8 323.7 148.8 317.5 158.8 311.4 168.8 305.5 178.8 299.7 188.8 294 198.8 288.3 208.8 282.7 218.8 277 228.7 271.1 238.7 264.8 248.7 257.9 250.1 259.4 240.1 266.2 230.1 272.5 220.1 278.4 210.1 284.1 200.1 289.7 190.1 295.3 180.1 301 170.1 306.8 160.1 312.8 150.1 318.9 140.1 325 130.1 331.2 120.1 337.2 110.1 343.1 100.2 348.5 90.2 353.4"/>
<polygon fill="url(#sb85)" points="89.5 352.7 99.4 347.9 109.4 342.4 119.4 336.5 129.4 330.5 139.4 324.3 149.4 318.1 159.4 312.1 169.4 306.1 179.4 300.3 189.4 294.6 199.4 289 209.4 283.4 219.4 277.7 229.4 271.8 239.4 265.5 249.4 258.6 250.7 260 240.7 266.9 230.7 273.2 220.7 279.1 210.7 284.8 200.7 290.4 190.7 296 180.7 301.6 170.7 307.5 160.7 313.4 150.7 319.5 140.7 325.6 130.8 331.8 120.8 337.8 110.8 343.7 100.8 349.1 90.8 354"/>
<polygon fill="url(#sb86)" points="90.1 353.3 100.1 348.4 110.1 343 120 337.1 130 331.1 140 324.9 150 318.8 160 312.7 170 306.7 180 300.9 190 295.2 200 289.6 210 284 220 278.3 230 272.4 240 266.1 250 259.3 251.3 260.7 241.3 267.5 231.3 273.8 221.3 279.7 211.3 285.4 201.3 291 191.3 296.6 181.3 302.3 171.4 308.1 161.4 314 151.4 320.1 141.4 326.2 131.4 332.3 121.4 338.4 111.4 344.2 101.4 349.7 91.4 354.6"/>
<polygon fill="url(#sb87)" points="90.7 353.9 100.7 349 110.7 343.6 120.7 337.7 130.7 331.7 140.7 325.5 150.7 319.4 160.6 313.3 170.6 307.4 180.6 301.6 190.6 295.9 200.6 290.3 210.6 284.7 220.6 279 230.6 273.1 240.6 266.8 250.6 259.9 251.9 261.4 241.9 268.2 231.9 274.5 222 280.4 212 286 202 291.6 192 297.2 182 302.9 172 308.7 162 314.6 152 320.7 142 326.8 132 332.9 122 339 112 344.8 102 350.3 92 355.2"/>
<polygon fill="url(#sb88)" points="91.3 354.5 101.3 349.6 111.3 344.1 121.3 338.3 131.3 332.3 141.3 326.1 151.3 320 161.3 313.9 171.3 308 181.3 302.2 191.2 296.5 201.2 290.9 211.2 285.3 221.2 279.6 231.2 273.7 241.2 267.4 251.2 260.6 252.6 262.1 242.6 268.9 232.6 275.1 222.6 281 212.6 286.7 202.6 292.3 192.6 297.9 182.6 303.5 172.6 309.3 162.6 315.2 152.6 321.3 142.6 327.4 132.6 333.5 122.6 339.5 112.6 345.4 102.6 350.8 92.6 355.7"/>
<polygon fill="url(#sb89)" points="91.9 355.1 101.9 350.2 111.9 344.7 121.9 338.9 131.9 332.8 141.9 326.7 151.9 320.6 161.9 314.5 171.9 308.6 181.9 302.8 191.9 297.1 201.9 291.5 211.9 285.9 221.9 280.3 231.9 274.4 241.9 268.1 251.8 261.3 253.2 262.8 243.2 269.6 233.2 275.8 223.2 281.7 213.2 287.4 203.2 292.9 193.2 298.5 183.2 304.2 173.2 309.9 163.2 315.9 153.2 321.9 143.2 328 133.2 334.1 123.2 340.1 113.2 345.9 103.2 351.4 93.2 356.3"/>
<polygon fill="url(#sb90)" points="92.5 355.6 102.5 350.7 112.5 345.3 122.5 339.5 132.5 333.4 142.5 327.3 152.5 321.2 162.5 315.1 172.5 309.2 182.5 303.4 192.5 297.8 202.5 292.2 212.5 286.6 222.5 280.9 232.5 275 242.5 268.8 252.5 262 253.8 263.5 243.8 270.3 233.8 276.5 223.8 282.4 213.8 288 203.8 293.6 193.8 299.2 183.8 304.8 173.8 310.6 163.8 316.5 153.8 322.5 143.8 328.6 133.8 334.7 123.8 340.7 113.8 346.5 103.8 351.9 93.8 356.8"/>
<polygon fill="url(#sb91)" points="93.1 356.2 103.1 351.3 113.1 345.8 123.1 340 133.1 334 143.1 327.9 153.1 321.8 163.1 315.8 173.1 309.8 183.1 304.1 193.1 298.4 203.1 292.8 213.1 287.2 223.1 281.6 233.1 275.7 243.1 269.5 253.1 262.7 254.4 264.3 244.4 271 234.4 277.2 224.4 283.1 214.4 288.7 204.4 294.3 194.4 299.8 184.4 305.5 174.4 311.2 164.4 317.1 154.4 323.1 144.4 329.2 134.4 335.2 124.4 341.2 114.4 347 104.5 352.4 94.5 357.3"/>
<polygon fill="url(#sb92)" points="93.7 356.7 103.7 351.8 113.7 346.4 123.7 340.6 133.7 334.6 143.7 328.5 153.7 322.4 163.7 316.4 173.7 310.5 183.7 304.7 193.7 299.1 203.7 293.5 213.7 287.9 223.7 282.3 233.7 276.4 243.7 270.2 253.7 263.4 255.1 265.1 245.1 271.8 235.1 278 225.1 283.8 215.1 289.4 205.1 295 195.1 300.5 185.1 306.1 175.1 311.9 165.1 317.7 155.1 323.7 145.1 329.7 135.1 335.8 125.1 341.8 115.1 347.5 105.1 352.9 95.1 357.8"/>
<polygon fill="url(#sb93)" points="94.4 357.2 104.4 352.3 114.4 346.9 124.4 341.1 134.4 335.1 144.4 329.1 154.3 323 164.3 317 174.3 311.1 184.3 305.4 194.3 299.7 204.3 294.2 214.3 288.6 224.3 283 234.3 277.1 244.3 270.9 254.3 264.2 255.7 265.9 245.7 272.6 235.7 278.8 225.7 284.6 215.7 290.2 205.7 295.7 195.7 301.2 185.7 306.8 175.7 312.5 165.7 318.4 155.7 324.3 145.7 330.3 135.7 336.4 125.7 342.3 115.7 348 105.7 353.4 95.7 358.3"/>
<polygon fill="url(#sb94)" points="95 357.7 105 352.9 115 347.4 125 341.7 135 335.7 145 329.7 155 323.6 165 317.6 175 311.8 185 306 195 300.4 205 294.9 215 289.3 225 283.7 235 277.9 245 271.7 255 265 256.2 266.6 246.2 273.3 236.2 279.4 226.2 285.2 216.2 290.8 206.2 296.3 196.2 301.8 186.2 307.4 176.2 313.1 166.2 318.9 156.2 324.8 146.2 330.8 136.2 336.8 126.2 342.7 116.2 348.5 106.2 353.8 96.2 358.7"/>
<polygon fill="url(#sb95)" points="95.6 358.2 105.6 353.4 115.6 348 125.6 342.2 135.6 336.3 145.6 330.2 155.6 324.2 165.6 318.3 175.6 312.4 185.6 306.7 195.6 301.1 205.6 295.6 215.6 290.1 225.6 284.5 235.6 278.6 245.6 272.5 255.6 265.8 256.2 266.6 246.2 273.3 236.2 279.4 226.2 285.2 216.2 290.8 206.2 296.3 196.2 301.8 186.2 307.4 176.2 313.1 166.2 318.9 156.2 324.8 146.2 330.8 136.2 336.8 126.2 342.7 116.2 348.5 106.2 353.8 96.2 358.7"/>
<line x1="73.3" y1="334.7" x2="229" y2="240.9" stroke="#000" stroke-width="2.0"/>
<line x1="73.3" y1="334.7" x2="291.3" y2="267.9" stroke="#000" stroke-width="1.15" stroke-dasharray="1.7 1.5"/>
<line x1="229" y1="240.9" x2="284.6" y2="202.2" stroke="#000" stroke-width="1.15" stroke-dasharray="1.7 1.5"/>
<text x="25.7" y="315.32" font-size="10.4" text-anchor="middle" font-family="Liberation Sans, Arial, Helvetica, sans-serif" fill="#262626">0</text>
<text x="23.3" y="325.32" font-size="10.4" text-anchor="middle" font-family="Liberation Sans, Arial, Helvetica, sans-serif" fill="#262626">-2</text>
<text x="35.2" y="347.92" font-size="10.4" text-anchor="middle" font-family="Liberation Sans, Arial, Helvetica, sans-serif" fill="#262626">-5</text>
<text x="55.5" y="358.62" font-size="10.4" text-anchor="middle" font-family="Liberation Sans, Arial, Helvetica, sans-serif" fill="#262626">0</text>
<text x="76.4" y="370.32" font-size="10.4" text-anchor="middle" font-family="Liberation Sans, Arial, Helvetica, sans-serif" fill="#262626">5</text>
<text x="108.4" y="376.12" font-size="10.4" text-anchor="middle" font-family="Liberation Sans, Arial, Helvetica, sans-serif" fill="#262626">20</text>
<text x="148.5" y="353.62" font-size="10.4" text-anchor="middle" font-family="Liberation Sans, Arial, Helvetica, sans-serif" fill="#262626">10</text>
<text x="184.8" y="330.12" font-size="10.4" text-anchor="middle" font-family="Liberation Sans, Arial, Helvetica, sans-serif" fill="#262626">0</text>
<text x="229.9" y="307.72" font-size="10.4" text-anchor="middle" font-family="Liberation Sans, Arial, Helvetica, sans-serif" fill="#262626">-10</text>
<text x="270.6" y="284.12" font-size="10.4" text-anchor="middle" font-family="Liberation Sans, Arial, Helvetica, sans-serif" fill="#262626">-20</text>
<text x="186.6" y="368.4" font-size="11.6" text-anchor="middle" font-family="Liberation Sans, Arial, Helvetica, sans-serif" fill="#262626">x (mm)</text>
<text x="35.2" y="383.1" font-size="11.6" text-anchor="middle" font-family="Liberation Sans, Arial, Helvetica, sans-serif" fill="#262626">y (mm)</text>
<text transform="translate(12.3 321) rotate(-90)" font-size="11.6" text-anchor="middle" font-family="Liberation Sans, Arial, Helvetica, sans-serif" fill="#262626">z (mm)</text>
<linearGradient id="cb256" x1="0" y1="0" x2="0" y2="1"><stop offset="0" stop-color="#f9fb0e"/><stop offset="0.048" stop-color="#f5e41d"/><stop offset="0.095" stop-color="#fad32a"/><stop offset="0.143" stop-color="#ffc337"/><stop offset="0.19" stop-color="#f1b94a"/><stop offset="0.238" stop-color="#d9ba56"/><stop offset="0.286" stop-color="#c0bc60"/><stop offset="0.333" stop-color="#a5be6b"/><stop offset="0.381" stop-color="#87bf77"/><stop offset="0.429" stop-color="#65be86"/><stop offset="0.476" stop-color="#42bb98"/><stop offset="0.524" stop-color="#25b5a9"/><stop offset="0.571" stop-color="#0faeb9"/><stop offset="0.619" stop-color="#06a7c6"/><stop offset="0.667" stop-color="#079ccf"/><stop offset="0.714" stop-color="#108ed2"/><stop offset="0.762" stop-color="#1481d6"/><stop offset="0.81" stop-color="#0d75dc"/><stop offset="0.857" stop-color="#0268e1"/><stop offset="0.905" stop-color="#2053d4"/><stop offset="0.952" stop-color="#353dad"/><stop offset="1" stop-color="#352a87"/><stop offset="1" stop-color="#352a87"/></linearGradient>
<rect x="53.7" y="256.3" width="13.4" height="33.2" fill="url(#cb256)" stroke="#4a4a4a" stroke-width="0.5"/>
<text x="49.3" y="261.95" font-size="8.8" text-anchor="end" font-family="Liberation Sans, Arial, Helvetica, sans-serif" fill="#262626">0</text>
<text x="49.3" y="274.75" font-size="8.8" text-anchor="end" font-family="Liberation Sans, Arial, Helvetica, sans-serif" fill="#262626">-1</text>
<text x="49.3" y="287.05" font-size="8.8" text-anchor="end" font-family="Liberation Sans, Arial, Helvetica, sans-serif" fill="#262626">-2</text>
<text x="15.7" y="213.2" font-size="14" text-anchor="middle" font-family="Liberation Serif, Times New Roman, serif" fill="#000">(b)</text>
<clipPath id="cb1"><rect x="320.9" y="202" width="218.2" height="58.9"/></clipPath>
<g clip-path="url(#cb1)">
<polygon points="320.9 204.73 322.7 210.77 324.5 216.34 326.3 221.46 328.2 226.14 330 230.4 331.8 234.26 333.6 237.74 335.4 240.85 337.2 243.61 339 246.04 340.9 248.16 342.7 249.98 344.5 251.51 346.3 252.78 348.1 253.79 349.9 254.56 351.7 255.12 353.6 255.46 355.4 255.61 357.2 255.57 359 255.37 360.8 255.01 362.6 254.5 364.4 253.87 366.3 253.11 368.1 252.25 369.9 251.29 371.7 250.24 373.5 249.12 375.3 247.93 377.1 246.69 379 245.4 380.8 244.07 382.6 242.72 384.4 241.35 386.2 239.96 388 238.58 389.8 237.2 391.7 235.82 393.5 234.47 395.3 233.15 397.1 231.85 398.9 230.6 400.7 229.38 402.5 228.22 404.4 227.1 406.2 226.05 408 225.06 409.8 224.13 411.6 223.28 413.4 222.5 415.2 221.79 417.1 221.17 418.9 220.63 420.7 220.17 422.5 219.79 424.3 219.5 426.1 219.3 427.9 219.19 429.8 219.17 431.6 219.24 433.4 219.39 435.2 219.64 437 219.97 438.8 220.38 440.6 220.89 442.4 221.47 444.3 222.13 446.1 222.88 447.9 223.7 449.7 224.58 451.5 225.54 453.3 226.57 455.1 227.65 457 228.79 458.8 229.98 460.6 231.21 462.4 232.49 464.2 233.8 466 235.14 467.8 236.5 469.7 237.88 471.5 239.27 473.3 240.65 475.1 242.03 476.9 243.4 478.7 244.74 480.5 246.04 482.4 247.31 484.2 248.53 486 249.68 487.8 250.77 489.6 251.78 491.4 252.69 493.2 253.5 495.1 254.2 496.9 254.77 498.7 255.2 500.5 255.49 502.3 255.61 504.1 255.56 505.9 255.31 507.8 254.87 509.6 254.21 511.4 253.32 513.2 252.18 515 250.78 516.8 249.11 518.6 247.15 520.5 244.88 522.3 242.28 524.1 239.35 525.9 236.06 527.7 232.39 529.5 228.34 531.3 223.87 533.2 218.98 535 213.64 536.8 207.83 538.6 201.55 538.6 208.24 536.8 214.53 535 220.34 533.2 225.68 531.3 230.57 529.5 235.03 527.7 239.09 525.9 242.75 524.1 246.05 522.3 248.98 520.5 251.57 518.6 253.84 516.8 255.81 515 257.48 513.2 258.88 511.4 260.02 509.6 260.91 507.8 261.57 505.9 262.01 504.1 262.25 502.3 262.31 500.5 262.19 498.7 261.9 496.9 261.47 495.1 260.9 493.2 260.2 491.4 259.39 489.6 258.47 487.8 257.47 486 256.38 484.2 255.23 482.4 254.01 480.5 252.74 478.7 251.43 476.9 250.09 475.1 248.73 473.3 247.35 471.5 245.96 469.7 244.58 467.8 243.2 466 241.84 464.2 240.5 462.4 239.19 460.6 237.91 458.8 236.68 457 235.49 455.1 234.35 453.3 233.26 451.5 232.24 449.7 231.28 447.9 230.39 446.1 229.58 444.3 228.83 442.4 228.17 440.6 227.58 438.8 227.08 437 226.66 435.2 226.33 433.4 226.09 431.6 225.93 429.8 225.87 427.9 225.89 426.1 226 424.3 226.2 422.5 226.49 420.7 226.86 418.9 227.32 417.1 227.87 415.2 228.49 413.4 229.2 411.6 229.98 409.8 230.83 408 231.76 406.2 232.75 404.4 233.8 402.5 234.91 400.7 236.08 398.9 237.29 397.1 238.55 395.3 239.84 393.5 241.17 391.7 242.52 389.8 243.89 388 245.28 386.2 246.66 384.4 248.05 382.6 249.42 380.8 250.77 379 252.1 377.1 253.39 375.3 254.63 373.5 255.82 371.7 256.94 369.9 257.99 368.1 258.95 366.3 259.81 364.4 260.56 362.6 261.2 360.8 261.7 359 262.06 357.2 262.27 355.4 262.3 353.6 262.16 351.7 261.81 349.9 261.26 348.1 260.49 346.3 259.47 344.5 258.21 342.7 256.67 340.9 254.86 339 252.74 337.2 250.31 335.4 247.54 333.6 244.43 331.8 240.96 330 237.1 328.2 232.84 326.3 228.16 324.5 223.04 322.7 217.47 320.9 211.43" fill="#cdcdcd"/>
<polyline points="320.9 208.08 322.7 214.12 324.5 219.69 326.3 224.81 328.2 229.49 330 233.75 331.8 237.61 333.6 241.08 335.4 244.2 337.2 246.96 339 249.39 340.9 251.51 342.7 253.32 344.5 254.86 346.3 256.12 348.1 257.14 349.9 257.91 351.7 258.47 353.6 258.81 355.4 258.96 357.2 258.92 359 258.72 360.8 258.36 362.6 257.85 364.4 257.22 366.3 256.46 368.1 255.6 369.9 254.64 371.7 253.59 373.5 252.47 375.3 251.28 377.1 250.04 379 248.75 380.8 247.42 382.6 246.07 384.4 244.7 386.2 243.31 388 241.93 389.8 240.54 391.7 239.17 393.5 237.82 395.3 236.5 397.1 235.2 398.9 233.94 400.7 232.73 402.5 231.56 404.4 230.45 406.2 229.4 408 228.41 409.8 227.48 411.6 226.63 413.4 225.85 415.2 225.14 417.1 224.52 418.9 223.98 420.7 223.52 422.5 223.14 424.3 222.85 426.1 222.65 427.9 222.54 429.8 222.52 431.6 222.59 433.4 222.74 435.2 222.98 437 223.32 438.8 223.73 440.6 224.23 442.4 224.82 444.3 225.48 446.1 226.23 447.9 227.04 449.7 227.93 451.5 228.89 453.3 229.91 455.1 231 457 232.14 458.8 233.33 460.6 234.56 462.4 235.84 464.2 237.15 466 238.49 467.8 239.85 469.7 241.23 471.5 242.61 473.3 244 475.1 245.38 476.9 246.74 478.7 248.08 480.5 249.39 482.4 250.66 484.2 251.88 486 253.03 487.8 254.12 489.6 255.12 491.4 256.04 493.2 256.85 495.1 257.55 496.9 258.12 498.7 258.55 500.5 258.84 502.3 258.96 504.1 258.91 505.9 258.66 507.8 258.22 509.6 257.56 511.4 256.67 513.2 255.53 515 254.13 516.8 252.46 518.6 250.5 520.5 248.22 522.3 245.63 524.1 242.7 525.9 239.41 527.7 235.74 529.5 231.69 531.3 227.22 533.2 222.33 535 216.99 536.8 211.18 538.6 204.9" fill="none" stroke="#e0825a" stroke-width="1.3"/>
</g>
<line x1="320.9" y1="204" x2="320.9" y2="260.9" stroke="#4d4d4d" stroke-width="0.7"/>
<line x1="320.9" y1="260.9" x2="538.6" y2="260.9" stroke="#4d4d4d" stroke-width="0.7"/>
<line x1="320.5" y1="260.9" x2="320.5" y2="258.7" stroke="#4d4d4d" stroke-width="0.7"/>
<text x="320.5" y="275.84" font-size="11.0" text-anchor="middle" font-family="Liberation Sans, Arial, Helvetica, sans-serif" fill="#262626">-20</text>
<line x1="374.9" y1="260.9" x2="374.9" y2="258.7" stroke="#4d4d4d" stroke-width="0.7"/>
<text x="374.9" y="275.84" font-size="11.0" text-anchor="middle" font-family="Liberation Sans, Arial, Helvetica, sans-serif" fill="#262626">-10</text>
<line x1="429.3" y1="260.9" x2="429.3" y2="258.7" stroke="#4d4d4d" stroke-width="0.7"/>
<text x="429.3" y="275.84" font-size="11.0" text-anchor="middle" font-family="Liberation Sans, Arial, Helvetica, sans-serif" fill="#262626">0</text>
<line x1="483.7" y1="260.9" x2="483.7" y2="258.7" stroke="#4d4d4d" stroke-width="0.7"/>
<text x="483.7" y="275.84" font-size="11.0" text-anchor="middle" font-family="Liberation Sans, Arial, Helvetica, sans-serif" fill="#262626">10</text>
<line x1="538.1" y1="260.9" x2="538.1" y2="258.7" stroke="#4d4d4d" stroke-width="0.7"/>
<text x="538.1" y="275.84" font-size="11.0" text-anchor="middle" font-family="Liberation Sans, Arial, Helvetica, sans-serif" fill="#262626">20</text>
<line x1="320.9" y1="214.4" x2="323.1" y2="214.4" stroke="#4d4d4d" stroke-width="0.7"/>
<text x="317.3" y="218.34" font-size="11.0" text-anchor="end" font-family="Liberation Sans, Arial, Helvetica, sans-serif" fill="#262626">-0.8</text>
<line x1="320.9" y1="234.1" x2="323.1" y2="234.1" stroke="#4d4d4d" stroke-width="0.7"/>
<text x="317.3" y="238.04" font-size="11.0" text-anchor="end" font-family="Liberation Sans, Arial, Helvetica, sans-serif" fill="#262626">-1</text>
<line x1="320.9" y1="253.8" x2="323.1" y2="253.8" stroke="#4d4d4d" stroke-width="0.7"/>
<text x="317.3" y="257.74" font-size="11.0" text-anchor="end" font-family="Liberation Sans, Arial, Helvetica, sans-serif" fill="#262626">-1.2</text>
<text x="430" y="292" font-size="12.1" text-anchor="middle" font-family="Liberation Sans, Arial, Helvetica, sans-serif" fill="#262626">x (mm)</text>
<text transform="translate(293.6 232.4) rotate(-90)" font-size="12.5" text-anchor="middle" font-family="Liberation Sans, Arial, Helvetica, sans-serif" fill="#262626">z (mm)</text>
<clipPath id="cb2"><rect x="320.9" y="304.5" width="218.2" height="58.3"/></clipPath>
<g clip-path="url(#cb2)">
<polygon points="320.9 372.61 322.7 372.36 324.5 372.01 326.3 371.57 328.2 371.03 330 370.41 331.8 369.71 333.6 368.94 335.4 368.09 337.2 367.19 339 366.22 340.9 365.2 342.7 364.12 344.5 363 346.3 361.84 348.1 360.64 349.9 359.41 351.7 358.15 353.6 356.87 355.4 355.56 357.2 354.24 359 352.9 360.8 351.56 362.6 350.21 364.4 348.85 366.3 347.5 368.1 346.15 369.9 344.8 371.7 343.47 373.5 342.15 375.3 340.85 377.1 339.56 379 338.3 380.8 337.06 382.6 335.84 384.4 334.66 386.2 333.51 388 332.39 389.8 331.3 391.7 330.26 393.5 329.25 395.3 328.28 397.1 327.36 398.9 326.48 400.7 325.65 402.5 324.87 404.4 324.14 406.2 323.45 408 322.82 409.8 322.24 411.6 321.71 413.4 321.24 415.2 320.83 417.1 320.47 418.9 320.16 420.7 319.92 422.5 319.73 424.3 319.6 426.1 319.52 427.9 319.51 429.8 319.55 431.6 319.65 433.4 319.81 435.2 320.03 437 320.3 438.8 320.63 440.6 321.02 442.4 321.46 444.3 321.96 446.1 322.51 447.9 323.12 449.7 323.77 451.5 324.48 453.3 325.24 455.1 326.05 457 326.9 458.8 327.8 460.6 328.74 462.4 329.73 464.2 330.75 466 331.82 467.8 332.92 469.7 334.06 471.5 335.22 473.3 336.42 475.1 337.65 476.9 338.9 478.7 340.18 480.5 341.47 482.4 342.78 484.2 344.11 486 345.45 487.8 346.79 489.6 348.15 491.4 349.5 493.2 350.86 495.1 352.21 496.9 353.55 498.7 354.88 500.5 356.19 502.3 357.49 504.1 358.76 505.9 360.01 507.8 361.22 509.6 362.41 511.4 363.55 513.2 364.64 515 365.69 516.8 366.69 518.6 367.63 520.5 368.51 522.3 369.32 524.1 370.06 525.9 370.72 527.7 371.3 529.5 371.79 531.3 372.19 533.2 372.49 535 372.69 536.8 372.78 538.6 372.76 538.6 384.28 536.8 384.3 535 384.21 533.2 384.01 531.3 383.71 529.5 383.31 527.7 382.82 525.9 382.24 524.1 381.58 522.3 380.84 520.5 380.03 518.6 379.15 516.8 378.21 515 377.21 513.2 376.16 511.4 375.07 509.6 373.93 507.8 372.74 505.9 371.53 504.1 370.28 502.3 369.01 500.5 367.71 498.7 366.4 496.9 365.07 495.1 363.73 493.2 362.38 491.4 361.02 489.6 359.67 487.8 358.31 486 356.97 484.2 355.63 482.4 354.3 480.5 352.99 478.7 351.7 476.9 350.42 475.1 349.17 473.3 347.94 471.5 346.74 469.7 345.58 467.8 344.44 466 343.34 464.2 342.27 462.4 341.25 460.6 340.26 458.8 339.32 457 338.42 455.1 337.57 453.3 336.76 451.5 336 449.7 335.29 447.9 334.64 446.1 334.03 444.3 333.48 442.4 332.98 440.6 332.54 438.8 332.15 437 331.82 435.2 331.55 433.4 331.33 431.6 331.17 429.8 331.07 427.9 331.03 426.1 331.04 424.3 331.12 422.5 331.25 420.7 331.44 418.9 331.68 417.1 331.99 415.2 332.35 413.4 332.76 411.6 333.23 409.8 333.76 408 334.34 406.2 334.97 404.4 335.66 402.5 336.39 400.7 337.17 398.9 338 397.1 338.88 395.3 339.8 393.5 340.77 391.7 341.78 389.8 342.82 388 343.91 386.2 345.03 384.4 346.18 382.6 347.36 380.8 348.58 379 349.82 377.1 351.08 375.3 352.37 373.5 353.67 371.7 354.99 369.9 356.32 368.1 357.67 366.3 359.02 364.4 360.37 362.6 361.73 360.8 363.08 359 364.42 357.2 365.76 355.4 367.08 353.6 368.39 351.7 369.67 349.9 370.93 348.1 372.16 346.3 373.36 344.5 374.52 342.7 375.64 340.9 376.72 339 377.74 337.2 378.71 335.4 379.61 333.6 380.46 331.8 381.23 330 381.93 328.2 382.55 326.3 383.09 324.5 383.53 322.7 383.88 320.9 384.13" fill="#cdcdcd"/>
<polyline points="320.9 378.37 322.7 378.12 324.5 377.77 326.3 377.33 328.2 376.79 330 376.17 331.8 375.47 333.6 374.7 335.4 373.85 337.2 372.95 339 371.98 340.9 370.96 342.7 369.88 344.5 368.76 346.3 367.6 348.1 366.4 349.9 365.17 351.7 363.91 353.6 362.63 355.4 361.32 357.2 360 359 358.66 360.8 357.32 362.6 355.97 364.4 354.61 366.3 353.26 368.1 351.91 369.9 350.56 371.7 349.23 373.5 347.91 375.3 346.61 377.1 345.32 379 344.06 380.8 342.82 382.6 341.6 384.4 340.42 386.2 339.27 388 338.15 389.8 337.06 391.7 336.02 393.5 335.01 395.3 334.04 397.1 333.12 398.9 332.24 400.7 331.41 402.5 330.63 404.4 329.9 406.2 329.21 408 328.58 409.8 328 411.6 327.47 413.4 327 415.2 326.59 417.1 326.23 418.9 325.92 420.7 325.68 422.5 325.49 424.3 325.36 426.1 325.28 427.9 325.27 429.8 325.31 431.6 325.41 433.4 325.57 435.2 325.79 437 326.06 438.8 326.39 440.6 326.78 442.4 327.22 444.3 327.72 446.1 328.27 447.9 328.88 449.7 329.53 451.5 330.24 453.3 331 455.1 331.81 457 332.66 458.8 333.56 460.6 334.5 462.4 335.49 464.2 336.51 466 337.58 467.8 338.68 469.7 339.82 471.5 340.98 473.3 342.18 475.1 343.41 476.9 344.66 478.7 345.94 480.5 347.23 482.4 348.54 484.2 349.87 486 351.21 487.8 352.55 489.6 353.91 491.4 355.26 493.2 356.62 495.1 357.97 496.9 359.31 498.7 360.64 500.5 361.95 502.3 363.25 504.1 364.52 505.9 365.77 507.8 366.98 509.6 368.17 511.4 369.31 513.2 370.4 515 371.45 516.8 372.45 518.6 373.39 520.5 374.27 522.3 375.08 524.1 375.82 525.9 376.48 527.7 377.06 529.5 377.55 531.3 377.95 533.2 378.25 535 378.45 536.8 378.54 538.6 378.52" fill="none" stroke="#e0825a" stroke-width="1.1"/>
</g>
<line x1="320.9" y1="306.5" x2="320.9" y2="362.8" stroke="#4d4d4d" stroke-width="0.7"/>
<line x1="320.9" y1="362.8" x2="538.6" y2="362.8" stroke="#4d4d4d" stroke-width="0.7"/>
<line x1="346.1" y1="362.8" x2="346.1" y2="360.6" stroke="#4d4d4d" stroke-width="0.7"/>
<text x="346.1" y="378.74" font-size="11.0" text-anchor="middle" font-family="Liberation Sans, Arial, Helvetica, sans-serif" fill="#262626">-10</text>
<line x1="386.8" y1="362.8" x2="386.8" y2="360.6" stroke="#4d4d4d" stroke-width="0.7"/>
<text x="386.8" y="378.74" font-size="11.0" text-anchor="middle" font-family="Liberation Sans, Arial, Helvetica, sans-serif" fill="#262626">-5</text>
<line x1="427.5" y1="362.8" x2="427.5" y2="360.6" stroke="#4d4d4d" stroke-width="0.7"/>
<text x="427.5" y="378.74" font-size="11.0" text-anchor="middle" font-family="Liberation Sans, Arial, Helvetica, sans-serif" fill="#262626">0</text>
<line x1="468.2" y1="362.8" x2="468.2" y2="360.6" stroke="#4d4d4d" stroke-width="0.7"/>
<text x="468.2" y="378.74" font-size="11.0" text-anchor="middle" font-family="Liberation Sans, Arial, Helvetica, sans-serif" fill="#262626">5</text>
<line x1="508.9" y1="362.8" x2="508.9" y2="360.6" stroke="#4d4d4d" stroke-width="0.7"/>
<text x="508.9" y="378.74" font-size="11.0" text-anchor="middle" font-family="Liberation Sans, Arial, Helvetica, sans-serif" fill="#262626">10</text>
<line x1="320.9" y1="313.4" x2="323.1" y2="313.4" stroke="#4d4d4d" stroke-width="0.7"/>
<text x="317.3" y="317.34" font-size="11.0" text-anchor="end" font-family="Liberation Sans, Arial, Helvetica, sans-serif" fill="#262626">-0.8</text>
<line x1="320.9" y1="342.2" x2="323.1" y2="342.2" stroke="#4d4d4d" stroke-width="0.7"/>
<text x="317.3" y="346.14" font-size="11.0" text-anchor="end" font-family="Liberation Sans, Arial, Helvetica, sans-serif" fill="#262626">-1</text>
<text x="427.5" y="392.5" font-size="12.1" text-anchor="middle" font-family="Liberation Sans, Arial, Helvetica, sans-serif" fill="#262626">x (mm)</text>
<text transform="translate(293.6 335) rotate(-90)" font-size="12.5" text-anchor="middle" font-family="Liberation Sans, Arial, Helvetica, sans-serif" fill="#262626">z (mm)</text>
<rect x="468.2" y="283.8" width="68" height="27.3" fill="#fff" stroke="#444" stroke-width="0.7"/>
<rect x="470.7" y="286.3" width="14.6" height="9.4" fill="#cdcdcd"/>
<text x="487.2" y="295.7" font-size="9.4" text-anchor="start" font-family="Liberation Sans, Arial, Helvetica, sans-serif" fill="#111">uncertainty</text>
<line x1="470.7" y1="304.1" x2="485.3" y2="304.1" stroke="#e0825a" stroke-width="1.2"/>
<text x="487.2" y="307.8" font-size="9.4" text-anchor="start" font-family="Liberation Sans, Arial, Helvetica, sans-serif" fill="#111">mean</text>
<rect x="422.4" y="212.2" width="18.4" height="17.8" fill="none" stroke="#f00" stroke-width="1.3"/>
<line x1="422.4" y1="230" x2="339" y2="356.9" stroke="#f00" stroke-width="1.15" stroke-dasharray="12.4 4.6"/>
<line x1="440.8" y1="230" x2="519.1" y2="348.5" stroke="#f00" stroke-width="1.15" stroke-dasharray="12.4 4.6"/>
<line x1="427.8" y1="299.9" x2="427.8" y2="311.6" stroke="#000" stroke-width="1.4"/>
<polygon points="425.3,308 427.8,309.4 430.3,308 427.8,315.6" fill="#000"/>
<line x1="427.8" y1="348.8" x2="427.8" y2="336.5" stroke="#000" stroke-width="1.4"/>
<polygon points="425.3,340.1 427.8,338.7 430.3,340.1 427.8,332.5" fill="#000"/>
<text x="374.6" y="315.6" font-size="12.0" text-anchor="start" font-family="Liberation Serif, Times New Roman, serif" fill="#000">±0.03 mm</text>
</svg></body></html>
